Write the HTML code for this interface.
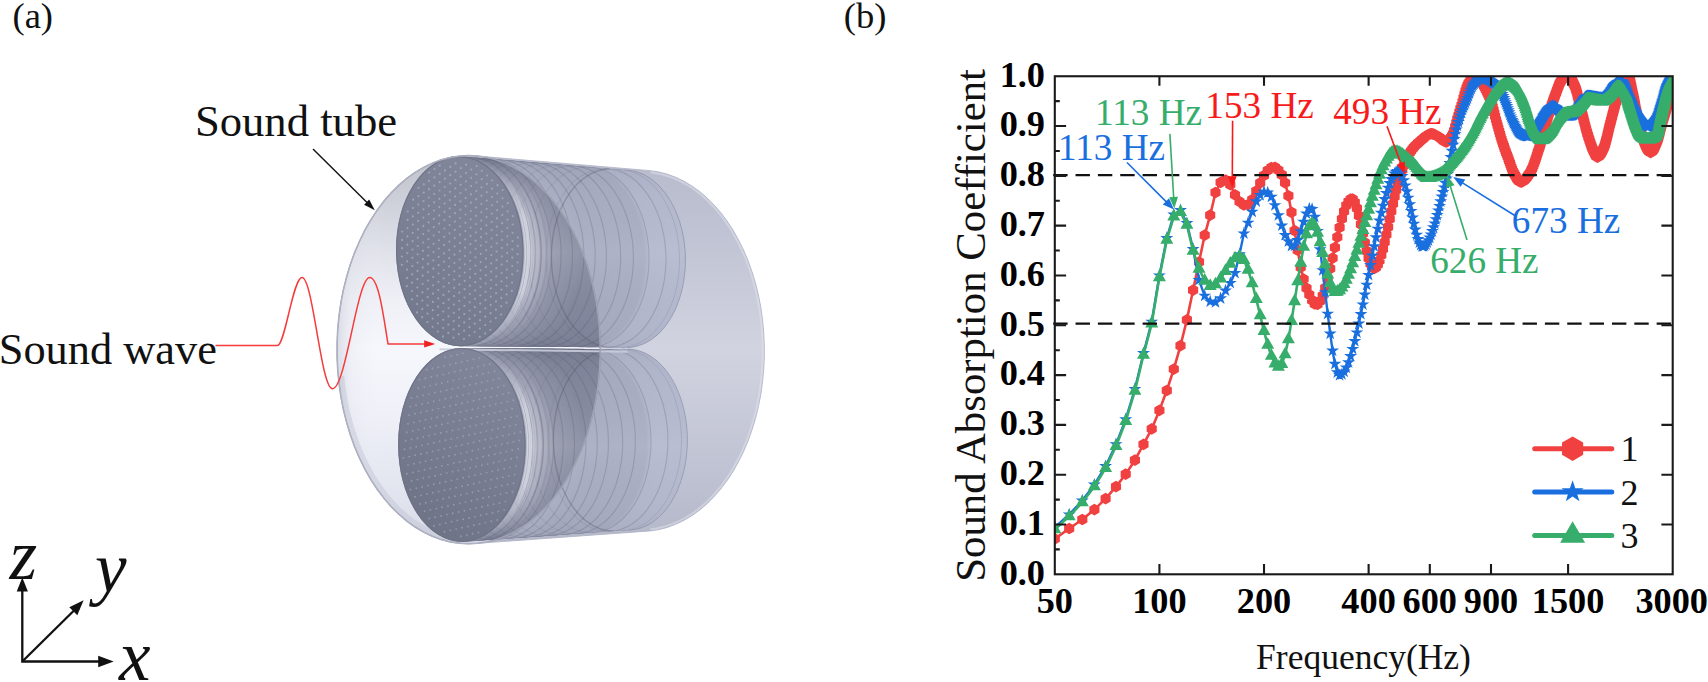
<!DOCTYPE html>
<html lang="en"><head><meta charset="utf-8"><title>Figure</title>
<style>
html,body{margin:0;padding:0;background:#fff;}
body{width:1708px;height:682px;overflow:hidden;}
svg{display:block;}
text{font-family:"Liberation Serif","DejaVu Serif",serif;}
</style></head><body>
<svg width="1708" height="682" viewBox="0 0 1708 682">
<rect width="1708" height="682" fill="#fff"/>
<g id="panel-a">
<defs>
<linearGradient id="gOuter" x1="0" y1="155" x2="0" y2="545" gradientUnits="userSpaceOnUse"><stop offset="0" stop-color="#b7bacb"/><stop offset="0.2" stop-color="#c0c3d3"/><stop offset="0.5" stop-color="#d1d3e0"/><stop offset="0.8" stop-color="#c0c3d3"/><stop offset="1" stop-color="#b4b7c8"/></linearGradient>
<linearGradient id="gCap" x1="0" y1="155" x2="0" y2="545" gradientUnits="userSpaceOnUse"><stop offset="0" stop-color="#bfc1ca"/><stop offset="0.115" stop-color="#cdd0d9"/><stop offset="0.24" stop-color="#dfe1e9"/><stop offset="0.37" stop-color="#eff0f6"/><stop offset="0.5" stop-color="#f6f7fc"/><stop offset="0.63" stop-color="#f1f2f9"/><stop offset="0.755" stop-color="#e9ebf4"/><stop offset="0.885" stop-color="#e1e3ee"/><stop offset="1" stop-color="#d6d8e4"/></linearGradient>
<linearGradient id="gCapX" x1="337" y1="0" x2="385" y2="0" gradientUnits="userSpaceOnUse"><stop offset="0" stop-color="#b9bccb" stop-opacity="0.45"/><stop offset="0.3" stop-color="#d3d6e2" stop-opacity="0.18"/><stop offset="1" stop-color="#ffffff" stop-opacity="0"/></linearGradient>
<linearGradient id="gBody" x1="520" y1="0" x2="690" y2="0" gradientUnits="userSpaceOnUse"><stop offset="0" stop-color="#9498ad"/><stop offset="0.45" stop-color="#9da2b8"/><stop offset="1" stop-color="#a9aec4"/></linearGradient>
<linearGradient id="gBodyVt" x1="0" y1="156" x2="0" y2="348" gradientUnits="userSpaceOnUse"><stop offset="0" stop-color="#454a60" stop-opacity="0.45"/><stop offset="0.07" stop-color="#50556a" stop-opacity="0.25"/><stop offset="0.22" stop-color="#6d7288" stop-opacity="0.06"/><stop offset="0.5" stop-color="#ffffff" stop-opacity="0.10"/><stop offset="0.78" stop-color="#6d7288" stop-opacity="0.06"/><stop offset="0.93" stop-color="#50556a" stop-opacity="0.11"/><stop offset="1" stop-color="#454a60" stop-opacity="0.20"/></linearGradient>
<linearGradient id="gBodyVb" x1="0" y1="348" x2="0" y2="544" gradientUnits="userSpaceOnUse"><stop offset="0" stop-color="#454a60" stop-opacity="0.25"/><stop offset="0.07" stop-color="#50556a" stop-opacity="0.14"/><stop offset="0.22" stop-color="#6d7288" stop-opacity="0.06"/><stop offset="0.5" stop-color="#ffffff" stop-opacity="0.10"/><stop offset="0.78" stop-color="#6d7288" stop-opacity="0.06"/><stop offset="0.93" stop-color="#50556a" stop-opacity="0.23"/><stop offset="1" stop-color="#454a60" stop-opacity="0.42"/></linearGradient>
<linearGradient id="gHit" x1="0" y1="172" x2="0" y2="338" gradientUnits="userSpaceOnUse"><stop offset="0" stop-color="#eef0f8" stop-opacity="0"/><stop offset="0.28" stop-color="#eef0f8" stop-opacity="1"/><stop offset="0.72" stop-color="#eef0f8" stop-opacity="1"/><stop offset="1" stop-color="#eef0f8" stop-opacity="0"/></linearGradient>
<linearGradient id="gHib" x1="0" y1="362" x2="0" y2="532" gradientUnits="userSpaceOnUse"><stop offset="0" stop-color="#eef0f8" stop-opacity="0"/><stop offset="0.28" stop-color="#eef0f8" stop-opacity="1"/><stop offset="0.72" stop-color="#eef0f8" stop-opacity="1"/><stop offset="1" stop-color="#eef0f8" stop-opacity="0"/></linearGradient>
<linearGradient id="gFacet" x1="410" y1="320" x2="510" y2="180" gradientUnits="userSpaceOnUse"><stop offset="0" stop-color="#747a8d"/><stop offset="1" stop-color="#82869b"/></linearGradient>
<linearGradient id="gFaceb" x1="410" y1="520" x2="515" y2="375" gradientUnits="userSpaceOnUse"><stop offset="0" stop-color="#6e7386"/><stop offset="1" stop-color="#82869b"/></linearGradient>
<clipPath id="cFront"><path d="M468.6 155.6L477.8 156.1L486.9 157.5L496.0 159.8L504.9 163.1L513.6 167.3L522.1 172.4L530.4 178.3L538.3 185.1L546.0 192.7L553.2 201.0L560.0 210.1L566.4 219.8L572.3 230.2L577.7 241.2L582.6 252.6L586.9 264.6L590.6 277.0L593.8 289.7L596.3 302.7L598.2 316.0L599.5 329.4L600.1 342.9L600.1 356.5L599.5 370.0L598.2 383.4L596.3 396.7L593.8 409.7L590.6 422.4L586.9 434.8L582.6 446.7L577.7 458.2L572.3 469.2L566.4 479.6L560.0 489.3L553.2 498.4L546.0 506.7L538.3 514.3L530.4 521.1L522.1 527.0L513.6 532.1L504.9 536.3L496.0 539.6L486.9 541.9L477.8 543.3L468.6 543.8L459.4 543.3L450.3 541.9L441.2 539.6L432.3 536.3L423.6 532.1L415.1 527.0L406.8 521.1L398.9 514.3L391.2 506.7L384.0 498.4L377.2 489.3L370.8 479.6L364.9 469.2L359.5 458.2L354.6 446.8L350.3 434.8L346.6 422.4L343.4 409.7L340.9 396.7L339.0 383.4L337.7 370.0L337.1 356.5L337.1 342.9L337.7 329.4L339.0 316.0L340.9 302.7L343.4 289.7L346.6 277.0L350.3 264.6L354.6 252.6L359.5 241.2L364.9 230.2L370.8 219.8L377.2 210.1L384.0 201.0L391.2 192.7L398.9 185.1L406.8 178.3L415.1 172.4L423.6 167.3L432.3 163.1L441.2 159.8L450.3 157.5L459.4 156.1L468.6 155.6Z"/></clipPath>
<clipPath id="cTopFace"><path d="M458.1 156.2L462.6 156.4L467.0 157.0L471.4 158.1L475.8 159.6L480.0 161.6L484.2 164.0L488.2 166.8L492.1 170.1L495.9 173.7L499.5 177.7L502.9 182.1L506.0 186.8L509.0 191.8L511.7 197.2L514.1 202.7L516.3 208.6L518.2 214.6L519.9 220.8L521.2 227.1L522.2 233.6L523.0 240.2L523.4 246.8L523.5 253.4L523.3 260.0L522.8 266.6L522.0 273.1L520.9 279.5L519.5 285.8L517.8 291.8L515.8 297.7L513.5 303.4L511.0 308.8L508.2 313.9L505.2 318.8L502.0 323.2L498.6 327.4L495.0 331.2L491.2 334.5L487.2 337.5L483.1 340.1L478.9 342.2L474.7 343.9L470.3 345.1L465.9 345.9L461.5 346.2L457.0 346.0L452.6 345.4L448.2 344.3L443.8 342.8L439.6 340.8L435.4 338.4L431.4 335.6L427.5 332.3L423.7 328.7L420.1 324.7L416.7 320.3L413.6 315.6L410.6 310.6L407.9 305.2L405.5 299.7L403.3 293.8L401.4 287.8L399.7 281.6L398.4 275.3L397.4 268.8L396.6 262.2L396.2 255.6L396.1 249.0L396.3 242.4L396.8 235.8L397.6 229.3L398.7 222.9L400.1 216.6L401.8 210.6L403.8 204.7L406.1 199.0L408.6 193.6L411.4 188.5L414.4 183.6L417.6 179.2L421.0 175.0L424.6 171.2L428.4 167.9L432.4 164.9L436.5 162.3L440.7 160.2L444.9 158.5L449.3 157.3L453.7 156.5L458.1 156.2Z"/></clipPath>
<clipPath id="cBotFace"><path d="M461.4 348.0L465.8 348.2L470.3 348.9L474.6 350.0L479.0 351.7L483.2 353.7L487.3 356.2L491.4 359.2L495.2 362.5L498.9 366.3L502.5 370.5L505.8 375.0L508.9 379.8L511.8 385.0L514.4 390.4L516.8 396.2L518.9 402.1L520.8 408.3L522.3 414.6L523.6 421.1L524.5 427.7L525.2 434.4L525.5 441.2L525.6 447.9L525.3 454.7L524.7 461.4L523.8 468.0L522.6 474.5L521.2 480.9L519.4 487.1L517.3 493.1L515.0 498.8L512.4 504.3L509.6 509.5L506.5 514.4L503.2 518.9L499.8 523.1L496.1 526.9L492.3 530.3L488.3 533.3L484.2 535.8L479.9 538.0L475.6 539.6L471.3 540.8L466.8 541.5L462.4 541.8L458.0 541.6L453.5 540.9L449.2 539.8L444.8 538.1L440.6 536.1L436.5 533.6L432.4 530.6L428.6 527.3L424.9 523.5L421.3 519.3L418.0 514.8L414.9 510.0L412.0 504.8L409.4 499.4L407.0 493.6L404.9 487.7L403.0 481.5L401.5 475.2L400.2 468.7L399.3 462.1L398.6 455.4L398.3 448.6L398.2 441.9L398.5 435.1L399.1 428.4L400.0 421.8L401.2 415.3L402.6 408.9L404.4 402.7L406.5 396.7L408.8 391.0L411.4 385.5L414.2 380.3L417.3 375.4L420.6 370.9L424.0 366.7L427.7 362.9L431.5 359.5L435.5 356.5L439.6 354.0L443.9 351.8L448.2 350.2L452.5 349.0L457.0 348.3L461.4 348.0Z"/></clipPath>
<clipPath id="cBodyT"><path d="M458.1 156.2L462.6 156.4L628.6 170.3L632.7 170.9L636.8 171.9L640.9 173.3L644.9 175.2L648.7 177.4L652.5 180.1L656.2 183.1L659.7 186.5L663.0 190.3L666.2 194.4L669.1 198.8L671.9 203.4L674.4 208.4L676.7 213.6L678.7 219.0L680.5 224.7L682.0 230.5L683.3 236.4L684.2 242.4L684.9 248.5L685.3 254.7L685.4 260.9L685.3 267.1L684.8 273.2L684.0 279.3L683.0 285.2L681.7 291.1L680.1 296.8L678.2 302.3L676.1 307.5L673.8 312.6L671.2 317.4L668.4 321.9L665.4 326.1L662.2 329.9L658.8 333.5L655.3 336.6L651.6 339.4L647.8 341.8L643.9 343.8L639.9 345.3L635.8 346.5L631.7 347.2L627.5 347.5L461.5 346.2L457.0 346.0L452.6 345.4L448.2 344.3L443.8 342.8L439.6 340.8L435.4 338.4L431.4 335.6L427.5 332.3L423.7 328.7L420.1 324.7L416.7 320.3L413.6 315.6L410.6 310.6L407.9 305.2L405.5 299.7L403.3 293.8L401.4 287.8L399.7 281.6L398.4 275.3L397.4 268.8L396.6 262.2L396.2 255.6L396.1 249.0L396.3 242.4L396.8 235.8L397.6 229.3L398.7 222.9L400.1 216.6L401.8 210.6L403.8 204.7L406.1 199.0L408.6 193.6L411.4 188.5L414.4 183.6L417.6 179.2L421.0 175.0L424.6 171.2L428.4 167.9L432.4 164.9L436.5 162.3L440.7 160.2L444.9 158.5L449.3 157.3L453.7 156.5Z"/></clipPath>
<clipPath id="cBodyB"><path d="M461.4 348.0L627.5 349.2L631.6 349.4L635.7 350.0L639.8 351.1L643.9 352.6L647.8 354.5L651.7 356.9L655.4 359.6L659.0 362.7L662.5 366.3L665.8 370.1L668.9 374.3L671.8 378.9L674.5 383.7L677.0 388.8L679.2 394.1L681.2 399.7L682.9 405.4L684.3 411.3L685.5 417.4L686.4 423.6L687.0 429.8L687.3 436.1L687.4 442.4L687.1 448.7L686.6 455.0L685.7 461.2L684.6 467.2L683.2 473.2L681.6 478.9L679.7 484.5L677.5 489.9L675.1 495.0L672.4 499.9L669.6 504.4L666.5 508.7L663.3 512.6L659.8 516.1L656.3 519.3L652.6 522.1L648.7 524.4L644.8 526.4L640.8 528.0L636.7 529.1L632.6 529.8L466.8 541.5L462.4 541.8L458.0 541.6L453.5 540.9L449.2 539.8L444.8 538.1L440.6 536.1L436.5 533.6L432.4 530.6L428.6 527.3L424.9 523.5L421.3 519.3L418.0 514.8L414.9 510.0L412.0 504.8L409.4 499.4L407.0 493.6L404.9 487.7L403.0 481.5L401.5 475.2L400.2 468.7L399.3 462.1L398.6 455.4L398.3 448.6L398.2 441.9L398.5 435.1L399.1 428.4L400.0 421.8L401.2 415.3L402.6 408.9L404.4 402.7L406.5 396.7L408.8 391.0L411.4 385.5L414.2 380.3L417.3 375.4L420.6 370.9L424.0 366.7L427.7 362.9L431.5 359.5L435.5 356.5L439.6 354.0L443.9 351.8L448.2 350.2L452.5 349.0L457.0 348.3Z"/></clipPath>
<clipPath id="cBodies"><path d="M458.1 156.2L462.6 156.4L628.6 170.3L632.7 170.9L636.8 171.9L640.9 173.3L644.9 175.2L648.7 177.4L652.5 180.1L656.2 183.1L659.7 186.5L663.0 190.3L666.2 194.4L669.1 198.8L671.9 203.4L674.4 208.4L676.7 213.6L678.7 219.0L680.5 224.7L682.0 230.5L683.3 236.4L684.2 242.4L684.9 248.5L685.3 254.7L685.4 260.9L685.3 267.1L684.8 273.2L684.0 279.3L683.0 285.2L681.7 291.1L680.1 296.8L678.2 302.3L676.1 307.5L673.8 312.6L671.2 317.4L668.4 321.9L665.4 326.1L662.2 329.9L658.8 333.5L655.3 336.6L651.6 339.4L647.8 341.8L643.9 343.8L639.9 345.3L635.8 346.5L631.7 347.2L627.5 347.5L461.5 346.2L457.0 346.0L452.6 345.4L448.2 344.3L443.8 342.8L439.6 340.8L435.4 338.4L431.4 335.6L427.5 332.3L423.7 328.7L420.1 324.7L416.7 320.3L413.6 315.6L410.6 310.6L407.9 305.2L405.5 299.7L403.3 293.8L401.4 287.8L399.7 281.6L398.4 275.3L397.4 268.8L396.6 262.2L396.2 255.6L396.1 249.0L396.3 242.4L396.8 235.8L397.6 229.3L398.7 222.9L400.1 216.6L401.8 210.6L403.8 204.7L406.1 199.0L408.6 193.6L411.4 188.5L414.4 183.6L417.6 179.2L421.0 175.0L424.6 171.2L428.4 167.9L432.4 164.9L436.5 162.3L440.7 160.2L444.9 158.5L449.3 157.3L453.7 156.5Z"/><path d="M461.4 348.0L627.5 349.2L631.6 349.4L635.7 350.0L639.8 351.1L643.9 352.6L647.8 354.5L651.7 356.9L655.4 359.6L659.0 362.7L662.5 366.3L665.8 370.1L668.9 374.3L671.8 378.9L674.5 383.7L677.0 388.8L679.2 394.1L681.2 399.7L682.9 405.4L684.3 411.3L685.5 417.4L686.4 423.6L687.0 429.8L687.3 436.1L687.4 442.4L687.1 448.7L686.6 455.0L685.7 461.2L684.6 467.2L683.2 473.2L681.6 478.9L679.7 484.5L677.5 489.9L675.1 495.0L672.4 499.9L669.6 504.4L666.5 508.7L663.3 512.6L659.8 516.1L656.3 519.3L652.6 522.1L648.7 524.4L644.8 526.4L640.8 528.0L636.7 529.1L632.6 529.8L466.8 541.5L462.4 541.8L458.0 541.6L453.5 540.9L449.2 539.8L444.8 538.1L440.6 536.1L436.5 533.6L432.4 530.6L428.6 527.3L424.9 523.5L421.3 519.3L418.0 514.8L414.9 510.0L412.0 504.8L409.4 499.4L407.0 493.6L404.9 487.7L403.0 481.5L401.5 475.2L400.2 468.7L399.3 462.1L398.6 455.4L398.3 448.6L398.2 441.9L398.5 435.1L399.1 428.4L400.0 421.8L401.2 415.3L402.6 408.9L404.4 402.7L406.5 396.7L408.8 391.0L411.4 385.5L414.2 380.3L417.3 375.4L420.6 370.9L424.0 366.7L427.7 362.9L431.5 359.5L435.5 356.5L439.6 354.0L443.9 351.8L448.2 350.2L452.5 349.0L457.0 348.3Z"/></clipPath>
</defs>
<path d="M477.8 543.3L468.6 543.8L459.4 543.3L450.3 541.9L441.2 539.6L432.3 536.3L423.6 532.1L415.1 527.0L406.8 521.1L398.9 514.3L391.2 506.7L384.0 498.4L377.2 489.3L370.8 479.6L364.9 469.2L359.5 458.2L354.6 446.8L350.3 434.8L346.6 422.4L343.4 409.7L340.9 396.7L339.0 383.4L337.7 370.0L337.1 356.5L337.1 342.9L337.7 329.4L339.0 316.0L340.9 302.7L343.4 289.7L346.6 277.0L350.3 264.6L354.6 252.6L359.5 241.2L364.9 230.2L370.8 219.8L377.2 210.1L384.0 201.0L391.2 192.7L398.9 185.1L406.8 178.3L415.1 172.4L423.6 167.3L432.3 163.1L441.2 159.8L450.3 157.5L459.4 156.1L468.6 155.6L477.8 156.1L650.5 170.7L659.0 172.0L667.4 174.2L675.7 177.3L683.9 181.2L691.8 185.9L699.5 191.4L706.9 197.7L713.9 204.8L720.7 212.5L727.0 220.9L733.0 230.0L738.4 239.7L743.5 249.9L748.0 260.5L752.0 271.7L755.5 283.2L758.4 295.0L760.8 307.1L762.5 319.5L763.7 331.9L764.3 344.5L764.3 357.1L763.7 369.7L762.5 382.1L760.8 394.5L758.4 406.6L755.5 418.4L752.0 429.9L748.0 441.1L743.5 451.7L738.4 461.9L733.0 471.6L727.0 480.7L720.7 489.1L713.9 496.8L706.9 503.9L699.5 510.2L691.8 515.7L683.9 520.4L675.7 524.3L667.4 527.4L659.0 529.6L650.5 530.9Z" fill="url(#gOuter)"/>
<path d="M468.6 155.6L477.8 156.1L486.9 157.5L496.0 159.8L504.9 163.1L513.6 167.3L522.1 172.4L530.4 178.3L538.3 185.1L546.0 192.7L553.2 201.0L560.0 210.1L566.4 219.8L572.3 230.2L577.7 241.2L582.6 252.6L586.9 264.6L590.6 277.0L593.8 289.7L596.3 302.7L598.2 316.0L599.5 329.4L600.1 342.9L600.1 356.5L599.5 370.0L598.2 383.4L596.3 396.7L593.8 409.7L590.6 422.4L586.9 434.8L582.6 446.7L577.7 458.2L572.3 469.2L566.4 479.6L560.0 489.3L553.2 498.4L546.0 506.7L538.3 514.3L530.4 521.1L522.1 527.0L513.6 532.1L504.9 536.3L496.0 539.6L486.9 541.9L477.8 543.3L468.6 543.8L459.4 543.3L450.3 541.9L441.2 539.6L432.3 536.3L423.6 532.1L415.1 527.0L406.8 521.1L398.9 514.3L391.2 506.7L384.0 498.4L377.2 489.3L370.8 479.6L364.9 469.2L359.5 458.2L354.6 446.8L350.3 434.8L346.6 422.4L343.4 409.7L340.9 396.7L339.0 383.4L337.7 370.0L337.1 356.5L337.1 342.9L337.7 329.4L339.0 316.0L340.9 302.7L343.4 289.7L346.6 277.0L350.3 264.6L354.6 252.6L359.5 241.2L364.9 230.2L370.8 219.8L377.2 210.1L384.0 201.0L391.2 192.7L398.9 185.1L406.8 178.3L415.1 172.4L423.6 167.3L432.3 163.1L441.2 159.8L450.3 157.5L459.4 156.1L468.6 155.6Z" fill="url(#gCap)"/>
<path d="M468.6 155.6L477.8 156.1L486.9 157.5L496.0 159.8L504.9 163.1L513.6 167.3L522.1 172.4L530.4 178.3L538.3 185.1L546.0 192.7L553.2 201.0L560.0 210.1L566.4 219.8L572.3 230.2L577.7 241.2L582.6 252.6L586.9 264.6L590.6 277.0L593.8 289.7L596.3 302.7L598.2 316.0L599.5 329.4L600.1 342.9L600.1 356.5L599.5 370.0L598.2 383.4L596.3 396.7L593.8 409.7L590.6 422.4L586.9 434.8L582.6 446.7L577.7 458.2L572.3 469.2L566.4 479.6L560.0 489.3L553.2 498.4L546.0 506.7L538.3 514.3L530.4 521.1L522.1 527.0L513.6 532.1L504.9 536.3L496.0 539.6L486.9 541.9L477.8 543.3L468.6 543.8L459.4 543.3L450.3 541.9L441.2 539.6L432.3 536.3L423.6 532.1L415.1 527.0L406.8 521.1L398.9 514.3L391.2 506.7L384.0 498.4L377.2 489.3L370.8 479.6L364.9 469.2L359.5 458.2L354.6 446.8L350.3 434.8L346.6 422.4L343.4 409.7L340.9 396.7L339.0 383.4L337.7 370.0L337.1 356.5L337.1 342.9L337.7 329.4L339.0 316.0L340.9 302.7L343.4 289.7L346.6 277.0L350.3 264.6L354.6 252.6L359.5 241.2L364.9 230.2L370.8 219.8L377.2 210.1L384.0 201.0L391.2 192.7L398.9 185.1L406.8 178.3L415.1 172.4L423.6 167.3L432.3 163.1L441.2 159.8L450.3 157.5L459.4 156.1L468.6 155.6Z" fill="url(#gCapX)"/>
<path d="M461.9 540.5L458.3 540.2L454.8 539.7L451.3 539.1L447.8 538.3L444.3 537.4L440.8 536.3L437.4 535.1L433.9 533.7L430.5 532.2L427.2 530.6L423.8 528.8L420.5 526.9L417.2 524.9L414.0 522.7L410.8 520.4L407.7 518.0L404.6 515.4L401.5 512.7L398.5 509.9L395.6 507.0L392.7 503.9L389.9 500.8L387.1 497.5L384.4 494.1L381.7 490.6L379.1 487.0L376.6 483.3L374.2 479.4L371.8 475.5L369.5 471.5L367.3 467.4L365.1 463.2L363.1 458.9L361.1 454.6L359.2 450.1L357.4 445.6L355.6 441.0L354.0 436.3L352.4 431.6L350.9 426.8L349.6 422.0L348.3 417.1L347.1 412.1L345.9 407.1L344.9 402.1L344.0 397.0L343.2 391.8L342.4 386.7L341.8 381.5L341.3 376.3" fill="none" stroke="#b9bccd" stroke-opacity="0.38" stroke-width="6" clip-path="url(#cFront)"/>
<g>
<ellipse cx="626.0" cy="258.8" rx="59.4" ry="88.6" transform="rotate(-1.00 626.0 258.8)" fill="#9fa3ba"/>
<ellipse cx="624.3" cy="258.8" rx="59.5" ry="88.7" transform="rotate(-1.00 624.3 258.8)" fill="#9fa3ba"/>
<ellipse cx="622.5" cy="258.7" rx="59.5" ry="88.8" transform="rotate(-1.00 622.5 258.7)" fill="#9fa3ba"/>
<ellipse cx="620.8" cy="258.6" rx="59.6" ry="88.8" transform="rotate(-1.00 620.8 258.6)" fill="#9fa3ba"/>
<ellipse cx="619.1" cy="258.5" rx="59.6" ry="88.9" transform="rotate(-1.00 619.1 258.5)" fill="#9fa3ba"/>
<ellipse cx="617.3" cy="258.4" rx="59.7" ry="89.0" transform="rotate(-1.00 617.3 258.4)" fill="#9fa3ba"/>
<ellipse cx="615.6" cy="258.4" rx="59.7" ry="89.0" transform="rotate(-1.00 615.6 258.4)" fill="#9fa3ba"/>
<ellipse cx="613.9" cy="258.3" rx="59.8" ry="89.1" transform="rotate(-1.00 613.9 258.3)" fill="#9fa3ba"/>
<ellipse cx="612.1" cy="258.2" rx="59.8" ry="89.2" transform="rotate(-1.00 612.1 258.2)" fill="#9fa3ba"/>
<ellipse cx="610.4" cy="258.1" rx="59.8" ry="89.2" transform="rotate(-1.00 610.4 258.1)" fill="#9ea2b9"/>
<ellipse cx="608.7" cy="258.0" rx="59.9" ry="89.3" transform="rotate(-1.00 608.7 258.0)" fill="#9ea2b9"/>
<ellipse cx="606.9" cy="258.0" rx="59.9" ry="89.4" transform="rotate(-1.00 606.9 258.0)" fill="#9ea2b9"/>
<ellipse cx="605.2" cy="257.9" rx="60.0" ry="89.4" transform="rotate(-1.00 605.2 257.9)" fill="#9ea2b9"/>
<ellipse cx="603.5" cy="257.8" rx="60.0" ry="89.5" transform="rotate(-1.00 603.5 257.8)" fill="#9ea2b9"/>
<ellipse cx="601.7" cy="257.7" rx="60.1" ry="89.6" transform="rotate(-1.00 601.7 257.7)" fill="#9ea2b9"/>
<ellipse cx="600.0" cy="257.6" rx="60.1" ry="89.6" transform="rotate(-1.00 600.0 257.6)" fill="#9ea2b9"/>
<ellipse cx="598.3" cy="257.6" rx="60.2" ry="89.7" transform="rotate(-1.00 598.3 257.6)" fill="#9ea2b9"/>
<ellipse cx="596.6" cy="257.5" rx="60.2" ry="89.8" transform="rotate(-1.00 596.6 257.5)" fill="#9da1b8"/>
<ellipse cx="594.8" cy="257.4" rx="60.2" ry="89.8" transform="rotate(-1.00 594.8 257.4)" fill="#9da1b8"/>
<ellipse cx="593.1" cy="257.3" rx="60.3" ry="89.9" transform="rotate(-1.00 593.1 257.3)" fill="#9da1b8"/>
<ellipse cx="591.4" cy="257.2" rx="60.3" ry="90.0" transform="rotate(-1.00 591.4 257.2)" fill="#9da1b8"/>
<ellipse cx="589.6" cy="257.2" rx="60.4" ry="90.0" transform="rotate(-1.00 589.6 257.2)" fill="#9da1b8"/>
<ellipse cx="587.9" cy="257.1" rx="60.4" ry="90.1" transform="rotate(-1.00 587.9 257.1)" fill="#9599b0"/>
<ellipse cx="586.2" cy="257.0" rx="60.5" ry="90.2" transform="rotate(-1.00 586.2 257.0)" fill="#8b90a6"/>
<ellipse cx="584.4" cy="256.9" rx="60.5" ry="90.2" transform="rotate(-1.00 584.4 256.9)" fill="#858aa0"/>
<ellipse cx="582.7" cy="256.8" rx="60.6" ry="90.3" transform="rotate(-1.00 582.7 256.8)" fill="#858aa0"/>
<ellipse cx="581.0" cy="256.8" rx="60.6" ry="90.4" transform="rotate(-1.00 581.0 256.8)" fill="#858aa0"/>
<ellipse cx="579.2" cy="256.7" rx="60.6" ry="90.4" transform="rotate(-1.00 579.2 256.7)" fill="#858aa0"/>
<ellipse cx="577.5" cy="256.6" rx="60.7" ry="90.5" transform="rotate(-1.00 577.5 256.6)" fill="#858aa0"/>
<ellipse cx="575.8" cy="256.5" rx="60.7" ry="90.6" transform="rotate(-1.00 575.8 256.5)" fill="#858aa0"/>
<ellipse cx="574.1" cy="256.4" rx="60.8" ry="90.6" transform="rotate(-1.00 574.1 256.4)" fill="#858aa0"/>
<ellipse cx="572.3" cy="256.4" rx="60.8" ry="90.7" transform="rotate(-1.00 572.3 256.4)" fill="#858aa0"/>
<ellipse cx="570.6" cy="256.3" rx="60.9" ry="90.8" transform="rotate(-1.00 570.6 256.3)" fill="#858aa0"/>
<ellipse cx="568.9" cy="256.2" rx="60.9" ry="90.8" transform="rotate(-1.00 568.9 256.2)" fill="#858a9f"/>
<ellipse cx="567.1" cy="256.1" rx="60.9" ry="90.9" transform="rotate(-1.00 567.1 256.1)" fill="#858a9f"/>
<ellipse cx="565.4" cy="256.1" rx="61.0" ry="91.0" transform="rotate(-1.00 565.4 256.1)" fill="#858a9f"/>
<ellipse cx="563.7" cy="256.0" rx="61.0" ry="91.0" transform="rotate(-1.00 563.7 256.0)" fill="#858a9f"/>
<ellipse cx="561.9" cy="255.9" rx="61.1" ry="91.1" transform="rotate(-1.00 561.9 255.9)" fill="#858a9f"/>
<ellipse cx="560.2" cy="255.8" rx="61.1" ry="91.2" transform="rotate(-1.00 560.2 255.8)" fill="#858a9f"/>
<ellipse cx="558.5" cy="255.7" rx="61.2" ry="91.2" transform="rotate(-1.00 558.5 255.7)" fill="#858a9f"/>
<ellipse cx="556.7" cy="255.7" rx="61.2" ry="91.3" transform="rotate(-1.00 556.7 255.7)" fill="#858a9f"/>
<ellipse cx="555.0" cy="255.6" rx="61.3" ry="91.4" transform="rotate(-1.00 555.0 255.6)" fill="#858a9f"/>
<ellipse cx="553.3" cy="255.5" rx="61.3" ry="91.4" transform="rotate(-1.00 553.3 255.5)" fill="#858a9f"/>
<ellipse cx="551.5" cy="255.4" rx="61.3" ry="91.5" transform="rotate(-1.00 551.5 255.4)" fill="#84899f"/>
<ellipse cx="549.8" cy="255.3" rx="61.4" ry="91.6" transform="rotate(-1.00 549.8 255.3)" fill="#84899f"/>
<ellipse cx="548.1" cy="255.3" rx="61.4" ry="91.6" transform="rotate(-1.00 548.1 255.3)" fill="#84899f"/>
<ellipse cx="546.4" cy="255.2" rx="61.5" ry="91.7" transform="rotate(-1.00 546.4 255.2)" fill="#84899f"/>
<ellipse cx="544.6" cy="255.1" rx="61.5" ry="91.8" transform="rotate(-1.00 544.6 255.1)" fill="#84899f"/>
<ellipse cx="542.9" cy="255.0" rx="61.6" ry="91.8" transform="rotate(-1.00 542.9 255.0)" fill="#84899f"/>
<ellipse cx="541.2" cy="254.9" rx="61.6" ry="91.9" transform="rotate(-1.00 541.2 254.9)" fill="#84899f"/>
<ellipse cx="539.4" cy="254.9" rx="61.7" ry="92.0" transform="rotate(-1.00 539.4 254.9)" fill="#84899f"/>
<ellipse cx="537.7" cy="254.8" rx="61.7" ry="92.0" transform="rotate(-1.00 537.7 254.8)" fill="#84899f"/>
<ellipse cx="536.0" cy="254.7" rx="61.7" ry="92.1" transform="rotate(-1.00 536.0 254.7)" fill="#84899e"/>
<ellipse cx="534.2" cy="254.6" rx="61.8" ry="92.2" transform="rotate(-1.00 534.2 254.6)" fill="#84899e"/>
<ellipse cx="532.5" cy="254.5" rx="61.8" ry="92.2" transform="rotate(-1.00 532.5 254.5)" fill="#84899e"/>
<ellipse cx="530.8" cy="254.5" rx="61.9" ry="92.3" transform="rotate(-1.00 530.8 254.5)" fill="#84899e"/>
<ellipse cx="529.0" cy="254.4" rx="61.9" ry="92.4" transform="rotate(-1.00 529.0 254.4)" fill="#84899e"/>
<ellipse cx="527.3" cy="254.3" rx="62.0" ry="92.4" transform="rotate(-1.00 527.3 254.3)" fill="#84899e"/>
<ellipse cx="525.6" cy="254.2" rx="62.0" ry="92.5" transform="rotate(-1.00 525.6 254.2)" fill="#84899e"/>
<ellipse cx="523.9" cy="254.1" rx="62.1" ry="92.6" transform="rotate(-1.00 523.9 254.1)" fill="#84899e"/>
<ellipse cx="522.1" cy="254.1" rx="62.1" ry="92.6" transform="rotate(-1.00 522.1 254.1)" fill="#84899e"/>
<ellipse cx="520.4" cy="254.0" rx="62.1" ry="92.7" transform="rotate(-1.00 520.4 254.0)" fill="#84899e"/>
<ellipse cx="518.7" cy="253.9" rx="62.2" ry="92.8" transform="rotate(-1.00 518.7 253.9)" fill="#858a9f"/>
<ellipse cx="516.9" cy="253.8" rx="62.2" ry="92.8" transform="rotate(-1.00 516.9 253.8)" fill="#868ba0"/>
<ellipse cx="515.2" cy="253.7" rx="62.3" ry="92.9" transform="rotate(-1.00 515.2 253.7)" fill="#878ca0"/>
<ellipse cx="513.5" cy="253.7" rx="62.3" ry="92.9" transform="rotate(-1.00 513.5 253.7)" fill="#888ca1"/>
<ellipse cx="511.7" cy="253.6" rx="62.4" ry="93.0" transform="rotate(-1.00 511.7 253.6)" fill="#898da2"/>
<ellipse cx="510.0" cy="253.5" rx="62.4" ry="93.1" transform="rotate(-1.00 510.0 253.5)" fill="#8a8ea2"/>
<ellipse cx="508.3" cy="253.4" rx="62.5" ry="93.1" transform="rotate(-1.00 508.3 253.4)" fill="#8a8fa3"/>
<ellipse cx="506.5" cy="253.3" rx="62.5" ry="93.2" transform="rotate(-1.00 506.5 253.3)" fill="#8b90a4"/>
<ellipse cx="504.8" cy="253.3" rx="62.5" ry="93.3" transform="rotate(-1.00 504.8 253.3)" fill="#8c90a4"/>
<ellipse cx="503.1" cy="253.2" rx="62.6" ry="93.3" transform="rotate(-1.00 503.1 253.2)" fill="#8d91a5"/>
<ellipse cx="501.3" cy="253.1" rx="62.6" ry="93.4" transform="rotate(-1.00 501.3 253.1)" fill="#8e92a6"/>
<ellipse cx="499.6" cy="253.0" rx="62.7" ry="93.5" transform="rotate(-1.00 499.6 253.0)" fill="#8e92a6"/>
<ellipse cx="497.9" cy="252.9" rx="62.7" ry="93.5" transform="rotate(-1.00 497.9 252.9)" fill="#8f93a7"/>
<ellipse cx="496.2" cy="252.9" rx="62.8" ry="93.6" transform="rotate(-1.00 496.2 252.9)" fill="#9093a7"/>
<ellipse cx="494.4" cy="252.8" rx="62.8" ry="93.7" transform="rotate(-1.00 494.4 252.8)" fill="#9194a8"/>
<ellipse cx="492.7" cy="252.7" rx="62.9" ry="93.7" transform="rotate(-1.00 492.7 252.7)" fill="#9195a8"/>
<ellipse cx="491.0" cy="252.6" rx="62.9" ry="93.8" transform="rotate(-1.00 491.0 252.6)" fill="#9295a9"/>
<ellipse cx="489.2" cy="252.6" rx="62.9" ry="93.9" transform="rotate(-1.00 489.2 252.6)" fill="#9396a9"/>
<ellipse cx="487.5" cy="252.5" rx="63.0" ry="93.9" transform="rotate(-1.00 487.5 252.5)" fill="#9396aa"/>
<ellipse cx="485.8" cy="252.4" rx="63.0" ry="94.0" transform="rotate(-1.00 485.8 252.4)" fill="#9497aa"/>
<ellipse cx="484.0" cy="252.3" rx="63.1" ry="94.1" transform="rotate(-1.00 484.0 252.3)" fill="#9598ab"/>
<ellipse cx="482.3" cy="252.2" rx="63.1" ry="94.1" transform="rotate(-1.00 482.3 252.2)" fill="#9699ac"/>
<ellipse cx="480.6" cy="252.2" rx="63.2" ry="94.2" transform="rotate(-1.00 480.6 252.2)" fill="#979aad"/>
<ellipse cx="478.8" cy="252.1" rx="63.2" ry="94.3" transform="rotate(-1.00 478.8 252.1)" fill="#989bae"/>
<ellipse cx="477.1" cy="252.0" rx="63.3" ry="94.3" transform="rotate(-1.00 477.1 252.0)" fill="#999caf"/>
<ellipse cx="475.4" cy="251.9" rx="63.3" ry="94.4" transform="rotate(-1.00 475.4 251.9)" fill="#9a9db0"/>
<ellipse cx="473.6" cy="251.8" rx="63.3" ry="94.5" transform="rotate(-1.00 473.6 251.8)" fill="#9b9eb1"/>
<ellipse cx="471.9" cy="251.8" rx="63.4" ry="94.5" transform="rotate(-1.00 471.9 251.8)" fill="#9c9fb2"/>
<ellipse cx="470.2" cy="251.7" rx="63.4" ry="94.6" transform="rotate(-1.00 470.2 251.7)" fill="#9fa2b4"/>
<ellipse cx="468.5" cy="251.6" rx="63.5" ry="94.7" transform="rotate(-1.00 468.5 251.6)" fill="#a1a4b7"/>
<ellipse cx="466.7" cy="251.5" rx="63.5" ry="94.7" transform="rotate(-1.00 466.7 251.5)" fill="#a4a7b9"/>
<ellipse cx="465.0" cy="251.4" rx="63.6" ry="94.8" transform="rotate(-1.00 465.0 251.4)" fill="#a6a9bb"/>
<ellipse cx="463.3" cy="251.4" rx="63.6" ry="94.9" transform="rotate(-1.00 463.3 251.4)" fill="#a9acbe"/>
<ellipse cx="461.5" cy="251.3" rx="63.7" ry="94.9" transform="rotate(-1.00 461.5 251.3)" fill="#adb0c1"/>
<ellipse cx="459.8" cy="251.2" rx="63.7" ry="95.0" transform="rotate(-1.00 459.8 251.2)" fill="#b0b3c4"/>
</g>
<path d="M458.1 156.2L462.6 156.4L628.6 170.3L632.7 170.9L636.8 171.9L640.9 173.3L644.9 175.2L648.7 177.4L652.5 180.1L656.2 183.1L659.7 186.5L663.0 190.3L666.2 194.4L669.1 198.8L671.9 203.4L674.4 208.4L676.7 213.6L678.7 219.0L680.5 224.7L682.0 230.5L683.3 236.4L684.2 242.4L684.9 248.5L685.3 254.7L685.4 260.9L685.3 267.1L684.8 273.2L684.0 279.3L683.0 285.2L681.7 291.1L680.1 296.8L678.2 302.3L676.1 307.5L673.8 312.6L671.2 317.4L668.4 321.9L665.4 326.1L662.2 329.9L658.8 333.5L655.3 336.6L651.6 339.4L647.8 341.8L643.9 343.8L639.9 345.3L635.8 346.5L631.7 347.2L627.5 347.5L461.5 346.2L457.0 346.0L452.6 345.4L448.2 344.3L443.8 342.8L439.6 340.8L435.4 338.4L431.4 335.6L427.5 332.3L423.7 328.7L420.1 324.7L416.7 320.3L413.6 315.6L410.6 310.6L407.9 305.2L405.5 299.7L403.3 293.8L401.4 287.8L399.7 281.6L398.4 275.3L397.4 268.8L396.6 262.2L396.2 255.6L396.1 249.0L396.3 242.4L396.8 235.8L397.6 229.3L398.7 222.9L400.1 216.6L401.8 210.6L403.8 204.7L406.1 199.0L408.6 193.6L411.4 188.5L414.4 183.6L417.6 179.2L421.0 175.0L424.6 171.2L428.4 167.9L432.4 164.9L436.5 162.3L440.7 160.2L444.9 158.5L449.3 157.3L453.7 156.5Z" fill="url(#gBodyVt)"/>
<g>
<ellipse cx="627.9" cy="439.6" rx="59.4" ry="90.4" transform="rotate(-0.30 627.9 439.6)" fill="#9fa3ba"/>
<ellipse cx="626.2" cy="439.6" rx="59.5" ry="90.5" transform="rotate(-0.30 626.2 439.6)" fill="#9fa3ba"/>
<ellipse cx="624.5" cy="439.7" rx="59.5" ry="90.6" transform="rotate(-0.30 624.5 439.7)" fill="#9fa3ba"/>
<ellipse cx="622.8" cy="439.8" rx="59.6" ry="90.6" transform="rotate(-0.30 622.8 439.8)" fill="#9fa3ba"/>
<ellipse cx="621.0" cy="439.8" rx="59.6" ry="90.7" transform="rotate(-0.30 621.0 439.8)" fill="#9fa3ba"/>
<ellipse cx="619.3" cy="439.9" rx="59.7" ry="90.8" transform="rotate(-0.30 619.3 439.9)" fill="#9fa3ba"/>
<ellipse cx="617.6" cy="439.9" rx="59.7" ry="90.8" transform="rotate(-0.30 617.6 439.9)" fill="#9fa3ba"/>
<ellipse cx="615.8" cy="440.0" rx="59.8" ry="90.9" transform="rotate(-0.30 615.8 440.0)" fill="#9fa3ba"/>
<ellipse cx="614.1" cy="440.0" rx="59.8" ry="91.0" transform="rotate(-0.30 614.1 440.0)" fill="#9fa3ba"/>
<ellipse cx="612.4" cy="440.1" rx="59.8" ry="91.0" transform="rotate(-0.30 612.4 440.1)" fill="#9ea2b9"/>
<ellipse cx="610.6" cy="440.1" rx="59.9" ry="91.1" transform="rotate(-0.30 610.6 440.1)" fill="#9ea2b9"/>
<ellipse cx="608.9" cy="440.2" rx="59.9" ry="91.2" transform="rotate(-0.30 608.9 440.2)" fill="#9ea2b9"/>
<ellipse cx="607.2" cy="440.3" rx="60.0" ry="91.2" transform="rotate(-0.30 607.2 440.3)" fill="#9ea2b9"/>
<ellipse cx="605.5" cy="440.3" rx="60.0" ry="91.3" transform="rotate(-0.30 605.5 440.3)" fill="#9ea2b9"/>
<ellipse cx="603.7" cy="440.4" rx="60.1" ry="91.4" transform="rotate(-0.30 603.7 440.4)" fill="#9ea2b9"/>
<ellipse cx="602.0" cy="440.4" rx="60.1" ry="91.4" transform="rotate(-0.30 602.0 440.4)" fill="#9ea2b9"/>
<ellipse cx="600.3" cy="440.5" rx="60.2" ry="91.5" transform="rotate(-0.30 600.3 440.5)" fill="#9ea2b9"/>
<ellipse cx="598.5" cy="440.5" rx="60.2" ry="91.6" transform="rotate(-0.30 598.5 440.5)" fill="#9da1b8"/>
<ellipse cx="596.8" cy="440.6" rx="60.2" ry="91.6" transform="rotate(-0.30 596.8 440.6)" fill="#9da1b8"/>
<ellipse cx="595.1" cy="440.6" rx="60.3" ry="91.7" transform="rotate(-0.30 595.1 440.6)" fill="#9da1b8"/>
<ellipse cx="593.4" cy="440.7" rx="60.3" ry="91.8" transform="rotate(-0.30 593.4 440.7)" fill="#9da1b8"/>
<ellipse cx="591.6" cy="440.7" rx="60.4" ry="91.8" transform="rotate(-0.30 591.6 440.7)" fill="#9da1b8"/>
<ellipse cx="589.9" cy="440.8" rx="60.4" ry="91.9" transform="rotate(-0.30 589.9 440.8)" fill="#9599b0"/>
<ellipse cx="588.2" cy="440.9" rx="60.5" ry="92.0" transform="rotate(-0.30 588.2 440.9)" fill="#8b90a6"/>
<ellipse cx="586.4" cy="440.9" rx="60.5" ry="92.0" transform="rotate(-0.30 586.4 440.9)" fill="#858aa0"/>
<ellipse cx="584.7" cy="441.0" rx="60.6" ry="92.1" transform="rotate(-0.30 584.7 441.0)" fill="#858aa0"/>
<ellipse cx="583.0" cy="441.0" rx="60.6" ry="92.2" transform="rotate(-0.30 583.0 441.0)" fill="#858aa0"/>
<ellipse cx="581.2" cy="441.1" rx="60.6" ry="92.2" transform="rotate(-0.30 581.2 441.1)" fill="#858aa0"/>
<ellipse cx="579.5" cy="441.1" rx="60.7" ry="92.3" transform="rotate(-0.30 579.5 441.1)" fill="#858aa0"/>
<ellipse cx="577.8" cy="441.2" rx="60.7" ry="92.4" transform="rotate(-0.30 577.8 441.2)" fill="#858aa0"/>
<ellipse cx="576.1" cy="441.2" rx="60.8" ry="92.4" transform="rotate(-0.30 576.1 441.2)" fill="#858aa0"/>
<ellipse cx="574.3" cy="441.3" rx="60.8" ry="92.5" transform="rotate(-0.30 574.3 441.3)" fill="#858aa0"/>
<ellipse cx="572.6" cy="441.4" rx="60.9" ry="92.6" transform="rotate(-0.30 572.6 441.4)" fill="#858aa0"/>
<ellipse cx="570.9" cy="441.4" rx="60.9" ry="92.6" transform="rotate(-0.30 570.9 441.4)" fill="#858a9f"/>
<ellipse cx="569.1" cy="441.5" rx="60.9" ry="92.7" transform="rotate(-0.30 569.1 441.5)" fill="#858a9f"/>
<ellipse cx="567.4" cy="441.5" rx="61.0" ry="92.8" transform="rotate(-0.30 567.4 441.5)" fill="#858a9f"/>
<ellipse cx="565.7" cy="441.6" rx="61.0" ry="92.9" transform="rotate(-0.30 565.7 441.6)" fill="#858a9f"/>
<ellipse cx="563.9" cy="441.6" rx="61.1" ry="92.9" transform="rotate(-0.30 563.9 441.6)" fill="#858a9f"/>
<ellipse cx="562.2" cy="441.7" rx="61.1" ry="93.0" transform="rotate(-0.30 562.2 441.7)" fill="#858a9f"/>
<ellipse cx="560.5" cy="441.7" rx="61.2" ry="93.1" transform="rotate(-0.30 560.5 441.7)" fill="#858a9f"/>
<ellipse cx="558.8" cy="441.8" rx="61.2" ry="93.1" transform="rotate(-0.30 558.8 441.8)" fill="#858a9f"/>
<ellipse cx="557.0" cy="441.9" rx="61.3" ry="93.2" transform="rotate(-0.30 557.0 441.9)" fill="#858a9f"/>
<ellipse cx="555.3" cy="441.9" rx="61.3" ry="93.3" transform="rotate(-0.30 555.3 441.9)" fill="#858a9f"/>
<ellipse cx="553.6" cy="442.0" rx="61.3" ry="93.3" transform="rotate(-0.30 553.6 442.0)" fill="#84899f"/>
<ellipse cx="551.8" cy="442.0" rx="61.4" ry="93.4" transform="rotate(-0.30 551.8 442.0)" fill="#84899f"/>
<ellipse cx="550.1" cy="442.1" rx="61.4" ry="93.5" transform="rotate(-0.30 550.1 442.1)" fill="#84899f"/>
<ellipse cx="548.4" cy="442.1" rx="61.5" ry="93.5" transform="rotate(-0.30 548.4 442.1)" fill="#84899f"/>
<ellipse cx="546.7" cy="442.2" rx="61.5" ry="93.6" transform="rotate(-0.30 546.7 442.2)" fill="#84899f"/>
<ellipse cx="544.9" cy="442.2" rx="61.6" ry="93.7" transform="rotate(-0.30 544.9 442.2)" fill="#84899f"/>
<ellipse cx="543.2" cy="442.3" rx="61.6" ry="93.7" transform="rotate(-0.30 543.2 442.3)" fill="#84899f"/>
<ellipse cx="541.5" cy="442.4" rx="61.7" ry="93.8" transform="rotate(-0.30 541.5 442.4)" fill="#84899f"/>
<ellipse cx="539.7" cy="442.4" rx="61.7" ry="93.9" transform="rotate(-0.30 539.7 442.4)" fill="#84899f"/>
<ellipse cx="538.0" cy="442.5" rx="61.7" ry="93.9" transform="rotate(-0.30 538.0 442.5)" fill="#84899e"/>
<ellipse cx="536.3" cy="442.5" rx="61.8" ry="94.0" transform="rotate(-0.30 536.3 442.5)" fill="#84899e"/>
<ellipse cx="534.5" cy="442.6" rx="61.8" ry="94.1" transform="rotate(-0.30 534.5 442.6)" fill="#84899e"/>
<ellipse cx="532.8" cy="442.6" rx="61.9" ry="94.1" transform="rotate(-0.30 532.8 442.6)" fill="#84899e"/>
<ellipse cx="531.1" cy="442.7" rx="61.9" ry="94.2" transform="rotate(-0.30 531.1 442.7)" fill="#84899e"/>
<ellipse cx="529.4" cy="442.7" rx="62.0" ry="94.3" transform="rotate(-0.30 529.4 442.7)" fill="#84899e"/>
<ellipse cx="527.6" cy="442.8" rx="62.0" ry="94.3" transform="rotate(-0.30 527.6 442.8)" fill="#84899e"/>
<ellipse cx="525.9" cy="442.9" rx="62.1" ry="94.4" transform="rotate(-0.30 525.9 442.9)" fill="#84899e"/>
<ellipse cx="524.2" cy="442.9" rx="62.1" ry="94.5" transform="rotate(-0.30 524.2 442.9)" fill="#84899e"/>
<ellipse cx="522.4" cy="443.0" rx="62.1" ry="94.5" transform="rotate(-0.30 522.4 443.0)" fill="#84899e"/>
<ellipse cx="520.7" cy="443.0" rx="62.2" ry="94.6" transform="rotate(-0.30 520.7 443.0)" fill="#858a9f"/>
<ellipse cx="519.0" cy="443.1" rx="62.2" ry="94.7" transform="rotate(-0.30 519.0 443.1)" fill="#868ba0"/>
<ellipse cx="517.2" cy="443.1" rx="62.3" ry="94.7" transform="rotate(-0.30 517.2 443.1)" fill="#878ca0"/>
<ellipse cx="515.5" cy="443.2" rx="62.3" ry="94.8" transform="rotate(-0.30 515.5 443.2)" fill="#888ca1"/>
<ellipse cx="513.8" cy="443.2" rx="62.4" ry="94.9" transform="rotate(-0.30 513.8 443.2)" fill="#898da2"/>
<ellipse cx="512.1" cy="443.3" rx="62.4" ry="94.9" transform="rotate(-0.30 512.1 443.3)" fill="#8a8ea2"/>
<ellipse cx="510.3" cy="443.4" rx="62.5" ry="95.0" transform="rotate(-0.30 510.3 443.4)" fill="#8a8fa3"/>
<ellipse cx="508.6" cy="443.4" rx="62.5" ry="95.1" transform="rotate(-0.30 508.6 443.4)" fill="#8b90a4"/>
<ellipse cx="506.9" cy="443.5" rx="62.5" ry="95.1" transform="rotate(-0.30 506.9 443.5)" fill="#8c90a4"/>
<ellipse cx="505.1" cy="443.5" rx="62.6" ry="95.2" transform="rotate(-0.30 505.1 443.5)" fill="#8d91a5"/>
<ellipse cx="503.4" cy="443.6" rx="62.6" ry="95.3" transform="rotate(-0.30 503.4 443.6)" fill="#8e92a6"/>
<ellipse cx="501.7" cy="443.6" rx="62.7" ry="95.3" transform="rotate(-0.30 501.7 443.6)" fill="#8e92a6"/>
<ellipse cx="500.0" cy="443.7" rx="62.7" ry="95.4" transform="rotate(-0.30 500.0 443.7)" fill="#8f93a7"/>
<ellipse cx="498.2" cy="443.7" rx="62.8" ry="95.5" transform="rotate(-0.30 498.2 443.7)" fill="#9093a7"/>
<ellipse cx="496.5" cy="443.8" rx="62.8" ry="95.6" transform="rotate(-0.30 496.5 443.8)" fill="#9194a8"/>
<ellipse cx="494.8" cy="443.8" rx="62.9" ry="95.6" transform="rotate(-0.30 494.8 443.8)" fill="#9195a8"/>
<ellipse cx="493.0" cy="443.9" rx="62.9" ry="95.7" transform="rotate(-0.30 493.0 443.9)" fill="#9295a9"/>
<ellipse cx="491.3" cy="444.0" rx="62.9" ry="95.8" transform="rotate(-0.30 491.3 444.0)" fill="#9396a9"/>
<ellipse cx="489.6" cy="444.0" rx="63.0" ry="95.8" transform="rotate(-0.30 489.6 444.0)" fill="#9396aa"/>
<ellipse cx="487.8" cy="444.1" rx="63.0" ry="95.9" transform="rotate(-0.30 487.8 444.1)" fill="#9497aa"/>
<ellipse cx="486.1" cy="444.1" rx="63.1" ry="96.0" transform="rotate(-0.30 486.1 444.1)" fill="#9598ab"/>
<ellipse cx="484.4" cy="444.2" rx="63.1" ry="96.0" transform="rotate(-0.30 484.4 444.2)" fill="#9699ac"/>
<ellipse cx="482.7" cy="444.2" rx="63.2" ry="96.1" transform="rotate(-0.30 482.7 444.2)" fill="#979aad"/>
<ellipse cx="480.9" cy="444.3" rx="63.2" ry="96.2" transform="rotate(-0.30 480.9 444.3)" fill="#989bae"/>
<ellipse cx="479.2" cy="444.3" rx="63.3" ry="96.2" transform="rotate(-0.30 479.2 444.3)" fill="#999caf"/>
<ellipse cx="477.5" cy="444.4" rx="63.3" ry="96.3" transform="rotate(-0.30 477.5 444.4)" fill="#9a9db0"/>
<ellipse cx="475.7" cy="444.5" rx="63.3" ry="96.4" transform="rotate(-0.30 475.7 444.5)" fill="#9b9eb1"/>
<ellipse cx="474.0" cy="444.5" rx="63.4" ry="96.4" transform="rotate(-0.30 474.0 444.5)" fill="#9c9fb2"/>
<ellipse cx="472.3" cy="444.6" rx="63.4" ry="96.5" transform="rotate(-0.30 472.3 444.6)" fill="#9fa2b4"/>
<ellipse cx="470.5" cy="444.6" rx="63.5" ry="96.6" transform="rotate(-0.30 470.5 444.6)" fill="#a1a4b7"/>
<ellipse cx="468.8" cy="444.7" rx="63.5" ry="96.6" transform="rotate(-0.30 468.8 444.7)" fill="#a4a7b9"/>
<ellipse cx="467.1" cy="444.7" rx="63.6" ry="96.7" transform="rotate(-0.30 467.1 444.7)" fill="#a6a9bb"/>
<ellipse cx="465.4" cy="444.8" rx="63.6" ry="96.8" transform="rotate(-0.30 465.4 444.8)" fill="#a9acbe"/>
<ellipse cx="463.6" cy="444.8" rx="63.7" ry="96.8" transform="rotate(-0.30 463.6 444.8)" fill="#adb0c1"/>
<ellipse cx="461.9" cy="444.9" rx="63.7" ry="96.9" transform="rotate(-0.30 461.9 444.9)" fill="#b0b3c4"/>
</g>
<path d="M461.4 348.0L627.5 349.2L631.6 349.4L635.7 350.0L639.8 351.1L643.9 352.6L647.8 354.5L651.7 356.9L655.4 359.6L659.0 362.7L662.5 366.3L665.8 370.1L668.9 374.3L671.8 378.9L674.5 383.7L677.0 388.8L679.2 394.1L681.2 399.7L682.9 405.4L684.3 411.3L685.5 417.4L686.4 423.6L687.0 429.8L687.3 436.1L687.4 442.4L687.1 448.7L686.6 455.0L685.7 461.2L684.6 467.2L683.2 473.2L681.6 478.9L679.7 484.5L677.5 489.9L675.1 495.0L672.4 499.9L669.6 504.4L666.5 508.7L663.3 512.6L659.8 516.1L656.3 519.3L652.6 522.1L648.7 524.4L644.8 526.4L640.8 528.0L636.7 529.1L632.6 529.8L466.8 541.5L462.4 541.8L458.0 541.6L453.5 540.9L449.2 539.8L444.8 538.1L440.6 536.1L436.5 533.6L432.4 530.6L428.6 527.3L424.9 523.5L421.3 519.3L418.0 514.8L414.9 510.0L412.0 504.8L409.4 499.4L407.0 493.6L404.9 487.7L403.0 481.5L401.5 475.2L400.2 468.7L399.3 462.1L398.6 455.4L398.3 448.6L398.2 441.9L398.5 435.1L399.1 428.4L400.0 421.8L401.2 415.3L402.6 408.9L404.4 402.7L406.5 396.7L408.8 391.0L411.4 385.5L414.2 380.3L417.3 375.4L420.6 370.9L424.0 366.7L427.7 362.9L431.5 359.5L435.5 356.5L439.6 354.0L443.9 351.8L448.2 350.2L452.5 349.0L457.0 348.3Z" fill="url(#gBodyVb)"/>
<g clip-path="url(#cBodies)"><path d="M300 100H820V600H300ZM468.6 155.6L477.8 156.1L486.9 157.5L496.0 159.8L504.9 163.1L513.6 167.3L522.1 172.4L530.4 178.3L538.3 185.1L546.0 192.7L553.2 201.0L560.0 210.1L566.4 219.8L572.3 230.2L577.7 241.2L582.6 252.6L586.9 264.6L590.6 277.0L593.8 289.7L596.3 302.7L598.2 316.0L599.5 329.4L600.1 342.9L600.1 356.5L599.5 370.0L598.2 383.4L596.3 396.7L593.8 409.7L590.6 422.4L586.9 434.8L582.6 446.7L577.7 458.2L572.3 469.2L566.4 479.6L560.0 489.3L553.2 498.4L546.0 506.7L538.3 514.3L530.4 521.1L522.1 527.0L513.6 532.1L504.9 536.3L496.0 539.6L486.9 541.9L477.8 543.3L468.6 543.8L459.4 543.3L450.3 541.9L441.2 539.6L432.3 536.3L423.6 532.1L415.1 527.0L406.8 521.1L398.9 514.3L391.2 506.7L384.0 498.4L377.2 489.3L370.8 479.6L364.9 469.2L359.5 458.2L354.6 446.8L350.3 434.8L346.6 422.4L343.4 409.7L340.9 396.7L339.0 383.4L337.7 370.0L337.1 356.5L337.1 342.9L337.7 329.4L339.0 316.0L340.9 302.7L343.4 289.7L346.6 277.0L350.3 264.6L354.6 252.6L359.5 241.2L364.9 230.2L370.8 219.8L377.2 210.1L384.0 201.0L391.2 192.7L398.9 185.1L406.8 178.3L415.1 172.4L423.6 167.3L432.3 163.1L441.2 159.8L450.3 157.5L459.4 156.1L468.6 155.6Z" fill-rule="evenodd" fill="#ccd0e4" fill-opacity="0.5"/></g>
<g clip-path="url(#cBodyT)" fill="none" stroke="#4e5368" stroke-opacity="0.24" stroke-width="1.1">
<path d="M467.9 157.0L472.9 157.2L477.8 158.0L482.7 159.4L487.6 161.3L492.3 163.8L496.9 166.8L501.3 170.4L505.5 174.5L509.5 179.0L513.2 184.0L516.7 189.4L519.9 195.1L522.8 201.3L525.3 207.7L527.5 214.4L529.4 221.4L530.8 228.5L531.9 235.8L532.7 243.1L533.0 250.5L532.9 258.0L532.5 265.4L531.6 272.7L530.4 279.8L528.8 286.8L526.8 293.6L524.5 300.1L521.8 306.4L518.9 312.3L515.6 317.8L512.0 322.9L508.2 327.5L504.1 331.7L499.8 335.4L495.3 338.6L490.7 341.3L486.0 343.4L481.1 344.9L476.2 345.9L471.2 346.3"/>
<path d="M471.2 346.3L466.2 346.1L461.3 345.3L456.3 343.9L451.5 342.0L446.8 339.5L442.2 336.5L437.8 332.9L433.6 328.8L429.6 324.3L425.9 319.3L422.4 313.9L419.2 308.2L416.3 302.0L413.8 295.6L411.6 288.9L409.7 281.9L408.2 274.8L407.1 267.5L406.4 260.2L406.1 252.8L406.2 245.3L406.6 237.9L407.5 230.6L408.7 223.5L410.3 216.5L412.3 209.7L414.6 203.2L417.2 196.9L420.2 191.0L423.5 185.5L427.1 180.4L430.9 175.8L435.0 171.6L439.3 167.8L443.7 164.7L448.4 162.0L453.1 159.9L458.0 158.4L462.9 157.4L467.9 157.0" stroke-opacity="0.10"/>
<path d="M476.4 157.8L481.4 158.0L486.3 158.7L491.2 160.1L496.0 162.0L500.7 164.5L505.3 167.5L509.7 171.1L513.9 175.1L517.9 179.6L521.6 184.6L525.1 190.0L528.3 195.7L531.1 201.8L533.7 208.3L535.9 214.9L537.7 221.9L539.2 229.0L540.3 236.2L541.0 243.5L541.3 250.9L541.2 258.3L540.8 265.7L539.9 273.0L538.7 280.1L537.1 287.1L535.2 293.9L532.8 300.4L530.2 306.6L527.2 312.4L523.9 317.9L520.4 323.0L516.6 327.7L512.5 331.9L508.2 335.5L503.8 338.7L499.2 341.4L494.4 343.5L489.6 345.0L484.7 345.9L479.7 346.3"/>
<path d="M479.7 346.3L474.8 346.1L469.8 345.3L464.9 344.0L460.1 342.1L455.4 339.6L450.8 336.6L446.4 333.0L442.2 329.0L438.3 324.5L434.5 319.5L431.1 314.1L427.9 308.4L425.0 302.2L422.5 295.8L420.3 289.1L418.5 282.2L417.0 275.1L415.9 267.9L415.2 260.5L414.8 253.1L414.9 245.7L415.4 238.4L416.2 231.1L417.4 224.0L419.0 217.0L421.0 210.2L423.3 203.7L426.0 197.5L428.9 191.6L432.2 186.1L435.8 181.1L439.6 176.4L443.6 172.2L447.9 168.5L452.4 165.4L457.0 162.7L461.7 160.6L466.6 159.1L471.5 158.1L476.4 157.8" stroke-opacity="0.10"/>
<path d="M486.7 158.6L491.6 158.8L496.6 159.6L501.4 161.0L506.2 162.9L510.9 165.3L515.5 168.4L519.8 171.9L524.0 175.9L528.0 180.4L531.7 185.3L535.1 190.7L538.3 196.4L541.2 202.5L543.7 208.9L545.9 215.6L547.7 222.5L549.2 229.5L550.3 236.7L551.0 244.0L551.3 251.4L551.2 258.8L550.8 266.1L549.9 273.4L548.7 280.5L547.1 287.4L545.2 294.2L542.9 300.6L540.2 306.8L537.3 312.7L534.0 318.1L530.5 323.2L526.7 327.8L522.6 332.0L518.4 335.7L513.9 338.8L509.4 341.5L504.6 343.6L499.8 345.1L494.9 346.0L490.0 346.4"/>
<path d="M490.0 346.4L485.0 346.2L480.1 345.4L475.2 344.1L470.4 342.2L465.8 339.7L461.2 336.7L456.8 333.1L452.7 329.1L448.7 324.6L445.0 319.7L441.5 314.3L438.4 308.6L435.5 302.5L433.0 296.1L430.8 289.5L429.0 282.6L427.5 275.5L426.4 268.3L425.7 261.0L425.4 253.6L425.4 246.2L425.9 238.9L426.7 231.7L428.0 224.5L429.5 217.6L431.5 210.9L433.8 204.4L436.4 198.2L439.4 192.4L442.7 186.9L446.2 181.8L450.0 177.2L454.0 173.0L458.3 169.3L462.7 166.2L467.3 163.6L472.0 161.5L476.9 159.9L481.8 159.0L486.7 158.6" stroke-opacity="0.10"/>
<path d="M496.8 159.5L501.7 159.7L506.6 160.4L511.5 161.8L516.3 163.7L520.9 166.2L525.4 169.2L529.8 172.7L534.0 176.7L537.9 181.2L541.6 186.1L545.0 191.4L548.2 197.1L551.0 203.2L553.6 209.5L555.7 216.2L557.6 223.0L559.0 230.1L560.1 237.3L560.8 244.5L561.1 251.9L561.1 259.2L560.6 266.5L559.8 273.7L558.6 280.8L557.0 287.7L555.0 294.5L552.7 300.9L550.1 307.1L547.2 312.9L543.9 318.3L540.4 323.4L536.6 328.0L532.6 332.1L528.4 335.8L523.9 338.9L519.4 341.6L514.7 343.6L509.9 345.2L505.0 346.1L500.1 346.5"/>
<path d="M500.1 346.5L495.1 346.3L490.2 345.5L485.4 344.2L480.6 342.2L475.9 339.8L471.4 336.8L467.1 333.3L462.9 329.3L459.0 324.8L455.2 319.9L451.8 314.5L448.7 308.8L445.8 302.8L443.3 296.4L441.1 289.8L439.3 282.9L437.8 275.9L436.8 268.7L436.1 261.4L435.7 254.1L435.8 246.7L436.2 239.4L437.1 232.2L438.3 225.1L439.9 218.2L441.8 211.5L444.1 205.0L446.7 198.9L449.7 193.1L452.9 187.6L456.5 182.6L460.3 178.0L464.3 173.8L468.5 170.2L472.9 167.0L477.5 164.4L482.2 162.3L487.0 160.8L491.9 159.8L496.8 159.5" stroke-opacity="0.10"/>
<path d="M508.5 160.4L513.4 160.6L518.2 161.4L523.1 162.8L527.8 164.7L532.5 167.1L537.0 170.1L541.3 173.6L545.5 177.6L549.4 182.0L553.1 186.9L556.5 192.2L559.6 197.9L562.4 204.0L565.0 210.3L567.1 216.9L568.9 223.7L570.4 230.7L571.5 237.9L572.2 245.1L572.5 252.4L572.4 259.7L572.0 267.0L571.1 274.2L569.9 281.2L568.4 288.1L566.4 294.8L564.1 301.2L561.5 307.3L558.6 313.1L555.4 318.5L551.9 323.6L548.1 328.2L544.1 332.3L539.9 335.9L535.5 339.1L530.9 341.7L526.2 343.7L521.5 345.3L516.6 346.2L511.7 346.6"/>
<path d="M511.7 346.6L506.8 346.4L501.9 345.6L497.1 344.3L492.4 342.4L487.7 339.9L483.2 336.9L478.9 333.4L474.7 329.4L470.8 325.0L467.1 320.1L463.7 314.8L460.6 309.1L457.7 303.1L455.2 296.7L453.1 290.1L451.2 283.3L449.8 276.3L448.7 269.1L448.0 261.9L447.7 254.6L447.8 247.3L448.2 240.0L449.0 232.8L450.2 225.8L451.8 218.9L453.8 212.2L456.0 205.8L458.7 199.7L461.6 193.9L464.8 188.5L468.3 183.5L472.1 178.9L476.1 174.7L480.3 171.1L484.7 167.9L489.3 165.3L493.9 163.3L498.7 161.8L503.6 160.8L508.5 160.4" stroke-opacity="0.10"/>
<path d="M520.1 161.4L525.0 161.6L529.9 162.4L534.7 163.7L539.4 165.6L544.0 168.1L548.5 171.0L552.8 174.5L556.9 178.5L560.9 182.9L564.5 187.8L567.9 193.1L571.0 198.7L573.9 204.7L576.4 211.0L578.5 217.6L580.3 224.4L581.8 231.4L582.8 238.5L583.5 245.7L583.9 253.0L583.8 260.2L583.3 267.5L582.5 274.6L581.3 281.6L579.7 288.5L577.8 295.1L575.5 301.5L572.9 307.6L570.0 313.4L566.8 318.8L563.3 323.8L559.6 328.3L555.6 332.5L551.4 336.1L547.0 339.2L542.5 341.8L537.8 343.9L533.1 345.4L528.2 346.3L523.4 346.7"/>
<path d="M523.4 346.7L518.5 346.5L513.6 345.7L508.8 344.4L504.1 342.5L499.5 340.0L495.0 337.1L490.7 333.6L486.6 329.6L482.6 325.2L479.0 320.3L475.6 315.0L472.5 309.4L469.6 303.4L467.1 297.1L465.0 290.5L463.2 283.7L461.7 276.7L460.7 269.6L460.0 262.4L459.6 255.1L459.7 247.9L460.2 240.6L461.0 233.5L462.2 226.5L463.8 219.6L465.7 213.0L468.0 206.6L470.6 200.5L473.5 194.7L476.7 189.3L480.2 184.3L483.9 179.8L487.9 175.6L492.1 172.0L496.5 168.9L501.0 166.3L505.7 164.2L510.4 162.7L515.3 161.8L520.1 161.4" stroke-opacity="0.10"/>
<path d="M531.8 162.4L536.7 162.6L541.5 163.4L546.3 164.7L551.0 166.6L555.6 169.0L560.0 172.0L564.3 175.4L568.4 179.4L572.3 183.8L576.0 188.6L579.4 193.9L582.5 199.5L585.3 205.5L587.7 211.8L589.9 218.3L591.7 225.1L593.1 232.0L594.2 239.1L594.9 246.3L595.2 253.5L595.1 260.7L594.7 267.9L593.9 275.1L592.7 282.0L591.1 288.9L589.2 295.5L586.9 301.8L584.4 307.9L581.5 313.6L578.2 319.0L574.8 324.0L571.0 328.5L567.1 332.6L562.9 336.2L558.5 339.3L554.0 341.9L549.4 344.0L544.7 345.5L539.9 346.4L535.0 346.8"/>
<path d="M535.0 346.8L530.2 346.6L525.3 345.8L520.5 344.5L515.8 342.6L511.2 340.2L506.8 337.2L502.5 333.7L498.4 329.8L494.5 325.4L490.8 320.5L487.5 315.3L484.4 309.6L481.6 303.7L479.1 297.4L476.9 290.9L475.1 284.1L473.7 277.1L472.6 270.1L471.9 262.9L471.6 255.7L471.7 248.4L472.1 241.2L472.9 234.1L474.1 227.1L475.7 220.3L477.6 213.7L479.9 207.3L482.5 201.3L485.4 195.5L488.6 190.2L492.0 185.2L495.8 180.6L499.7 176.6L503.9 172.9L508.3 169.8L512.8 167.3L517.4 165.2L522.2 163.7L527.0 162.8L531.8 162.4" stroke-opacity="0.10"/>
<path d="M543.3 163.4L548.1 163.6L552.9 164.3L557.7 165.7L562.4 167.5L567.0 169.9L571.4 172.9L575.7 176.3L579.8 180.3L583.6 184.7L587.3 189.5L590.6 194.7L593.7 200.3L596.5 206.3L599.0 212.5L601.1 219.0L602.9 225.7L604.3 232.7L605.4 239.7L606.1 246.8L606.4 254.0L606.3 261.2L605.9 268.4L605.1 275.5L603.9 282.4L602.3 289.2L600.4 295.8L598.2 302.1L595.6 308.2L592.7 313.9L589.5 319.2L586.1 324.2L582.3 328.7L578.4 332.8L574.2 336.4L569.9 339.5L565.4 342.0L560.8 344.1L556.1 345.5L551.3 346.5L546.5 346.8"/>
<path d="M546.5 346.8L541.7 346.6L536.9 345.9L532.1 344.6L527.4 342.7L522.8 340.3L518.4 337.3L514.1 333.9L510.0 330.0L506.2 325.6L502.5 320.7L499.2 315.5L496.1 309.9L493.3 304.0L490.8 297.7L488.7 291.2L486.9 284.5L485.5 277.6L484.4 270.5L483.7 263.4L483.4 256.2L483.4 249.0L483.9 241.8L484.7 234.7L485.9 227.8L487.5 221.0L489.4 214.4L491.6 208.1L494.2 202.1L497.1 196.3L500.3 191.0L503.7 186.1L507.4 181.5L511.4 177.5L515.5 173.9L519.9 170.8L524.4 168.2L529.0 166.2L533.7 164.7L538.5 163.7L543.3 163.4" stroke-opacity="0.10"/>
<path d="M557.9 164.6L562.7 164.8L567.5 165.6L572.2 166.9L576.9 168.7L581.4 171.1L585.8 174.1L590.1 177.5L594.2 181.4L598.0 185.8L601.6 190.6L605.0 195.8L608.0 201.3L610.8 207.2L613.3 213.4L615.4 219.9L617.2 226.6L618.6 233.5L619.6 240.5L620.3 247.6L620.6 254.7L620.6 261.9L620.1 269.0L619.3 276.0L618.1 282.9L616.6 289.7L614.7 296.2L612.5 302.5L609.9 308.5L607.0 314.2L603.9 319.5L600.4 324.4L596.7 328.9L592.8 333.0L588.7 336.5L584.4 339.6L579.9 342.2L575.3 344.2L570.6 345.7L565.9 346.6L561.1 347.0"/>
<path d="M561.1 347.0L556.3 346.8L551.5 346.0L546.8 344.7L542.1 342.8L537.6 340.4L533.2 337.5L528.9 334.1L524.9 330.2L521.0 325.8L517.4 321.0L514.1 315.8L511.0 310.2L508.2 304.3L505.8 298.1L503.6 291.7L501.9 285.0L500.4 278.1L499.4 271.1L498.7 264.0L498.4 256.8L498.4 249.7L498.9 242.6L499.7 235.5L500.9 228.6L502.4 221.9L504.3 215.3L506.6 209.1L509.1 203.1L512.0 197.4L515.2 192.1L518.6 187.1L522.3 182.6L526.2 178.6L530.3 175.0L534.6 172.0L539.1 169.4L543.7 167.4L548.4 165.9L553.1 165.0L557.9 164.6" stroke-opacity="0.10"/>
<path d="M571.0 165.7L575.8 165.9L580.5 166.7L585.2 168.0L589.8 169.8L594.4 172.2L598.8 175.1L603.0 178.5L607.0 182.4L610.8 186.7L614.4 191.5L617.8 196.7L620.8 202.2L623.6 208.1L626.0 214.3L628.1 220.7L629.9 227.4L631.3 234.2L632.4 241.1L633.1 248.2L633.4 255.3L633.3 262.4L632.9 269.5L632.1 276.5L630.9 283.4L629.3 290.1L627.5 296.6L625.2 302.9L622.7 308.8L619.8 314.5L616.7 319.7L613.3 324.6L609.6 329.1L605.7 333.1L601.6 336.7L597.3 339.7L592.9 342.3L588.3 344.3L583.6 345.8L578.9 346.7L574.1 347.1"/>
<path d="M574.1 347.1L569.4 346.9L564.6 346.1L559.9 344.8L555.3 342.9L550.8 340.6L546.4 337.7L542.1 334.3L538.1 330.4L534.3 326.0L530.7 321.2L527.4 316.1L524.3 310.5L521.5 304.7L519.1 298.5L517.0 292.1L515.2 285.4L513.8 278.6L512.8 271.6L512.1 264.6L511.8 257.4L511.8 250.3L512.3 243.2L513.1 236.2L514.2 229.4L515.8 222.7L517.7 216.2L519.9 209.9L522.4 203.9L525.3 198.3L528.5 193.0L531.9 188.1L535.5 183.6L539.4 179.6L543.5 176.1L547.8 173.0L552.3 170.5L556.8 168.5L561.5 167.0L566.2 166.1L571.0 165.7" stroke-opacity="0.10"/>
<path d="M587.0 167.1L591.7 167.2L596.5 168.0L601.1 169.3L605.7 171.1L610.2 173.5L614.6 176.4L618.8 179.8L622.8 183.6L626.6 187.9L630.2 192.7L633.5 197.8L636.5 203.3L639.2 209.2L641.7 215.3L643.8 221.7L645.5 228.3L646.9 235.1L648.0 242.0L648.7 249.0L649.0 256.1L648.9 263.1L648.5 270.2L647.7 277.1L646.5 283.9L645.0 290.6L643.1 297.1L640.9 303.3L638.4 309.2L635.5 314.8L632.4 320.1L629.0 324.9L625.3 329.4L621.5 333.4L617.4 336.9L613.1 339.9L608.7 342.4L604.2 344.4L599.6 345.9L594.9 346.8L590.1 347.2"/>
<path d="M590.1 347.2L585.4 347.0L580.7 346.2L576.0 344.9L571.4 343.1L566.9 340.7L562.6 337.8L558.4 334.5L554.3 330.6L550.5 326.3L547.0 321.5L543.7 316.4L540.6 310.9L537.9 305.1L535.5 298.9L533.4 292.6L531.6 286.0L530.2 279.2L529.2 272.2L528.5 265.2L528.2 258.2L528.2 251.1L528.7 244.1L529.5 237.1L530.7 230.3L532.2 223.6L534.0 217.2L536.3 211.0L538.8 205.0L541.6 199.4L544.8 194.2L548.2 189.3L551.8 184.9L555.7 180.9L559.8 177.3L564.0 174.3L568.4 171.8L572.9 169.8L577.6 168.3L582.3 167.4L587.0 167.1" stroke-opacity="0.10"/>
<path d="M604.4 168.5L609.1 168.7L613.8 169.5L618.5 170.7L623.0 172.6L627.5 174.9L631.8 177.8L636.0 181.1L639.9 185.0L643.7 189.3L647.3 194.0L650.5 199.1L653.6 204.5L656.3 210.3L658.7 216.4L660.8 222.7L662.5 229.3L663.9 236.0L664.9 242.9L665.6 249.9L665.9 256.9L665.9 263.9L665.4 270.9L664.6 277.8L663.5 284.5L662.0 291.2L660.1 297.6L657.9 303.7L655.4 309.6L652.6 315.2L649.5 320.4L646.1 325.2L642.5 329.6L638.6 333.6L634.6 337.1L630.4 340.1L626.0 342.6L621.5 344.6L616.9 346.1L612.2 347.0L607.5 347.3"/>
<path d="M607.5 347.3L602.8 347.1L598.1 346.4L593.5 345.1L588.9 343.3L584.5 340.9L580.1 338.0L576.0 334.7L572.0 330.9L568.2 326.6L564.7 321.9L561.4 316.8L558.4 311.3L555.7 305.5L553.3 299.4L551.2 293.1L549.4 286.5L548.0 279.8L547.0 272.9L546.3 266.0L546.0 259.0L546.1 251.9L546.5 245.0L547.3 238.1L548.5 231.3L550.0 224.7L551.9 218.3L554.0 212.1L556.6 206.2L559.4 200.7L562.5 195.4L565.9 190.6L569.5 186.2L573.3 182.2L577.4 178.7L581.6 175.7L586.0 173.2L590.5 171.2L595.1 169.8L599.7 168.9L604.4 168.5" stroke-opacity="0.10"/>
<path d="M612.8 347.4L608.1 347.2L603.4 346.4L598.7 345.1L594.2 343.3L589.7 341.0L585.4 338.1L581.3 334.8L577.3 330.9L573.5 326.7L570.0 322.0L566.7 316.9L563.7 311.4L561.0 305.7L558.6 299.6L556.5 293.3L554.8 286.7L553.4 280.0L552.4 273.1L551.7 266.2L551.4 259.2L551.4 252.2L551.9 245.2L552.7 238.3L553.8 231.6L555.3 225.0L557.2 218.6L559.4 212.4L561.9 206.6L564.7 201.0L567.8 195.8L571.2 191.0L574.8 186.6L578.6 182.6L582.7 179.2L586.9 176.1L591.2 173.6L595.7 171.7L600.3 170.2L604.9 169.3L609.6 169.0" stroke-opacity="0.33" stroke-width="1.4"/>
</g>
<g clip-path="url(#cBodyT)" fill="none">
<path d="M487.3 164.8L490.6 167.2L493.9 169.9L497.0 172.9L500.0 176.1L502.9 179.6L505.7 183.3L508.3 187.3L510.7 191.5L513.0 195.8L515.1 200.4L517.1 205.1L518.8 210.0L520.4 215.1L521.7 220.2L522.9 225.5L523.8 230.8L524.6 236.2L525.1 241.7L525.4 247.2L525.5 252.7L525.4 258.2L525.1 263.7L524.6 269.1L523.8 274.5L522.9 279.8L521.7 285.0L520.4 290.1L518.8 295.0L517.1 299.8L515.1 304.5L513.0 308.9L510.7 313.2L508.3 317.3L505.7 321.1L502.9 324.7L500.0 328.1L497.0 331.2L493.9 334.0L490.6 336.6L487.3 338.9" stroke="url(#gHit)" stroke-opacity="0.55" stroke-width="1.4"/>
<path d="M490.4 165.1L493.7 167.5L497.0 170.2L500.1 173.1L503.1 176.4L506.0 179.8L508.8 183.6L511.4 187.5L513.8 191.7L516.1 196.1L518.2 200.6L520.1 205.3L521.9 210.2L523.4 215.2L524.8 220.4L525.9 225.6L526.9 231.0L527.6 236.4L528.2 241.8L528.5 247.3L528.6 252.8L528.5 258.3L528.2 263.8L527.6 269.2L526.9 274.6L525.9 279.9L524.8 285.1L523.4 290.2L521.9 295.1L520.1 299.9L518.2 304.6L516.1 309.0L513.8 313.3L511.3 317.4L508.7 321.2L506.0 324.8L503.1 328.2L500.1 331.3L496.9 334.1L493.7 336.6L490.4 338.9" stroke="url(#gHit)" stroke-opacity="0.55" stroke-width="3.4"/>
<path d="M494.7 165.4L498.0 167.8L501.3 170.5L504.4 173.5L507.4 176.7L510.3 180.2L513.0 183.9L515.6 187.8L518.1 192.0L520.3 196.4L522.5 200.9L524.4 205.6L526.1 210.5L527.7 215.5L529.0 220.6L530.2 225.9L531.1 231.2L531.9 236.6L532.4 242.0L532.7 247.5L532.8 253.0L532.7 258.5L532.4 264.0L531.9 269.4L531.1 274.7L530.2 280.0L529.0 285.2L527.7 290.3L526.1 295.2L524.4 300.0L522.4 304.7L520.3 309.1L518.1 313.4L515.6 317.4L513.0 321.3L510.3 324.9L507.4 328.2L504.4 331.3L501.2 334.1L498.0 336.7L494.7 339.0" stroke="url(#gHit)" stroke-opacity="0.38" stroke-width="3.4"/>
<path d="M499.9 165.8L503.2 168.2L506.4 170.9L509.5 173.9L512.5 177.1L515.4 180.6L518.2 184.3L520.7 188.2L523.2 192.4L525.5 196.7L527.6 201.3L529.5 206.0L531.2 210.8L532.8 215.8L534.1 220.9L535.3 226.2L536.2 231.5L537.0 236.9L537.5 242.3L537.8 247.8L537.9 253.2L537.8 258.7L537.5 264.2L537.0 269.6L536.2 274.9L535.3 280.2L534.1 285.4L532.8 290.4L531.2 295.4L529.5 300.2L527.6 304.8L525.4 309.2L523.2 313.5L520.7 317.5L518.1 321.4L515.4 325.0L512.5 328.3L509.5 331.4L506.4 334.2L503.2 336.8L499.8 339.0" stroke="url(#gHit)" stroke-opacity="0.26" stroke-width="3.6"/>
<path d="M505.9 166.3L509.2 168.7L512.4 171.4L515.5 174.3L518.5 177.6L521.4 181.0L524.1 184.7L526.7 188.6L529.2 192.8L531.4 197.1L533.5 201.7L535.4 206.4L537.2 211.2L538.7 216.2L540.1 221.3L541.2 226.5L542.2 231.8L542.9 237.2L543.4 242.6L543.8 248.1L543.9 253.5L543.8 259.0L543.4 264.4L542.9 269.8L542.2 275.2L541.2 280.4L540.1 285.6L538.7 290.6L537.2 295.6L535.4 300.3L533.5 304.9L531.4 309.4L529.1 313.6L526.7 317.7L524.1 321.5L521.4 325.1L518.5 328.4L515.5 331.5L512.4 334.3L509.2 336.8L505.9 339.1" stroke="url(#gHit)" stroke-opacity="0.15" stroke-width="3.6"/>
<path d="M511.9 166.8L515.2 169.2L518.4 171.9L521.5 174.8L524.5 178.0L527.4 181.5L530.1 185.2L532.7 189.1L535.1 193.2L537.4 197.5L539.5 202.1L541.4 206.7L543.1 211.6L544.7 216.6L546.0 221.7L547.2 226.9L548.1 232.1L548.8 237.5L549.4 242.9L549.7 248.3L549.8 253.8L549.7 259.2L549.4 264.7L548.8 270.1L548.1 275.4L547.2 280.6L546.0 285.8L544.7 290.8L543.1 295.7L541.4 300.5L539.5 305.1L537.4 309.5L535.1 313.7L532.7 317.8L530.1 321.6L527.4 325.2L524.5 328.5L521.5 331.6L518.4 334.4L515.2 336.9L511.9 339.1" stroke="url(#gHit)" stroke-opacity="0.08" stroke-width="3.4"/>
</g>
<g clip-path="url(#cBodyB)" fill="none" stroke="#4e5368" stroke-opacity="0.24" stroke-width="1.1">
<path d="M471.1 348.1L476.1 348.3L481.1 349.2L486.0 350.7L490.8 352.7L495.5 355.3L500.0 358.4L504.4 362.1L508.5 366.3L512.5 371.0L516.1 376.1L519.6 381.7L522.7 387.6L525.5 393.9L527.9 400.5L530.1 407.3L531.8 414.4L533.2 421.7L534.2 429.2L534.9 436.7L535.1 444.3L534.9 451.8L534.4 459.4L533.5 466.8L532.1 474.1L530.4 481.2L528.4 488.1L526.0 494.7L523.3 501.1L520.2 507.0L516.9 512.6L513.2 517.8L509.3 522.5L505.2 526.7L500.9 530.4L496.4 533.6L491.7 536.3L486.9 538.4L482.1 539.9L477.1 540.8L472.1 541.1"/>
<path d="M472.1 541.1L467.2 540.8L462.2 540.0L457.3 538.5L452.5 536.5L447.8 533.9L443.3 530.7L438.9 527.1L434.8 522.9L430.8 518.2L427.1 513.1L423.7 507.5L420.6 501.6L417.8 495.3L415.3 488.7L413.2 481.8L411.4 474.7L410.1 467.4L409.0 460.0L408.4 452.5L408.2 444.9L408.3 437.3L408.9 429.8L409.8 422.4L411.1 415.1L412.8 408.0L414.9 401.1L417.3 394.4L420.0 388.1L423.1 382.2L426.4 376.6L430.0 371.4L433.9 366.7L438.1 362.5L442.4 358.7L446.9 355.5L451.5 352.9L456.3 350.8L461.2 349.3L466.2 348.4L471.1 348.1" stroke-opacity="0.10"/>
<path d="M479.7 348.1L484.6 348.4L489.6 349.3L494.4 350.7L499.2 352.7L503.9 355.3L508.4 358.5L512.8 362.1L516.9 366.3L520.8 371.0L524.5 376.1L527.9 381.6L531.0 387.5L533.8 393.8L536.3 400.4L538.4 407.2L540.1 414.3L541.5 421.5L542.5 428.9L543.2 436.4L543.4 444.0L543.2 451.5L542.7 459.0L541.8 466.4L540.4 473.7L538.8 480.8L536.7 487.7L534.3 494.3L531.6 500.6L528.6 506.5L525.2 512.1L521.6 517.2L517.7 521.9L513.6 526.2L509.3 529.9L504.8 533.1L500.2 535.7L495.4 537.8L490.5 539.3L485.6 540.2L480.7 540.5"/>
<path d="M480.7 540.5L475.7 540.2L470.8 539.4L465.9 537.9L461.1 535.9L456.4 533.3L451.9 530.2L447.5 526.5L443.4 522.3L439.5 517.7L435.8 512.6L432.4 507.0L429.3 501.1L426.5 494.9L424.0 488.3L421.9 481.4L420.2 474.4L418.8 467.1L417.8 459.7L417.2 452.2L416.9 444.6L417.1 437.1L417.6 429.6L418.6 422.2L419.9 414.9L421.5 407.8L423.6 400.9L426.0 394.3L428.7 388.0L431.7 382.1L435.1 376.5L438.7 371.4L442.6 366.7L446.7 362.5L451.0 358.8L455.5 355.6L460.1 352.9L464.9 350.9L469.8 349.4L474.7 348.5L479.7 348.1" stroke-opacity="0.10"/>
<path d="M489.9 348.2L494.9 348.5L499.8 349.3L504.6 350.8L509.4 352.8L514.0 355.4L518.6 358.5L522.9 362.1L527.0 366.3L530.9 370.9L534.6 376.0L538.0 381.5L541.1 387.4L543.8 393.7L546.3 400.2L548.4 407.0L550.1 414.1L551.5 421.3L552.5 428.7L553.1 436.1L553.4 443.7L553.2 451.2L552.7 458.6L551.8 466.0L550.5 473.3L548.8 480.3L546.7 487.2L544.4 493.8L541.7 500.0L538.6 505.9L535.3 511.5L531.7 516.6L527.8 521.3L523.7 525.5L519.4 529.2L515.0 532.4L510.3 535.0L505.6 537.1L500.8 538.5L495.9 539.5L490.9 539.8"/>
<path d="M490.9 539.8L486.0 539.5L481.1 538.6L476.2 537.2L471.4 535.2L466.8 532.6L462.3 529.5L457.9 525.8L453.8 521.7L449.9 517.0L446.2 512.0L442.9 506.4L439.8 500.6L437.0 494.3L434.5 487.8L432.4 480.9L430.7 473.9L429.3 466.7L428.3 459.3L427.7 451.8L427.4 444.3L427.6 436.8L428.1 429.3L429.1 421.9L430.4 414.7L432.0 407.6L434.1 400.8L436.5 394.2L439.2 388.0L442.2 382.0L445.5 376.5L449.1 371.4L453.0 366.7L457.1 362.5L461.4 358.8L465.9 355.6L470.5 353.0L475.2 350.9L480.1 349.4L485.0 348.5L489.9 348.2" stroke-opacity="0.10"/>
<path d="M500.0 348.3L504.9 348.5L509.8 349.4L514.7 350.8L519.4 352.8L524.0 355.4L528.5 358.5L532.8 362.2L537.0 366.3L540.8 370.9L544.5 376.0L547.9 381.5L550.9 387.3L553.7 393.5L556.1 400.1L558.2 406.9L560.0 413.9L561.4 421.1L562.4 428.4L563.0 435.9L563.2 443.3L563.1 450.8L562.5 458.3L561.6 465.6L560.3 472.8L558.6 479.9L556.6 486.7L554.2 493.2L551.5 499.5L548.5 505.4L545.2 510.9L541.6 516.0L537.8 520.6L533.7 524.8L529.4 528.5L525.0 531.7L520.4 534.3L515.6 536.3L510.8 537.8L505.9 538.7L501.0 539.1"/>
<path d="M501.0 539.1L496.1 538.8L491.2 537.9L486.3 536.5L481.6 534.5L477.0 531.9L472.5 528.8L468.2 525.2L464.0 521.0L460.2 516.4L456.5 511.3L453.1 505.9L450.1 500.0L447.3 493.8L444.9 487.3L442.8 480.5L441.0 473.5L439.6 466.3L438.6 458.9L438.0 451.5L437.8 444.0L437.9 436.5L438.5 429.1L439.4 421.7L440.7 414.5L442.4 407.5L444.4 400.6L446.8 394.1L449.5 387.9L452.5 382.0L455.8 376.4L459.4 371.3L463.2 366.7L467.3 362.5L471.6 358.8L476.0 355.7L480.6 353.0L485.4 351.0L490.2 349.5L495.1 348.6L500.0 348.3" stroke-opacity="0.10"/>
<path d="M511.7 348.4L516.5 348.6L521.4 349.5L526.2 350.9L531.0 352.9L535.6 355.5L540.0 358.6L544.3 362.2L548.4 366.3L552.3 370.9L555.9 375.9L559.3 381.4L562.3 387.2L565.1 393.4L567.5 399.9L569.6 406.7L571.4 413.6L572.7 420.8L573.7 428.1L574.3 435.5L574.6 443.0L574.4 450.4L573.9 457.8L573.0 465.1L571.7 472.3L570.0 479.3L568.0 486.1L565.6 492.6L562.9 498.8L559.9 504.7L556.6 510.2L553.1 515.3L549.2 519.9L545.2 524.1L540.9 527.7L536.5 530.9L531.9 533.5L527.2 535.5L522.4 537.0L517.5 537.9L512.6 538.2"/>
<path d="M512.6 538.2L507.7 538.0L502.9 537.1L498.1 535.7L493.3 533.7L488.7 531.1L484.3 528.0L480.0 524.4L475.9 520.3L472.0 515.7L468.4 510.7L465.0 505.2L461.9 499.4L459.2 493.2L456.8 486.7L454.7 479.9L452.9 472.9L451.6 465.8L450.6 458.5L450.0 451.1L449.7 443.6L449.9 436.2L450.4 428.8L451.3 421.4L452.6 414.3L454.3 407.3L456.3 400.5L458.7 394.0L461.4 387.8L464.4 381.9L467.7 376.4L471.2 371.3L475.1 366.7L479.1 362.5L483.4 358.8L487.8 355.7L492.4 353.1L497.1 351.1L501.9 349.6L506.8 348.7L511.7 348.4" stroke-opacity="0.10"/>
<path d="M523.3 348.4L528.2 348.7L533.0 349.5L537.8 351.0L542.5 353.0L547.1 355.5L551.6 358.6L555.8 362.2L559.9 366.3L563.8 370.9L567.4 375.9L570.7 381.3L573.8 387.1L576.5 393.3L578.9 399.7L581.0 406.5L582.7 413.4L584.1 420.5L585.1 427.8L585.7 435.2L585.9 442.6L585.8 450.0L585.2 457.4L584.3 464.7L583.0 471.8L581.4 478.8L579.4 485.5L577.0 492.0L574.3 498.2L571.3 504.0L568.1 509.5L564.5 514.6L560.7 519.2L556.7 523.3L552.4 527.0L548.0 530.1L543.5 532.7L538.8 534.7L534.0 536.2L529.2 537.1L524.3 537.4"/>
<path d="M524.3 537.4L519.4 537.1L514.6 536.3L509.8 534.9L505.1 532.9L500.5 530.3L496.0 527.3L491.8 523.6L487.7 519.5L483.8 515.0L480.2 510.0L476.9 504.5L473.8 498.7L471.1 492.6L468.7 486.1L466.6 479.4L464.9 472.4L463.5 465.3L462.5 458.0L461.9 450.7L461.7 443.2L461.8 435.8L462.4 428.5L463.3 421.2L464.6 414.0L466.2 407.1L468.2 400.3L470.6 393.8L473.3 387.6L476.2 381.8L479.5 376.3L483.1 371.3L486.9 366.7L490.9 362.5L495.2 358.9L499.6 355.8L504.1 353.2L508.8 351.1L513.6 349.6L518.4 348.8L523.3 348.4" stroke-opacity="0.10"/>
<path d="M535.0 348.5L539.8 348.8L544.6 349.6L549.4 351.0L554.1 353.0L558.6 355.6L563.1 358.6L567.3 362.2L571.4 366.3L575.2 370.8L578.8 375.8L582.1 381.2L585.2 387.0L587.9 393.1L590.3 399.6L592.4 406.3L594.1 413.2L595.4 420.3L596.4 427.5L597.0 434.8L597.3 442.2L597.1 449.6L596.6 456.9L595.7 464.2L594.4 471.3L592.7 478.2L590.7 484.9L588.4 491.4L585.7 497.6L582.8 503.4L579.5 508.8L576.0 513.8L572.2 518.4L568.2 522.6L563.9 526.2L559.6 529.3L555.0 531.9L550.4 533.9L545.6 535.4L540.8 536.3L535.9 536.6"/>
<path d="M535.9 536.6L531.1 536.3L526.3 535.5L521.5 534.1L516.8 532.1L512.2 529.5L507.8 526.5L503.6 522.9L499.5 518.8L495.7 514.3L492.1 509.3L488.8 503.9L485.7 498.1L483.0 492.0L480.6 485.5L478.5 478.8L476.8 471.9L475.5 464.8L474.5 457.6L473.9 450.2L473.6 442.9L473.8 435.5L474.3 428.2L475.2 420.9L476.5 413.8L478.2 406.9L480.1 400.1L482.5 393.7L485.1 387.5L488.1 381.7L491.4 376.3L494.9 371.3L498.7 366.7L502.7 362.5L506.9 358.9L511.3 355.8L515.9 353.2L520.5 351.2L525.3 349.7L530.1 348.8L535.0 348.5" stroke-opacity="0.10"/>
<path d="M546.4 348.6L551.3 348.9L556.1 349.7L560.8 351.1L565.5 353.1L570.0 355.6L574.4 358.7L578.6 362.2L582.7 366.3L586.5 370.8L590.1 375.8L593.4 381.2L596.4 386.9L599.1 393.0L601.5 399.4L603.6 406.1L605.3 413.0L606.6 420.0L607.6 427.2L608.2 434.5L608.4 441.9L608.3 449.2L607.8 456.5L606.9 463.7L605.6 470.8L603.9 477.7L602.0 484.4L599.6 490.8L597.0 496.9L594.0 502.7L590.8 508.1L587.2 513.1L583.5 517.7L579.5 521.8L575.3 525.4L570.9 528.5L566.4 531.1L561.8 533.1L557.0 534.6L552.2 535.4L547.4 535.8"/>
<path d="M547.4 535.8L542.6 535.5L537.8 534.7L533.0 533.3L528.4 531.3L523.8 528.8L519.4 525.7L515.2 522.1L511.2 518.1L507.3 513.5L503.8 508.6L500.5 503.2L497.4 497.4L494.7 491.4L492.3 485.0L490.3 478.3L488.6 471.4L487.2 464.3L486.2 457.1L485.6 449.8L485.4 442.5L485.6 435.2L486.1 427.9L487.0 420.6L488.3 413.6L489.9 406.7L491.9 400.0L494.2 393.6L496.9 387.4L499.8 381.6L503.1 376.2L506.6 371.2L510.4 366.7L514.4 362.6L518.6 358.9L522.9 355.8L527.4 353.3L532.1 351.3L536.8 349.8L541.6 348.9L546.4 348.6" stroke-opacity="0.10"/>
<path d="M561.0 348.7L565.8 349.0L570.6 349.8L575.3 351.2L580.0 353.2L584.5 355.7L588.9 358.7L593.1 362.2L597.1 366.3L600.9 370.8L604.4 375.7L607.7 381.1L610.7 386.8L613.4 392.8L615.8 399.2L617.8 405.8L619.5 412.7L620.9 419.7L621.8 426.8L622.4 434.1L622.7 441.4L622.5 448.7L622.0 455.9L621.1 463.1L619.8 470.1L618.2 477.0L616.2 483.7L613.9 490.0L611.3 496.1L608.3 501.9L605.1 507.3L601.6 512.2L597.9 516.8L593.9 520.9L589.7 524.4L585.4 527.5L580.9 530.1L576.3 532.1L571.6 533.5L566.8 534.4L562.0 534.7"/>
<path d="M562.0 534.7L557.2 534.5L552.4 533.6L547.7 532.2L543.1 530.3L538.6 527.8L534.2 524.7L530.0 521.2L526.0 517.1L522.2 512.6L518.6 507.7L515.3 502.4L512.3 496.6L509.6 490.6L507.3 484.2L505.2 477.6L503.5 470.8L502.2 463.7L501.2 456.6L500.6 449.3L500.4 442.0L500.5 434.7L501.1 427.5L502.0 420.3L503.2 413.3L504.9 406.4L506.8 399.8L509.1 393.4L511.8 387.3L514.7 381.5L517.9 376.2L521.4 371.2L525.2 366.7L529.2 362.6L533.3 359.0L537.7 355.9L542.2 353.4L546.8 351.3L551.5 349.9L556.2 349.0L561.0 348.7" stroke-opacity="0.10"/>
<path d="M574.1 348.8L578.9 349.1L583.6 349.9L588.3 351.3L592.9 353.2L597.4 355.7L601.7 358.7L605.9 362.3L609.9 366.3L613.7 370.7L617.2 375.7L620.5 381.0L623.5 386.7L626.2 392.7L628.5 399.0L630.6 405.6L632.3 412.4L633.6 419.4L634.6 426.5L635.2 433.7L635.4 441.0L635.2 448.2L634.7 455.5L633.8 462.6L632.6 469.6L630.9 476.4L629.0 483.0L626.7 489.4L624.0 495.4L621.1 501.1L617.9 506.5L614.4 511.4L610.7 515.9L606.8 520.0L602.6 523.6L598.3 526.6L593.8 529.2L589.2 531.2L584.6 532.6L579.8 533.5L575.1 533.8"/>
<path d="M575.1 533.8L570.3 533.5L565.5 532.7L560.8 531.3L556.2 529.4L551.7 526.9L547.4 523.9L543.2 520.3L539.2 516.3L535.4 511.8L531.9 506.9L528.6 501.6L525.7 495.9L523.0 489.9L520.6 483.6L518.6 477.0L516.9 470.2L515.6 463.2L514.6 456.1L514.0 448.9L513.8 441.6L513.9 434.4L514.4 427.1L515.3 420.0L516.6 413.0L518.2 406.2L520.2 399.6L522.5 393.2L525.1 387.2L528.0 381.5L531.2 376.1L534.7 371.2L538.4 366.6L542.4 362.6L546.5 359.0L550.8 356.0L555.3 353.4L559.9 351.4L564.6 350.0L569.3 349.1L574.1 348.8" stroke-opacity="0.10"/>
<path d="M590.1 348.9L594.8 349.2L599.5 350.0L604.2 351.4L608.8 353.3L613.2 355.8L617.6 358.8L621.7 362.3L625.7 366.3L629.4 370.7L632.9 375.6L636.2 380.9L639.1 386.5L641.8 392.5L644.2 398.8L646.2 405.3L647.9 412.1L649.2 419.0L650.1 426.1L650.7 433.3L651.0 440.5L650.8 447.7L650.3 454.8L649.4 461.9L648.2 468.9L646.5 475.7L644.6 482.2L642.3 488.5L639.7 494.5L636.8 500.2L633.6 505.5L630.2 510.4L626.5 514.9L622.5 519.0L618.4 522.5L614.1 525.5L609.7 528.1L605.1 530.0L600.5 531.5L595.8 532.4L591.0 532.7"/>
<path d="M591.0 532.7L586.3 532.4L581.6 531.6L576.9 530.2L572.4 528.3L567.9 525.8L563.6 522.8L559.4 519.3L555.5 515.3L551.7 510.9L548.2 506.0L544.9 500.7L542.0 495.0L539.3 489.1L537.0 482.8L534.9 476.2L533.3 469.5L531.9 462.5L531.0 455.5L530.4 448.3L530.2 441.1L530.3 433.9L530.8 426.7L531.7 419.6L533.0 412.7L534.6 405.9L536.5 399.4L538.8 393.0L541.4 387.0L544.3 381.4L547.5 376.0L551.0 371.1L554.7 366.6L558.6 362.6L562.7 359.1L567.0 356.0L571.4 353.5L576.0 351.5L580.6 350.1L585.3 349.2L590.1 348.9" stroke-opacity="0.10"/>
<path d="M607.5 349.0L612.2 349.3L616.9 350.1L621.5 351.5L626.0 353.4L630.5 355.8L634.7 358.8L638.9 362.3L642.8 366.3L646.5 370.7L650.0 375.5L653.2 380.8L656.2 386.4L658.8 392.3L661.2 398.5L663.2 405.0L664.8 411.7L666.1 418.6L667.1 425.6L667.7 432.8L667.9 439.9L667.8 447.1L667.2 454.2L666.4 461.2L665.1 468.1L663.5 474.8L661.6 481.4L659.3 487.6L656.7 493.6L653.8 499.2L650.7 504.5L647.2 509.4L643.6 513.8L639.7 517.8L635.6 521.3L631.3 524.4L626.9 526.9L622.4 528.8L617.8 530.3L613.1 531.1L608.4 531.4"/>
<path d="M608.4 531.4L603.7 531.2L599.0 530.4L594.4 529.0L589.9 527.1L585.4 524.6L581.2 521.6L577.0 518.2L573.1 514.2L569.4 509.8L565.9 504.9L562.7 499.7L559.7 494.1L557.1 488.1L554.7 481.9L552.7 475.4L551.1 468.7L549.8 461.8L548.8 454.8L548.2 447.7L548.0 440.5L548.1 433.4L548.7 426.3L549.5 419.2L550.8 412.3L552.4 405.6L554.3 399.1L556.6 392.8L559.2 386.9L562.1 381.2L565.2 376.0L568.7 371.1L572.3 366.6L576.2 362.6L580.3 359.1L584.6 356.1L589.0 353.6L593.5 351.6L598.1 350.2L602.8 349.3L607.5 349.0" stroke-opacity="0.10"/>
<path d="M613.6 531.1L608.9 530.8L604.3 530.0L599.7 528.6L595.1 526.7L590.7 524.2L586.4 521.3L582.3 517.8L578.4 513.9L574.7 509.5L571.2 504.6L568.0 499.4L565.1 493.8L562.4 487.9L560.1 481.7L558.1 475.2L556.4 468.5L555.1 461.6L554.2 454.6L553.6 447.5L553.3 440.4L553.5 433.2L554.0 426.1L554.9 419.1L556.1 412.2L557.7 405.5L559.6 399.0L561.9 392.8L564.5 386.8L567.4 381.2L570.5 375.9L574.0 371.1L577.6 366.6L581.5 362.6L585.6 359.1L589.8 356.1L594.2 353.6L598.7 351.6L603.3 350.2L608.0 349.4L612.7 349.1" stroke-opacity="0.33" stroke-width="1.4"/>
</g>
<g clip-path="url(#cBodyB)" fill="none">
<path d="M490.4 356.9L493.7 359.4L497.0 362.2L500.1 365.3L503.0 368.6L505.9 372.2L508.6 376.1L511.2 380.1L513.6 384.4L515.8 388.9L517.8 393.6L519.7 398.5L521.4 403.5L522.9 408.6L524.2 413.9L525.3 419.2L526.2 424.7L526.9 430.2L527.3 435.8L527.6 441.4L527.6 447.0L527.4 452.6L527.1 458.2L526.5 463.8L525.6 469.2L524.6 474.6L523.4 479.9L522.0 485.1L520.4 490.1L518.6 495.0L516.6 499.7L514.4 504.3L512.1 508.6L509.6 512.7L506.9 516.6L504.1 520.3L501.2 523.7L498.1 526.8L494.9 529.6L491.7 532.2L488.3 534.5" stroke="url(#gHib)" stroke-opacity="0.55" stroke-width="1.4"/>
<path d="M493.5 357.0L496.8 359.5L500.0 362.2L503.1 365.3L506.1 368.6L509.0 372.2L511.7 376.1L514.2 380.1L516.6 384.4L518.8 388.9L520.9 393.6L522.8 398.4L524.5 403.4L526.0 408.6L527.3 413.8L528.3 419.2L529.2 424.6L529.9 430.2L530.4 435.7L530.6 441.3L530.7 446.9L530.5 452.5L530.1 458.1L529.5 463.6L528.7 469.1L527.7 474.5L526.5 479.8L525.0 485.0L523.4 490.0L521.6 494.9L519.6 499.6L517.5 504.1L515.1 508.4L512.6 512.5L510.0 516.4L507.2 520.1L504.3 523.5L501.2 526.6L498.0 529.4L494.8 532.0L491.4 534.3" stroke="url(#gHib)" stroke-opacity="0.55" stroke-width="3.4"/>
<path d="M497.8 357.0L501.1 359.5L504.3 362.3L507.4 365.3L510.4 368.6L513.2 372.2L515.9 376.0L518.5 380.1L520.9 384.4L523.1 388.9L525.2 393.5L527.0 398.4L528.7 403.3L530.2 408.5L531.5 413.7L532.6 419.1L533.5 424.5L534.1 430.0L534.6 435.6L534.9 441.2L534.9 446.8L534.7 452.4L534.3 457.9L533.7 463.5L532.9 468.9L531.9 474.3L530.7 479.6L529.3 484.7L527.7 489.8L525.9 494.6L523.9 499.3L521.7 503.9L519.4 508.2L516.9 512.3L514.3 516.2L511.5 519.8L508.5 523.2L505.5 526.3L502.3 529.1L499.1 531.7L495.7 534.0" stroke="url(#gHib)" stroke-opacity="0.38" stroke-width="3.4"/>
<path d="M503.0 357.0L506.3 359.5L509.5 362.3L512.6 365.3L515.5 368.6L518.4 372.2L521.1 376.0L523.6 380.1L526.0 384.3L528.2 388.8L530.3 393.5L532.1 398.3L533.8 403.3L535.3 408.4L536.6 413.6L537.7 419.0L538.6 424.4L539.2 429.9L539.7 435.5L540.0 441.0L540.0 446.6L539.8 452.2L539.4 457.8L538.8 463.3L538.0 468.7L537.0 474.1L535.8 479.3L534.4 484.5L532.8 489.5L531.0 494.4L529.0 499.1L526.8 503.6L524.5 507.9L522.0 512.0L519.4 515.8L516.6 519.5L513.7 522.8L510.6 526.0L507.5 528.8L504.2 531.4L500.9 533.6" stroke="url(#gHib)" stroke-opacity="0.26" stroke-width="3.6"/>
<path d="M509.0 357.0L512.3 359.5L515.5 362.3L518.6 365.3L521.5 368.6L524.3 372.2L527.0 376.0L529.6 380.0L532.0 384.3L534.2 388.7L536.2 393.4L538.1 398.2L539.8 403.2L541.2 408.3L542.5 413.5L543.6 418.8L544.5 424.3L545.2 429.7L545.6 435.3L545.9 440.8L545.9 446.4L545.7 452.0L545.4 457.5L544.8 463.0L544.0 468.5L543.0 473.8L541.7 479.1L540.3 484.2L538.7 489.2L536.9 494.0L534.9 498.7L532.8 503.2L530.5 507.5L528.0 511.6L525.4 515.5L522.6 519.1L519.7 522.5L516.6 525.6L513.5 528.4L510.2 530.9L506.9 533.2" stroke="url(#gHib)" stroke-opacity="0.15" stroke-width="3.6"/>
<path d="M515.0 357.0L518.3 359.5L521.5 362.3L524.6 365.3L527.5 368.6L530.3 372.2L533.0 376.0L535.5 380.0L537.9 384.2L540.1 388.7L542.2 393.3L544.0 398.1L545.7 403.1L547.2 408.2L548.5 413.4L549.5 418.7L550.4 424.1L551.1 429.6L551.6 435.1L551.8 440.7L551.8 446.2L551.7 451.8L551.3 457.3L550.7 462.8L549.9 468.2L548.9 473.5L547.7 478.8L546.3 483.9L544.7 488.9L542.9 493.7L540.9 498.4L538.8 502.9L536.4 507.2L534.0 511.3L531.3 515.1L528.6 518.7L525.7 522.1L522.6 525.2L519.5 528.0L516.3 530.5L512.9 532.8" stroke="url(#gHib)" stroke-opacity="0.08" stroke-width="3.4"/>
</g>
<path d="M468.6 155.6L477.8 156.1L486.9 157.5L496.0 159.8L504.9 163.1L513.6 167.3L522.1 172.4L530.4 178.3L538.3 185.1L546.0 192.7L553.2 201.0L560.0 210.1L566.4 219.8L572.3 230.2L577.7 241.2L582.6 252.6L586.9 264.6L590.6 277.0L593.8 289.7L596.3 302.7L598.2 316.0L599.5 329.4L600.1 342.9L600.1 356.5L599.5 370.0L598.2 383.4L596.3 396.7L593.8 409.7L590.6 422.4L586.9 434.8L582.6 446.7L577.7 458.2L572.3 469.2L566.4 479.6L560.0 489.3L553.2 498.4L546.0 506.7L538.3 514.3L530.4 521.1L522.1 527.0L513.6 532.1L504.9 536.3L496.0 539.6L486.9 541.9L477.8 543.3L468.6 543.8L459.4 543.3L450.3 541.9L441.2 539.6L432.3 536.3L423.6 532.1L415.1 527.0L406.8 521.1L398.9 514.3L391.2 506.7L384.0 498.4L377.2 489.3L370.8 479.6L364.9 469.2L359.5 458.2L354.6 446.8L350.3 434.8L346.6 422.4L343.4 409.7L340.9 396.7L339.0 383.4L337.7 370.0L337.1 356.5L337.1 342.9L337.7 329.4L339.0 316.0L340.9 302.7L343.4 289.7L346.6 277.0L350.3 264.6L354.6 252.6L359.5 241.2L364.9 230.2L370.8 219.8L377.2 210.1L384.0 201.0L391.2 192.7L398.9 185.1L406.8 178.3L415.1 172.4L423.6 167.3L432.3 163.1L441.2 159.8L450.3 157.5L459.4 156.1L468.6 155.6Z" fill="none" stroke="#565b70" stroke-opacity="0.45" stroke-width="1.1" clip-path="url(#cBodies)"/>
<path d="M624.4 170.2L627.6 170.3L630.7 170.6L633.8 171.1L636.8 171.9L639.9 173.0L642.9 174.2L645.8 175.7L648.7 177.4L651.6 179.4L654.4 181.6L657.1 183.9L659.7 186.5L662.2 189.3L664.6 192.3L666.9 195.4L669.1 198.8L671.2 202.2L673.2 205.9L675.0 209.7L676.7 213.6L678.2 217.7L679.7 221.8L680.9 226.1L682.0 230.5L683.0 234.9L683.8 239.4L684.4 243.9L684.9 248.5L685.3 253.2L685.4 257.8L685.4 262.4L685.3 267.1L684.9 271.7L684.4 276.2L683.8 280.8L683.0 285.2L682.0 289.6L680.9 293.9L679.6 298.2L678.2 302.3L676.7 306.2L675.0 310.1L673.1 313.8L671.2 317.4L669.1 320.8L666.9 324.0L664.6 327.1L662.2 329.9L659.7 332.6L657.0 335.1L654.3 337.3L651.6 339.4L648.7 341.2L645.8 342.8L642.9 344.2L639.9 345.3L636.8 346.2L633.7 346.9L630.6 347.3L627.5 347.5" fill="none" stroke="#8d92a8" stroke-opacity="0.7" stroke-width="1"/>
<path d="M618.3 169.7L621.5 169.8L624.6 170.1L627.7 170.6L630.8 171.4L633.8 172.4L636.8 173.7L639.8 175.2L642.7 176.9L645.6 178.9L648.3 181.1L651.0 183.5L653.7 186.0L656.2 188.8L658.6 191.8L660.9 195.0L663.1 198.3L665.2 201.8L667.2 205.5L669.0 209.3L670.7 213.2L672.3 217.3L673.7 221.5L675.0 225.7L676.1 230.1L677.1 234.5L677.9 239.1L678.5 243.6L679.0 248.2L679.3 252.9L679.5 257.5L679.5 262.2L679.3 266.8L679.0 271.4L678.5 276.0L677.9 280.6L677.0 285.0L676.1 289.4L675.0 293.8L673.7 298.0L672.3 302.1L670.7 306.1L669.0 309.9L667.2 313.7L665.2 317.2L663.1 320.7L660.9 323.9L658.6 327.0L656.2 329.8L653.6 332.5L651.0 335.0L648.3 337.3L645.5 339.3L642.7 341.1L639.8 342.8L636.8 344.1L633.8 345.3L630.7 346.2L627.7 346.8L624.6 347.2L621.4 347.4" fill="none" stroke="#9a9fb4" stroke-opacity="0.6" stroke-width="1"/>
<path d="M627.5 349.2L630.6 349.3L633.7 349.6L636.8 350.2L639.8 351.1L642.9 352.2L645.9 353.5L648.8 355.1L651.7 356.9L654.5 358.9L657.3 361.1L659.9 363.6L662.5 366.3L665.0 369.1L667.4 372.2L669.6 375.4L671.8 378.9L673.8 382.4L675.8 386.2L677.5 390.1L679.2 394.1L680.7 398.3L682.1 402.5L683.3 406.9L684.3 411.3L685.2 415.9L686.0 420.5L686.6 425.1L687.0 429.8L687.3 434.5L687.4 439.3L687.3 444.0L687.1 448.7L686.7 453.4L686.2 458.1L685.5 462.7L684.6 467.2L683.6 471.7L682.4 476.1L681.1 480.4L679.7 484.5L678.1 488.6L676.3 492.5L674.4 496.2L672.4 499.9L670.3 503.3L668.1 506.6L665.7 509.7L663.3 512.6L660.7 515.3L658.1 517.7L655.4 520.0L652.6 522.1L649.7 523.9L646.8 525.5L643.8 526.8L640.8 528.0L637.7 528.8L634.6 529.5L631.5 529.9L628.4 530.0" fill="none" stroke="#8d92a8" stroke-opacity="0.7" stroke-width="1"/>
<path d="M621.4 349.1L624.5 349.2L627.6 349.6L630.7 350.2L633.8 351.0L636.8 352.1L639.8 353.5L642.8 355.0L645.7 356.8L648.5 358.9L651.2 361.1L653.9 363.6L656.5 366.3L659.0 369.1L661.4 372.2L663.7 375.5L665.8 378.9L667.9 382.5L669.8 386.2L671.6 390.1L673.2 394.2L674.7 398.3L676.1 402.6L677.3 407.0L678.4 411.5L679.3 416.0L680.1 420.6L680.6 425.3L681.1 430.0L681.3 434.7L681.5 439.5L681.4 444.2L681.2 448.9L680.8 453.7L680.3 458.3L679.5 462.9L678.7 467.5L677.7 472.0L676.5 476.4L675.2 480.7L673.7 484.8L672.1 488.9L670.4 492.8L668.5 496.6L666.5 500.2L664.3 503.7L662.1 506.9L659.7 510.0L657.3 512.9L654.7 515.6L652.1 518.1L649.3 520.4L646.5 522.5L643.7 524.3L640.7 525.9L637.7 527.3L634.7 528.4L631.7 529.3L628.6 529.9L625.5 530.3L622.3 530.4" fill="none" stroke="#9a9fb4" stroke-opacity="0.6" stroke-width="1"/>
<path d="M439.5 349.2L627.5 351.7" stroke="#c9ccda" stroke-width="2" stroke-opacity="0.9" fill="none"/>
<ellipse cx="459.8" cy="251.2" rx="63.7" ry="95.0" transform="rotate(-1.00 459.8 251.2)" fill="url(#gFacet)"/>
<path d="M439.8 165.6h0M434.5 169.1h0M429.2 172.6h0M455.6 163.4h0M450.3 166.9h0M445.0 170.4h0M439.7 173.9h0M434.4 177.4h0M429.1 180.9h0M423.8 184.4h0M418.5 187.9h0M466.1 164.7h0M460.8 168.2h0M455.5 171.7h0M450.2 175.2h0M444.9 178.7h0M439.6 182.2h0M434.3 185.7h0M429.0 189.2h0M423.7 192.7h0M418.4 196.2h0M413.1 199.7h0M476.6 166.0h0M471.3 169.5h0M466.0 173.0h0M460.7 176.5h0M455.4 180.0h0M450.1 183.5h0M444.8 187.0h0M439.5 190.5h0M434.2 194.0h0M428.9 197.5h0M423.6 201.0h0M418.3 204.5h0M413.0 208.0h0M407.7 211.5h0M481.8 170.8h0M476.5 174.3h0M471.2 177.8h0M465.9 181.3h0M460.6 184.8h0M455.3 188.3h0M450.0 191.8h0M444.7 195.3h0M439.4 198.8h0M434.1 202.3h0M428.8 205.8h0M423.5 209.3h0M418.2 212.8h0M412.9 216.3h0M407.6 219.8h0M487.0 175.6h0M481.7 179.1h0M476.4 182.6h0M471.1 186.1h0M465.8 189.6h0M460.5 193.1h0M455.2 196.6h0M449.9 200.1h0M444.6 203.6h0M439.3 207.1h0M434.0 210.6h0M428.7 214.1h0M423.4 217.6h0M418.1 221.1h0M412.8 224.6h0M407.5 228.1h0M402.2 231.6h0M492.2 180.4h0M486.9 183.9h0M481.6 187.4h0M476.3 190.9h0M471.0 194.4h0M465.7 197.9h0M460.4 201.4h0M455.1 204.9h0M449.8 208.4h0M444.5 211.9h0M439.2 215.4h0M433.9 218.9h0M428.6 222.4h0M423.3 225.9h0M418.0 229.4h0M412.7 232.9h0M407.4 236.4h0M402.1 239.9h0M497.4 185.2h0M492.1 188.7h0M486.8 192.2h0M481.5 195.7h0M476.2 199.2h0M470.9 202.7h0M465.6 206.2h0M460.3 209.7h0M455.0 213.2h0M449.7 216.7h0M444.4 220.2h0M439.1 223.7h0M433.8 227.2h0M428.5 230.7h0M423.2 234.2h0M417.9 237.7h0M412.6 241.2h0M407.3 244.7h0M402.0 248.2h0M502.6 190.0h0M497.3 193.5h0M492.0 197.0h0M486.7 200.5h0M481.4 204.0h0M476.1 207.5h0M470.8 211.0h0M465.5 214.5h0M460.2 218.0h0M454.9 221.5h0M449.6 225.0h0M444.3 228.5h0M439.0 232.0h0M433.7 235.5h0M428.4 239.0h0M423.1 242.5h0M417.8 246.0h0M412.5 249.5h0M407.2 253.0h0M401.9 256.5h0M502.5 198.3h0M497.2 201.8h0M491.9 205.3h0M486.6 208.8h0M481.3 212.3h0M476.0 215.8h0M470.7 219.3h0M465.4 222.8h0M460.1 226.3h0M454.8 229.8h0M449.5 233.3h0M444.2 236.8h0M438.9 240.3h0M433.6 243.8h0M428.3 247.3h0M423.0 250.8h0M417.7 254.3h0M412.4 257.8h0M407.1 261.3h0M401.8 264.8h0M507.7 203.1h0M502.4 206.6h0M497.1 210.1h0M491.8 213.6h0M486.5 217.1h0M481.2 220.6h0M475.9 224.1h0M470.6 227.6h0M465.3 231.1h0M460.0 234.6h0M454.7 238.1h0M449.4 241.6h0M444.1 245.1h0M438.8 248.6h0M433.5 252.1h0M428.2 255.6h0M422.9 259.1h0M417.6 262.6h0M412.3 266.1h0M407.0 269.6h0M507.6 211.4h0M502.3 214.9h0M497.0 218.4h0M491.7 221.9h0M486.4 225.4h0M481.1 228.9h0M475.8 232.4h0M470.5 235.9h0M465.2 239.4h0M459.9 242.9h0M454.6 246.4h0M449.3 249.9h0M444.0 253.4h0M438.7 256.9h0M433.4 260.4h0M428.1 263.9h0M422.8 267.4h0M417.5 270.9h0M412.2 274.4h0M406.9 277.9h0M512.8 216.2h0M507.5 219.7h0M502.2 223.2h0M496.9 226.7h0M491.6 230.2h0M486.3 233.7h0M481.0 237.2h0M475.7 240.7h0M470.4 244.2h0M465.1 247.7h0M459.8 251.2h0M454.5 254.7h0M449.2 258.2h0M443.9 261.7h0M438.6 265.2h0M433.3 268.7h0M428.0 272.2h0M422.7 275.7h0M417.4 279.2h0M412.1 282.7h0M406.8 286.2h0M512.7 224.5h0M507.4 228.0h0M502.1 231.5h0M496.8 235.0h0M491.5 238.5h0M486.2 242.0h0M480.9 245.5h0M475.6 249.0h0M470.3 252.5h0M465.0 256.0h0M459.7 259.5h0M454.4 263.0h0M449.1 266.5h0M443.8 270.0h0M438.5 273.5h0M433.2 277.0h0M427.9 280.5h0M422.6 284.0h0M417.3 287.5h0M412.0 291.0h0M512.6 232.8h0M507.3 236.3h0M502.0 239.8h0M496.7 243.3h0M491.4 246.8h0M486.1 250.3h0M480.8 253.8h0M475.5 257.3h0M470.2 260.8h0M464.9 264.3h0M459.6 267.8h0M454.3 271.3h0M449.0 274.8h0M443.7 278.3h0M438.4 281.8h0M433.1 285.3h0M427.8 288.8h0M422.5 292.3h0M417.2 295.8h0M411.9 299.3h0M517.8 237.6h0M512.5 241.1h0M507.2 244.6h0M501.9 248.1h0M496.6 251.6h0M491.3 255.1h0M486.0 258.6h0M480.7 262.1h0M475.4 265.6h0M470.1 269.1h0M464.8 272.6h0M459.5 276.1h0M454.2 279.6h0M448.9 283.1h0M443.6 286.6h0M438.3 290.1h0M433.0 293.6h0M427.7 297.1h0M422.4 300.6h0M417.1 304.1h0M517.7 245.9h0M512.4 249.4h0M507.1 252.9h0M501.8 256.4h0M496.5 259.9h0M491.2 263.4h0M485.9 266.9h0M480.6 270.4h0M475.3 273.9h0M470.0 277.4h0M464.7 280.9h0M459.4 284.4h0M454.1 287.9h0M448.8 291.4h0M443.5 294.9h0M438.2 298.4h0M432.9 301.9h0M427.6 305.4h0M422.3 308.9h0M417.0 312.4h0M517.6 254.2h0M512.3 257.7h0M507.0 261.2h0M501.7 264.7h0M496.4 268.2h0M491.1 271.7h0M485.8 275.2h0M480.5 278.7h0M475.2 282.2h0M469.9 285.7h0M464.6 289.2h0M459.3 292.7h0M454.0 296.2h0M448.7 299.7h0M443.4 303.2h0M438.1 306.7h0M432.8 310.2h0M427.5 313.7h0M422.2 317.2h0M517.5 262.5h0M512.2 266.0h0M506.9 269.5h0M501.6 273.0h0M496.3 276.5h0M491.0 280.0h0M485.7 283.5h0M480.4 287.0h0M475.1 290.5h0M469.8 294.0h0M464.5 297.5h0M459.2 301.0h0M453.9 304.5h0M448.6 308.0h0M443.3 311.5h0M438.0 315.0h0M432.7 318.5h0M427.4 322.0h0M517.4 270.8h0M512.1 274.3h0M506.8 277.8h0M501.5 281.3h0M496.2 284.8h0M490.9 288.3h0M485.6 291.8h0M480.3 295.3h0M475.0 298.8h0M469.7 302.3h0M464.4 305.8h0M459.1 309.3h0M453.8 312.8h0M448.5 316.3h0M443.2 319.8h0M437.9 323.3h0M432.6 326.8h0M512.0 282.6h0M506.7 286.1h0M501.4 289.6h0M496.1 293.1h0M490.8 296.6h0M485.5 300.1h0M480.2 303.6h0M474.9 307.1h0M469.6 310.6h0M464.3 314.1h0M459.0 317.6h0M453.7 321.1h0M448.4 324.6h0M443.1 328.1h0M437.8 331.6h0M511.9 290.9h0M506.6 294.4h0M501.3 297.9h0M496.0 301.4h0M490.7 304.9h0M485.4 308.4h0M480.1 311.9h0M474.8 315.4h0M469.5 318.9h0M464.2 322.4h0M458.9 325.9h0M453.6 329.4h0M448.3 332.9h0M443.0 336.4h0M506.5 302.7h0M501.2 306.2h0M495.9 309.7h0M490.6 313.2h0M485.3 316.7h0M480.0 320.2h0M474.7 323.7h0M469.4 327.2h0M464.1 330.7h0M458.8 334.2h0M453.5 337.7h0M501.1 314.5h0M495.8 318.0h0M490.5 321.5h0M485.2 325.0h0M479.9 328.5h0M474.6 332.0h0M469.3 335.5h0M464.0 339.0h0M490.4 329.8h0M485.1 333.3h0M479.8 336.8h0" stroke="#a6abc1" stroke-width="2.2" stroke-linecap="round" fill="none" stroke-opacity="0.80"/>
<ellipse cx="459.8" cy="251.2" rx="63.2" ry="94.5" transform="rotate(-1.00 459.8 251.2)" fill="none" stroke="#6b7085" stroke-width="1.2" stroke-opacity="0.8"/>
<ellipse cx="461.9" cy="444.9" rx="63.7" ry="96.9" transform="rotate(-0.30 461.9 444.9)" fill="url(#gFaceb)"/>
<path d="M410.5 489.5h0M415.2 496.8h0M419.9 504.0h0M424.6 511.2h0M429.3 518.5h0M434.0 525.8h0M406.9 473.7h0M411.6 480.9h0M416.3 488.2h0M421.0 495.4h0M425.7 502.7h0M430.4 509.9h0M435.1 517.2h0M439.8 524.5h0M444.5 531.7h0M403.4 457.9h0M408.1 465.1h0M412.8 472.4h0M417.5 479.6h0M422.2 486.9h0M426.9 494.1h0M431.6 501.4h0M436.3 508.6h0M441.0 515.9h0M445.7 523.1h0M450.4 530.4h0M404.6 449.3h0M409.2 456.6h0M413.9 463.8h0M418.6 471.1h0M423.4 478.3h0M428.1 485.6h0M432.8 492.8h0M437.4 500.1h0M442.1 507.3h0M446.9 514.6h0M451.6 521.8h0M456.2 529.1h0M460.9 536.3h0M405.7 440.8h0M410.4 448.0h0M415.1 455.3h0M419.8 462.5h0M424.5 469.8h0M429.2 477.0h0M433.9 484.3h0M438.6 491.5h0M443.3 498.8h0M448.0 506.0h0M452.7 513.3h0M457.4 520.5h0M462.1 527.8h0M466.8 535.0h0M406.8 432.2h0M411.6 439.5h0M416.2 446.8h0M420.9 454.0h0M425.6 461.2h0M430.3 468.5h0M435.1 475.8h0M439.8 483.0h0M444.4 490.2h0M449.1 497.5h0M453.8 504.8h0M458.6 512.0h0M463.2 519.2h0M467.9 526.5h0M472.6 533.8h0M408.0 423.7h0M412.7 430.9h0M417.4 438.2h0M422.1 445.4h0M426.8 452.7h0M431.5 459.9h0M436.2 467.2h0M440.9 474.4h0M445.6 481.7h0M450.3 488.9h0M455.0 496.2h0M459.7 503.4h0M464.4 510.7h0M469.1 518.0h0M473.8 525.2h0M478.5 532.5h0M409.1 415.1h0M413.8 422.4h0M418.5 429.6h0M423.2 436.9h0M427.9 444.1h0M432.6 451.4h0M437.3 458.6h0M442.0 465.9h0M446.8 473.1h0M451.4 480.4h0M456.1 487.6h0M460.8 494.9h0M465.5 502.1h0M470.2 509.4h0M474.9 516.6h0M479.6 523.9h0M410.3 406.6h0M415.0 413.8h0M419.7 421.1h0M424.4 428.3h0M429.1 435.6h0M433.8 442.8h0M438.5 450.1h0M443.2 457.3h0M447.9 464.6h0M452.6 471.8h0M457.3 479.1h0M462.0 486.3h0M466.7 493.6h0M471.4 500.8h0M476.1 508.1h0M480.8 515.3h0M485.5 522.6h0M411.4 398.0h0M416.1 405.3h0M420.8 412.5h0M425.5 419.8h0M430.2 427.0h0M434.9 434.3h0M439.6 441.5h0M444.3 448.8h0M449.0 456.0h0M453.7 463.3h0M458.4 470.5h0M463.1 477.8h0M467.8 485.0h0M472.5 492.3h0M477.2 499.5h0M481.9 506.8h0M486.6 514.0h0M491.3 521.3h0M417.3 396.8h0M422.0 404.0h0M426.7 411.2h0M431.4 418.5h0M436.1 425.8h0M440.8 433.0h0M445.5 440.2h0M450.2 447.5h0M454.9 454.8h0M459.6 462.0h0M464.3 469.2h0M469.0 476.5h0M473.7 483.8h0M478.4 491.0h0M483.1 498.2h0M487.8 505.5h0M492.5 512.8h0M497.2 520.0h0M418.4 388.2h0M423.1 395.4h0M427.8 402.7h0M432.5 409.9h0M437.2 417.2h0M441.9 424.4h0M446.6 431.7h0M451.3 438.9h0M456.0 446.2h0M460.7 453.4h0M465.4 460.7h0M470.1 467.9h0M474.8 475.2h0M479.5 482.4h0M484.2 489.7h0M488.9 496.9h0M493.6 504.2h0M498.3 511.4h0M419.6 379.6h0M424.3 386.9h0M429.0 394.1h0M433.7 401.4h0M438.4 408.6h0M443.1 415.9h0M447.8 423.1h0M452.5 430.4h0M457.2 437.6h0M461.9 444.9h0M466.6 452.1h0M471.3 459.4h0M476.0 466.6h0M480.7 473.9h0M485.4 481.1h0M490.1 488.4h0M494.8 495.6h0M499.5 502.9h0M504.2 510.1h0M425.4 378.3h0M430.1 385.6h0M434.9 392.8h0M439.6 400.1h0M444.2 407.3h0M448.9 414.6h0M453.6 421.8h0M458.4 429.1h0M463.1 436.3h0M467.8 443.6h0M472.4 450.8h0M477.1 458.1h0M481.9 465.3h0M486.6 472.6h0M491.2 479.8h0M495.9 487.1h0M500.6 494.3h0M505.4 501.6h0M426.6 369.8h0M431.3 377.0h0M436.0 384.3h0M440.7 391.5h0M445.4 398.8h0M450.1 406.0h0M454.8 413.3h0M459.5 420.5h0M464.2 427.8h0M468.9 435.0h0M473.6 442.3h0M478.3 449.5h0M483.0 456.8h0M487.7 464.0h0M492.4 471.3h0M497.1 478.5h0M501.8 485.8h0M506.5 493.0h0M432.4 368.5h0M437.1 375.8h0M441.8 383.0h0M446.6 390.2h0M451.2 397.5h0M455.9 404.8h0M460.6 412.0h0M465.3 419.2h0M470.1 426.5h0M474.8 433.8h0M479.4 441.0h0M484.1 448.2h0M488.8 455.5h0M493.6 462.8h0M498.2 470.0h0M502.9 477.2h0M507.6 484.5h0M512.4 491.8h0M438.3 367.2h0M443.0 374.4h0M447.7 381.7h0M452.4 388.9h0M457.1 396.2h0M461.8 403.4h0M466.5 410.7h0M471.2 417.9h0M475.9 425.2h0M480.6 432.4h0M485.3 439.7h0M490.0 446.9h0M494.7 454.2h0M499.4 461.4h0M504.1 468.7h0M508.8 475.9h0M513.5 483.2h0M444.1 365.9h0M448.8 373.1h0M453.5 380.4h0M458.2 387.6h0M462.9 394.9h0M467.6 402.1h0M472.3 409.4h0M477.0 416.6h0M481.8 423.9h0M486.4 431.1h0M491.1 438.4h0M495.8 445.6h0M500.5 452.9h0M505.2 460.1h0M509.9 467.4h0M514.6 474.6h0M445.3 357.3h0M450.0 364.6h0M454.7 371.8h0M459.4 379.1h0M464.1 386.3h0M468.8 393.6h0M473.5 400.8h0M478.2 408.1h0M482.9 415.3h0M487.6 422.6h0M492.3 429.8h0M497.0 437.1h0M501.7 444.3h0M506.4 451.6h0M511.1 458.8h0M515.8 466.1h0M451.1 356.0h0M455.8 363.3h0M460.5 370.5h0M465.2 377.8h0M469.9 385.0h0M474.6 392.3h0M479.3 399.5h0M484.0 406.8h0M488.7 414.0h0M493.4 421.3h0M498.1 428.5h0M502.8 435.8h0M507.5 443.0h0M512.2 450.3h0M516.9 457.5h0M457.0 354.8h0M461.7 362.0h0M466.4 369.2h0M471.1 376.5h0M475.8 383.8h0M480.5 391.0h0M485.2 398.2h0M489.9 405.5h0M494.6 412.8h0M499.3 420.0h0M504.0 427.2h0M508.7 434.5h0M513.4 441.8h0M518.1 449.0h0M462.8 353.4h0M467.5 360.7h0M472.2 367.9h0M476.9 375.2h0M481.6 382.4h0M486.3 389.7h0M491.0 396.9h0M495.7 404.2h0M500.4 411.4h0M505.1 418.7h0M509.8 425.9h0M514.5 433.2h0M519.2 440.4h0M473.4 359.4h0M478.1 366.6h0M482.8 373.9h0M487.5 381.1h0M492.2 388.4h0M496.9 395.6h0M501.6 402.9h0M506.3 410.1h0M511.0 417.4h0M515.7 424.6h0M520.4 431.9h0M479.2 358.1h0M483.9 365.3h0M488.6 372.6h0M493.4 379.8h0M498.1 387.1h0M502.8 394.3h0M507.4 401.6h0M512.1 408.8h0M516.9 416.1h0M489.8 364.0h0M494.5 371.3h0M499.2 378.5h0M503.9 385.8h0M508.6 393.0h0M513.3 400.3h0" stroke="#a6abc1" stroke-width="1.9" stroke-linecap="round" fill="none" stroke-opacity="0.62"/>
<ellipse cx="461.9" cy="444.9" rx="63.2" ry="96.4" transform="rotate(-0.30 461.9 444.9)" fill="none" stroke="#6b7085" stroke-width="1.2" stroke-opacity="0.8"/>
<path d="M468.6 155.6L477.8 156.1L486.9 157.5L496.0 159.8L504.9 163.1L513.6 167.3L522.1 172.4L530.4 178.3L538.3 185.1L546.0 192.7L553.2 201.0L560.0 210.1L566.4 219.8L572.3 230.2L577.7 241.2L582.6 252.6L586.9 264.6L590.6 277.0L593.8 289.7L596.3 302.7L598.2 316.0L599.5 329.4L600.1 342.9L600.1 356.5L599.5 370.0L598.2 383.4L596.3 396.7L593.8 409.7L590.6 422.4L586.9 434.8L582.6 446.7L577.7 458.2L572.3 469.2L566.4 479.6L560.0 489.3L553.2 498.4L546.0 506.7L538.3 514.3L530.4 521.1L522.1 527.0L513.6 532.1L504.9 536.3L496.0 539.6L486.9 541.9L477.8 543.3L468.6 543.8L459.4 543.3L450.3 541.9L441.2 539.6L432.3 536.3L423.6 532.1L415.1 527.0L406.8 521.1L398.9 514.3L391.2 506.7L384.0 498.4L377.2 489.3L370.8 479.6L364.9 469.2L359.5 458.2L354.6 446.8L350.3 434.8L346.6 422.4L343.4 409.7L340.9 396.7L339.0 383.4L337.7 370.0L337.1 356.5L337.1 342.9L337.7 329.4L339.0 316.0L340.9 302.7L343.4 289.7L346.6 277.0L350.3 264.6L354.6 252.6L359.5 241.2L364.9 230.2L370.8 219.8L377.2 210.1L384.0 201.0L391.2 192.7L398.9 185.1L406.8 178.3L415.1 172.4L423.6 167.3L432.3 163.1L441.2 159.8L450.3 157.5L459.4 156.1L468.6 155.6Z" fill="none" stroke="#a0a3b2" stroke-width="1.5"/>
<path d="M477.8 543.3L468.6 543.8L459.4 543.3L450.3 541.9L441.2 539.6L432.3 536.3L423.6 532.1L415.1 527.0L406.8 521.1L398.9 514.3L391.2 506.7L384.0 498.4L377.2 489.3L370.8 479.6L364.9 469.2L359.5 458.2L354.6 446.8L350.3 434.8L346.6 422.4L343.4 409.7L340.9 396.7L339.0 383.4L337.7 370.0L337.1 356.5L337.1 342.9L337.7 329.4L339.0 316.0L340.9 302.7L343.4 289.7L346.6 277.0L350.3 264.6L354.6 252.6L359.5 241.2L364.9 230.2L370.8 219.8L377.2 210.1L384.0 201.0L391.2 192.7L398.9 185.1L406.8 178.3L415.1 172.4L423.6 167.3L432.3 163.1L441.2 159.8L450.3 157.5L459.4 156.1L468.6 155.6L477.8 156.1L650.5 170.7L659.0 172.0L667.4 174.2L675.7 177.3L683.9 181.2L691.8 185.9L699.5 191.4L706.9 197.7L713.9 204.8L720.7 212.5L727.0 220.9L733.0 230.0L738.4 239.7L743.5 249.9L748.0 260.5L752.0 271.7L755.5 283.2L758.4 295.0L760.8 307.1L762.5 319.5L763.7 331.9L764.3 344.5L764.3 357.1L763.7 369.7L762.5 382.1L760.8 394.5L758.4 406.6L755.5 418.4L752.0 429.9L748.0 441.1L743.5 451.7L738.4 461.9L733.0 471.6L727.0 480.7L720.7 489.1L713.9 496.8L706.9 503.9L699.5 510.2L691.8 515.7L683.9 520.4L675.7 524.3L667.4 527.4L659.0 529.6L650.5 530.9Z" fill="none" stroke="#b3b6c8" stroke-width="1" stroke-opacity="0.9"/>
<path d="M650.4 172.3L656.4 173.2L662.4 174.5L668.3 176.2L674.2 178.4L680.0 181.0L685.7 184.0L691.3 187.4L696.7 191.3L702.0 195.5L707.2 200.2L712.2 205.2L717.0 210.6L721.7 216.3L726.1 222.4L730.3 228.8L734.3 235.5L738.1 242.5L741.7 249.7L745.0 257.2L748.0 265.0L750.7 272.9L753.2 281.1L755.5 289.4L757.4 297.9L759.0 306.5L760.4 315.2L761.4 324.0L762.2 332.9L762.6 341.9L762.8 350.8L762.6 359.7L762.2 368.7L761.4 377.6L760.4 386.4L759.0 395.1L757.4 403.7L755.5 412.2L753.2 420.5L750.7 428.7L748.0 436.6L745.0 444.4L741.7 451.9L738.1 459.1L734.3 466.1L730.3 472.8L726.1 479.2L721.7 485.3L717.0 491.0L712.2 496.4L707.2 501.4L702.0 506.1L696.7 510.3L691.3 514.2L685.7 517.6L680.0 520.6L674.2 523.2L668.3 525.4L662.4 527.1L656.4 528.4L650.4 529.3" fill="none" stroke="#e2e4ee" stroke-width="2.0" stroke-opacity="0.5"/>
<path d="M215.5 345.6H277.4C285 345.6 293 277.5 302 277.5C313 277.5 321 388.7 332.4 388.7C346 388.7 357 277.5 369.8 277.5C379 277.5 384 320 388.0 343.9H425.5" fill="none" stroke="#f53b3b" stroke-width="1.5" stroke-linejoin="round"/>
<path d="M435.2 343.9L424.2 340.3V347.5Z" fill="#f02020"/>
<g fill="#111">
<text x="194.9" y="136.4" font-size="44.65">Sound tube</text>
<text x="-1.3" y="363.7" font-size="44.4">Sound wave</text>
</g>
<text x="12.5" y="28.3" font-size="36.5" fill="#111">(a)</text>
<path d="M313.0 149.1L367.3 202.8" stroke="#111" stroke-width="1.4" fill="none"/>
<path d="M374.8 210.2L364.1 204.7L369.2 199.6Z" fill="#111"/>
<g stroke="#111" stroke-width="2.3" fill="none"><path d="M22.3 588V661.5H100"/><path d="M22.3 661.5L75 609.5"/></g>
<path d="M22.3 577.5L27.9 591.5H16.7Z" fill="#111"/>
<path d="M113.7 661.5L98.2 667.2V655.8Z" fill="#111"/>
<path d="M83.6 600.2L77.3 615.2L69.3 607.2Z" fill="#111"/>
<g font-size="71" font-style="italic" fill="#111">
<text x="9.5" y="578.5">z</text>
<text x="95" y="592">y</text>
<text x="119" y="680.3">x</text>
</g>
</g>
<g id="panel-b">
<text x="843.8" y="28.3" font-size="36.6" fill="#111">(b)</text>
<clipPath id="cPlot"><rect x="1054.80" y="76.25" width="617.90" height="498.05"/></clipPath>
<g clip-path="url(#cPlot)">
<g id="s1">
<polyline points="1054.8,538.9 1069.2,528.5 1082.3,519.5 1094.4,509.6 1105.6,498.6 1116.0,486.6 1125.7,474.2 1134.9,460.2 1143.5,444.3 1151.7,428.9 1159.4,410.4 1166.8,390.5 1173.8,369.1 1180.5,345.7 1186.9,319.8 1193.1,290.1 1199.0,262.0 1204.7,235.2 1210.2,215.2 1215.5,192.5 1220.6,182.3 1225.5,180.0 1230.3,184.7 1235.0,194.9 1239.5,201.6 1243.9,205.0 1248.1,204.6 1252.2,199.6 1256.3,191.0 1260.2,182.8 1264.0,175.5 1267.7,170.4 1271.4,167.5 1274.9,167.3 1278.4,170.1 1281.8,174.8 1285.1,182.9 1288.4,195.8 1291.5,212.3 1294.6,230.7 1297.7,250.2 1300.7,267.3 1303.6,279.2 1306.5,288.1 1309.3,294.6 1312.1,300.3 1314.8,304.0 1317.5,304.3 1320.1,301.2 1322.7,295.6 1325.2,287.9 1327.7,278.7 1330.2,268.7 1332.6,258.1 1334.9,247.5 1337.3,237.1 1339.6,227.5 1341.9,218.8 1344.1,211.3 1346.3,205.4 1348.5,201.3 1350.6,199.1 1352.7,199.2 1354.8,202.4 1356.9,208.2 1358.9,215.7 1360.9,224.4 1362.9,233.5 1364.8,242.6 1366.7,251.0 1368.6,258.2 1370.5,263.8 1372.3,267.4 1374.2,268.5 1376.0,267.4 1377.8,264.7 1379.5,260.5 1381.3,255.2 1383.0,249.0 1384.7,242.1 1386.4,234.7 1388.1,227.0 1389.7,219.2 1391.3,211.4 1393.0,203.8 1394.6,196.7 1396.1,190.0 1397.7,183.9 1399.2,178.6 1400.8,174.1 1402.3,169.8 1403.8,165.6 1405.3,161.7 1406.8,158.2 1408.2,155.3 1409.7,152.9 1411.1,150.8 1412.5,148.9 1413.9,147.2 1415.3,145.7 1416.7,144.3 1418.0,143.0 1419.4,141.8 1420.7,140.6 1422.1,139.5 1423.4,138.3 1424.7,137.2 1426.0,136.2 1427.3,135.3 1428.5,134.5 1429.8,134.0 1431.1,133.7 1432.3,133.8 1433.5,134.1 1434.8,134.6 1436.0,135.3 1437.2,136.0 1438.4,136.8 1439.6,137.4 1440.7,138.4 1441.9,139.4 1443.0,140.3 1444.2,141.2 1445.3,141.7 1446.5,141.8 1447.6,141.3 1448.7,140.4 1449.8,139.0 1450.9,137.4 1452.0,135.6 1453.1,133.7 1454.1,130.6 1455.2,126.7 1456.3,122.6 1457.3,118.7 1458.4,115.3 1459.4,111.8 1460.4,108.4 1461.5,105.0 1462.5,101.6 1463.5,97.9 1464.5,94.1 1465.5,90.6 1466.5,87.6 1467.5,85.4 1468.4,83.5 1469.4,81.8 1470.4,80.3 1471.3,79.1 1472.3,78.3 1473.2,77.8 1474.2,77.3 1475.1,76.9 1476.0,76.6 1477.0,76.4 1477.9,76.3 1478.8,76.3 1479.7,77.0 1480.6,78.3 1481.5,80.1 1482.4,82.1 1483.3,84.2 1484.1,86.2 1485.0,88.1 1485.9,89.8 1486.8,91.5 1487.6,93.3 1488.5,95.1 1489.3,97.1 1490.2,99.2 1491.0,101.4 1491.8,103.8 1492.7,106.6 1493.5,109.7 1494.3,113.0 1495.1,116.3 1496.0,119.6 1496.8,122.6 1497.6,125.5 1498.4,128.4 1499.2,131.2 1500.0,133.9 1500.7,136.6 1501.5,139.1 1502.3,141.6 1503.1,144.0 1503.9,146.3 1504.6,148.5 1505.4,150.6 1506.1,152.7 1506.9,154.7 1507.7,156.7 1508.4,158.7 1509.1,160.7 1509.9,162.8 1510.6,165.0 1511.4,167.1 1512.1,169.1 1512.8,170.9 1513.5,172.5 1514.3,173.8 1515.0,175.1 1515.7,176.4 1516.4,177.6 1517.1,178.7 1517.8,179.7 1518.5,180.6 1519.2,181.3 1519.9,181.7 1520.6,182.0 1521.3,182.0 1522.0,181.8 1522.7,181.5 1523.3,181.0 1524.0,180.5 1524.7,179.8 1525.3,179.1 1526.0,178.3 1526.7,177.5 1527.3,176.6 1528.0,175.7 1528.6,174.7 1529.3,173.8 1530.0,172.8 1530.6,171.8 1531.2,170.5 1531.9,169.2 1532.5,167.7 1533.2,166.1 1533.8,164.4 1534.4,162.6 1535.0,160.8 1535.7,159.0 1536.3,157.1 1536.9,155.1 1537.5,153.2 1538.1,151.3 1538.8,149.4 1539.4,147.5 1540.0,145.5 1540.6,143.5 1541.2,141.4 1541.8,139.2 1542.4,137.0 1543.0,134.7 1543.6,132.5 1544.2,130.2 1544.7,128.0 1545.3,125.8 1545.9,123.6 1546.5,121.5 1547.1,119.5 1547.7,117.6 1548.2,115.8 1548.8,113.9 1549.4,112.1 1549.9,110.3 1550.5,108.5 1551.1,106.8 1551.6,105.1 1552.2,103.4 1552.8,101.7 1553.3,100.1 1553.9,98.6 1554.4,97.1 1555.0,95.6 1555.5,94.2 1556.1,92.8 1556.6,91.3 1557.1,89.8 1557.7,88.3 1558.2,86.9 1558.8,85.5 1559.3,84.2 1559.8,83.0 1560.4,82.0 1560.9,81.1 1561.4,80.3 1561.9,79.7 1562.5,79.3 1563.0,78.8 1563.5,78.4 1564.0,78.0 1564.5,77.7 1565.0,77.3 1565.6,77.0 1566.1,76.8 1566.6,76.6 1567.1,76.4 1567.6,76.3 1568.1,76.3 1568.6,76.3 1569.1,76.5 1569.6,76.8 1570.1,77.3 1570.6,78.0 1571.1,78.7 1571.6,79.5 1572.1,80.4 1572.6,81.4 1573.0,82.4 1573.5,83.5 1574.0,84.5 1574.5,85.6 1575.0,86.6 1575.5,87.9 1575.9,89.3 1576.4,90.8 1576.9,92.5 1577.4,94.3 1577.8,96.2 1578.3,98.1 1578.8,100.1 1579.2,102.0 1579.7,104.0 1580.2,105.9 1580.6,107.8 1581.1,109.6 1581.6,111.4 1582.0,113.1 1582.5,114.9 1582.9,116.7 1583.4,118.5 1583.8,120.3 1584.3,122.1 1584.7,123.9 1585.2,125.6 1585.6,127.3 1586.1,129.0 1586.5,130.6 1587.0,132.2 1587.4,133.7 1587.9,135.1 1588.3,136.5 1588.7,137.9 1589.2,139.2 1589.6,140.6 1590.1,141.9 1590.5,143.2 1590.9,144.4 1591.4,145.7 1591.8,146.8 1592.2,147.9 1592.6,149.0 1593.1,150.0 1593.5,150.9 1593.9,151.8 1594.3,152.6 1594.8,153.5 1595.2,154.3 1595.6,155.1 1596.0,155.9 1596.4,156.5 1596.9,156.9 1597.3,157.1 1597.7,157.0 1598.1,156.9 1598.5,156.6 1598.9,156.3 1599.3,155.8 1599.7,155.3 1600.2,154.7 1600.6,154.1 1601.0,153.4 1601.4,152.6 1601.8,151.8 1602.2,151.0 1602.6,150.2 1603.0,149.3 1603.4,148.5 1603.8,147.6 1604.2,146.7 1604.6,145.7 1605.0,144.5 1605.3,143.3 1605.7,141.9 1606.1,140.4 1606.5,138.9 1606.9,137.3 1607.3,135.7 1607.7,134.0 1608.1,132.4 1608.5,130.7 1608.8,129.1 1609.2,127.5 1609.6,125.9 1610.0,124.4 1610.4,122.9 1610.8,121.5 1611.1,120.1 1611.5,118.6 1611.9,117.1 1612.3,115.7 1612.6,114.2 1613.0,112.8 1613.4,111.3 1613.8,109.9 1614.1,108.5 1614.5,107.1 1614.9,105.7 1615.2,104.4 1615.6,103.1 1616.0,101.8 1616.3,100.6 1616.7,99.4 1617.1,98.2 1617.4,97.0 1617.8,95.9 1618.2,94.7 1618.5,93.5 1618.9,92.3 1619.2,91.2 1619.6,90.0 1619.9,88.9 1620.3,87.9 1620.7,86.8 1621.0,85.9 1621.4,84.9 1621.7,84.1 1622.1,83.3 1622.4,82.6 1622.8,81.9 1623.1,81.3 1623.5,80.8 1623.8,80.3 1624.2,79.8 1624.5,79.3 1624.9,78.8 1625.2,78.4 1625.5,77.9 1625.9,77.6 1626.2,77.2 1626.6,76.9 1626.9,76.6 1627.3,76.5 1627.6,76.3 1627.9,76.3 1628.3,76.3 1628.6,76.6 1628.9,77.2 1629.3,78.1 1629.6,79.1 1630.0,80.3 1630.3,81.7 1630.6,83.2 1631.0,84.7 1631.3,86.3 1631.6,88.0 1631.9,89.6 1632.3,91.2 1632.6,92.7 1632.9,94.2 1633.3,95.6 1633.6,97.1 1633.9,98.7 1634.2,100.3 1634.6,102.0 1634.9,103.7 1635.2,105.4 1635.5,107.1 1635.8,108.9 1636.2,110.5 1636.5,112.2 1636.8,113.8 1637.1,115.4 1637.4,116.9 1637.8,118.4 1638.1,119.8 1638.4,121.2 1638.7,122.6 1639.0,124.1 1639.3,125.5 1639.7,126.8 1640.0,128.2 1640.3,129.5 1640.6,130.8 1640.9,132.0 1641.2,133.2 1641.5,134.3 1641.8,135.4 1642.1,136.3 1642.4,137.2 1642.8,138.0 1643.1,138.8 1643.4,139.6 1643.7,140.4 1644.0,141.2 1644.3,142.0 1644.6,142.8 1644.9,143.5 1645.2,144.3 1645.5,145.0 1645.8,145.7 1646.1,146.4 1646.4,147.1 1646.7,147.7 1647.0,148.3 1647.3,148.9 1647.6,149.4 1647.9,149.9 1648.2,150.4 1648.5,150.8 1648.8,151.1 1649.1,151.5 1649.4,151.7 1649.6,152.0 1649.9,152.1 1650.2,152.2 1650.5,152.3 1650.8,152.3 1651.1,152.2 1651.4,152.1 1651.7,151.9 1652.0,151.6 1652.3,151.3 1652.5,150.9 1652.8,150.5 1653.1,150.0 1653.4,149.5 1653.7,149.0 1654.0,148.4 1654.3,147.8 1654.5,147.2 1654.8,146.6 1655.1,145.9 1655.4,145.2 1655.7,144.6 1656.0,143.9 1656.2,143.2 1656.5,142.5 1656.8,141.8 1657.1,141.1 1657.4,140.4 1657.6,139.7 1657.9,138.8 1658.2,137.9 1658.5,136.9 1658.7,135.9 1659.0,134.9 1659.3,133.8 1659.6,132.7 1659.8,131.6 1660.1,130.4 1660.4,129.3 1660.7,128.2 1660.9,127.1 1661.2,126.0 1661.5,125.0 1661.7,124.0 1662.0,123.0 1662.3,122.1 1662.6,121.2 1662.8,120.3 1663.1,119.4 1663.4,118.5 1663.6,117.6 1663.9,116.7 1664.2,115.9 1664.4,115.0 1664.7,114.2 1665.0,113.3 1665.2,112.5 1665.5,111.6 1665.8,110.7 1666.0,109.9 1666.3,109.0 1666.5,108.2 1666.8,107.3 1667.1,106.4 1667.3,105.5 1667.6,104.6 1667.8,103.7 1668.1,102.8 1668.4,101.9 1668.6,101.0 1668.9,100.1 1669.1,99.2 1669.4,98.3 1669.7,97.4 1669.9,96.5 1670.2,95.6 1670.4,94.8 1670.7,94.0 1670.9,93.1 1671.2,92.3 1671.4,91.6 1671.7,90.8 1671.9,90.1 1672.2,89.5 1672.4,88.8 1672.7,88.2" fill="none" stroke="#f14040" stroke-width="2.6" stroke-linejoin="round"/>
<path d="M1054.8 538.9m0.00 -5.85l5.07 2.92l0.00 5.85l-5.07 2.93l-5.07 -2.92l-0.00 -5.85zM1069.2 528.5m0.00 -5.85l5.07 2.92l0.00 5.85l-5.07 2.93l-5.07 -2.92l-0.00 -5.85zM1082.3 519.5m0.00 -5.85l5.07 2.92l0.00 5.85l-5.07 2.93l-5.07 -2.92l-0.00 -5.85zM1094.4 509.6m0.00 -5.85l5.07 2.92l0.00 5.85l-5.07 2.93l-5.07 -2.92l-0.00 -5.85zM1105.6 498.6m0.00 -5.85l5.07 2.92l0.00 5.85l-5.07 2.93l-5.07 -2.92l-0.00 -5.85zM1116.0 486.6m0.00 -5.85l5.07 2.92l0.00 5.85l-5.07 2.93l-5.07 -2.92l-0.00 -5.85zM1125.7 474.2m0.00 -5.85l5.07 2.92l0.00 5.85l-5.07 2.93l-5.07 -2.92l-0.00 -5.85zM1134.9 460.2m0.00 -5.85l5.07 2.92l0.00 5.85l-5.07 2.93l-5.07 -2.92l-0.00 -5.85zM1143.5 444.3m0.00 -5.85l5.07 2.92l0.00 5.85l-5.07 2.93l-5.07 -2.92l-0.00 -5.85zM1151.7 428.9m0.00 -5.85l5.07 2.92l0.00 5.85l-5.07 2.93l-5.07 -2.92l-0.00 -5.85zM1159.4 410.4m0.00 -5.85l5.07 2.92l0.00 5.85l-5.07 2.93l-5.07 -2.92l-0.00 -5.85zM1166.8 390.5m0.00 -5.85l5.07 2.92l0.00 5.85l-5.07 2.93l-5.07 -2.92l-0.00 -5.85zM1173.8 369.1m0.00 -5.85l5.07 2.92l0.00 5.85l-5.07 2.93l-5.07 -2.92l-0.00 -5.85zM1180.5 345.7m0.00 -5.85l5.07 2.92l0.00 5.85l-5.07 2.93l-5.07 -2.92l-0.00 -5.85zM1186.9 319.8m0.00 -5.85l5.07 2.92l0.00 5.85l-5.07 2.93l-5.07 -2.92l-0.00 -5.85zM1193.1 290.1m0.00 -5.85l5.07 2.92l0.00 5.85l-5.07 2.93l-5.07 -2.92l-0.00 -5.85zM1199.0 262.0m0.00 -5.85l5.07 2.92l0.00 5.85l-5.07 2.93l-5.07 -2.92l-0.00 -5.85zM1204.7 235.2m0.00 -5.85l5.07 2.92l0.00 5.85l-5.07 2.93l-5.07 -2.92l-0.00 -5.85zM1210.2 215.2m0.00 -5.85l5.07 2.92l0.00 5.85l-5.07 2.93l-5.07 -2.92l-0.00 -5.85zM1215.5 192.5m0.00 -5.85l5.07 2.92l0.00 5.85l-5.07 2.93l-5.07 -2.92l-0.00 -5.85zM1220.6 182.3m0.00 -5.85l5.07 2.92l0.00 5.85l-5.07 2.93l-5.07 -2.92l-0.00 -5.85zM1225.5 180.0m0.00 -5.85l5.07 2.92l0.00 5.85l-5.07 2.93l-5.07 -2.92l-0.00 -5.85zM1230.3 184.7m0.00 -5.85l5.07 2.92l0.00 5.85l-5.07 2.93l-5.07 -2.92l-0.00 -5.85zM1235.0 194.9m0.00 -5.85l5.07 2.92l0.00 5.85l-5.07 2.93l-5.07 -2.92l-0.00 -5.85zM1239.5 201.6m0.00 -5.85l5.07 2.92l0.00 5.85l-5.07 2.93l-5.07 -2.92l-0.00 -5.85zM1243.9 205.0m0.00 -5.85l5.07 2.92l0.00 5.85l-5.07 2.93l-5.07 -2.92l-0.00 -5.85zM1248.1 204.6m0.00 -5.85l5.07 2.92l0.00 5.85l-5.07 2.93l-5.07 -2.92l-0.00 -5.85zM1252.2 199.6m0.00 -5.85l5.07 2.92l0.00 5.85l-5.07 2.93l-5.07 -2.92l-0.00 -5.85zM1256.3 191.0m0.00 -5.85l5.07 2.92l0.00 5.85l-5.07 2.93l-5.07 -2.92l-0.00 -5.85zM1260.2 182.8m0.00 -5.85l5.07 2.92l0.00 5.85l-5.07 2.93l-5.07 -2.92l-0.00 -5.85zM1264.0 175.5m0.00 -5.85l5.07 2.92l0.00 5.85l-5.07 2.93l-5.07 -2.92l-0.00 -5.85zM1267.7 170.4m0.00 -5.85l5.07 2.92l0.00 5.85l-5.07 2.93l-5.07 -2.92l-0.00 -5.85zM1271.4 167.5m0.00 -5.85l5.07 2.92l0.00 5.85l-5.07 2.93l-5.07 -2.92l-0.00 -5.85zM1274.9 167.3m0.00 -5.85l5.07 2.92l0.00 5.85l-5.07 2.93l-5.07 -2.92l-0.00 -5.85zM1278.4 170.1m0.00 -5.85l5.07 2.92l0.00 5.85l-5.07 2.93l-5.07 -2.92l-0.00 -5.85zM1281.8 174.8m0.00 -5.85l5.07 2.92l0.00 5.85l-5.07 2.93l-5.07 -2.92l-0.00 -5.85zM1285.1 182.9m0.00 -5.85l5.07 2.92l0.00 5.85l-5.07 2.93l-5.07 -2.92l-0.00 -5.85zM1288.4 195.8m0.00 -5.85l5.07 2.92l0.00 5.85l-5.07 2.93l-5.07 -2.92l-0.00 -5.85zM1291.5 212.3m0.00 -5.85l5.07 2.92l0.00 5.85l-5.07 2.93l-5.07 -2.92l-0.00 -5.85zM1294.6 230.7m0.00 -5.85l5.07 2.92l0.00 5.85l-5.07 2.93l-5.07 -2.92l-0.00 -5.85zM1297.7 250.2m0.00 -5.85l5.07 2.92l0.00 5.85l-5.07 2.93l-5.07 -2.92l-0.00 -5.85zM1300.7 267.3m0.00 -5.85l5.07 2.92l0.00 5.85l-5.07 2.93l-5.07 -2.92l-0.00 -5.85zM1303.6 279.2m0.00 -5.85l5.07 2.92l0.00 5.85l-5.07 2.93l-5.07 -2.92l-0.00 -5.85zM1306.5 288.1m0.00 -5.85l5.07 2.92l0.00 5.85l-5.07 2.93l-5.07 -2.92l-0.00 -5.85zM1309.3 294.6m0.00 -5.85l5.07 2.92l0.00 5.85l-5.07 2.93l-5.07 -2.92l-0.00 -5.85zM1312.1 300.3m0.00 -5.85l5.07 2.92l0.00 5.85l-5.07 2.93l-5.07 -2.92l-0.00 -5.85zM1314.8 304.0m0.00 -5.85l5.07 2.92l0.00 5.85l-5.07 2.93l-5.07 -2.92l-0.00 -5.85zM1317.5 304.3m0.00 -5.85l5.07 2.92l0.00 5.85l-5.07 2.93l-5.07 -2.92l-0.00 -5.85zM1320.1 301.2m0.00 -5.85l5.07 2.92l0.00 5.85l-5.07 2.93l-5.07 -2.92l-0.00 -5.85zM1322.7 295.6m0.00 -5.85l5.07 2.92l0.00 5.85l-5.07 2.93l-5.07 -2.92l-0.00 -5.85zM1325.2 287.9m0.00 -5.85l5.07 2.92l0.00 5.85l-5.07 2.93l-5.07 -2.92l-0.00 -5.85zM1327.7 278.7m0.00 -5.85l5.07 2.92l0.00 5.85l-5.07 2.93l-5.07 -2.92l-0.00 -5.85zM1330.2 268.7m0.00 -5.85l5.07 2.92l0.00 5.85l-5.07 2.93l-5.07 -2.92l-0.00 -5.85zM1332.6 258.1m0.00 -5.85l5.07 2.92l0.00 5.85l-5.07 2.93l-5.07 -2.92l-0.00 -5.85zM1334.9 247.5m0.00 -5.85l5.07 2.92l0.00 5.85l-5.07 2.93l-5.07 -2.92l-0.00 -5.85zM1337.3 237.1m0.00 -5.85l5.07 2.92l0.00 5.85l-5.07 2.93l-5.07 -2.92l-0.00 -5.85zM1339.6 227.5m0.00 -5.85l5.07 2.92l0.00 5.85l-5.07 2.93l-5.07 -2.92l-0.00 -5.85zM1341.9 218.8m0.00 -5.85l5.07 2.92l0.00 5.85l-5.07 2.93l-5.07 -2.92l-0.00 -5.85zM1344.1 211.3m0.00 -5.85l5.07 2.92l0.00 5.85l-5.07 2.93l-5.07 -2.92l-0.00 -5.85zM1346.3 205.4m0.00 -5.85l5.07 2.92l0.00 5.85l-5.07 2.93l-5.07 -2.92l-0.00 -5.85zM1348.5 201.3m0.00 -5.85l5.07 2.92l0.00 5.85l-5.07 2.93l-5.07 -2.92l-0.00 -5.85zM1350.6 199.1m0.00 -5.85l5.07 2.92l0.00 5.85l-5.07 2.93l-5.07 -2.92l-0.00 -5.85zM1352.7 199.2m0.00 -5.85l5.07 2.92l0.00 5.85l-5.07 2.93l-5.07 -2.92l-0.00 -5.85zM1354.8 202.4m0.00 -5.85l5.07 2.92l0.00 5.85l-5.07 2.93l-5.07 -2.92l-0.00 -5.85zM1356.9 208.2m0.00 -5.85l5.07 2.92l0.00 5.85l-5.07 2.93l-5.07 -2.92l-0.00 -5.85zM1358.9 215.7m0.00 -5.85l5.07 2.92l0.00 5.85l-5.07 2.93l-5.07 -2.92l-0.00 -5.85zM1360.9 224.4m0.00 -5.85l5.07 2.92l0.00 5.85l-5.07 2.93l-5.07 -2.92l-0.00 -5.85zM1362.9 233.5m0.00 -5.85l5.07 2.92l0.00 5.85l-5.07 2.93l-5.07 -2.92l-0.00 -5.85zM1364.8 242.6m0.00 -5.85l5.07 2.92l0.00 5.85l-5.07 2.93l-5.07 -2.92l-0.00 -5.85zM1366.7 251.0m0.00 -5.85l5.07 2.92l0.00 5.85l-5.07 2.93l-5.07 -2.92l-0.00 -5.85zM1368.6 258.2m0.00 -5.85l5.07 2.92l0.00 5.85l-5.07 2.93l-5.07 -2.92l-0.00 -5.85zM1370.5 263.8m0.00 -5.85l5.07 2.92l0.00 5.85l-5.07 2.93l-5.07 -2.92l-0.00 -5.85zM1372.3 267.4m0.00 -5.85l5.07 2.92l0.00 5.85l-5.07 2.93l-5.07 -2.92l-0.00 -5.85zM1374.2 268.5m0.00 -5.85l5.07 2.92l0.00 5.85l-5.07 2.93l-5.07 -2.92l-0.00 -5.85zM1376.0 267.4m0.00 -5.85l5.07 2.92l0.00 5.85l-5.07 2.93l-5.07 -2.92l-0.00 -5.85zM1377.8 264.7m0.00 -5.85l5.07 2.92l0.00 5.85l-5.07 2.93l-5.07 -2.92l-0.00 -5.85zM1379.5 260.5m0.00 -5.85l5.07 2.92l0.00 5.85l-5.07 2.93l-5.07 -2.92l-0.00 -5.85zM1381.3 255.2m0.00 -5.85l5.07 2.92l0.00 5.85l-5.07 2.93l-5.07 -2.92l-0.00 -5.85zM1383.0 249.0m0.00 -5.85l5.07 2.92l0.00 5.85l-5.07 2.93l-5.07 -2.92l-0.00 -5.85zM1384.7 242.1m0.00 -5.85l5.07 2.92l0.00 5.85l-5.07 2.93l-5.07 -2.92l-0.00 -5.85zM1386.4 234.7m0.00 -5.85l5.07 2.92l0.00 5.85l-5.07 2.93l-5.07 -2.92l-0.00 -5.85zM1388.1 227.0m0.00 -5.85l5.07 2.92l0.00 5.85l-5.07 2.93l-5.07 -2.92l-0.00 -5.85zM1389.7 219.2m0.00 -5.85l5.07 2.92l0.00 5.85l-5.07 2.93l-5.07 -2.92l-0.00 -5.85zM1391.3 211.4m0.00 -5.85l5.07 2.92l0.00 5.85l-5.07 2.93l-5.07 -2.92l-0.00 -5.85zM1393.0 203.8m0.00 -5.85l5.07 2.92l0.00 5.85l-5.07 2.93l-5.07 -2.92l-0.00 -5.85zM1394.6 196.7m0.00 -5.85l5.07 2.92l0.00 5.85l-5.07 2.93l-5.07 -2.92l-0.00 -5.85zM1396.1 190.0m0.00 -5.85l5.07 2.92l0.00 5.85l-5.07 2.93l-5.07 -2.92l-0.00 -5.85zM1397.7 183.9m0.00 -5.85l5.07 2.92l0.00 5.85l-5.07 2.93l-5.07 -2.92l-0.00 -5.85zM1399.2 178.6m0.00 -5.85l5.07 2.92l0.00 5.85l-5.07 2.93l-5.07 -2.92l-0.00 -5.85zM1400.8 174.1m0.00 -5.85l5.07 2.92l0.00 5.85l-5.07 2.93l-5.07 -2.92l-0.00 -5.85zM1402.3 169.8m0.00 -5.85l5.07 2.92l0.00 5.85l-5.07 2.93l-5.07 -2.92l-0.00 -5.85zM1403.8 165.6m0.00 -5.85l5.07 2.92l0.00 5.85l-5.07 2.93l-5.07 -2.92l-0.00 -5.85zM1405.3 161.7m0.00 -5.85l5.07 2.92l0.00 5.85l-5.07 2.93l-5.07 -2.92l-0.00 -5.85zM1406.8 158.2m0.00 -5.85l5.07 2.92l0.00 5.85l-5.07 2.93l-5.07 -2.92l-0.00 -5.85zM1408.2 155.3m0.00 -5.85l5.07 2.92l0.00 5.85l-5.07 2.93l-5.07 -2.92l-0.00 -5.85zM1409.7 152.9m0.00 -5.85l5.07 2.92l0.00 5.85l-5.07 2.93l-5.07 -2.92l-0.00 -5.85zM1411.1 150.8m0.00 -5.85l5.07 2.92l0.00 5.85l-5.07 2.93l-5.07 -2.92l-0.00 -5.85zM1412.5 148.9m0.00 -5.85l5.07 2.92l0.00 5.85l-5.07 2.93l-5.07 -2.92l-0.00 -5.85zM1413.9 147.2m0.00 -5.85l5.07 2.92l0.00 5.85l-5.07 2.93l-5.07 -2.92l-0.00 -5.85zM1415.3 145.7m0.00 -5.85l5.07 2.92l0.00 5.85l-5.07 2.93l-5.07 -2.92l-0.00 -5.85zM1416.7 144.3m0.00 -5.85l5.07 2.92l0.00 5.85l-5.07 2.93l-5.07 -2.92l-0.00 -5.85zM1418.0 143.0m0.00 -5.85l5.07 2.92l0.00 5.85l-5.07 2.93l-5.07 -2.92l-0.00 -5.85zM1419.4 141.8m0.00 -5.85l5.07 2.92l0.00 5.85l-5.07 2.93l-5.07 -2.92l-0.00 -5.85zM1420.7 140.6m0.00 -5.85l5.07 2.92l0.00 5.85l-5.07 2.93l-5.07 -2.92l-0.00 -5.85zM1422.1 139.5m0.00 -5.85l5.07 2.92l0.00 5.85l-5.07 2.93l-5.07 -2.92l-0.00 -5.85zM1423.4 138.3m0.00 -5.85l5.07 2.92l0.00 5.85l-5.07 2.93l-5.07 -2.92l-0.00 -5.85zM1424.7 137.2m0.00 -5.85l5.07 2.92l0.00 5.85l-5.07 2.93l-5.07 -2.92l-0.00 -5.85zM1426.0 136.2m0.00 -5.85l5.07 2.92l0.00 5.85l-5.07 2.93l-5.07 -2.92l-0.00 -5.85zM1427.3 135.3m0.00 -5.85l5.07 2.92l0.00 5.85l-5.07 2.93l-5.07 -2.92l-0.00 -5.85zM1428.5 134.5m0.00 -5.85l5.07 2.92l0.00 5.85l-5.07 2.93l-5.07 -2.92l-0.00 -5.85zM1429.8 134.0m0.00 -5.85l5.07 2.92l0.00 5.85l-5.07 2.93l-5.07 -2.92l-0.00 -5.85zM1431.1 133.7m0.00 -5.85l5.07 2.92l0.00 5.85l-5.07 2.93l-5.07 -2.92l-0.00 -5.85zM1432.3 133.8m0.00 -5.85l5.07 2.92l0.00 5.85l-5.07 2.93l-5.07 -2.92l-0.00 -5.85zM1433.5 134.1m0.00 -5.85l5.07 2.92l0.00 5.85l-5.07 2.93l-5.07 -2.92l-0.00 -5.85zM1434.8 134.6m0.00 -5.85l5.07 2.92l0.00 5.85l-5.07 2.93l-5.07 -2.92l-0.00 -5.85zM1436.0 135.3m0.00 -5.85l5.07 2.92l0.00 5.85l-5.07 2.93l-5.07 -2.92l-0.00 -5.85zM1437.2 136.0m0.00 -5.85l5.07 2.92l0.00 5.85l-5.07 2.93l-5.07 -2.92l-0.00 -5.85zM1438.4 136.8m0.00 -5.85l5.07 2.92l0.00 5.85l-5.07 2.93l-5.07 -2.92l-0.00 -5.85zM1439.6 137.4m0.00 -5.85l5.07 2.92l0.00 5.85l-5.07 2.93l-5.07 -2.92l-0.00 -5.85zM1440.7 138.4m0.00 -5.85l5.07 2.92l0.00 5.85l-5.07 2.93l-5.07 -2.92l-0.00 -5.85zM1441.9 139.4m0.00 -5.85l5.07 2.92l0.00 5.85l-5.07 2.93l-5.07 -2.92l-0.00 -5.85zM1443.0 140.3m0.00 -5.85l5.07 2.92l0.00 5.85l-5.07 2.93l-5.07 -2.92l-0.00 -5.85zM1444.2 141.2m0.00 -5.85l5.07 2.92l0.00 5.85l-5.07 2.93l-5.07 -2.92l-0.00 -5.85zM1445.3 141.7m0.00 -5.85l5.07 2.92l0.00 5.85l-5.07 2.93l-5.07 -2.92l-0.00 -5.85zM1446.5 141.8m0.00 -5.85l5.07 2.92l0.00 5.85l-5.07 2.93l-5.07 -2.92l-0.00 -5.85zM1447.6 141.3m0.00 -5.85l5.07 2.92l0.00 5.85l-5.07 2.93l-5.07 -2.92l-0.00 -5.85zM1448.7 140.4m0.00 -5.85l5.07 2.92l0.00 5.85l-5.07 2.93l-5.07 -2.92l-0.00 -5.85zM1449.8 139.0m0.00 -5.85l5.07 2.92l0.00 5.85l-5.07 2.93l-5.07 -2.92l-0.00 -5.85zM1450.9 137.4m0.00 -5.85l5.07 2.92l0.00 5.85l-5.07 2.93l-5.07 -2.92l-0.00 -5.85zM1452.0 135.6m0.00 -5.85l5.07 2.92l0.00 5.85l-5.07 2.93l-5.07 -2.92l-0.00 -5.85zM1453.1 133.7m0.00 -5.85l5.07 2.92l0.00 5.85l-5.07 2.93l-5.07 -2.92l-0.00 -5.85zM1454.1 130.6m0.00 -5.85l5.07 2.92l0.00 5.85l-5.07 2.93l-5.07 -2.92l-0.00 -5.85zM1455.2 126.7m0.00 -5.85l5.07 2.92l0.00 5.85l-5.07 2.93l-5.07 -2.92l-0.00 -5.85zM1456.3 122.6m0.00 -5.85l5.07 2.92l0.00 5.85l-5.07 2.93l-5.07 -2.92l-0.00 -5.85zM1457.3 118.7m0.00 -5.85l5.07 2.92l0.00 5.85l-5.07 2.93l-5.07 -2.92l-0.00 -5.85zM1458.4 115.3m0.00 -5.85l5.07 2.92l0.00 5.85l-5.07 2.93l-5.07 -2.92l-0.00 -5.85zM1459.4 111.8m0.00 -5.85l5.07 2.92l0.00 5.85l-5.07 2.93l-5.07 -2.92l-0.00 -5.85zM1460.4 108.4m0.00 -5.85l5.07 2.92l0.00 5.85l-5.07 2.93l-5.07 -2.92l-0.00 -5.85zM1461.5 105.0m0.00 -5.85l5.07 2.92l0.00 5.85l-5.07 2.93l-5.07 -2.92l-0.00 -5.85zM1462.5 101.6m0.00 -5.85l5.07 2.92l0.00 5.85l-5.07 2.93l-5.07 -2.92l-0.00 -5.85zM1463.5 97.9m0.00 -5.85l5.07 2.92l0.00 5.85l-5.07 2.93l-5.07 -2.92l-0.00 -5.85zM1464.5 94.1m0.00 -5.85l5.07 2.92l0.00 5.85l-5.07 2.93l-5.07 -2.92l-0.00 -5.85zM1465.5 90.6m0.00 -5.85l5.07 2.92l0.00 5.85l-5.07 2.93l-5.07 -2.92l-0.00 -5.85zM1466.5 87.6m0.00 -5.85l5.07 2.92l0.00 5.85l-5.07 2.93l-5.07 -2.92l-0.00 -5.85zM1467.5 85.4m0.00 -5.85l5.07 2.92l0.00 5.85l-5.07 2.93l-5.07 -2.92l-0.00 -5.85zM1468.4 83.5m0.00 -5.85l5.07 2.92l0.00 5.85l-5.07 2.93l-5.07 -2.92l-0.00 -5.85zM1469.4 81.8m0.00 -5.85l5.07 2.92l0.00 5.85l-5.07 2.93l-5.07 -2.92l-0.00 -5.85zM1470.4 80.3m0.00 -5.85l5.07 2.92l0.00 5.85l-5.07 2.93l-5.07 -2.92l-0.00 -5.85zM1471.3 79.1m0.00 -5.85l5.07 2.92l0.00 5.85l-5.07 2.93l-5.07 -2.92l-0.00 -5.85zM1472.3 78.3m0.00 -5.85l5.07 2.92l0.00 5.85l-5.07 2.93l-5.07 -2.92l-0.00 -5.85zM1473.2 77.8m0.00 -5.85l5.07 2.92l0.00 5.85l-5.07 2.93l-5.07 -2.92l-0.00 -5.85zM1474.2 77.3m0.00 -5.85l5.07 2.92l0.00 5.85l-5.07 2.93l-5.07 -2.92l-0.00 -5.85zM1475.1 76.9m0.00 -5.85l5.07 2.92l0.00 5.85l-5.07 2.93l-5.07 -2.92l-0.00 -5.85zM1476.0 76.6m0.00 -5.85l5.07 2.92l0.00 5.85l-5.07 2.93l-5.07 -2.92l-0.00 -5.85zM1477.0 76.4m0.00 -5.85l5.07 2.92l0.00 5.85l-5.07 2.93l-5.07 -2.92l-0.00 -5.85zM1477.9 76.3m0.00 -5.85l5.07 2.92l0.00 5.85l-5.07 2.93l-5.07 -2.92l-0.00 -5.85zM1478.8 76.3m0.00 -5.85l5.07 2.92l0.00 5.85l-5.07 2.93l-5.07 -2.92l-0.00 -5.85zM1479.7 77.0m0.00 -5.85l5.07 2.92l0.00 5.85l-5.07 2.93l-5.07 -2.92l-0.00 -5.85zM1480.6 78.3m0.00 -5.85l5.07 2.92l0.00 5.85l-5.07 2.93l-5.07 -2.92l-0.00 -5.85zM1481.5 80.1m0.00 -5.85l5.07 2.92l0.00 5.85l-5.07 2.93l-5.07 -2.92l-0.00 -5.85zM1482.4 82.1m0.00 -5.85l5.07 2.92l0.00 5.85l-5.07 2.93l-5.07 -2.92l-0.00 -5.85zM1483.3 84.2m0.00 -5.85l5.07 2.92l0.00 5.85l-5.07 2.93l-5.07 -2.92l-0.00 -5.85zM1484.1 86.2m0.00 -5.85l5.07 2.92l0.00 5.85l-5.07 2.93l-5.07 -2.92l-0.00 -5.85zM1485.0 88.1m0.00 -5.85l5.07 2.92l0.00 5.85l-5.07 2.93l-5.07 -2.92l-0.00 -5.85zM1485.9 89.8m0.00 -5.85l5.07 2.92l0.00 5.85l-5.07 2.93l-5.07 -2.92l-0.00 -5.85zM1486.8 91.5m0.00 -5.85l5.07 2.92l0.00 5.85l-5.07 2.93l-5.07 -2.92l-0.00 -5.85zM1487.6 93.3m0.00 -5.85l5.07 2.92l0.00 5.85l-5.07 2.93l-5.07 -2.92l-0.00 -5.85zM1488.5 95.1m0.00 -5.85l5.07 2.92l0.00 5.85l-5.07 2.93l-5.07 -2.92l-0.00 -5.85zM1489.3 97.1m0.00 -5.85l5.07 2.92l0.00 5.85l-5.07 2.93l-5.07 -2.92l-0.00 -5.85zM1490.2 99.2m0.00 -5.85l5.07 2.92l0.00 5.85l-5.07 2.93l-5.07 -2.92l-0.00 -5.85zM1491.0 101.4m0.00 -5.85l5.07 2.92l0.00 5.85l-5.07 2.93l-5.07 -2.92l-0.00 -5.85zM1491.8 103.8m0.00 -5.85l5.07 2.92l0.00 5.85l-5.07 2.93l-5.07 -2.92l-0.00 -5.85zM1492.7 106.6m0.00 -5.85l5.07 2.92l0.00 5.85l-5.07 2.93l-5.07 -2.92l-0.00 -5.85zM1493.5 109.7m0.00 -5.85l5.07 2.92l0.00 5.85l-5.07 2.93l-5.07 -2.92l-0.00 -5.85zM1494.3 113.0m0.00 -5.85l5.07 2.92l0.00 5.85l-5.07 2.93l-5.07 -2.92l-0.00 -5.85zM1495.1 116.3m0.00 -5.85l5.07 2.92l0.00 5.85l-5.07 2.93l-5.07 -2.92l-0.00 -5.85zM1496.0 119.6m0.00 -5.85l5.07 2.92l0.00 5.85l-5.07 2.93l-5.07 -2.92l-0.00 -5.85zM1496.8 122.6m0.00 -5.85l5.07 2.92l0.00 5.85l-5.07 2.93l-5.07 -2.92l-0.00 -5.85zM1497.6 125.5m0.00 -5.85l5.07 2.92l0.00 5.85l-5.07 2.93l-5.07 -2.92l-0.00 -5.85zM1498.4 128.4m0.00 -5.85l5.07 2.92l0.00 5.85l-5.07 2.93l-5.07 -2.92l-0.00 -5.85zM1499.2 131.2m0.00 -5.85l5.07 2.92l0.00 5.85l-5.07 2.93l-5.07 -2.92l-0.00 -5.85zM1500.0 133.9m0.00 -5.85l5.07 2.92l0.00 5.85l-5.07 2.93l-5.07 -2.92l-0.00 -5.85zM1500.7 136.6m0.00 -5.85l5.07 2.92l0.00 5.85l-5.07 2.93l-5.07 -2.92l-0.00 -5.85zM1501.5 139.1m0.00 -5.85l5.07 2.92l0.00 5.85l-5.07 2.93l-5.07 -2.92l-0.00 -5.85zM1502.3 141.6m0.00 -5.85l5.07 2.92l0.00 5.85l-5.07 2.93l-5.07 -2.92l-0.00 -5.85zM1503.1 144.0m0.00 -5.85l5.07 2.92l0.00 5.85l-5.07 2.93l-5.07 -2.92l-0.00 -5.85zM1503.9 146.3m0.00 -5.85l5.07 2.92l0.00 5.85l-5.07 2.93l-5.07 -2.92l-0.00 -5.85zM1504.6 148.5m0.00 -5.85l5.07 2.92l0.00 5.85l-5.07 2.93l-5.07 -2.92l-0.00 -5.85zM1505.4 150.6m0.00 -5.85l5.07 2.92l0.00 5.85l-5.07 2.93l-5.07 -2.92l-0.00 -5.85zM1506.1 152.7m0.00 -5.85l5.07 2.92l0.00 5.85l-5.07 2.93l-5.07 -2.92l-0.00 -5.85zM1506.9 154.7m0.00 -5.85l5.07 2.92l0.00 5.85l-5.07 2.93l-5.07 -2.92l-0.00 -5.85zM1507.7 156.7m0.00 -5.85l5.07 2.92l0.00 5.85l-5.07 2.93l-5.07 -2.92l-0.00 -5.85zM1508.4 158.7m0.00 -5.85l5.07 2.92l0.00 5.85l-5.07 2.93l-5.07 -2.92l-0.00 -5.85zM1509.1 160.7m0.00 -5.85l5.07 2.92l0.00 5.85l-5.07 2.93l-5.07 -2.92l-0.00 -5.85zM1509.9 162.8m0.00 -5.85l5.07 2.92l0.00 5.85l-5.07 2.93l-5.07 -2.92l-0.00 -5.85zM1510.6 165.0m0.00 -5.85l5.07 2.92l0.00 5.85l-5.07 2.93l-5.07 -2.92l-0.00 -5.85zM1511.4 167.1m0.00 -5.85l5.07 2.92l0.00 5.85l-5.07 2.93l-5.07 -2.92l-0.00 -5.85zM1512.1 169.1m0.00 -5.85l5.07 2.92l0.00 5.85l-5.07 2.93l-5.07 -2.92l-0.00 -5.85zM1512.8 170.9m0.00 -5.85l5.07 2.92l0.00 5.85l-5.07 2.93l-5.07 -2.92l-0.00 -5.85zM1513.5 172.5m0.00 -5.85l5.07 2.92l0.00 5.85l-5.07 2.93l-5.07 -2.92l-0.00 -5.85zM1514.3 173.8m0.00 -5.85l5.07 2.92l0.00 5.85l-5.07 2.93l-5.07 -2.92l-0.00 -5.85zM1515.0 175.1m0.00 -5.85l5.07 2.92l0.00 5.85l-5.07 2.93l-5.07 -2.92l-0.00 -5.85zM1515.7 176.4m0.00 -5.85l5.07 2.92l0.00 5.85l-5.07 2.93l-5.07 -2.92l-0.00 -5.85zM1516.4 177.6m0.00 -5.85l5.07 2.92l0.00 5.85l-5.07 2.93l-5.07 -2.92l-0.00 -5.85zM1517.1 178.7m0.00 -5.85l5.07 2.92l0.00 5.85l-5.07 2.93l-5.07 -2.92l-0.00 -5.85zM1517.8 179.7m0.00 -5.85l5.07 2.92l0.00 5.85l-5.07 2.93l-5.07 -2.92l-0.00 -5.85zM1518.5 180.6m0.00 -5.85l5.07 2.92l0.00 5.85l-5.07 2.93l-5.07 -2.92l-0.00 -5.85zM1519.2 181.3m0.00 -5.85l5.07 2.92l0.00 5.85l-5.07 2.93l-5.07 -2.92l-0.00 -5.85zM1519.9 181.7m0.00 -5.85l5.07 2.92l0.00 5.85l-5.07 2.93l-5.07 -2.92l-0.00 -5.85zM1520.6 182.0m0.00 -5.85l5.07 2.92l0.00 5.85l-5.07 2.93l-5.07 -2.92l-0.00 -5.85zM1521.3 182.0m0.00 -5.85l5.07 2.92l0.00 5.85l-5.07 2.93l-5.07 -2.92l-0.00 -5.85zM1522.0 181.8m0.00 -5.85l5.07 2.92l0.00 5.85l-5.07 2.93l-5.07 -2.92l-0.00 -5.85zM1522.7 181.5m0.00 -5.85l5.07 2.92l0.00 5.85l-5.07 2.93l-5.07 -2.92l-0.00 -5.85zM1523.3 181.0m0.00 -5.85l5.07 2.92l0.00 5.85l-5.07 2.93l-5.07 -2.92l-0.00 -5.85zM1524.0 180.5m0.00 -5.85l5.07 2.92l0.00 5.85l-5.07 2.93l-5.07 -2.92l-0.00 -5.85zM1524.7 179.8m0.00 -5.85l5.07 2.92l0.00 5.85l-5.07 2.93l-5.07 -2.92l-0.00 -5.85zM1525.3 179.1m0.00 -5.85l5.07 2.92l0.00 5.85l-5.07 2.93l-5.07 -2.92l-0.00 -5.85zM1526.0 178.3m0.00 -5.85l5.07 2.92l0.00 5.85l-5.07 2.93l-5.07 -2.92l-0.00 -5.85zM1526.7 177.5m0.00 -5.85l5.07 2.92l0.00 5.85l-5.07 2.93l-5.07 -2.92l-0.00 -5.85zM1527.3 176.6m0.00 -5.85l5.07 2.92l0.00 5.85l-5.07 2.93l-5.07 -2.92l-0.00 -5.85zM1528.0 175.7m0.00 -5.85l5.07 2.92l0.00 5.85l-5.07 2.93l-5.07 -2.92l-0.00 -5.85zM1528.6 174.7m0.00 -5.85l5.07 2.92l0.00 5.85l-5.07 2.93l-5.07 -2.92l-0.00 -5.85zM1529.3 173.8m0.00 -5.85l5.07 2.92l0.00 5.85l-5.07 2.93l-5.07 -2.92l-0.00 -5.85zM1530.0 172.8m0.00 -5.85l5.07 2.92l0.00 5.85l-5.07 2.93l-5.07 -2.92l-0.00 -5.85zM1530.6 171.8m0.00 -5.85l5.07 2.92l0.00 5.85l-5.07 2.93l-5.07 -2.92l-0.00 -5.85zM1531.2 170.5m0.00 -5.85l5.07 2.92l0.00 5.85l-5.07 2.93l-5.07 -2.92l-0.00 -5.85zM1531.9 169.2m0.00 -5.85l5.07 2.92l0.00 5.85l-5.07 2.93l-5.07 -2.92l-0.00 -5.85zM1532.5 167.7m0.00 -5.85l5.07 2.92l0.00 5.85l-5.07 2.93l-5.07 -2.92l-0.00 -5.85zM1533.2 166.1m0.00 -5.85l5.07 2.92l0.00 5.85l-5.07 2.93l-5.07 -2.92l-0.00 -5.85zM1533.8 164.4m0.00 -5.85l5.07 2.92l0.00 5.85l-5.07 2.93l-5.07 -2.92l-0.00 -5.85zM1534.4 162.6m0.00 -5.85l5.07 2.92l0.00 5.85l-5.07 2.93l-5.07 -2.92l-0.00 -5.85zM1535.0 160.8m0.00 -5.85l5.07 2.92l0.00 5.85l-5.07 2.93l-5.07 -2.92l-0.00 -5.85zM1535.7 159.0m0.00 -5.85l5.07 2.92l0.00 5.85l-5.07 2.93l-5.07 -2.92l-0.00 -5.85zM1536.3 157.1m0.00 -5.85l5.07 2.92l0.00 5.85l-5.07 2.93l-5.07 -2.92l-0.00 -5.85zM1536.9 155.1m0.00 -5.85l5.07 2.92l0.00 5.85l-5.07 2.93l-5.07 -2.92l-0.00 -5.85zM1537.5 153.2m0.00 -5.85l5.07 2.92l0.00 5.85l-5.07 2.93l-5.07 -2.92l-0.00 -5.85zM1538.1 151.3m0.00 -5.85l5.07 2.92l0.00 5.85l-5.07 2.93l-5.07 -2.92l-0.00 -5.85zM1538.8 149.4m0.00 -5.85l5.07 2.92l0.00 5.85l-5.07 2.93l-5.07 -2.92l-0.00 -5.85zM1539.4 147.5m0.00 -5.85l5.07 2.92l0.00 5.85l-5.07 2.93l-5.07 -2.92l-0.00 -5.85zM1540.0 145.5m0.00 -5.85l5.07 2.92l0.00 5.85l-5.07 2.93l-5.07 -2.92l-0.00 -5.85zM1540.6 143.5m0.00 -5.85l5.07 2.92l0.00 5.85l-5.07 2.93l-5.07 -2.92l-0.00 -5.85zM1541.2 141.4m0.00 -5.85l5.07 2.92l0.00 5.85l-5.07 2.93l-5.07 -2.92l-0.00 -5.85zM1541.8 139.2m0.00 -5.85l5.07 2.92l0.00 5.85l-5.07 2.93l-5.07 -2.92l-0.00 -5.85zM1542.4 137.0m0.00 -5.85l5.07 2.92l0.00 5.85l-5.07 2.93l-5.07 -2.92l-0.00 -5.85zM1543.0 134.7m0.00 -5.85l5.07 2.92l0.00 5.85l-5.07 2.93l-5.07 -2.92l-0.00 -5.85zM1543.6 132.5m0.00 -5.85l5.07 2.92l0.00 5.85l-5.07 2.93l-5.07 -2.92l-0.00 -5.85zM1544.2 130.2m0.00 -5.85l5.07 2.92l0.00 5.85l-5.07 2.93l-5.07 -2.92l-0.00 -5.85zM1544.7 128.0m0.00 -5.85l5.07 2.92l0.00 5.85l-5.07 2.93l-5.07 -2.92l-0.00 -5.85zM1545.3 125.8m0.00 -5.85l5.07 2.92l0.00 5.85l-5.07 2.93l-5.07 -2.92l-0.00 -5.85zM1545.9 123.6m0.00 -5.85l5.07 2.92l0.00 5.85l-5.07 2.93l-5.07 -2.92l-0.00 -5.85zM1546.5 121.5m0.00 -5.85l5.07 2.92l0.00 5.85l-5.07 2.93l-5.07 -2.92l-0.00 -5.85zM1547.1 119.5m0.00 -5.85l5.07 2.92l0.00 5.85l-5.07 2.93l-5.07 -2.92l-0.00 -5.85zM1547.7 117.6m0.00 -5.85l5.07 2.92l0.00 5.85l-5.07 2.93l-5.07 -2.92l-0.00 -5.85zM1548.2 115.8m0.00 -5.85l5.07 2.92l0.00 5.85l-5.07 2.93l-5.07 -2.92l-0.00 -5.85zM1548.8 113.9m0.00 -5.85l5.07 2.92l0.00 5.85l-5.07 2.93l-5.07 -2.92l-0.00 -5.85zM1549.4 112.1m0.00 -5.85l5.07 2.92l0.00 5.85l-5.07 2.93l-5.07 -2.92l-0.00 -5.85zM1549.9 110.3m0.00 -5.85l5.07 2.92l0.00 5.85l-5.07 2.93l-5.07 -2.92l-0.00 -5.85zM1550.5 108.5m0.00 -5.85l5.07 2.92l0.00 5.85l-5.07 2.93l-5.07 -2.92l-0.00 -5.85zM1551.1 106.8m0.00 -5.85l5.07 2.92l0.00 5.85l-5.07 2.93l-5.07 -2.92l-0.00 -5.85zM1551.6 105.1m0.00 -5.85l5.07 2.92l0.00 5.85l-5.07 2.93l-5.07 -2.92l-0.00 -5.85zM1552.2 103.4m0.00 -5.85l5.07 2.92l0.00 5.85l-5.07 2.93l-5.07 -2.92l-0.00 -5.85zM1552.8 101.7m0.00 -5.85l5.07 2.92l0.00 5.85l-5.07 2.93l-5.07 -2.92l-0.00 -5.85zM1553.3 100.1m0.00 -5.85l5.07 2.92l0.00 5.85l-5.07 2.93l-5.07 -2.92l-0.00 -5.85zM1553.9 98.6m0.00 -5.85l5.07 2.92l0.00 5.85l-5.07 2.93l-5.07 -2.92l-0.00 -5.85zM1554.4 97.1m0.00 -5.85l5.07 2.92l0.00 5.85l-5.07 2.93l-5.07 -2.92l-0.00 -5.85zM1555.0 95.6m0.00 -5.85l5.07 2.92l0.00 5.85l-5.07 2.93l-5.07 -2.92l-0.00 -5.85zM1555.5 94.2m0.00 -5.85l5.07 2.92l0.00 5.85l-5.07 2.93l-5.07 -2.92l-0.00 -5.85zM1556.1 92.8m0.00 -5.85l5.07 2.92l0.00 5.85l-5.07 2.93l-5.07 -2.92l-0.00 -5.85zM1556.6 91.3m0.00 -5.85l5.07 2.92l0.00 5.85l-5.07 2.93l-5.07 -2.92l-0.00 -5.85zM1557.1 89.8m0.00 -5.85l5.07 2.92l0.00 5.85l-5.07 2.93l-5.07 -2.92l-0.00 -5.85zM1557.7 88.3m0.00 -5.85l5.07 2.92l0.00 5.85l-5.07 2.93l-5.07 -2.92l-0.00 -5.85zM1558.2 86.9m0.00 -5.85l5.07 2.92l0.00 5.85l-5.07 2.93l-5.07 -2.92l-0.00 -5.85zM1558.8 85.5m0.00 -5.85l5.07 2.92l0.00 5.85l-5.07 2.93l-5.07 -2.92l-0.00 -5.85zM1559.3 84.2m0.00 -5.85l5.07 2.92l0.00 5.85l-5.07 2.93l-5.07 -2.92l-0.00 -5.85zM1559.8 83.0m0.00 -5.85l5.07 2.92l0.00 5.85l-5.07 2.93l-5.07 -2.92l-0.00 -5.85zM1560.4 82.0m0.00 -5.85l5.07 2.92l0.00 5.85l-5.07 2.93l-5.07 -2.92l-0.00 -5.85zM1560.9 81.1m0.00 -5.85l5.07 2.92l0.00 5.85l-5.07 2.93l-5.07 -2.92l-0.00 -5.85zM1561.4 80.3m0.00 -5.85l5.07 2.92l0.00 5.85l-5.07 2.93l-5.07 -2.92l-0.00 -5.85zM1561.9 79.7m0.00 -5.85l5.07 2.92l0.00 5.85l-5.07 2.93l-5.07 -2.92l-0.00 -5.85zM1562.5 79.3m0.00 -5.85l5.07 2.92l0.00 5.85l-5.07 2.93l-5.07 -2.92l-0.00 -5.85zM1563.0 78.8m0.00 -5.85l5.07 2.92l0.00 5.85l-5.07 2.93l-5.07 -2.92l-0.00 -5.85zM1563.5 78.4m0.00 -5.85l5.07 2.92l0.00 5.85l-5.07 2.93l-5.07 -2.92l-0.00 -5.85zM1564.0 78.0m0.00 -5.85l5.07 2.92l0.00 5.85l-5.07 2.93l-5.07 -2.92l-0.00 -5.85zM1564.5 77.7m0.00 -5.85l5.07 2.92l0.00 5.85l-5.07 2.93l-5.07 -2.92l-0.00 -5.85zM1565.0 77.3m0.00 -5.85l5.07 2.92l0.00 5.85l-5.07 2.93l-5.07 -2.92l-0.00 -5.85zM1565.6 77.0m0.00 -5.85l5.07 2.92l0.00 5.85l-5.07 2.93l-5.07 -2.92l-0.00 -5.85zM1566.1 76.8m0.00 -5.85l5.07 2.92l0.00 5.85l-5.07 2.93l-5.07 -2.92l-0.00 -5.85zM1566.6 76.6m0.00 -5.85l5.07 2.92l0.00 5.85l-5.07 2.93l-5.07 -2.92l-0.00 -5.85zM1567.1 76.4m0.00 -5.85l5.07 2.92l0.00 5.85l-5.07 2.93l-5.07 -2.92l-0.00 -5.85zM1567.6 76.3m0.00 -5.85l5.07 2.92l0.00 5.85l-5.07 2.93l-5.07 -2.92l-0.00 -5.85zM1568.1 76.3m0.00 -5.85l5.07 2.92l0.00 5.85l-5.07 2.93l-5.07 -2.92l-0.00 -5.85zM1568.6 76.3m0.00 -5.85l5.07 2.92l0.00 5.85l-5.07 2.93l-5.07 -2.92l-0.00 -5.85zM1569.1 76.5m0.00 -5.85l5.07 2.92l0.00 5.85l-5.07 2.93l-5.07 -2.92l-0.00 -5.85zM1569.6 76.8m0.00 -5.85l5.07 2.92l0.00 5.85l-5.07 2.93l-5.07 -2.92l-0.00 -5.85zM1570.1 77.3m0.00 -5.85l5.07 2.92l0.00 5.85l-5.07 2.93l-5.07 -2.92l-0.00 -5.85zM1570.6 78.0m0.00 -5.85l5.07 2.92l0.00 5.85l-5.07 2.93l-5.07 -2.92l-0.00 -5.85zM1571.1 78.7m0.00 -5.85l5.07 2.92l0.00 5.85l-5.07 2.93l-5.07 -2.92l-0.00 -5.85zM1571.6 79.5m0.00 -5.85l5.07 2.92l0.00 5.85l-5.07 2.93l-5.07 -2.92l-0.00 -5.85zM1572.1 80.4m0.00 -5.85l5.07 2.92l0.00 5.85l-5.07 2.93l-5.07 -2.92l-0.00 -5.85zM1572.6 81.4m0.00 -5.85l5.07 2.92l0.00 5.85l-5.07 2.93l-5.07 -2.92l-0.00 -5.85zM1573.0 82.4m0.00 -5.85l5.07 2.92l0.00 5.85l-5.07 2.93l-5.07 -2.92l-0.00 -5.85zM1573.5 83.5m0.00 -5.85l5.07 2.92l0.00 5.85l-5.07 2.93l-5.07 -2.92l-0.00 -5.85zM1574.0 84.5m0.00 -5.85l5.07 2.92l0.00 5.85l-5.07 2.93l-5.07 -2.92l-0.00 -5.85zM1574.5 85.6m0.00 -5.85l5.07 2.92l0.00 5.85l-5.07 2.93l-5.07 -2.92l-0.00 -5.85zM1575.0 86.6m0.00 -5.85l5.07 2.92l0.00 5.85l-5.07 2.93l-5.07 -2.92l-0.00 -5.85zM1575.5 87.9m0.00 -5.85l5.07 2.92l0.00 5.85l-5.07 2.93l-5.07 -2.92l-0.00 -5.85zM1575.9 89.3m0.00 -5.85l5.07 2.92l0.00 5.85l-5.07 2.93l-5.07 -2.92l-0.00 -5.85zM1576.4 90.8m0.00 -5.85l5.07 2.92l0.00 5.85l-5.07 2.93l-5.07 -2.92l-0.00 -5.85zM1576.9 92.5m0.00 -5.85l5.07 2.92l0.00 5.85l-5.07 2.93l-5.07 -2.92l-0.00 -5.85zM1577.4 94.3m0.00 -5.85l5.07 2.92l0.00 5.85l-5.07 2.93l-5.07 -2.92l-0.00 -5.85zM1577.8 96.2m0.00 -5.85l5.07 2.92l0.00 5.85l-5.07 2.93l-5.07 -2.92l-0.00 -5.85zM1578.3 98.1m0.00 -5.85l5.07 2.92l0.00 5.85l-5.07 2.93l-5.07 -2.92l-0.00 -5.85zM1578.8 100.1m0.00 -5.85l5.07 2.92l0.00 5.85l-5.07 2.93l-5.07 -2.92l-0.00 -5.85zM1579.2 102.0m0.00 -5.85l5.07 2.92l0.00 5.85l-5.07 2.93l-5.07 -2.92l-0.00 -5.85zM1579.7 104.0m0.00 -5.85l5.07 2.92l0.00 5.85l-5.07 2.93l-5.07 -2.92l-0.00 -5.85zM1580.2 105.9m0.00 -5.85l5.07 2.92l0.00 5.85l-5.07 2.93l-5.07 -2.92l-0.00 -5.85zM1580.6 107.8m0.00 -5.85l5.07 2.92l0.00 5.85l-5.07 2.93l-5.07 -2.92l-0.00 -5.85zM1581.1 109.6m0.00 -5.85l5.07 2.92l0.00 5.85l-5.07 2.93l-5.07 -2.92l-0.00 -5.85zM1581.6 111.4m0.00 -5.85l5.07 2.92l0.00 5.85l-5.07 2.93l-5.07 -2.92l-0.00 -5.85zM1582.0 113.1m0.00 -5.85l5.07 2.92l0.00 5.85l-5.07 2.93l-5.07 -2.92l-0.00 -5.85zM1582.5 114.9m0.00 -5.85l5.07 2.92l0.00 5.85l-5.07 2.93l-5.07 -2.92l-0.00 -5.85zM1582.9 116.7m0.00 -5.85l5.07 2.92l0.00 5.85l-5.07 2.93l-5.07 -2.92l-0.00 -5.85zM1583.4 118.5m0.00 -5.85l5.07 2.92l0.00 5.85l-5.07 2.93l-5.07 -2.92l-0.00 -5.85zM1583.8 120.3m0.00 -5.85l5.07 2.92l0.00 5.85l-5.07 2.93l-5.07 -2.92l-0.00 -5.85zM1584.3 122.1m0.00 -5.85l5.07 2.92l0.00 5.85l-5.07 2.93l-5.07 -2.92l-0.00 -5.85zM1584.7 123.9m0.00 -5.85l5.07 2.92l0.00 5.85l-5.07 2.93l-5.07 -2.92l-0.00 -5.85zM1585.2 125.6m0.00 -5.85l5.07 2.92l0.00 5.85l-5.07 2.93l-5.07 -2.92l-0.00 -5.85zM1585.6 127.3m0.00 -5.85l5.07 2.92l0.00 5.85l-5.07 2.93l-5.07 -2.92l-0.00 -5.85zM1586.1 129.0m0.00 -5.85l5.07 2.92l0.00 5.85l-5.07 2.93l-5.07 -2.92l-0.00 -5.85zM1586.5 130.6m0.00 -5.85l5.07 2.92l0.00 5.85l-5.07 2.93l-5.07 -2.92l-0.00 -5.85zM1587.0 132.2m0.00 -5.85l5.07 2.92l0.00 5.85l-5.07 2.93l-5.07 -2.92l-0.00 -5.85zM1587.4 133.7m0.00 -5.85l5.07 2.92l0.00 5.85l-5.07 2.93l-5.07 -2.92l-0.00 -5.85zM1587.9 135.1m0.00 -5.85l5.07 2.92l0.00 5.85l-5.07 2.93l-5.07 -2.92l-0.00 -5.85zM1588.3 136.5m0.00 -5.85l5.07 2.92l0.00 5.85l-5.07 2.93l-5.07 -2.92l-0.00 -5.85zM1588.7 137.9m0.00 -5.85l5.07 2.92l0.00 5.85l-5.07 2.93l-5.07 -2.92l-0.00 -5.85zM1589.2 139.2m0.00 -5.85l5.07 2.92l0.00 5.85l-5.07 2.93l-5.07 -2.92l-0.00 -5.85zM1589.6 140.6m0.00 -5.85l5.07 2.92l0.00 5.85l-5.07 2.93l-5.07 -2.92l-0.00 -5.85zM1590.1 141.9m0.00 -5.85l5.07 2.92l0.00 5.85l-5.07 2.93l-5.07 -2.92l-0.00 -5.85zM1590.5 143.2m0.00 -5.85l5.07 2.92l0.00 5.85l-5.07 2.93l-5.07 -2.92l-0.00 -5.85zM1590.9 144.4m0.00 -5.85l5.07 2.92l0.00 5.85l-5.07 2.93l-5.07 -2.92l-0.00 -5.85zM1591.4 145.7m0.00 -5.85l5.07 2.92l0.00 5.85l-5.07 2.93l-5.07 -2.92l-0.00 -5.85zM1591.8 146.8m0.00 -5.85l5.07 2.92l0.00 5.85l-5.07 2.93l-5.07 -2.92l-0.00 -5.85zM1592.2 147.9m0.00 -5.85l5.07 2.92l0.00 5.85l-5.07 2.93l-5.07 -2.92l-0.00 -5.85zM1592.6 149.0m0.00 -5.85l5.07 2.92l0.00 5.85l-5.07 2.93l-5.07 -2.92l-0.00 -5.85zM1593.1 150.0m0.00 -5.85l5.07 2.92l0.00 5.85l-5.07 2.93l-5.07 -2.92l-0.00 -5.85zM1593.5 150.9m0.00 -5.85l5.07 2.92l0.00 5.85l-5.07 2.93l-5.07 -2.92l-0.00 -5.85zM1593.9 151.8m0.00 -5.85l5.07 2.92l0.00 5.85l-5.07 2.93l-5.07 -2.92l-0.00 -5.85zM1594.3 152.6m0.00 -5.85l5.07 2.92l0.00 5.85l-5.07 2.93l-5.07 -2.92l-0.00 -5.85zM1594.8 153.5m0.00 -5.85l5.07 2.92l0.00 5.85l-5.07 2.93l-5.07 -2.92l-0.00 -5.85zM1595.2 154.3m0.00 -5.85l5.07 2.92l0.00 5.85l-5.07 2.93l-5.07 -2.92l-0.00 -5.85zM1595.6 155.1m0.00 -5.85l5.07 2.92l0.00 5.85l-5.07 2.93l-5.07 -2.92l-0.00 -5.85zM1596.0 155.9m0.00 -5.85l5.07 2.92l0.00 5.85l-5.07 2.93l-5.07 -2.92l-0.00 -5.85zM1596.4 156.5m0.00 -5.85l5.07 2.92l0.00 5.85l-5.07 2.93l-5.07 -2.92l-0.00 -5.85zM1596.9 156.9m0.00 -5.85l5.07 2.92l0.00 5.85l-5.07 2.93l-5.07 -2.92l-0.00 -5.85zM1597.3 157.1m0.00 -5.85l5.07 2.92l0.00 5.85l-5.07 2.93l-5.07 -2.92l-0.00 -5.85zM1597.7 157.0m0.00 -5.85l5.07 2.92l0.00 5.85l-5.07 2.93l-5.07 -2.92l-0.00 -5.85zM1598.1 156.9m0.00 -5.85l5.07 2.92l0.00 5.85l-5.07 2.93l-5.07 -2.92l-0.00 -5.85zM1598.5 156.6m0.00 -5.85l5.07 2.92l0.00 5.85l-5.07 2.93l-5.07 -2.92l-0.00 -5.85zM1598.9 156.3m0.00 -5.85l5.07 2.92l0.00 5.85l-5.07 2.93l-5.07 -2.92l-0.00 -5.85zM1599.3 155.8m0.00 -5.85l5.07 2.92l0.00 5.85l-5.07 2.93l-5.07 -2.92l-0.00 -5.85zM1599.7 155.3m0.00 -5.85l5.07 2.92l0.00 5.85l-5.07 2.93l-5.07 -2.92l-0.00 -5.85zM1600.2 154.7m0.00 -5.85l5.07 2.92l0.00 5.85l-5.07 2.93l-5.07 -2.92l-0.00 -5.85zM1600.6 154.1m0.00 -5.85l5.07 2.92l0.00 5.85l-5.07 2.93l-5.07 -2.92l-0.00 -5.85zM1601.0 153.4m0.00 -5.85l5.07 2.92l0.00 5.85l-5.07 2.93l-5.07 -2.92l-0.00 -5.85zM1601.4 152.6m0.00 -5.85l5.07 2.92l0.00 5.85l-5.07 2.93l-5.07 -2.92l-0.00 -5.85zM1601.8 151.8m0.00 -5.85l5.07 2.92l0.00 5.85l-5.07 2.93l-5.07 -2.92l-0.00 -5.85zM1602.2 151.0m0.00 -5.85l5.07 2.92l0.00 5.85l-5.07 2.93l-5.07 -2.92l-0.00 -5.85zM1602.6 150.2m0.00 -5.85l5.07 2.92l0.00 5.85l-5.07 2.93l-5.07 -2.92l-0.00 -5.85zM1603.0 149.3m0.00 -5.85l5.07 2.92l0.00 5.85l-5.07 2.93l-5.07 -2.92l-0.00 -5.85zM1603.4 148.5m0.00 -5.85l5.07 2.92l0.00 5.85l-5.07 2.93l-5.07 -2.92l-0.00 -5.85zM1603.8 147.6m0.00 -5.85l5.07 2.92l0.00 5.85l-5.07 2.93l-5.07 -2.92l-0.00 -5.85zM1604.2 146.7m0.00 -5.85l5.07 2.92l0.00 5.85l-5.07 2.93l-5.07 -2.92l-0.00 -5.85zM1604.6 145.7m0.00 -5.85l5.07 2.92l0.00 5.85l-5.07 2.93l-5.07 -2.92l-0.00 -5.85zM1605.0 144.5m0.00 -5.85l5.07 2.92l0.00 5.85l-5.07 2.93l-5.07 -2.92l-0.00 -5.85zM1605.3 143.3m0.00 -5.85l5.07 2.92l0.00 5.85l-5.07 2.93l-5.07 -2.92l-0.00 -5.85zM1605.7 141.9m0.00 -5.85l5.07 2.92l0.00 5.85l-5.07 2.93l-5.07 -2.92l-0.00 -5.85zM1606.1 140.4m0.00 -5.85l5.07 2.92l0.00 5.85l-5.07 2.93l-5.07 -2.92l-0.00 -5.85zM1606.5 138.9m0.00 -5.85l5.07 2.92l0.00 5.85l-5.07 2.93l-5.07 -2.92l-0.00 -5.85zM1606.9 137.3m0.00 -5.85l5.07 2.92l0.00 5.85l-5.07 2.93l-5.07 -2.92l-0.00 -5.85zM1607.3 135.7m0.00 -5.85l5.07 2.92l0.00 5.85l-5.07 2.93l-5.07 -2.92l-0.00 -5.85zM1607.7 134.0m0.00 -5.85l5.07 2.92l0.00 5.85l-5.07 2.93l-5.07 -2.92l-0.00 -5.85zM1608.1 132.4m0.00 -5.85l5.07 2.92l0.00 5.85l-5.07 2.93l-5.07 -2.92l-0.00 -5.85zM1608.5 130.7m0.00 -5.85l5.07 2.92l0.00 5.85l-5.07 2.93l-5.07 -2.92l-0.00 -5.85zM1608.8 129.1m0.00 -5.85l5.07 2.92l0.00 5.85l-5.07 2.93l-5.07 -2.92l-0.00 -5.85zM1609.2 127.5m0.00 -5.85l5.07 2.92l0.00 5.85l-5.07 2.93l-5.07 -2.92l-0.00 -5.85zM1609.6 125.9m0.00 -5.85l5.07 2.92l0.00 5.85l-5.07 2.93l-5.07 -2.92l-0.00 -5.85zM1610.0 124.4m0.00 -5.85l5.07 2.92l0.00 5.85l-5.07 2.93l-5.07 -2.92l-0.00 -5.85zM1610.4 122.9m0.00 -5.85l5.07 2.92l0.00 5.85l-5.07 2.93l-5.07 -2.92l-0.00 -5.85zM1610.8 121.5m0.00 -5.85l5.07 2.92l0.00 5.85l-5.07 2.93l-5.07 -2.92l-0.00 -5.85zM1611.1 120.1m0.00 -5.85l5.07 2.92l0.00 5.85l-5.07 2.93l-5.07 -2.92l-0.00 -5.85zM1611.5 118.6m0.00 -5.85l5.07 2.92l0.00 5.85l-5.07 2.93l-5.07 -2.92l-0.00 -5.85zM1611.9 117.1m0.00 -5.85l5.07 2.92l0.00 5.85l-5.07 2.93l-5.07 -2.92l-0.00 -5.85zM1612.3 115.7m0.00 -5.85l5.07 2.92l0.00 5.85l-5.07 2.93l-5.07 -2.92l-0.00 -5.85zM1612.6 114.2m0.00 -5.85l5.07 2.92l0.00 5.85l-5.07 2.93l-5.07 -2.92l-0.00 -5.85zM1613.0 112.8m0.00 -5.85l5.07 2.92l0.00 5.85l-5.07 2.93l-5.07 -2.92l-0.00 -5.85zM1613.4 111.3m0.00 -5.85l5.07 2.92l0.00 5.85l-5.07 2.93l-5.07 -2.92l-0.00 -5.85zM1613.8 109.9m0.00 -5.85l5.07 2.92l0.00 5.85l-5.07 2.93l-5.07 -2.92l-0.00 -5.85zM1614.1 108.5m0.00 -5.85l5.07 2.92l0.00 5.85l-5.07 2.93l-5.07 -2.92l-0.00 -5.85zM1614.5 107.1m0.00 -5.85l5.07 2.92l0.00 5.85l-5.07 2.93l-5.07 -2.92l-0.00 -5.85zM1614.9 105.7m0.00 -5.85l5.07 2.92l0.00 5.85l-5.07 2.93l-5.07 -2.92l-0.00 -5.85zM1615.2 104.4m0.00 -5.85l5.07 2.92l0.00 5.85l-5.07 2.93l-5.07 -2.92l-0.00 -5.85zM1615.6 103.1m0.00 -5.85l5.07 2.92l0.00 5.85l-5.07 2.93l-5.07 -2.92l-0.00 -5.85zM1616.0 101.8m0.00 -5.85l5.07 2.92l0.00 5.85l-5.07 2.93l-5.07 -2.92l-0.00 -5.85zM1616.3 100.6m0.00 -5.85l5.07 2.92l0.00 5.85l-5.07 2.93l-5.07 -2.92l-0.00 -5.85zM1616.7 99.4m0.00 -5.85l5.07 2.92l0.00 5.85l-5.07 2.93l-5.07 -2.92l-0.00 -5.85zM1617.1 98.2m0.00 -5.85l5.07 2.92l0.00 5.85l-5.07 2.93l-5.07 -2.92l-0.00 -5.85zM1617.4 97.0m0.00 -5.85l5.07 2.92l0.00 5.85l-5.07 2.93l-5.07 -2.92l-0.00 -5.85zM1617.8 95.9m0.00 -5.85l5.07 2.92l0.00 5.85l-5.07 2.93l-5.07 -2.92l-0.00 -5.85zM1618.2 94.7m0.00 -5.85l5.07 2.92l0.00 5.85l-5.07 2.93l-5.07 -2.92l-0.00 -5.85zM1618.5 93.5m0.00 -5.85l5.07 2.92l0.00 5.85l-5.07 2.93l-5.07 -2.92l-0.00 -5.85zM1618.9 92.3m0.00 -5.85l5.07 2.92l0.00 5.85l-5.07 2.93l-5.07 -2.92l-0.00 -5.85zM1619.2 91.2m0.00 -5.85l5.07 2.92l0.00 5.85l-5.07 2.93l-5.07 -2.92l-0.00 -5.85zM1619.6 90.0m0.00 -5.85l5.07 2.92l0.00 5.85l-5.07 2.93l-5.07 -2.92l-0.00 -5.85zM1619.9 88.9m0.00 -5.85l5.07 2.92l0.00 5.85l-5.07 2.93l-5.07 -2.92l-0.00 -5.85zM1620.3 87.9m0.00 -5.85l5.07 2.92l0.00 5.85l-5.07 2.93l-5.07 -2.92l-0.00 -5.85zM1620.7 86.8m0.00 -5.85l5.07 2.92l0.00 5.85l-5.07 2.93l-5.07 -2.92l-0.00 -5.85zM1621.0 85.9m0.00 -5.85l5.07 2.92l0.00 5.85l-5.07 2.93l-5.07 -2.92l-0.00 -5.85zM1621.4 84.9m0.00 -5.85l5.07 2.92l0.00 5.85l-5.07 2.93l-5.07 -2.92l-0.00 -5.85zM1621.7 84.1m0.00 -5.85l5.07 2.92l0.00 5.85l-5.07 2.93l-5.07 -2.92l-0.00 -5.85zM1622.1 83.3m0.00 -5.85l5.07 2.92l0.00 5.85l-5.07 2.93l-5.07 -2.92l-0.00 -5.85zM1622.4 82.6m0.00 -5.85l5.07 2.92l0.00 5.85l-5.07 2.93l-5.07 -2.92l-0.00 -5.85zM1622.8 81.9m0.00 -5.85l5.07 2.92l0.00 5.85l-5.07 2.93l-5.07 -2.92l-0.00 -5.85zM1623.1 81.3m0.00 -5.85l5.07 2.92l0.00 5.85l-5.07 2.93l-5.07 -2.92l-0.00 -5.85zM1623.5 80.8m0.00 -5.85l5.07 2.92l0.00 5.85l-5.07 2.93l-5.07 -2.92l-0.00 -5.85zM1623.8 80.3m0.00 -5.85l5.07 2.92l0.00 5.85l-5.07 2.93l-5.07 -2.92l-0.00 -5.85zM1624.2 79.8m0.00 -5.85l5.07 2.92l0.00 5.85l-5.07 2.93l-5.07 -2.92l-0.00 -5.85zM1624.5 79.3m0.00 -5.85l5.07 2.92l0.00 5.85l-5.07 2.93l-5.07 -2.92l-0.00 -5.85zM1624.9 78.8m0.00 -5.85l5.07 2.92l0.00 5.85l-5.07 2.93l-5.07 -2.92l-0.00 -5.85zM1625.2 78.4m0.00 -5.85l5.07 2.92l0.00 5.85l-5.07 2.93l-5.07 -2.92l-0.00 -5.85zM1625.5 77.9m0.00 -5.85l5.07 2.92l0.00 5.85l-5.07 2.93l-5.07 -2.92l-0.00 -5.85zM1625.9 77.6m0.00 -5.85l5.07 2.92l0.00 5.85l-5.07 2.93l-5.07 -2.92l-0.00 -5.85zM1626.2 77.2m0.00 -5.85l5.07 2.92l0.00 5.85l-5.07 2.93l-5.07 -2.92l-0.00 -5.85zM1626.6 76.9m0.00 -5.85l5.07 2.92l0.00 5.85l-5.07 2.93l-5.07 -2.92l-0.00 -5.85zM1626.9 76.6m0.00 -5.85l5.07 2.92l0.00 5.85l-5.07 2.93l-5.07 -2.92l-0.00 -5.85zM1627.3 76.5m0.00 -5.85l5.07 2.92l0.00 5.85l-5.07 2.93l-5.07 -2.92l-0.00 -5.85zM1627.6 76.3m0.00 -5.85l5.07 2.92l0.00 5.85l-5.07 2.93l-5.07 -2.92l-0.00 -5.85zM1627.9 76.3m0.00 -5.85l5.07 2.92l0.00 5.85l-5.07 2.93l-5.07 -2.92l-0.00 -5.85zM1628.3 76.3m0.00 -5.85l5.07 2.92l0.00 5.85l-5.07 2.93l-5.07 -2.92l-0.00 -5.85zM1628.6 76.6m0.00 -5.85l5.07 2.92l0.00 5.85l-5.07 2.93l-5.07 -2.92l-0.00 -5.85zM1628.9 77.2m0.00 -5.85l5.07 2.92l0.00 5.85l-5.07 2.93l-5.07 -2.92l-0.00 -5.85zM1629.3 78.1m0.00 -5.85l5.07 2.92l0.00 5.85l-5.07 2.93l-5.07 -2.92l-0.00 -5.85zM1629.6 79.1m0.00 -5.85l5.07 2.92l0.00 5.85l-5.07 2.93l-5.07 -2.92l-0.00 -5.85zM1630.0 80.3m0.00 -5.85l5.07 2.92l0.00 5.85l-5.07 2.93l-5.07 -2.92l-0.00 -5.85zM1630.3 81.7m0.00 -5.85l5.07 2.92l0.00 5.85l-5.07 2.93l-5.07 -2.92l-0.00 -5.85zM1630.6 83.2m0.00 -5.85l5.07 2.92l0.00 5.85l-5.07 2.93l-5.07 -2.92l-0.00 -5.85zM1631.0 84.7m0.00 -5.85l5.07 2.92l0.00 5.85l-5.07 2.93l-5.07 -2.92l-0.00 -5.85zM1631.3 86.3m0.00 -5.85l5.07 2.92l0.00 5.85l-5.07 2.93l-5.07 -2.92l-0.00 -5.85zM1631.6 88.0m0.00 -5.85l5.07 2.92l0.00 5.85l-5.07 2.93l-5.07 -2.92l-0.00 -5.85zM1631.9 89.6m0.00 -5.85l5.07 2.92l0.00 5.85l-5.07 2.93l-5.07 -2.92l-0.00 -5.85zM1632.3 91.2m0.00 -5.85l5.07 2.92l0.00 5.85l-5.07 2.93l-5.07 -2.92l-0.00 -5.85zM1632.6 92.7m0.00 -5.85l5.07 2.92l0.00 5.85l-5.07 2.93l-5.07 -2.92l-0.00 -5.85zM1632.9 94.2m0.00 -5.85l5.07 2.92l0.00 5.85l-5.07 2.93l-5.07 -2.92l-0.00 -5.85zM1633.3 95.6m0.00 -5.85l5.07 2.92l0.00 5.85l-5.07 2.93l-5.07 -2.92l-0.00 -5.85zM1633.6 97.1m0.00 -5.85l5.07 2.92l0.00 5.85l-5.07 2.93l-5.07 -2.92l-0.00 -5.85zM1633.9 98.7m0.00 -5.85l5.07 2.92l0.00 5.85l-5.07 2.93l-5.07 -2.92l-0.00 -5.85zM1634.2 100.3m0.00 -5.85l5.07 2.92l0.00 5.85l-5.07 2.93l-5.07 -2.92l-0.00 -5.85zM1634.6 102.0m0.00 -5.85l5.07 2.92l0.00 5.85l-5.07 2.93l-5.07 -2.92l-0.00 -5.85zM1634.9 103.7m0.00 -5.85l5.07 2.92l0.00 5.85l-5.07 2.93l-5.07 -2.92l-0.00 -5.85zM1635.2 105.4m0.00 -5.85l5.07 2.92l0.00 5.85l-5.07 2.93l-5.07 -2.92l-0.00 -5.85zM1635.5 107.1m0.00 -5.85l5.07 2.92l0.00 5.85l-5.07 2.93l-5.07 -2.92l-0.00 -5.85zM1635.8 108.9m0.00 -5.85l5.07 2.92l0.00 5.85l-5.07 2.93l-5.07 -2.92l-0.00 -5.85zM1636.2 110.5m0.00 -5.85l5.07 2.92l0.00 5.85l-5.07 2.93l-5.07 -2.92l-0.00 -5.85zM1636.5 112.2m0.00 -5.85l5.07 2.92l0.00 5.85l-5.07 2.93l-5.07 -2.92l-0.00 -5.85zM1636.8 113.8m0.00 -5.85l5.07 2.92l0.00 5.85l-5.07 2.93l-5.07 -2.92l-0.00 -5.85zM1637.1 115.4m0.00 -5.85l5.07 2.92l0.00 5.85l-5.07 2.93l-5.07 -2.92l-0.00 -5.85zM1637.4 116.9m0.00 -5.85l5.07 2.92l0.00 5.85l-5.07 2.93l-5.07 -2.92l-0.00 -5.85zM1637.8 118.4m0.00 -5.85l5.07 2.92l0.00 5.85l-5.07 2.93l-5.07 -2.92l-0.00 -5.85zM1638.1 119.8m0.00 -5.85l5.07 2.92l0.00 5.85l-5.07 2.93l-5.07 -2.92l-0.00 -5.85zM1638.4 121.2m0.00 -5.85l5.07 2.92l0.00 5.85l-5.07 2.93l-5.07 -2.92l-0.00 -5.85zM1638.7 122.6m0.00 -5.85l5.07 2.92l0.00 5.85l-5.07 2.93l-5.07 -2.92l-0.00 -5.85zM1639.0 124.1m0.00 -5.85l5.07 2.92l0.00 5.85l-5.07 2.93l-5.07 -2.92l-0.00 -5.85zM1639.3 125.5m0.00 -5.85l5.07 2.92l0.00 5.85l-5.07 2.93l-5.07 -2.92l-0.00 -5.85zM1639.7 126.8m0.00 -5.85l5.07 2.92l0.00 5.85l-5.07 2.93l-5.07 -2.92l-0.00 -5.85zM1640.0 128.2m0.00 -5.85l5.07 2.92l0.00 5.85l-5.07 2.93l-5.07 -2.92l-0.00 -5.85zM1640.3 129.5m0.00 -5.85l5.07 2.92l0.00 5.85l-5.07 2.93l-5.07 -2.92l-0.00 -5.85zM1640.6 130.8m0.00 -5.85l5.07 2.92l0.00 5.85l-5.07 2.93l-5.07 -2.92l-0.00 -5.85zM1640.9 132.0m0.00 -5.85l5.07 2.92l0.00 5.85l-5.07 2.93l-5.07 -2.92l-0.00 -5.85zM1641.2 133.2m0.00 -5.85l5.07 2.92l0.00 5.85l-5.07 2.93l-5.07 -2.92l-0.00 -5.85zM1641.5 134.3m0.00 -5.85l5.07 2.92l0.00 5.85l-5.07 2.93l-5.07 -2.92l-0.00 -5.85zM1641.8 135.4m0.00 -5.85l5.07 2.92l0.00 5.85l-5.07 2.93l-5.07 -2.92l-0.00 -5.85zM1642.1 136.3m0.00 -5.85l5.07 2.92l0.00 5.85l-5.07 2.93l-5.07 -2.92l-0.00 -5.85zM1642.4 137.2m0.00 -5.85l5.07 2.92l0.00 5.85l-5.07 2.93l-5.07 -2.92l-0.00 -5.85zM1642.8 138.0m0.00 -5.85l5.07 2.92l0.00 5.85l-5.07 2.93l-5.07 -2.92l-0.00 -5.85zM1643.1 138.8m0.00 -5.85l5.07 2.92l0.00 5.85l-5.07 2.93l-5.07 -2.92l-0.00 -5.85zM1643.4 139.6m0.00 -5.85l5.07 2.92l0.00 5.85l-5.07 2.93l-5.07 -2.92l-0.00 -5.85zM1643.7 140.4m0.00 -5.85l5.07 2.92l0.00 5.85l-5.07 2.93l-5.07 -2.92l-0.00 -5.85zM1644.0 141.2m0.00 -5.85l5.07 2.92l0.00 5.85l-5.07 2.93l-5.07 -2.92l-0.00 -5.85zM1644.3 142.0m0.00 -5.85l5.07 2.92l0.00 5.85l-5.07 2.93l-5.07 -2.92l-0.00 -5.85zM1644.6 142.8m0.00 -5.85l5.07 2.92l0.00 5.85l-5.07 2.93l-5.07 -2.92l-0.00 -5.85zM1644.9 143.5m0.00 -5.85l5.07 2.92l0.00 5.85l-5.07 2.93l-5.07 -2.92l-0.00 -5.85zM1645.2 144.3m0.00 -5.85l5.07 2.92l0.00 5.85l-5.07 2.93l-5.07 -2.92l-0.00 -5.85zM1645.5 145.0m0.00 -5.85l5.07 2.92l0.00 5.85l-5.07 2.93l-5.07 -2.92l-0.00 -5.85zM1645.8 145.7m0.00 -5.85l5.07 2.92l0.00 5.85l-5.07 2.93l-5.07 -2.92l-0.00 -5.85zM1646.1 146.4m0.00 -5.85l5.07 2.92l0.00 5.85l-5.07 2.93l-5.07 -2.92l-0.00 -5.85zM1646.4 147.1m0.00 -5.85l5.07 2.92l0.00 5.85l-5.07 2.93l-5.07 -2.92l-0.00 -5.85zM1646.7 147.7m0.00 -5.85l5.07 2.92l0.00 5.85l-5.07 2.93l-5.07 -2.92l-0.00 -5.85zM1647.0 148.3m0.00 -5.85l5.07 2.92l0.00 5.85l-5.07 2.93l-5.07 -2.92l-0.00 -5.85zM1647.3 148.9m0.00 -5.85l5.07 2.92l0.00 5.85l-5.07 2.93l-5.07 -2.92l-0.00 -5.85zM1647.6 149.4m0.00 -5.85l5.07 2.92l0.00 5.85l-5.07 2.93l-5.07 -2.92l-0.00 -5.85zM1647.9 149.9m0.00 -5.85l5.07 2.92l0.00 5.85l-5.07 2.93l-5.07 -2.92l-0.00 -5.85zM1648.2 150.4m0.00 -5.85l5.07 2.92l0.00 5.85l-5.07 2.93l-5.07 -2.92l-0.00 -5.85zM1648.5 150.8m0.00 -5.85l5.07 2.92l0.00 5.85l-5.07 2.93l-5.07 -2.92l-0.00 -5.85zM1648.8 151.1m0.00 -5.85l5.07 2.92l0.00 5.85l-5.07 2.93l-5.07 -2.92l-0.00 -5.85zM1649.1 151.5m0.00 -5.85l5.07 2.92l0.00 5.85l-5.07 2.93l-5.07 -2.92l-0.00 -5.85zM1649.4 151.7m0.00 -5.85l5.07 2.92l0.00 5.85l-5.07 2.93l-5.07 -2.92l-0.00 -5.85zM1649.6 152.0m0.00 -5.85l5.07 2.92l0.00 5.85l-5.07 2.93l-5.07 -2.92l-0.00 -5.85zM1649.9 152.1m0.00 -5.85l5.07 2.92l0.00 5.85l-5.07 2.93l-5.07 -2.92l-0.00 -5.85zM1650.2 152.2m0.00 -5.85l5.07 2.92l0.00 5.85l-5.07 2.93l-5.07 -2.92l-0.00 -5.85zM1650.5 152.3m0.00 -5.85l5.07 2.92l0.00 5.85l-5.07 2.93l-5.07 -2.92l-0.00 -5.85zM1650.8 152.3m0.00 -5.85l5.07 2.92l0.00 5.85l-5.07 2.93l-5.07 -2.92l-0.00 -5.85zM1651.1 152.2m0.00 -5.85l5.07 2.92l0.00 5.85l-5.07 2.93l-5.07 -2.92l-0.00 -5.85zM1651.4 152.1m0.00 -5.85l5.07 2.92l0.00 5.85l-5.07 2.93l-5.07 -2.92l-0.00 -5.85zM1651.7 151.9m0.00 -5.85l5.07 2.92l0.00 5.85l-5.07 2.93l-5.07 -2.92l-0.00 -5.85zM1652.0 151.6m0.00 -5.85l5.07 2.92l0.00 5.85l-5.07 2.93l-5.07 -2.92l-0.00 -5.85zM1652.3 151.3m0.00 -5.85l5.07 2.92l0.00 5.85l-5.07 2.93l-5.07 -2.92l-0.00 -5.85zM1652.5 150.9m0.00 -5.85l5.07 2.92l0.00 5.85l-5.07 2.93l-5.07 -2.92l-0.00 -5.85zM1652.8 150.5m0.00 -5.85l5.07 2.92l0.00 5.85l-5.07 2.93l-5.07 -2.92l-0.00 -5.85zM1653.1 150.0m0.00 -5.85l5.07 2.92l0.00 5.85l-5.07 2.93l-5.07 -2.92l-0.00 -5.85zM1653.4 149.5m0.00 -5.85l5.07 2.92l0.00 5.85l-5.07 2.93l-5.07 -2.92l-0.00 -5.85zM1653.7 149.0m0.00 -5.85l5.07 2.92l0.00 5.85l-5.07 2.93l-5.07 -2.92l-0.00 -5.85zM1654.0 148.4m0.00 -5.85l5.07 2.92l0.00 5.85l-5.07 2.93l-5.07 -2.92l-0.00 -5.85zM1654.3 147.8m0.00 -5.85l5.07 2.92l0.00 5.85l-5.07 2.93l-5.07 -2.92l-0.00 -5.85zM1654.5 147.2m0.00 -5.85l5.07 2.92l0.00 5.85l-5.07 2.93l-5.07 -2.92l-0.00 -5.85zM1654.8 146.6m0.00 -5.85l5.07 2.92l0.00 5.85l-5.07 2.93l-5.07 -2.92l-0.00 -5.85zM1655.1 145.9m0.00 -5.85l5.07 2.92l0.00 5.85l-5.07 2.93l-5.07 -2.92l-0.00 -5.85zM1655.4 145.2m0.00 -5.85l5.07 2.92l0.00 5.85l-5.07 2.93l-5.07 -2.92l-0.00 -5.85zM1655.7 144.6m0.00 -5.85l5.07 2.92l0.00 5.85l-5.07 2.93l-5.07 -2.92l-0.00 -5.85zM1656.0 143.9m0.00 -5.85l5.07 2.92l0.00 5.85l-5.07 2.93l-5.07 -2.92l-0.00 -5.85zM1656.2 143.2m0.00 -5.85l5.07 2.92l0.00 5.85l-5.07 2.93l-5.07 -2.92l-0.00 -5.85zM1656.5 142.5m0.00 -5.85l5.07 2.92l0.00 5.85l-5.07 2.93l-5.07 -2.92l-0.00 -5.85zM1656.8 141.8m0.00 -5.85l5.07 2.92l0.00 5.85l-5.07 2.93l-5.07 -2.92l-0.00 -5.85zM1657.1 141.1m0.00 -5.85l5.07 2.92l0.00 5.85l-5.07 2.93l-5.07 -2.92l-0.00 -5.85zM1657.4 140.4m0.00 -5.85l5.07 2.92l0.00 5.85l-5.07 2.93l-5.07 -2.92l-0.00 -5.85zM1657.6 139.7m0.00 -5.85l5.07 2.92l0.00 5.85l-5.07 2.93l-5.07 -2.92l-0.00 -5.85zM1657.9 138.8m0.00 -5.85l5.07 2.92l0.00 5.85l-5.07 2.93l-5.07 -2.92l-0.00 -5.85zM1658.2 137.9m0.00 -5.85l5.07 2.92l0.00 5.85l-5.07 2.93l-5.07 -2.92l-0.00 -5.85zM1658.5 136.9m0.00 -5.85l5.07 2.92l0.00 5.85l-5.07 2.93l-5.07 -2.92l-0.00 -5.85zM1658.7 135.9m0.00 -5.85l5.07 2.92l0.00 5.85l-5.07 2.93l-5.07 -2.92l-0.00 -5.85zM1659.0 134.9m0.00 -5.85l5.07 2.92l0.00 5.85l-5.07 2.93l-5.07 -2.92l-0.00 -5.85zM1659.3 133.8m0.00 -5.85l5.07 2.92l0.00 5.85l-5.07 2.93l-5.07 -2.92l-0.00 -5.85zM1659.6 132.7m0.00 -5.85l5.07 2.92l0.00 5.85l-5.07 2.93l-5.07 -2.92l-0.00 -5.85zM1659.8 131.6m0.00 -5.85l5.07 2.92l0.00 5.85l-5.07 2.93l-5.07 -2.92l-0.00 -5.85zM1660.1 130.4m0.00 -5.85l5.07 2.92l0.00 5.85l-5.07 2.93l-5.07 -2.92l-0.00 -5.85zM1660.4 129.3m0.00 -5.85l5.07 2.92l0.00 5.85l-5.07 2.93l-5.07 -2.92l-0.00 -5.85zM1660.7 128.2m0.00 -5.85l5.07 2.92l0.00 5.85l-5.07 2.93l-5.07 -2.92l-0.00 -5.85zM1660.9 127.1m0.00 -5.85l5.07 2.92l0.00 5.85l-5.07 2.93l-5.07 -2.92l-0.00 -5.85zM1661.2 126.0m0.00 -5.85l5.07 2.92l0.00 5.85l-5.07 2.93l-5.07 -2.92l-0.00 -5.85zM1661.5 125.0m0.00 -5.85l5.07 2.92l0.00 5.85l-5.07 2.93l-5.07 -2.92l-0.00 -5.85zM1661.7 124.0m0.00 -5.85l5.07 2.92l0.00 5.85l-5.07 2.93l-5.07 -2.92l-0.00 -5.85zM1662.0 123.0m0.00 -5.85l5.07 2.92l0.00 5.85l-5.07 2.93l-5.07 -2.92l-0.00 -5.85zM1662.3 122.1m0.00 -5.85l5.07 2.92l0.00 5.85l-5.07 2.93l-5.07 -2.92l-0.00 -5.85zM1662.6 121.2m0.00 -5.85l5.07 2.92l0.00 5.85l-5.07 2.93l-5.07 -2.92l-0.00 -5.85zM1662.8 120.3m0.00 -5.85l5.07 2.92l0.00 5.85l-5.07 2.93l-5.07 -2.92l-0.00 -5.85zM1663.1 119.4m0.00 -5.85l5.07 2.92l0.00 5.85l-5.07 2.93l-5.07 -2.92l-0.00 -5.85zM1663.4 118.5m0.00 -5.85l5.07 2.92l0.00 5.85l-5.07 2.93l-5.07 -2.92l-0.00 -5.85zM1663.6 117.6m0.00 -5.85l5.07 2.92l0.00 5.85l-5.07 2.93l-5.07 -2.92l-0.00 -5.85zM1663.9 116.7m0.00 -5.85l5.07 2.92l0.00 5.85l-5.07 2.93l-5.07 -2.92l-0.00 -5.85zM1664.2 115.9m0.00 -5.85l5.07 2.92l0.00 5.85l-5.07 2.93l-5.07 -2.92l-0.00 -5.85zM1664.4 115.0m0.00 -5.85l5.07 2.92l0.00 5.85l-5.07 2.93l-5.07 -2.92l-0.00 -5.85zM1664.7 114.2m0.00 -5.85l5.07 2.92l0.00 5.85l-5.07 2.93l-5.07 -2.92l-0.00 -5.85zM1665.0 113.3m0.00 -5.85l5.07 2.92l0.00 5.85l-5.07 2.93l-5.07 -2.92l-0.00 -5.85zM1665.2 112.5m0.00 -5.85l5.07 2.92l0.00 5.85l-5.07 2.93l-5.07 -2.92l-0.00 -5.85zM1665.5 111.6m0.00 -5.85l5.07 2.92l0.00 5.85l-5.07 2.93l-5.07 -2.92l-0.00 -5.85zM1665.8 110.7m0.00 -5.85l5.07 2.92l0.00 5.85l-5.07 2.93l-5.07 -2.92l-0.00 -5.85zM1666.0 109.9m0.00 -5.85l5.07 2.92l0.00 5.85l-5.07 2.93l-5.07 -2.92l-0.00 -5.85zM1666.3 109.0m0.00 -5.85l5.07 2.92l0.00 5.85l-5.07 2.93l-5.07 -2.92l-0.00 -5.85zM1666.5 108.2m0.00 -5.85l5.07 2.92l0.00 5.85l-5.07 2.93l-5.07 -2.92l-0.00 -5.85zM1666.8 107.3m0.00 -5.85l5.07 2.92l0.00 5.85l-5.07 2.93l-5.07 -2.92l-0.00 -5.85zM1667.1 106.4m0.00 -5.85l5.07 2.92l0.00 5.85l-5.07 2.93l-5.07 -2.92l-0.00 -5.85zM1667.3 105.5m0.00 -5.85l5.07 2.92l0.00 5.85l-5.07 2.93l-5.07 -2.92l-0.00 -5.85zM1667.6 104.6m0.00 -5.85l5.07 2.92l0.00 5.85l-5.07 2.93l-5.07 -2.92l-0.00 -5.85zM1667.8 103.7m0.00 -5.85l5.07 2.92l0.00 5.85l-5.07 2.93l-5.07 -2.92l-0.00 -5.85zM1668.1 102.8m0.00 -5.85l5.07 2.92l0.00 5.85l-5.07 2.93l-5.07 -2.92l-0.00 -5.85zM1668.4 101.9m0.00 -5.85l5.07 2.92l0.00 5.85l-5.07 2.93l-5.07 -2.92l-0.00 -5.85zM1668.6 101.0m0.00 -5.85l5.07 2.92l0.00 5.85l-5.07 2.93l-5.07 -2.92l-0.00 -5.85zM1668.9 100.1m0.00 -5.85l5.07 2.92l0.00 5.85l-5.07 2.93l-5.07 -2.92l-0.00 -5.85zM1669.1 99.2m0.00 -5.85l5.07 2.92l0.00 5.85l-5.07 2.93l-5.07 -2.92l-0.00 -5.85zM1669.4 98.3m0.00 -5.85l5.07 2.92l0.00 5.85l-5.07 2.93l-5.07 -2.92l-0.00 -5.85zM1669.7 97.4m0.00 -5.85l5.07 2.92l0.00 5.85l-5.07 2.93l-5.07 -2.92l-0.00 -5.85zM1669.9 96.5m0.00 -5.85l5.07 2.92l0.00 5.85l-5.07 2.93l-5.07 -2.92l-0.00 -5.85zM1670.2 95.6m0.00 -5.85l5.07 2.92l0.00 5.85l-5.07 2.93l-5.07 -2.92l-0.00 -5.85zM1670.4 94.8m0.00 -5.85l5.07 2.92l0.00 5.85l-5.07 2.93l-5.07 -2.92l-0.00 -5.85zM1670.7 94.0m0.00 -5.85l5.07 2.92l0.00 5.85l-5.07 2.93l-5.07 -2.92l-0.00 -5.85zM1670.9 93.1m0.00 -5.85l5.07 2.92l0.00 5.85l-5.07 2.93l-5.07 -2.92l-0.00 -5.85zM1671.2 92.3m0.00 -5.85l5.07 2.92l0.00 5.85l-5.07 2.93l-5.07 -2.92l-0.00 -5.85zM1671.4 91.6m0.00 -5.85l5.07 2.92l0.00 5.85l-5.07 2.93l-5.07 -2.92l-0.00 -5.85zM1671.7 90.8m0.00 -5.85l5.07 2.92l0.00 5.85l-5.07 2.93l-5.07 -2.92l-0.00 -5.85zM1671.9 90.1m0.00 -5.85l5.07 2.92l0.00 5.85l-5.07 2.93l-5.07 -2.92l-0.00 -5.85zM1672.2 89.5m0.00 -5.85l5.07 2.92l0.00 5.85l-5.07 2.93l-5.07 -2.92l-0.00 -5.85zM1672.4 88.8m0.00 -5.85l5.07 2.92l0.00 5.85l-5.07 2.93l-5.07 -2.92l-0.00 -5.85zM1672.7 88.2m0.00 -5.85l5.07 2.92l0.00 5.85l-5.07 2.93l-5.07 -2.92l-0.00 -5.85z" fill="#f14040"/>
</g>
<g id="s2">
<polyline points="1054.8,527.5 1069.2,514.5 1082.3,500.6 1094.4,484.7 1105.6,466.2 1116.0,444.3 1125.7,419.4 1134.9,389.0 1143.5,353.2 1151.7,321.8 1159.4,275.5 1166.8,238.1 1173.8,214.7 1180.5,210.2 1186.9,223.2 1193.1,249.1 1199.0,280.1 1204.7,295.8 1210.2,301.6 1215.5,302.3 1220.6,298.4 1225.5,290.6 1230.3,283.0 1235.0,273.0 1239.5,254.3 1243.9,233.5 1248.1,222.8 1252.2,211.8 1256.3,201.4 1260.2,195.2 1264.0,191.8 1267.7,192.6 1271.4,196.8 1274.9,205.3 1278.4,215.3 1281.8,225.6 1285.1,235.1 1288.4,241.4 1291.5,245.9 1294.6,245.7 1297.7,240.1 1300.7,231.3 1303.6,221.8 1306.5,213.6 1309.3,208.7 1312.1,209.0 1314.8,216.9 1317.5,231.0 1320.1,249.4 1322.7,270.3 1325.2,292.3 1327.7,313.8 1330.2,333.7 1332.6,350.7 1334.9,363.9 1337.3,372.4 1339.6,375.2 1341.9,374.2 1344.1,371.7 1346.3,367.7 1348.5,362.4 1350.6,356.2 1352.7,349.0 1354.8,341.1 1356.9,332.5 1358.9,323.5 1360.9,314.1 1362.9,304.5 1364.8,294.7 1366.7,284.8 1368.6,275.0 1370.5,265.2 1372.3,255.7 1374.2,246.4 1376.0,237.4 1377.8,228.8 1379.5,220.6 1381.3,212.9 1383.0,205.8 1384.7,199.2 1386.4,193.2 1388.1,187.8 1389.7,183.2 1391.3,179.2 1393.0,176.0 1394.6,173.6 1396.1,171.9 1397.7,171.1 1399.2,171.2 1400.8,172.9 1402.3,176.0 1403.8,180.3 1405.3,185.5 1406.8,191.4 1408.2,197.8 1409.7,204.4 1411.1,211.0 1412.5,217.6 1413.9,223.8 1415.3,229.6 1416.7,234.8 1418.0,239.1 1419.4,242.6 1420.7,245.0 1422.1,246.3 1423.4,246.3 1424.7,245.7 1426.0,244.4 1427.3,242.6 1428.5,240.4 1429.8,237.7 1431.1,234.6 1432.3,231.2 1433.5,227.4 1434.8,223.5 1436.0,219.3 1437.2,215.0 1438.4,210.5 1439.6,206.0 1440.7,201.4 1441.9,196.7 1443.0,192.1 1444.2,187.5 1445.3,182.9 1446.5,178.5 1447.6,174.0 1448.7,168.9 1449.8,163.2 1450.9,157.1 1452.0,150.9 1453.1,144.8 1454.1,139.1 1455.2,134.0 1456.3,129.6 1457.3,125.7 1458.4,122.1 1459.4,118.8 1460.4,115.7 1461.5,112.8 1462.5,110.1 1463.5,107.6 1464.5,105.2 1465.5,102.9 1466.5,100.6 1467.5,98.2 1468.4,95.7 1469.4,93.2 1470.4,90.7 1471.3,88.5 1472.3,86.5 1473.2,84.9 1474.2,83.7 1475.1,82.6 1476.0,81.5 1477.0,80.6 1477.9,79.7 1478.8,79.0 1479.7,78.5 1480.6,78.1 1481.5,78.0 1482.4,78.0 1483.3,78.1 1484.1,78.2 1485.0,78.4 1485.9,78.7 1486.8,79.0 1487.6,79.3 1488.5,79.7 1489.3,80.1 1490.2,80.6 1491.0,81.1 1491.8,81.6 1492.7,82.2 1493.5,82.8 1494.3,83.4 1495.1,84.1 1496.0,84.7 1496.8,85.4 1497.6,86.2 1498.4,86.9 1499.2,87.7 1500.0,88.7 1500.7,90.2 1501.5,92.0 1502.3,94.0 1503.1,96.1 1503.9,98.2 1504.6,100.3 1505.4,102.3 1506.1,104.2 1506.9,106.2 1507.7,108.3 1508.4,110.4 1509.1,112.4 1509.9,114.5 1510.6,116.5 1511.4,118.3 1512.1,120.1 1512.8,121.7 1513.5,123.2 1514.3,124.6 1515.0,126.0 1515.7,127.3 1516.4,128.6 1517.1,129.8 1517.8,130.8 1518.5,131.8 1519.2,132.5 1519.9,133.0 1520.6,133.4 1521.3,133.8 1522.0,134.2 1522.7,134.6 1523.3,134.9 1524.0,135.2 1524.7,135.4 1525.3,135.6 1526.0,135.8 1526.7,135.9 1527.3,136.0 1528.0,136.0 1528.6,136.0 1529.3,135.8 1530.0,135.5 1530.6,135.1 1531.2,134.7 1531.9,134.1 1532.5,133.5 1533.2,132.8 1533.8,132.0 1534.4,131.2 1535.0,130.3 1535.7,129.4 1536.3,128.4 1536.9,127.4 1537.5,126.4 1538.1,125.4 1538.8,124.3 1539.4,123.3 1540.0,122.2 1540.6,121.1 1541.2,120.1 1541.8,119.0 1542.4,118.0 1543.0,116.9 1543.6,115.9 1544.2,115.0 1544.7,114.0 1545.3,113.1 1545.9,112.3 1546.5,111.4 1547.1,110.7 1547.7,109.9 1548.2,109.3 1548.8,108.7 1549.4,108.1 1549.9,107.7 1550.5,107.3 1551.1,106.9 1551.6,106.7 1552.2,106.5 1552.8,106.4 1553.3,106.4 1553.9,106.5 1554.4,106.7 1555.0,107.0 1555.5,107.4 1556.1,107.8 1556.6,108.3 1557.1,108.8 1557.7,109.4 1558.2,110.0 1558.8,110.6 1559.3,111.2 1559.8,111.9 1560.4,112.5 1560.9,113.0 1561.4,113.6 1561.9,114.0 1562.5,114.5 1563.0,114.9 1563.5,115.2 1564.0,115.4 1564.5,115.5 1565.0,115.6 1565.6,115.6 1566.1,115.6 1566.6,115.6 1567.1,115.5 1567.6,115.5 1568.1,115.5 1568.6,115.5 1569.1,115.4 1569.6,115.4 1570.1,115.3 1570.6,115.3 1571.1,115.2 1571.6,115.2 1572.1,115.1 1572.6,115.0 1573.0,114.7 1573.5,114.3 1574.0,113.8 1574.5,113.3 1575.0,112.6 1575.5,111.9 1575.9,111.2 1576.4,110.4 1576.9,109.6 1577.4,108.8 1577.8,107.9 1578.3,107.1 1578.8,106.3 1579.2,105.6 1579.7,104.9 1580.2,104.2 1580.6,103.6 1581.1,103.1 1581.6,102.5 1582.0,101.8 1582.5,101.2 1582.9,100.6 1583.4,99.9 1583.8,99.3 1584.3,98.7 1584.7,98.1 1585.2,97.6 1585.6,97.2 1586.1,96.8 1586.5,96.5 1587.0,96.3 1587.4,96.2 1587.9,96.2 1588.3,96.2 1588.7,96.2 1589.2,96.3 1589.6,96.3 1590.1,96.4 1590.5,96.4 1590.9,96.5 1591.4,96.6 1591.8,96.6 1592.2,96.7 1592.6,96.8 1593.1,96.9 1593.5,97.0 1593.9,97.0 1594.3,97.1 1594.8,97.2 1595.2,97.2 1595.6,97.3 1596.0,97.4 1596.4,97.4 1596.9,97.5 1597.3,97.6 1597.7,97.7 1598.1,97.8 1598.5,97.8 1598.9,97.9 1599.3,98.0 1599.7,98.0 1600.2,98.1 1600.6,98.1 1601.0,98.1 1601.4,98.2 1601.8,98.2 1602.2,98.1 1602.6,98.1 1603.0,97.9 1603.4,97.8 1603.8,97.6 1604.2,97.3 1604.6,97.1 1605.0,96.8 1605.3,96.5 1605.7,96.1 1606.1,95.8 1606.5,95.4 1606.9,95.0 1607.3,94.7 1607.7,94.3 1608.1,93.9 1608.5,93.5 1608.8,93.2 1609.2,92.8 1609.6,92.4 1610.0,91.9 1610.4,91.4 1610.8,90.8 1611.1,90.3 1611.5,89.7 1611.9,89.1 1612.3,88.5 1612.6,87.9 1613.0,87.3 1613.4,86.7 1613.8,86.2 1614.1,85.7 1614.5,85.2 1614.9,84.8 1615.2,84.4 1615.6,84.0 1616.0,83.7 1616.3,83.5 1616.7,83.2 1617.1,82.9 1617.4,82.7 1617.8,82.5 1618.2,82.2 1618.5,82.0 1618.9,81.8 1619.2,81.7 1619.6,81.5 1619.9,81.4 1620.3,81.3 1620.7,81.2 1621.0,81.2 1621.4,81.3 1621.7,81.5 1622.1,81.8 1622.4,82.2 1622.8,82.7 1623.1,83.2 1623.5,83.9 1623.8,84.6 1624.2,85.4 1624.5,86.2 1624.9,87.0 1625.2,87.9 1625.5,88.9 1625.9,89.8 1626.2,90.8 1626.6,91.7 1626.9,92.7 1627.3,93.6 1627.6,94.6 1627.9,95.5 1628.3,96.3 1628.6,97.2 1628.9,97.9 1629.3,98.7 1629.6,99.4 1630.0,100.1 1630.3,100.8 1630.6,101.5 1631.0,102.3 1631.3,103.0 1631.6,103.8 1631.9,104.5 1632.3,105.3 1632.6,106.1 1632.9,106.8 1633.3,107.6 1633.6,108.3 1633.9,109.0 1634.2,109.8 1634.6,110.5 1634.9,111.2 1635.2,111.9 1635.5,112.5 1635.8,113.2 1636.2,113.8 1636.5,114.5 1636.8,115.1 1637.1,115.6 1637.4,116.2 1637.8,116.7 1638.1,117.2 1638.4,117.7 1638.7,118.2 1639.0,118.6 1639.3,119.0 1639.7,119.4 1640.0,119.8 1640.3,120.2 1640.6,120.6 1640.9,121.1 1641.2,121.5 1641.5,121.9 1641.8,122.3 1642.1,122.6 1642.4,123.0 1642.8,123.4 1643.1,123.7 1643.4,124.1 1643.7,124.4 1644.0,124.7 1644.3,125.0 1644.6,125.3 1644.9,125.5 1645.2,125.7 1645.5,125.9 1645.8,126.1 1646.1,126.2 1646.4,126.4 1646.7,126.5 1647.0,126.5 1647.3,126.6 1647.6,126.5 1647.9,126.5 1648.2,126.5 1648.5,126.4 1648.8,126.3 1649.1,126.2 1649.4,126.1 1649.6,126.0 1649.9,125.8 1650.2,125.6 1650.5,125.5 1650.8,125.3 1651.1,125.0 1651.4,124.8 1651.7,124.6 1652.0,124.3 1652.3,124.0 1652.5,123.8 1652.8,123.5 1653.1,123.2 1653.4,122.9 1653.7,122.5 1654.0,122.2 1654.3,121.9 1654.5,121.5 1654.8,121.2 1655.1,120.8 1655.4,120.5 1655.7,120.1 1656.0,119.7 1656.2,119.4 1656.5,119.0 1656.8,118.6 1657.1,118.2 1657.4,117.7 1657.6,117.1 1657.9,116.4 1658.2,115.7 1658.5,115.0 1658.7,114.2 1659.0,113.4 1659.3,112.5 1659.6,111.6 1659.8,110.7 1660.1,109.8 1660.4,108.9 1660.7,107.9 1660.9,107.0 1661.2,106.1 1661.5,105.2 1661.7,104.3 1662.0,103.5 1662.3,102.6 1662.6,101.7 1662.8,100.8 1663.1,99.8 1663.4,98.8 1663.6,97.8 1663.9,96.8 1664.2,95.8 1664.4,94.8 1664.7,93.9 1665.0,92.9 1665.2,92.0 1665.5,91.1 1665.8,90.2 1666.0,89.4 1666.3,88.7 1666.5,88.0 1666.8,87.3 1667.1,86.7 1667.3,86.1 1667.6,85.6 1667.8,85.0 1668.1,84.4 1668.4,83.9 1668.6,83.4 1668.9,82.8 1669.1,82.3 1669.4,81.8 1669.7,81.4 1669.9,80.9 1670.2,80.5 1670.4,80.1 1670.7,79.7 1670.9,79.3 1671.2,78.9 1671.4,78.6 1671.7,78.3 1671.9,78.0 1672.2,77.7 1672.4,77.5 1672.7,77.2" fill="none" stroke="#1a6fdf" stroke-width="2.4" stroke-linejoin="round"/>
<path d="M1054.8 527.5m0.00 -6.80l1.53 4.70l4.94 0.00l-3.99 2.90l1.52 4.70l-4.00 -2.90l-4.00 2.90l1.52 -4.70l-3.99 -2.90l4.94 -0.00zM1069.2 514.5m0.00 -6.80l1.53 4.70l4.94 0.00l-3.99 2.90l1.52 4.70l-4.00 -2.90l-4.00 2.90l1.52 -4.70l-3.99 -2.90l4.94 -0.00zM1082.3 500.6m0.00 -6.80l1.53 4.70l4.94 0.00l-3.99 2.90l1.52 4.70l-4.00 -2.90l-4.00 2.90l1.52 -4.70l-3.99 -2.90l4.94 -0.00zM1094.4 484.7m0.00 -6.80l1.53 4.70l4.94 0.00l-3.99 2.90l1.52 4.70l-4.00 -2.90l-4.00 2.90l1.52 -4.70l-3.99 -2.90l4.94 -0.00zM1105.6 466.2m0.00 -6.80l1.53 4.70l4.94 0.00l-3.99 2.90l1.52 4.70l-4.00 -2.90l-4.00 2.90l1.52 -4.70l-3.99 -2.90l4.94 -0.00zM1116.0 444.3m0.00 -6.80l1.53 4.70l4.94 0.00l-3.99 2.90l1.52 4.70l-4.00 -2.90l-4.00 2.90l1.52 -4.70l-3.99 -2.90l4.94 -0.00zM1125.7 419.4m0.00 -6.80l1.53 4.70l4.94 0.00l-3.99 2.90l1.52 4.70l-4.00 -2.90l-4.00 2.90l1.52 -4.70l-3.99 -2.90l4.94 -0.00zM1134.9 389.0m0.00 -6.80l1.53 4.70l4.94 0.00l-3.99 2.90l1.52 4.70l-4.00 -2.90l-4.00 2.90l1.52 -4.70l-3.99 -2.90l4.94 -0.00zM1143.5 353.2m0.00 -6.80l1.53 4.70l4.94 0.00l-3.99 2.90l1.52 4.70l-4.00 -2.90l-4.00 2.90l1.52 -4.70l-3.99 -2.90l4.94 -0.00zM1151.7 321.8m0.00 -6.80l1.53 4.70l4.94 0.00l-3.99 2.90l1.52 4.70l-4.00 -2.90l-4.00 2.90l1.52 -4.70l-3.99 -2.90l4.94 -0.00zM1159.4 275.5m0.00 -6.80l1.53 4.70l4.94 0.00l-3.99 2.90l1.52 4.70l-4.00 -2.90l-4.00 2.90l1.52 -4.70l-3.99 -2.90l4.94 -0.00zM1166.8 238.1m0.00 -6.80l1.53 4.70l4.94 0.00l-3.99 2.90l1.52 4.70l-4.00 -2.90l-4.00 2.90l1.52 -4.70l-3.99 -2.90l4.94 -0.00zM1173.8 214.7m0.00 -6.80l1.53 4.70l4.94 0.00l-3.99 2.90l1.52 4.70l-4.00 -2.90l-4.00 2.90l1.52 -4.70l-3.99 -2.90l4.94 -0.00zM1180.5 210.2m0.00 -6.80l1.53 4.70l4.94 0.00l-3.99 2.90l1.52 4.70l-4.00 -2.90l-4.00 2.90l1.52 -4.70l-3.99 -2.90l4.94 -0.00zM1186.9 223.2m0.00 -6.80l1.53 4.70l4.94 0.00l-3.99 2.90l1.52 4.70l-4.00 -2.90l-4.00 2.90l1.52 -4.70l-3.99 -2.90l4.94 -0.00zM1193.1 249.1m0.00 -6.80l1.53 4.70l4.94 0.00l-3.99 2.90l1.52 4.70l-4.00 -2.90l-4.00 2.90l1.52 -4.70l-3.99 -2.90l4.94 -0.00zM1199.0 280.1m0.00 -6.80l1.53 4.70l4.94 0.00l-3.99 2.90l1.52 4.70l-4.00 -2.90l-4.00 2.90l1.52 -4.70l-3.99 -2.90l4.94 -0.00zM1204.7 295.8m0.00 -6.80l1.53 4.70l4.94 0.00l-3.99 2.90l1.52 4.70l-4.00 -2.90l-4.00 2.90l1.52 -4.70l-3.99 -2.90l4.94 -0.00zM1210.2 301.6m0.00 -6.80l1.53 4.70l4.94 0.00l-3.99 2.90l1.52 4.70l-4.00 -2.90l-4.00 2.90l1.52 -4.70l-3.99 -2.90l4.94 -0.00zM1215.5 302.3m0.00 -6.80l1.53 4.70l4.94 0.00l-3.99 2.90l1.52 4.70l-4.00 -2.90l-4.00 2.90l1.52 -4.70l-3.99 -2.90l4.94 -0.00zM1220.6 298.4m0.00 -6.80l1.53 4.70l4.94 0.00l-3.99 2.90l1.52 4.70l-4.00 -2.90l-4.00 2.90l1.52 -4.70l-3.99 -2.90l4.94 -0.00zM1225.5 290.6m0.00 -6.80l1.53 4.70l4.94 0.00l-3.99 2.90l1.52 4.70l-4.00 -2.90l-4.00 2.90l1.52 -4.70l-3.99 -2.90l4.94 -0.00zM1230.3 283.0m0.00 -6.80l1.53 4.70l4.94 0.00l-3.99 2.90l1.52 4.70l-4.00 -2.90l-4.00 2.90l1.52 -4.70l-3.99 -2.90l4.94 -0.00zM1235.0 273.0m0.00 -6.80l1.53 4.70l4.94 0.00l-3.99 2.90l1.52 4.70l-4.00 -2.90l-4.00 2.90l1.52 -4.70l-3.99 -2.90l4.94 -0.00zM1239.5 254.3m0.00 -6.80l1.53 4.70l4.94 0.00l-3.99 2.90l1.52 4.70l-4.00 -2.90l-4.00 2.90l1.52 -4.70l-3.99 -2.90l4.94 -0.00zM1243.9 233.5m0.00 -6.80l1.53 4.70l4.94 0.00l-3.99 2.90l1.52 4.70l-4.00 -2.90l-4.00 2.90l1.52 -4.70l-3.99 -2.90l4.94 -0.00zM1248.1 222.8m0.00 -6.80l1.53 4.70l4.94 0.00l-3.99 2.90l1.52 4.70l-4.00 -2.90l-4.00 2.90l1.52 -4.70l-3.99 -2.90l4.94 -0.00zM1252.2 211.8m0.00 -6.80l1.53 4.70l4.94 0.00l-3.99 2.90l1.52 4.70l-4.00 -2.90l-4.00 2.90l1.52 -4.70l-3.99 -2.90l4.94 -0.00zM1256.3 201.4m0.00 -6.80l1.53 4.70l4.94 0.00l-3.99 2.90l1.52 4.70l-4.00 -2.90l-4.00 2.90l1.52 -4.70l-3.99 -2.90l4.94 -0.00zM1260.2 195.2m0.00 -6.80l1.53 4.70l4.94 0.00l-3.99 2.90l1.52 4.70l-4.00 -2.90l-4.00 2.90l1.52 -4.70l-3.99 -2.90l4.94 -0.00zM1264.0 191.8m0.00 -6.80l1.53 4.70l4.94 0.00l-3.99 2.90l1.52 4.70l-4.00 -2.90l-4.00 2.90l1.52 -4.70l-3.99 -2.90l4.94 -0.00zM1267.7 192.6m0.00 -6.80l1.53 4.70l4.94 0.00l-3.99 2.90l1.52 4.70l-4.00 -2.90l-4.00 2.90l1.52 -4.70l-3.99 -2.90l4.94 -0.00zM1271.4 196.8m0.00 -6.80l1.53 4.70l4.94 0.00l-3.99 2.90l1.52 4.70l-4.00 -2.90l-4.00 2.90l1.52 -4.70l-3.99 -2.90l4.94 -0.00zM1274.9 205.3m0.00 -6.80l1.53 4.70l4.94 0.00l-3.99 2.90l1.52 4.70l-4.00 -2.90l-4.00 2.90l1.52 -4.70l-3.99 -2.90l4.94 -0.00zM1278.4 215.3m0.00 -6.80l1.53 4.70l4.94 0.00l-3.99 2.90l1.52 4.70l-4.00 -2.90l-4.00 2.90l1.52 -4.70l-3.99 -2.90l4.94 -0.00zM1281.8 225.6m0.00 -6.80l1.53 4.70l4.94 0.00l-3.99 2.90l1.52 4.70l-4.00 -2.90l-4.00 2.90l1.52 -4.70l-3.99 -2.90l4.94 -0.00zM1285.1 235.1m0.00 -6.80l1.53 4.70l4.94 0.00l-3.99 2.90l1.52 4.70l-4.00 -2.90l-4.00 2.90l1.52 -4.70l-3.99 -2.90l4.94 -0.00zM1288.4 241.4m0.00 -6.80l1.53 4.70l4.94 0.00l-3.99 2.90l1.52 4.70l-4.00 -2.90l-4.00 2.90l1.52 -4.70l-3.99 -2.90l4.94 -0.00zM1291.5 245.9m0.00 -6.80l1.53 4.70l4.94 0.00l-3.99 2.90l1.52 4.70l-4.00 -2.90l-4.00 2.90l1.52 -4.70l-3.99 -2.90l4.94 -0.00zM1294.6 245.7m0.00 -6.80l1.53 4.70l4.94 0.00l-3.99 2.90l1.52 4.70l-4.00 -2.90l-4.00 2.90l1.52 -4.70l-3.99 -2.90l4.94 -0.00zM1297.7 240.1m0.00 -6.80l1.53 4.70l4.94 0.00l-3.99 2.90l1.52 4.70l-4.00 -2.90l-4.00 2.90l1.52 -4.70l-3.99 -2.90l4.94 -0.00zM1300.7 231.3m0.00 -6.80l1.53 4.70l4.94 0.00l-3.99 2.90l1.52 4.70l-4.00 -2.90l-4.00 2.90l1.52 -4.70l-3.99 -2.90l4.94 -0.00zM1303.6 221.8m0.00 -6.80l1.53 4.70l4.94 0.00l-3.99 2.90l1.52 4.70l-4.00 -2.90l-4.00 2.90l1.52 -4.70l-3.99 -2.90l4.94 -0.00zM1306.5 213.6m0.00 -6.80l1.53 4.70l4.94 0.00l-3.99 2.90l1.52 4.70l-4.00 -2.90l-4.00 2.90l1.52 -4.70l-3.99 -2.90l4.94 -0.00zM1309.3 208.7m0.00 -6.80l1.53 4.70l4.94 0.00l-3.99 2.90l1.52 4.70l-4.00 -2.90l-4.00 2.90l1.52 -4.70l-3.99 -2.90l4.94 -0.00zM1312.1 209.0m0.00 -6.80l1.53 4.70l4.94 0.00l-3.99 2.90l1.52 4.70l-4.00 -2.90l-4.00 2.90l1.52 -4.70l-3.99 -2.90l4.94 -0.00zM1314.8 216.9m0.00 -6.80l1.53 4.70l4.94 0.00l-3.99 2.90l1.52 4.70l-4.00 -2.90l-4.00 2.90l1.52 -4.70l-3.99 -2.90l4.94 -0.00zM1317.5 231.0m0.00 -6.80l1.53 4.70l4.94 0.00l-3.99 2.90l1.52 4.70l-4.00 -2.90l-4.00 2.90l1.52 -4.70l-3.99 -2.90l4.94 -0.00zM1320.1 249.4m0.00 -6.80l1.53 4.70l4.94 0.00l-3.99 2.90l1.52 4.70l-4.00 -2.90l-4.00 2.90l1.52 -4.70l-3.99 -2.90l4.94 -0.00zM1322.7 270.3m0.00 -6.80l1.53 4.70l4.94 0.00l-3.99 2.90l1.52 4.70l-4.00 -2.90l-4.00 2.90l1.52 -4.70l-3.99 -2.90l4.94 -0.00zM1325.2 292.3m0.00 -6.80l1.53 4.70l4.94 0.00l-3.99 2.90l1.52 4.70l-4.00 -2.90l-4.00 2.90l1.52 -4.70l-3.99 -2.90l4.94 -0.00zM1327.7 313.8m0.00 -6.80l1.53 4.70l4.94 0.00l-3.99 2.90l1.52 4.70l-4.00 -2.90l-4.00 2.90l1.52 -4.70l-3.99 -2.90l4.94 -0.00zM1330.2 333.7m0.00 -6.80l1.53 4.70l4.94 0.00l-3.99 2.90l1.52 4.70l-4.00 -2.90l-4.00 2.90l1.52 -4.70l-3.99 -2.90l4.94 -0.00zM1332.6 350.7m0.00 -6.80l1.53 4.70l4.94 0.00l-3.99 2.90l1.52 4.70l-4.00 -2.90l-4.00 2.90l1.52 -4.70l-3.99 -2.90l4.94 -0.00zM1334.9 363.9m0.00 -6.80l1.53 4.70l4.94 0.00l-3.99 2.90l1.52 4.70l-4.00 -2.90l-4.00 2.90l1.52 -4.70l-3.99 -2.90l4.94 -0.00zM1337.3 372.4m0.00 -6.80l1.53 4.70l4.94 0.00l-3.99 2.90l1.52 4.70l-4.00 -2.90l-4.00 2.90l1.52 -4.70l-3.99 -2.90l4.94 -0.00zM1339.6 375.2m0.00 -6.80l1.53 4.70l4.94 0.00l-3.99 2.90l1.52 4.70l-4.00 -2.90l-4.00 2.90l1.52 -4.70l-3.99 -2.90l4.94 -0.00zM1341.9 374.2m0.00 -6.80l1.53 4.70l4.94 0.00l-3.99 2.90l1.52 4.70l-4.00 -2.90l-4.00 2.90l1.52 -4.70l-3.99 -2.90l4.94 -0.00zM1344.1 371.7m0.00 -6.80l1.53 4.70l4.94 0.00l-3.99 2.90l1.52 4.70l-4.00 -2.90l-4.00 2.90l1.52 -4.70l-3.99 -2.90l4.94 -0.00zM1346.3 367.7m0.00 -6.80l1.53 4.70l4.94 0.00l-3.99 2.90l1.52 4.70l-4.00 -2.90l-4.00 2.90l1.52 -4.70l-3.99 -2.90l4.94 -0.00zM1348.5 362.4m0.00 -6.80l1.53 4.70l4.94 0.00l-3.99 2.90l1.52 4.70l-4.00 -2.90l-4.00 2.90l1.52 -4.70l-3.99 -2.90l4.94 -0.00zM1350.6 356.2m0.00 -6.80l1.53 4.70l4.94 0.00l-3.99 2.90l1.52 4.70l-4.00 -2.90l-4.00 2.90l1.52 -4.70l-3.99 -2.90l4.94 -0.00zM1352.7 349.0m0.00 -6.80l1.53 4.70l4.94 0.00l-3.99 2.90l1.52 4.70l-4.00 -2.90l-4.00 2.90l1.52 -4.70l-3.99 -2.90l4.94 -0.00zM1354.8 341.1m0.00 -6.80l1.53 4.70l4.94 0.00l-3.99 2.90l1.52 4.70l-4.00 -2.90l-4.00 2.90l1.52 -4.70l-3.99 -2.90l4.94 -0.00zM1356.9 332.5m0.00 -6.80l1.53 4.70l4.94 0.00l-3.99 2.90l1.52 4.70l-4.00 -2.90l-4.00 2.90l1.52 -4.70l-3.99 -2.90l4.94 -0.00zM1358.9 323.5m0.00 -6.80l1.53 4.70l4.94 0.00l-3.99 2.90l1.52 4.70l-4.00 -2.90l-4.00 2.90l1.52 -4.70l-3.99 -2.90l4.94 -0.00zM1360.9 314.1m0.00 -6.80l1.53 4.70l4.94 0.00l-3.99 2.90l1.52 4.70l-4.00 -2.90l-4.00 2.90l1.52 -4.70l-3.99 -2.90l4.94 -0.00zM1362.9 304.5m0.00 -6.80l1.53 4.70l4.94 0.00l-3.99 2.90l1.52 4.70l-4.00 -2.90l-4.00 2.90l1.52 -4.70l-3.99 -2.90l4.94 -0.00zM1364.8 294.7m0.00 -6.80l1.53 4.70l4.94 0.00l-3.99 2.90l1.52 4.70l-4.00 -2.90l-4.00 2.90l1.52 -4.70l-3.99 -2.90l4.94 -0.00zM1366.7 284.8m0.00 -6.80l1.53 4.70l4.94 0.00l-3.99 2.90l1.52 4.70l-4.00 -2.90l-4.00 2.90l1.52 -4.70l-3.99 -2.90l4.94 -0.00zM1368.6 275.0m0.00 -6.80l1.53 4.70l4.94 0.00l-3.99 2.90l1.52 4.70l-4.00 -2.90l-4.00 2.90l1.52 -4.70l-3.99 -2.90l4.94 -0.00zM1370.5 265.2m0.00 -6.80l1.53 4.70l4.94 0.00l-3.99 2.90l1.52 4.70l-4.00 -2.90l-4.00 2.90l1.52 -4.70l-3.99 -2.90l4.94 -0.00zM1372.3 255.7m0.00 -6.80l1.53 4.70l4.94 0.00l-3.99 2.90l1.52 4.70l-4.00 -2.90l-4.00 2.90l1.52 -4.70l-3.99 -2.90l4.94 -0.00zM1374.2 246.4m0.00 -6.80l1.53 4.70l4.94 0.00l-3.99 2.90l1.52 4.70l-4.00 -2.90l-4.00 2.90l1.52 -4.70l-3.99 -2.90l4.94 -0.00zM1376.0 237.4m0.00 -6.80l1.53 4.70l4.94 0.00l-3.99 2.90l1.52 4.70l-4.00 -2.90l-4.00 2.90l1.52 -4.70l-3.99 -2.90l4.94 -0.00zM1377.8 228.8m0.00 -6.80l1.53 4.70l4.94 0.00l-3.99 2.90l1.52 4.70l-4.00 -2.90l-4.00 2.90l1.52 -4.70l-3.99 -2.90l4.94 -0.00zM1379.5 220.6m0.00 -6.80l1.53 4.70l4.94 0.00l-3.99 2.90l1.52 4.70l-4.00 -2.90l-4.00 2.90l1.52 -4.70l-3.99 -2.90l4.94 -0.00zM1381.3 212.9m0.00 -6.80l1.53 4.70l4.94 0.00l-3.99 2.90l1.52 4.70l-4.00 -2.90l-4.00 2.90l1.52 -4.70l-3.99 -2.90l4.94 -0.00zM1383.0 205.8m0.00 -6.80l1.53 4.70l4.94 0.00l-3.99 2.90l1.52 4.70l-4.00 -2.90l-4.00 2.90l1.52 -4.70l-3.99 -2.90l4.94 -0.00zM1384.7 199.2m0.00 -6.80l1.53 4.70l4.94 0.00l-3.99 2.90l1.52 4.70l-4.00 -2.90l-4.00 2.90l1.52 -4.70l-3.99 -2.90l4.94 -0.00zM1386.4 193.2m0.00 -6.80l1.53 4.70l4.94 0.00l-3.99 2.90l1.52 4.70l-4.00 -2.90l-4.00 2.90l1.52 -4.70l-3.99 -2.90l4.94 -0.00zM1388.1 187.8m0.00 -6.80l1.53 4.70l4.94 0.00l-3.99 2.90l1.52 4.70l-4.00 -2.90l-4.00 2.90l1.52 -4.70l-3.99 -2.90l4.94 -0.00zM1389.7 183.2m0.00 -6.80l1.53 4.70l4.94 0.00l-3.99 2.90l1.52 4.70l-4.00 -2.90l-4.00 2.90l1.52 -4.70l-3.99 -2.90l4.94 -0.00zM1391.3 179.2m0.00 -6.80l1.53 4.70l4.94 0.00l-3.99 2.90l1.52 4.70l-4.00 -2.90l-4.00 2.90l1.52 -4.70l-3.99 -2.90l4.94 -0.00zM1393.0 176.0m0.00 -6.80l1.53 4.70l4.94 0.00l-3.99 2.90l1.52 4.70l-4.00 -2.90l-4.00 2.90l1.52 -4.70l-3.99 -2.90l4.94 -0.00zM1394.6 173.6m0.00 -6.80l1.53 4.70l4.94 0.00l-3.99 2.90l1.52 4.70l-4.00 -2.90l-4.00 2.90l1.52 -4.70l-3.99 -2.90l4.94 -0.00zM1396.1 171.9m0.00 -6.80l1.53 4.70l4.94 0.00l-3.99 2.90l1.52 4.70l-4.00 -2.90l-4.00 2.90l1.52 -4.70l-3.99 -2.90l4.94 -0.00zM1397.7 171.1m0.00 -6.80l1.53 4.70l4.94 0.00l-3.99 2.90l1.52 4.70l-4.00 -2.90l-4.00 2.90l1.52 -4.70l-3.99 -2.90l4.94 -0.00zM1399.2 171.2m0.00 -6.80l1.53 4.70l4.94 0.00l-3.99 2.90l1.52 4.70l-4.00 -2.90l-4.00 2.90l1.52 -4.70l-3.99 -2.90l4.94 -0.00zM1400.8 172.9m0.00 -6.80l1.53 4.70l4.94 0.00l-3.99 2.90l1.52 4.70l-4.00 -2.90l-4.00 2.90l1.52 -4.70l-3.99 -2.90l4.94 -0.00zM1402.3 176.0m0.00 -6.80l1.53 4.70l4.94 0.00l-3.99 2.90l1.52 4.70l-4.00 -2.90l-4.00 2.90l1.52 -4.70l-3.99 -2.90l4.94 -0.00zM1403.8 180.3m0.00 -6.80l1.53 4.70l4.94 0.00l-3.99 2.90l1.52 4.70l-4.00 -2.90l-4.00 2.90l1.52 -4.70l-3.99 -2.90l4.94 -0.00zM1405.3 185.5m0.00 -6.80l1.53 4.70l4.94 0.00l-3.99 2.90l1.52 4.70l-4.00 -2.90l-4.00 2.90l1.52 -4.70l-3.99 -2.90l4.94 -0.00zM1406.8 191.4m0.00 -6.80l1.53 4.70l4.94 0.00l-3.99 2.90l1.52 4.70l-4.00 -2.90l-4.00 2.90l1.52 -4.70l-3.99 -2.90l4.94 -0.00zM1408.2 197.8m0.00 -6.80l1.53 4.70l4.94 0.00l-3.99 2.90l1.52 4.70l-4.00 -2.90l-4.00 2.90l1.52 -4.70l-3.99 -2.90l4.94 -0.00zM1409.7 204.4m0.00 -6.80l1.53 4.70l4.94 0.00l-3.99 2.90l1.52 4.70l-4.00 -2.90l-4.00 2.90l1.52 -4.70l-3.99 -2.90l4.94 -0.00zM1411.1 211.0m0.00 -6.80l1.53 4.70l4.94 0.00l-3.99 2.90l1.52 4.70l-4.00 -2.90l-4.00 2.90l1.52 -4.70l-3.99 -2.90l4.94 -0.00zM1412.5 217.6m0.00 -6.80l1.53 4.70l4.94 0.00l-3.99 2.90l1.52 4.70l-4.00 -2.90l-4.00 2.90l1.52 -4.70l-3.99 -2.90l4.94 -0.00zM1413.9 223.8m0.00 -6.80l1.53 4.70l4.94 0.00l-3.99 2.90l1.52 4.70l-4.00 -2.90l-4.00 2.90l1.52 -4.70l-3.99 -2.90l4.94 -0.00zM1415.3 229.6m0.00 -6.80l1.53 4.70l4.94 0.00l-3.99 2.90l1.52 4.70l-4.00 -2.90l-4.00 2.90l1.52 -4.70l-3.99 -2.90l4.94 -0.00zM1416.7 234.8m0.00 -6.80l1.53 4.70l4.94 0.00l-3.99 2.90l1.52 4.70l-4.00 -2.90l-4.00 2.90l1.52 -4.70l-3.99 -2.90l4.94 -0.00zM1418.0 239.1m0.00 -6.80l1.53 4.70l4.94 0.00l-3.99 2.90l1.52 4.70l-4.00 -2.90l-4.00 2.90l1.52 -4.70l-3.99 -2.90l4.94 -0.00zM1419.4 242.6m0.00 -6.80l1.53 4.70l4.94 0.00l-3.99 2.90l1.52 4.70l-4.00 -2.90l-4.00 2.90l1.52 -4.70l-3.99 -2.90l4.94 -0.00zM1420.7 245.0m0.00 -6.80l1.53 4.70l4.94 0.00l-3.99 2.90l1.52 4.70l-4.00 -2.90l-4.00 2.90l1.52 -4.70l-3.99 -2.90l4.94 -0.00zM1422.1 246.3m0.00 -6.80l1.53 4.70l4.94 0.00l-3.99 2.90l1.52 4.70l-4.00 -2.90l-4.00 2.90l1.52 -4.70l-3.99 -2.90l4.94 -0.00zM1423.4 246.3m0.00 -6.80l1.53 4.70l4.94 0.00l-3.99 2.90l1.52 4.70l-4.00 -2.90l-4.00 2.90l1.52 -4.70l-3.99 -2.90l4.94 -0.00zM1424.7 245.7m0.00 -6.80l1.53 4.70l4.94 0.00l-3.99 2.90l1.52 4.70l-4.00 -2.90l-4.00 2.90l1.52 -4.70l-3.99 -2.90l4.94 -0.00zM1426.0 244.4m0.00 -6.80l1.53 4.70l4.94 0.00l-3.99 2.90l1.52 4.70l-4.00 -2.90l-4.00 2.90l1.52 -4.70l-3.99 -2.90l4.94 -0.00zM1427.3 242.6m0.00 -6.80l1.53 4.70l4.94 0.00l-3.99 2.90l1.52 4.70l-4.00 -2.90l-4.00 2.90l1.52 -4.70l-3.99 -2.90l4.94 -0.00zM1428.5 240.4m0.00 -6.80l1.53 4.70l4.94 0.00l-3.99 2.90l1.52 4.70l-4.00 -2.90l-4.00 2.90l1.52 -4.70l-3.99 -2.90l4.94 -0.00zM1429.8 237.7m0.00 -6.80l1.53 4.70l4.94 0.00l-3.99 2.90l1.52 4.70l-4.00 -2.90l-4.00 2.90l1.52 -4.70l-3.99 -2.90l4.94 -0.00zM1431.1 234.6m0.00 -6.80l1.53 4.70l4.94 0.00l-3.99 2.90l1.52 4.70l-4.00 -2.90l-4.00 2.90l1.52 -4.70l-3.99 -2.90l4.94 -0.00zM1432.3 231.2m0.00 -6.80l1.53 4.70l4.94 0.00l-3.99 2.90l1.52 4.70l-4.00 -2.90l-4.00 2.90l1.52 -4.70l-3.99 -2.90l4.94 -0.00zM1433.5 227.4m0.00 -6.80l1.53 4.70l4.94 0.00l-3.99 2.90l1.52 4.70l-4.00 -2.90l-4.00 2.90l1.52 -4.70l-3.99 -2.90l4.94 -0.00zM1434.8 223.5m0.00 -6.80l1.53 4.70l4.94 0.00l-3.99 2.90l1.52 4.70l-4.00 -2.90l-4.00 2.90l1.52 -4.70l-3.99 -2.90l4.94 -0.00zM1436.0 219.3m0.00 -6.80l1.53 4.70l4.94 0.00l-3.99 2.90l1.52 4.70l-4.00 -2.90l-4.00 2.90l1.52 -4.70l-3.99 -2.90l4.94 -0.00zM1437.2 215.0m0.00 -6.80l1.53 4.70l4.94 0.00l-3.99 2.90l1.52 4.70l-4.00 -2.90l-4.00 2.90l1.52 -4.70l-3.99 -2.90l4.94 -0.00zM1438.4 210.5m0.00 -6.80l1.53 4.70l4.94 0.00l-3.99 2.90l1.52 4.70l-4.00 -2.90l-4.00 2.90l1.52 -4.70l-3.99 -2.90l4.94 -0.00zM1439.6 206.0m0.00 -6.80l1.53 4.70l4.94 0.00l-3.99 2.90l1.52 4.70l-4.00 -2.90l-4.00 2.90l1.52 -4.70l-3.99 -2.90l4.94 -0.00zM1440.7 201.4m0.00 -6.80l1.53 4.70l4.94 0.00l-3.99 2.90l1.52 4.70l-4.00 -2.90l-4.00 2.90l1.52 -4.70l-3.99 -2.90l4.94 -0.00zM1441.9 196.7m0.00 -6.80l1.53 4.70l4.94 0.00l-3.99 2.90l1.52 4.70l-4.00 -2.90l-4.00 2.90l1.52 -4.70l-3.99 -2.90l4.94 -0.00zM1443.0 192.1m0.00 -6.80l1.53 4.70l4.94 0.00l-3.99 2.90l1.52 4.70l-4.00 -2.90l-4.00 2.90l1.52 -4.70l-3.99 -2.90l4.94 -0.00zM1444.2 187.5m0.00 -6.80l1.53 4.70l4.94 0.00l-3.99 2.90l1.52 4.70l-4.00 -2.90l-4.00 2.90l1.52 -4.70l-3.99 -2.90l4.94 -0.00zM1445.3 182.9m0.00 -6.80l1.53 4.70l4.94 0.00l-3.99 2.90l1.52 4.70l-4.00 -2.90l-4.00 2.90l1.52 -4.70l-3.99 -2.90l4.94 -0.00zM1446.5 178.5m0.00 -6.80l1.53 4.70l4.94 0.00l-3.99 2.90l1.52 4.70l-4.00 -2.90l-4.00 2.90l1.52 -4.70l-3.99 -2.90l4.94 -0.00zM1447.6 174.0m0.00 -6.80l1.53 4.70l4.94 0.00l-3.99 2.90l1.52 4.70l-4.00 -2.90l-4.00 2.90l1.52 -4.70l-3.99 -2.90l4.94 -0.00zM1448.7 168.9m0.00 -6.80l1.53 4.70l4.94 0.00l-3.99 2.90l1.52 4.70l-4.00 -2.90l-4.00 2.90l1.52 -4.70l-3.99 -2.90l4.94 -0.00zM1449.8 163.2m0.00 -6.80l1.53 4.70l4.94 0.00l-3.99 2.90l1.52 4.70l-4.00 -2.90l-4.00 2.90l1.52 -4.70l-3.99 -2.90l4.94 -0.00zM1450.9 157.1m0.00 -6.80l1.53 4.70l4.94 0.00l-3.99 2.90l1.52 4.70l-4.00 -2.90l-4.00 2.90l1.52 -4.70l-3.99 -2.90l4.94 -0.00zM1452.0 150.9m0.00 -6.80l1.53 4.70l4.94 0.00l-3.99 2.90l1.52 4.70l-4.00 -2.90l-4.00 2.90l1.52 -4.70l-3.99 -2.90l4.94 -0.00zM1453.1 144.8m0.00 -6.80l1.53 4.70l4.94 0.00l-3.99 2.90l1.52 4.70l-4.00 -2.90l-4.00 2.90l1.52 -4.70l-3.99 -2.90l4.94 -0.00zM1454.1 139.1m0.00 -6.80l1.53 4.70l4.94 0.00l-3.99 2.90l1.52 4.70l-4.00 -2.90l-4.00 2.90l1.52 -4.70l-3.99 -2.90l4.94 -0.00zM1455.2 134.0m0.00 -6.80l1.53 4.70l4.94 0.00l-3.99 2.90l1.52 4.70l-4.00 -2.90l-4.00 2.90l1.52 -4.70l-3.99 -2.90l4.94 -0.00zM1456.3 129.6m0.00 -6.80l1.53 4.70l4.94 0.00l-3.99 2.90l1.52 4.70l-4.00 -2.90l-4.00 2.90l1.52 -4.70l-3.99 -2.90l4.94 -0.00zM1457.3 125.7m0.00 -6.80l1.53 4.70l4.94 0.00l-3.99 2.90l1.52 4.70l-4.00 -2.90l-4.00 2.90l1.52 -4.70l-3.99 -2.90l4.94 -0.00zM1458.4 122.1m0.00 -6.80l1.53 4.70l4.94 0.00l-3.99 2.90l1.52 4.70l-4.00 -2.90l-4.00 2.90l1.52 -4.70l-3.99 -2.90l4.94 -0.00zM1459.4 118.8m0.00 -6.80l1.53 4.70l4.94 0.00l-3.99 2.90l1.52 4.70l-4.00 -2.90l-4.00 2.90l1.52 -4.70l-3.99 -2.90l4.94 -0.00zM1460.4 115.7m0.00 -6.80l1.53 4.70l4.94 0.00l-3.99 2.90l1.52 4.70l-4.00 -2.90l-4.00 2.90l1.52 -4.70l-3.99 -2.90l4.94 -0.00zM1461.5 112.8m0.00 -6.80l1.53 4.70l4.94 0.00l-3.99 2.90l1.52 4.70l-4.00 -2.90l-4.00 2.90l1.52 -4.70l-3.99 -2.90l4.94 -0.00zM1462.5 110.1m0.00 -6.80l1.53 4.70l4.94 0.00l-3.99 2.90l1.52 4.70l-4.00 -2.90l-4.00 2.90l1.52 -4.70l-3.99 -2.90l4.94 -0.00zM1463.5 107.6m0.00 -6.80l1.53 4.70l4.94 0.00l-3.99 2.90l1.52 4.70l-4.00 -2.90l-4.00 2.90l1.52 -4.70l-3.99 -2.90l4.94 -0.00zM1464.5 105.2m0.00 -6.80l1.53 4.70l4.94 0.00l-3.99 2.90l1.52 4.70l-4.00 -2.90l-4.00 2.90l1.52 -4.70l-3.99 -2.90l4.94 -0.00zM1465.5 102.9m0.00 -6.80l1.53 4.70l4.94 0.00l-3.99 2.90l1.52 4.70l-4.00 -2.90l-4.00 2.90l1.52 -4.70l-3.99 -2.90l4.94 -0.00zM1466.5 100.6m0.00 -6.80l1.53 4.70l4.94 0.00l-3.99 2.90l1.52 4.70l-4.00 -2.90l-4.00 2.90l1.52 -4.70l-3.99 -2.90l4.94 -0.00zM1467.5 98.2m0.00 -6.80l1.53 4.70l4.94 0.00l-3.99 2.90l1.52 4.70l-4.00 -2.90l-4.00 2.90l1.52 -4.70l-3.99 -2.90l4.94 -0.00zM1468.4 95.7m0.00 -6.80l1.53 4.70l4.94 0.00l-3.99 2.90l1.52 4.70l-4.00 -2.90l-4.00 2.90l1.52 -4.70l-3.99 -2.90l4.94 -0.00zM1469.4 93.2m0.00 -6.80l1.53 4.70l4.94 0.00l-3.99 2.90l1.52 4.70l-4.00 -2.90l-4.00 2.90l1.52 -4.70l-3.99 -2.90l4.94 -0.00zM1470.4 90.7m0.00 -6.80l1.53 4.70l4.94 0.00l-3.99 2.90l1.52 4.70l-4.00 -2.90l-4.00 2.90l1.52 -4.70l-3.99 -2.90l4.94 -0.00zM1471.3 88.5m0.00 -6.80l1.53 4.70l4.94 0.00l-3.99 2.90l1.52 4.70l-4.00 -2.90l-4.00 2.90l1.52 -4.70l-3.99 -2.90l4.94 -0.00zM1472.3 86.5m0.00 -6.80l1.53 4.70l4.94 0.00l-3.99 2.90l1.52 4.70l-4.00 -2.90l-4.00 2.90l1.52 -4.70l-3.99 -2.90l4.94 -0.00zM1473.2 84.9m0.00 -6.80l1.53 4.70l4.94 0.00l-3.99 2.90l1.52 4.70l-4.00 -2.90l-4.00 2.90l1.52 -4.70l-3.99 -2.90l4.94 -0.00zM1474.2 83.7m0.00 -6.80l1.53 4.70l4.94 0.00l-3.99 2.90l1.52 4.70l-4.00 -2.90l-4.00 2.90l1.52 -4.70l-3.99 -2.90l4.94 -0.00zM1475.1 82.6m0.00 -6.80l1.53 4.70l4.94 0.00l-3.99 2.90l1.52 4.70l-4.00 -2.90l-4.00 2.90l1.52 -4.70l-3.99 -2.90l4.94 -0.00zM1476.0 81.5m0.00 -6.80l1.53 4.70l4.94 0.00l-3.99 2.90l1.52 4.70l-4.00 -2.90l-4.00 2.90l1.52 -4.70l-3.99 -2.90l4.94 -0.00zM1477.0 80.6m0.00 -6.80l1.53 4.70l4.94 0.00l-3.99 2.90l1.52 4.70l-4.00 -2.90l-4.00 2.90l1.52 -4.70l-3.99 -2.90l4.94 -0.00zM1477.9 79.7m0.00 -6.80l1.53 4.70l4.94 0.00l-3.99 2.90l1.52 4.70l-4.00 -2.90l-4.00 2.90l1.52 -4.70l-3.99 -2.90l4.94 -0.00zM1478.8 79.0m0.00 -6.80l1.53 4.70l4.94 0.00l-3.99 2.90l1.52 4.70l-4.00 -2.90l-4.00 2.90l1.52 -4.70l-3.99 -2.90l4.94 -0.00zM1479.7 78.5m0.00 -6.80l1.53 4.70l4.94 0.00l-3.99 2.90l1.52 4.70l-4.00 -2.90l-4.00 2.90l1.52 -4.70l-3.99 -2.90l4.94 -0.00zM1480.6 78.1m0.00 -6.80l1.53 4.70l4.94 0.00l-3.99 2.90l1.52 4.70l-4.00 -2.90l-4.00 2.90l1.52 -4.70l-3.99 -2.90l4.94 -0.00zM1481.5 78.0m0.00 -6.80l1.53 4.70l4.94 0.00l-3.99 2.90l1.52 4.70l-4.00 -2.90l-4.00 2.90l1.52 -4.70l-3.99 -2.90l4.94 -0.00zM1482.4 78.0m0.00 -6.80l1.53 4.70l4.94 0.00l-3.99 2.90l1.52 4.70l-4.00 -2.90l-4.00 2.90l1.52 -4.70l-3.99 -2.90l4.94 -0.00zM1483.3 78.1m0.00 -6.80l1.53 4.70l4.94 0.00l-3.99 2.90l1.52 4.70l-4.00 -2.90l-4.00 2.90l1.52 -4.70l-3.99 -2.90l4.94 -0.00zM1484.1 78.2m0.00 -6.80l1.53 4.70l4.94 0.00l-3.99 2.90l1.52 4.70l-4.00 -2.90l-4.00 2.90l1.52 -4.70l-3.99 -2.90l4.94 -0.00zM1485.0 78.4m0.00 -6.80l1.53 4.70l4.94 0.00l-3.99 2.90l1.52 4.70l-4.00 -2.90l-4.00 2.90l1.52 -4.70l-3.99 -2.90l4.94 -0.00zM1485.9 78.7m0.00 -6.80l1.53 4.70l4.94 0.00l-3.99 2.90l1.52 4.70l-4.00 -2.90l-4.00 2.90l1.52 -4.70l-3.99 -2.90l4.94 -0.00zM1486.8 79.0m0.00 -6.80l1.53 4.70l4.94 0.00l-3.99 2.90l1.52 4.70l-4.00 -2.90l-4.00 2.90l1.52 -4.70l-3.99 -2.90l4.94 -0.00zM1487.6 79.3m0.00 -6.80l1.53 4.70l4.94 0.00l-3.99 2.90l1.52 4.70l-4.00 -2.90l-4.00 2.90l1.52 -4.70l-3.99 -2.90l4.94 -0.00zM1488.5 79.7m0.00 -6.80l1.53 4.70l4.94 0.00l-3.99 2.90l1.52 4.70l-4.00 -2.90l-4.00 2.90l1.52 -4.70l-3.99 -2.90l4.94 -0.00zM1489.3 80.1m0.00 -6.80l1.53 4.70l4.94 0.00l-3.99 2.90l1.52 4.70l-4.00 -2.90l-4.00 2.90l1.52 -4.70l-3.99 -2.90l4.94 -0.00zM1490.2 80.6m0.00 -6.80l1.53 4.70l4.94 0.00l-3.99 2.90l1.52 4.70l-4.00 -2.90l-4.00 2.90l1.52 -4.70l-3.99 -2.90l4.94 -0.00zM1491.0 81.1m0.00 -6.80l1.53 4.70l4.94 0.00l-3.99 2.90l1.52 4.70l-4.00 -2.90l-4.00 2.90l1.52 -4.70l-3.99 -2.90l4.94 -0.00zM1491.8 81.6m0.00 -6.80l1.53 4.70l4.94 0.00l-3.99 2.90l1.52 4.70l-4.00 -2.90l-4.00 2.90l1.52 -4.70l-3.99 -2.90l4.94 -0.00zM1492.7 82.2m0.00 -6.80l1.53 4.70l4.94 0.00l-3.99 2.90l1.52 4.70l-4.00 -2.90l-4.00 2.90l1.52 -4.70l-3.99 -2.90l4.94 -0.00zM1493.5 82.8m0.00 -6.80l1.53 4.70l4.94 0.00l-3.99 2.90l1.52 4.70l-4.00 -2.90l-4.00 2.90l1.52 -4.70l-3.99 -2.90l4.94 -0.00zM1494.3 83.4m0.00 -6.80l1.53 4.70l4.94 0.00l-3.99 2.90l1.52 4.70l-4.00 -2.90l-4.00 2.90l1.52 -4.70l-3.99 -2.90l4.94 -0.00zM1495.1 84.1m0.00 -6.80l1.53 4.70l4.94 0.00l-3.99 2.90l1.52 4.70l-4.00 -2.90l-4.00 2.90l1.52 -4.70l-3.99 -2.90l4.94 -0.00zM1496.0 84.7m0.00 -6.80l1.53 4.70l4.94 0.00l-3.99 2.90l1.52 4.70l-4.00 -2.90l-4.00 2.90l1.52 -4.70l-3.99 -2.90l4.94 -0.00zM1496.8 85.4m0.00 -6.80l1.53 4.70l4.94 0.00l-3.99 2.90l1.52 4.70l-4.00 -2.90l-4.00 2.90l1.52 -4.70l-3.99 -2.90l4.94 -0.00zM1497.6 86.2m0.00 -6.80l1.53 4.70l4.94 0.00l-3.99 2.90l1.52 4.70l-4.00 -2.90l-4.00 2.90l1.52 -4.70l-3.99 -2.90l4.94 -0.00zM1498.4 86.9m0.00 -6.80l1.53 4.70l4.94 0.00l-3.99 2.90l1.52 4.70l-4.00 -2.90l-4.00 2.90l1.52 -4.70l-3.99 -2.90l4.94 -0.00zM1499.2 87.7m0.00 -6.80l1.53 4.70l4.94 0.00l-3.99 2.90l1.52 4.70l-4.00 -2.90l-4.00 2.90l1.52 -4.70l-3.99 -2.90l4.94 -0.00zM1500.0 88.7m0.00 -6.80l1.53 4.70l4.94 0.00l-3.99 2.90l1.52 4.70l-4.00 -2.90l-4.00 2.90l1.52 -4.70l-3.99 -2.90l4.94 -0.00zM1500.7 90.2m0.00 -6.80l1.53 4.70l4.94 0.00l-3.99 2.90l1.52 4.70l-4.00 -2.90l-4.00 2.90l1.52 -4.70l-3.99 -2.90l4.94 -0.00zM1501.5 92.0m0.00 -6.80l1.53 4.70l4.94 0.00l-3.99 2.90l1.52 4.70l-4.00 -2.90l-4.00 2.90l1.52 -4.70l-3.99 -2.90l4.94 -0.00zM1502.3 94.0m0.00 -6.80l1.53 4.70l4.94 0.00l-3.99 2.90l1.52 4.70l-4.00 -2.90l-4.00 2.90l1.52 -4.70l-3.99 -2.90l4.94 -0.00zM1503.1 96.1m0.00 -6.80l1.53 4.70l4.94 0.00l-3.99 2.90l1.52 4.70l-4.00 -2.90l-4.00 2.90l1.52 -4.70l-3.99 -2.90l4.94 -0.00zM1503.9 98.2m0.00 -6.80l1.53 4.70l4.94 0.00l-3.99 2.90l1.52 4.70l-4.00 -2.90l-4.00 2.90l1.52 -4.70l-3.99 -2.90l4.94 -0.00zM1504.6 100.3m0.00 -6.80l1.53 4.70l4.94 0.00l-3.99 2.90l1.52 4.70l-4.00 -2.90l-4.00 2.90l1.52 -4.70l-3.99 -2.90l4.94 -0.00zM1505.4 102.3m0.00 -6.80l1.53 4.70l4.94 0.00l-3.99 2.90l1.52 4.70l-4.00 -2.90l-4.00 2.90l1.52 -4.70l-3.99 -2.90l4.94 -0.00zM1506.1 104.2m0.00 -6.80l1.53 4.70l4.94 0.00l-3.99 2.90l1.52 4.70l-4.00 -2.90l-4.00 2.90l1.52 -4.70l-3.99 -2.90l4.94 -0.00zM1506.9 106.2m0.00 -6.80l1.53 4.70l4.94 0.00l-3.99 2.90l1.52 4.70l-4.00 -2.90l-4.00 2.90l1.52 -4.70l-3.99 -2.90l4.94 -0.00zM1507.7 108.3m0.00 -6.80l1.53 4.70l4.94 0.00l-3.99 2.90l1.52 4.70l-4.00 -2.90l-4.00 2.90l1.52 -4.70l-3.99 -2.90l4.94 -0.00zM1508.4 110.4m0.00 -6.80l1.53 4.70l4.94 0.00l-3.99 2.90l1.52 4.70l-4.00 -2.90l-4.00 2.90l1.52 -4.70l-3.99 -2.90l4.94 -0.00zM1509.1 112.4m0.00 -6.80l1.53 4.70l4.94 0.00l-3.99 2.90l1.52 4.70l-4.00 -2.90l-4.00 2.90l1.52 -4.70l-3.99 -2.90l4.94 -0.00zM1509.9 114.5m0.00 -6.80l1.53 4.70l4.94 0.00l-3.99 2.90l1.52 4.70l-4.00 -2.90l-4.00 2.90l1.52 -4.70l-3.99 -2.90l4.94 -0.00zM1510.6 116.5m0.00 -6.80l1.53 4.70l4.94 0.00l-3.99 2.90l1.52 4.70l-4.00 -2.90l-4.00 2.90l1.52 -4.70l-3.99 -2.90l4.94 -0.00zM1511.4 118.3m0.00 -6.80l1.53 4.70l4.94 0.00l-3.99 2.90l1.52 4.70l-4.00 -2.90l-4.00 2.90l1.52 -4.70l-3.99 -2.90l4.94 -0.00zM1512.1 120.1m0.00 -6.80l1.53 4.70l4.94 0.00l-3.99 2.90l1.52 4.70l-4.00 -2.90l-4.00 2.90l1.52 -4.70l-3.99 -2.90l4.94 -0.00zM1512.8 121.7m0.00 -6.80l1.53 4.70l4.94 0.00l-3.99 2.90l1.52 4.70l-4.00 -2.90l-4.00 2.90l1.52 -4.70l-3.99 -2.90l4.94 -0.00zM1513.5 123.2m0.00 -6.80l1.53 4.70l4.94 0.00l-3.99 2.90l1.52 4.70l-4.00 -2.90l-4.00 2.90l1.52 -4.70l-3.99 -2.90l4.94 -0.00zM1514.3 124.6m0.00 -6.80l1.53 4.70l4.94 0.00l-3.99 2.90l1.52 4.70l-4.00 -2.90l-4.00 2.90l1.52 -4.70l-3.99 -2.90l4.94 -0.00zM1515.0 126.0m0.00 -6.80l1.53 4.70l4.94 0.00l-3.99 2.90l1.52 4.70l-4.00 -2.90l-4.00 2.90l1.52 -4.70l-3.99 -2.90l4.94 -0.00zM1515.7 127.3m0.00 -6.80l1.53 4.70l4.94 0.00l-3.99 2.90l1.52 4.70l-4.00 -2.90l-4.00 2.90l1.52 -4.70l-3.99 -2.90l4.94 -0.00zM1516.4 128.6m0.00 -6.80l1.53 4.70l4.94 0.00l-3.99 2.90l1.52 4.70l-4.00 -2.90l-4.00 2.90l1.52 -4.70l-3.99 -2.90l4.94 -0.00zM1517.1 129.8m0.00 -6.80l1.53 4.70l4.94 0.00l-3.99 2.90l1.52 4.70l-4.00 -2.90l-4.00 2.90l1.52 -4.70l-3.99 -2.90l4.94 -0.00zM1517.8 130.8m0.00 -6.80l1.53 4.70l4.94 0.00l-3.99 2.90l1.52 4.70l-4.00 -2.90l-4.00 2.90l1.52 -4.70l-3.99 -2.90l4.94 -0.00zM1518.5 131.8m0.00 -6.80l1.53 4.70l4.94 0.00l-3.99 2.90l1.52 4.70l-4.00 -2.90l-4.00 2.90l1.52 -4.70l-3.99 -2.90l4.94 -0.00zM1519.2 132.5m0.00 -6.80l1.53 4.70l4.94 0.00l-3.99 2.90l1.52 4.70l-4.00 -2.90l-4.00 2.90l1.52 -4.70l-3.99 -2.90l4.94 -0.00zM1519.9 133.0m0.00 -6.80l1.53 4.70l4.94 0.00l-3.99 2.90l1.52 4.70l-4.00 -2.90l-4.00 2.90l1.52 -4.70l-3.99 -2.90l4.94 -0.00zM1520.6 133.4m0.00 -6.80l1.53 4.70l4.94 0.00l-3.99 2.90l1.52 4.70l-4.00 -2.90l-4.00 2.90l1.52 -4.70l-3.99 -2.90l4.94 -0.00zM1521.3 133.8m0.00 -6.80l1.53 4.70l4.94 0.00l-3.99 2.90l1.52 4.70l-4.00 -2.90l-4.00 2.90l1.52 -4.70l-3.99 -2.90l4.94 -0.00zM1522.0 134.2m0.00 -6.80l1.53 4.70l4.94 0.00l-3.99 2.90l1.52 4.70l-4.00 -2.90l-4.00 2.90l1.52 -4.70l-3.99 -2.90l4.94 -0.00zM1522.7 134.6m0.00 -6.80l1.53 4.70l4.94 0.00l-3.99 2.90l1.52 4.70l-4.00 -2.90l-4.00 2.90l1.52 -4.70l-3.99 -2.90l4.94 -0.00zM1523.3 134.9m0.00 -6.80l1.53 4.70l4.94 0.00l-3.99 2.90l1.52 4.70l-4.00 -2.90l-4.00 2.90l1.52 -4.70l-3.99 -2.90l4.94 -0.00zM1524.0 135.2m0.00 -6.80l1.53 4.70l4.94 0.00l-3.99 2.90l1.52 4.70l-4.00 -2.90l-4.00 2.90l1.52 -4.70l-3.99 -2.90l4.94 -0.00zM1524.7 135.4m0.00 -6.80l1.53 4.70l4.94 0.00l-3.99 2.90l1.52 4.70l-4.00 -2.90l-4.00 2.90l1.52 -4.70l-3.99 -2.90l4.94 -0.00zM1525.3 135.6m0.00 -6.80l1.53 4.70l4.94 0.00l-3.99 2.90l1.52 4.70l-4.00 -2.90l-4.00 2.90l1.52 -4.70l-3.99 -2.90l4.94 -0.00zM1526.0 135.8m0.00 -6.80l1.53 4.70l4.94 0.00l-3.99 2.90l1.52 4.70l-4.00 -2.90l-4.00 2.90l1.52 -4.70l-3.99 -2.90l4.94 -0.00zM1526.7 135.9m0.00 -6.80l1.53 4.70l4.94 0.00l-3.99 2.90l1.52 4.70l-4.00 -2.90l-4.00 2.90l1.52 -4.70l-3.99 -2.90l4.94 -0.00zM1527.3 136.0m0.00 -6.80l1.53 4.70l4.94 0.00l-3.99 2.90l1.52 4.70l-4.00 -2.90l-4.00 2.90l1.52 -4.70l-3.99 -2.90l4.94 -0.00zM1528.0 136.0m0.00 -6.80l1.53 4.70l4.94 0.00l-3.99 2.90l1.52 4.70l-4.00 -2.90l-4.00 2.90l1.52 -4.70l-3.99 -2.90l4.94 -0.00zM1528.6 136.0m0.00 -6.80l1.53 4.70l4.94 0.00l-3.99 2.90l1.52 4.70l-4.00 -2.90l-4.00 2.90l1.52 -4.70l-3.99 -2.90l4.94 -0.00zM1529.3 135.8m0.00 -6.80l1.53 4.70l4.94 0.00l-3.99 2.90l1.52 4.70l-4.00 -2.90l-4.00 2.90l1.52 -4.70l-3.99 -2.90l4.94 -0.00zM1530.0 135.5m0.00 -6.80l1.53 4.70l4.94 0.00l-3.99 2.90l1.52 4.70l-4.00 -2.90l-4.00 2.90l1.52 -4.70l-3.99 -2.90l4.94 -0.00zM1530.6 135.1m0.00 -6.80l1.53 4.70l4.94 0.00l-3.99 2.90l1.52 4.70l-4.00 -2.90l-4.00 2.90l1.52 -4.70l-3.99 -2.90l4.94 -0.00zM1531.2 134.7m0.00 -6.80l1.53 4.70l4.94 0.00l-3.99 2.90l1.52 4.70l-4.00 -2.90l-4.00 2.90l1.52 -4.70l-3.99 -2.90l4.94 -0.00zM1531.9 134.1m0.00 -6.80l1.53 4.70l4.94 0.00l-3.99 2.90l1.52 4.70l-4.00 -2.90l-4.00 2.90l1.52 -4.70l-3.99 -2.90l4.94 -0.00zM1532.5 133.5m0.00 -6.80l1.53 4.70l4.94 0.00l-3.99 2.90l1.52 4.70l-4.00 -2.90l-4.00 2.90l1.52 -4.70l-3.99 -2.90l4.94 -0.00zM1533.2 132.8m0.00 -6.80l1.53 4.70l4.94 0.00l-3.99 2.90l1.52 4.70l-4.00 -2.90l-4.00 2.90l1.52 -4.70l-3.99 -2.90l4.94 -0.00zM1533.8 132.0m0.00 -6.80l1.53 4.70l4.94 0.00l-3.99 2.90l1.52 4.70l-4.00 -2.90l-4.00 2.90l1.52 -4.70l-3.99 -2.90l4.94 -0.00zM1534.4 131.2m0.00 -6.80l1.53 4.70l4.94 0.00l-3.99 2.90l1.52 4.70l-4.00 -2.90l-4.00 2.90l1.52 -4.70l-3.99 -2.90l4.94 -0.00zM1535.0 130.3m0.00 -6.80l1.53 4.70l4.94 0.00l-3.99 2.90l1.52 4.70l-4.00 -2.90l-4.00 2.90l1.52 -4.70l-3.99 -2.90l4.94 -0.00zM1535.7 129.4m0.00 -6.80l1.53 4.70l4.94 0.00l-3.99 2.90l1.52 4.70l-4.00 -2.90l-4.00 2.90l1.52 -4.70l-3.99 -2.90l4.94 -0.00zM1536.3 128.4m0.00 -6.80l1.53 4.70l4.94 0.00l-3.99 2.90l1.52 4.70l-4.00 -2.90l-4.00 2.90l1.52 -4.70l-3.99 -2.90l4.94 -0.00zM1536.9 127.4m0.00 -6.80l1.53 4.70l4.94 0.00l-3.99 2.90l1.52 4.70l-4.00 -2.90l-4.00 2.90l1.52 -4.70l-3.99 -2.90l4.94 -0.00zM1537.5 126.4m0.00 -6.80l1.53 4.70l4.94 0.00l-3.99 2.90l1.52 4.70l-4.00 -2.90l-4.00 2.90l1.52 -4.70l-3.99 -2.90l4.94 -0.00zM1538.1 125.4m0.00 -6.80l1.53 4.70l4.94 0.00l-3.99 2.90l1.52 4.70l-4.00 -2.90l-4.00 2.90l1.52 -4.70l-3.99 -2.90l4.94 -0.00zM1538.8 124.3m0.00 -6.80l1.53 4.70l4.94 0.00l-3.99 2.90l1.52 4.70l-4.00 -2.90l-4.00 2.90l1.52 -4.70l-3.99 -2.90l4.94 -0.00zM1539.4 123.3m0.00 -6.80l1.53 4.70l4.94 0.00l-3.99 2.90l1.52 4.70l-4.00 -2.90l-4.00 2.90l1.52 -4.70l-3.99 -2.90l4.94 -0.00zM1540.0 122.2m0.00 -6.80l1.53 4.70l4.94 0.00l-3.99 2.90l1.52 4.70l-4.00 -2.90l-4.00 2.90l1.52 -4.70l-3.99 -2.90l4.94 -0.00zM1540.6 121.1m0.00 -6.80l1.53 4.70l4.94 0.00l-3.99 2.90l1.52 4.70l-4.00 -2.90l-4.00 2.90l1.52 -4.70l-3.99 -2.90l4.94 -0.00zM1541.2 120.1m0.00 -6.80l1.53 4.70l4.94 0.00l-3.99 2.90l1.52 4.70l-4.00 -2.90l-4.00 2.90l1.52 -4.70l-3.99 -2.90l4.94 -0.00zM1541.8 119.0m0.00 -6.80l1.53 4.70l4.94 0.00l-3.99 2.90l1.52 4.70l-4.00 -2.90l-4.00 2.90l1.52 -4.70l-3.99 -2.90l4.94 -0.00zM1542.4 118.0m0.00 -6.80l1.53 4.70l4.94 0.00l-3.99 2.90l1.52 4.70l-4.00 -2.90l-4.00 2.90l1.52 -4.70l-3.99 -2.90l4.94 -0.00zM1543.0 116.9m0.00 -6.80l1.53 4.70l4.94 0.00l-3.99 2.90l1.52 4.70l-4.00 -2.90l-4.00 2.90l1.52 -4.70l-3.99 -2.90l4.94 -0.00zM1543.6 115.9m0.00 -6.80l1.53 4.70l4.94 0.00l-3.99 2.90l1.52 4.70l-4.00 -2.90l-4.00 2.90l1.52 -4.70l-3.99 -2.90l4.94 -0.00zM1544.2 115.0m0.00 -6.80l1.53 4.70l4.94 0.00l-3.99 2.90l1.52 4.70l-4.00 -2.90l-4.00 2.90l1.52 -4.70l-3.99 -2.90l4.94 -0.00zM1544.7 114.0m0.00 -6.80l1.53 4.70l4.94 0.00l-3.99 2.90l1.52 4.70l-4.00 -2.90l-4.00 2.90l1.52 -4.70l-3.99 -2.90l4.94 -0.00zM1545.3 113.1m0.00 -6.80l1.53 4.70l4.94 0.00l-3.99 2.90l1.52 4.70l-4.00 -2.90l-4.00 2.90l1.52 -4.70l-3.99 -2.90l4.94 -0.00zM1545.9 112.3m0.00 -6.80l1.53 4.70l4.94 0.00l-3.99 2.90l1.52 4.70l-4.00 -2.90l-4.00 2.90l1.52 -4.70l-3.99 -2.90l4.94 -0.00zM1546.5 111.4m0.00 -6.80l1.53 4.70l4.94 0.00l-3.99 2.90l1.52 4.70l-4.00 -2.90l-4.00 2.90l1.52 -4.70l-3.99 -2.90l4.94 -0.00zM1547.1 110.7m0.00 -6.80l1.53 4.70l4.94 0.00l-3.99 2.90l1.52 4.70l-4.00 -2.90l-4.00 2.90l1.52 -4.70l-3.99 -2.90l4.94 -0.00zM1547.7 109.9m0.00 -6.80l1.53 4.70l4.94 0.00l-3.99 2.90l1.52 4.70l-4.00 -2.90l-4.00 2.90l1.52 -4.70l-3.99 -2.90l4.94 -0.00zM1548.2 109.3m0.00 -6.80l1.53 4.70l4.94 0.00l-3.99 2.90l1.52 4.70l-4.00 -2.90l-4.00 2.90l1.52 -4.70l-3.99 -2.90l4.94 -0.00zM1548.8 108.7m0.00 -6.80l1.53 4.70l4.94 0.00l-3.99 2.90l1.52 4.70l-4.00 -2.90l-4.00 2.90l1.52 -4.70l-3.99 -2.90l4.94 -0.00zM1549.4 108.1m0.00 -6.80l1.53 4.70l4.94 0.00l-3.99 2.90l1.52 4.70l-4.00 -2.90l-4.00 2.90l1.52 -4.70l-3.99 -2.90l4.94 -0.00zM1549.9 107.7m0.00 -6.80l1.53 4.70l4.94 0.00l-3.99 2.90l1.52 4.70l-4.00 -2.90l-4.00 2.90l1.52 -4.70l-3.99 -2.90l4.94 -0.00zM1550.5 107.3m0.00 -6.80l1.53 4.70l4.94 0.00l-3.99 2.90l1.52 4.70l-4.00 -2.90l-4.00 2.90l1.52 -4.70l-3.99 -2.90l4.94 -0.00zM1551.1 106.9m0.00 -6.80l1.53 4.70l4.94 0.00l-3.99 2.90l1.52 4.70l-4.00 -2.90l-4.00 2.90l1.52 -4.70l-3.99 -2.90l4.94 -0.00zM1551.6 106.7m0.00 -6.80l1.53 4.70l4.94 0.00l-3.99 2.90l1.52 4.70l-4.00 -2.90l-4.00 2.90l1.52 -4.70l-3.99 -2.90l4.94 -0.00zM1552.2 106.5m0.00 -6.80l1.53 4.70l4.94 0.00l-3.99 2.90l1.52 4.70l-4.00 -2.90l-4.00 2.90l1.52 -4.70l-3.99 -2.90l4.94 -0.00zM1552.8 106.4m0.00 -6.80l1.53 4.70l4.94 0.00l-3.99 2.90l1.52 4.70l-4.00 -2.90l-4.00 2.90l1.52 -4.70l-3.99 -2.90l4.94 -0.00zM1553.3 106.4m0.00 -6.80l1.53 4.70l4.94 0.00l-3.99 2.90l1.52 4.70l-4.00 -2.90l-4.00 2.90l1.52 -4.70l-3.99 -2.90l4.94 -0.00zM1553.9 106.5m0.00 -6.80l1.53 4.70l4.94 0.00l-3.99 2.90l1.52 4.70l-4.00 -2.90l-4.00 2.90l1.52 -4.70l-3.99 -2.90l4.94 -0.00zM1554.4 106.7m0.00 -6.80l1.53 4.70l4.94 0.00l-3.99 2.90l1.52 4.70l-4.00 -2.90l-4.00 2.90l1.52 -4.70l-3.99 -2.90l4.94 -0.00zM1555.0 107.0m0.00 -6.80l1.53 4.70l4.94 0.00l-3.99 2.90l1.52 4.70l-4.00 -2.90l-4.00 2.90l1.52 -4.70l-3.99 -2.90l4.94 -0.00zM1555.5 107.4m0.00 -6.80l1.53 4.70l4.94 0.00l-3.99 2.90l1.52 4.70l-4.00 -2.90l-4.00 2.90l1.52 -4.70l-3.99 -2.90l4.94 -0.00zM1556.1 107.8m0.00 -6.80l1.53 4.70l4.94 0.00l-3.99 2.90l1.52 4.70l-4.00 -2.90l-4.00 2.90l1.52 -4.70l-3.99 -2.90l4.94 -0.00zM1556.6 108.3m0.00 -6.80l1.53 4.70l4.94 0.00l-3.99 2.90l1.52 4.70l-4.00 -2.90l-4.00 2.90l1.52 -4.70l-3.99 -2.90l4.94 -0.00zM1557.1 108.8m0.00 -6.80l1.53 4.70l4.94 0.00l-3.99 2.90l1.52 4.70l-4.00 -2.90l-4.00 2.90l1.52 -4.70l-3.99 -2.90l4.94 -0.00zM1557.7 109.4m0.00 -6.80l1.53 4.70l4.94 0.00l-3.99 2.90l1.52 4.70l-4.00 -2.90l-4.00 2.90l1.52 -4.70l-3.99 -2.90l4.94 -0.00zM1558.2 110.0m0.00 -6.80l1.53 4.70l4.94 0.00l-3.99 2.90l1.52 4.70l-4.00 -2.90l-4.00 2.90l1.52 -4.70l-3.99 -2.90l4.94 -0.00zM1558.8 110.6m0.00 -6.80l1.53 4.70l4.94 0.00l-3.99 2.90l1.52 4.70l-4.00 -2.90l-4.00 2.90l1.52 -4.70l-3.99 -2.90l4.94 -0.00zM1559.3 111.2m0.00 -6.80l1.53 4.70l4.94 0.00l-3.99 2.90l1.52 4.70l-4.00 -2.90l-4.00 2.90l1.52 -4.70l-3.99 -2.90l4.94 -0.00zM1559.8 111.9m0.00 -6.80l1.53 4.70l4.94 0.00l-3.99 2.90l1.52 4.70l-4.00 -2.90l-4.00 2.90l1.52 -4.70l-3.99 -2.90l4.94 -0.00zM1560.4 112.5m0.00 -6.80l1.53 4.70l4.94 0.00l-3.99 2.90l1.52 4.70l-4.00 -2.90l-4.00 2.90l1.52 -4.70l-3.99 -2.90l4.94 -0.00zM1560.9 113.0m0.00 -6.80l1.53 4.70l4.94 0.00l-3.99 2.90l1.52 4.70l-4.00 -2.90l-4.00 2.90l1.52 -4.70l-3.99 -2.90l4.94 -0.00zM1561.4 113.6m0.00 -6.80l1.53 4.70l4.94 0.00l-3.99 2.90l1.52 4.70l-4.00 -2.90l-4.00 2.90l1.52 -4.70l-3.99 -2.90l4.94 -0.00zM1561.9 114.0m0.00 -6.80l1.53 4.70l4.94 0.00l-3.99 2.90l1.52 4.70l-4.00 -2.90l-4.00 2.90l1.52 -4.70l-3.99 -2.90l4.94 -0.00zM1562.5 114.5m0.00 -6.80l1.53 4.70l4.94 0.00l-3.99 2.90l1.52 4.70l-4.00 -2.90l-4.00 2.90l1.52 -4.70l-3.99 -2.90l4.94 -0.00zM1563.0 114.9m0.00 -6.80l1.53 4.70l4.94 0.00l-3.99 2.90l1.52 4.70l-4.00 -2.90l-4.00 2.90l1.52 -4.70l-3.99 -2.90l4.94 -0.00zM1563.5 115.2m0.00 -6.80l1.53 4.70l4.94 0.00l-3.99 2.90l1.52 4.70l-4.00 -2.90l-4.00 2.90l1.52 -4.70l-3.99 -2.90l4.94 -0.00zM1564.0 115.4m0.00 -6.80l1.53 4.70l4.94 0.00l-3.99 2.90l1.52 4.70l-4.00 -2.90l-4.00 2.90l1.52 -4.70l-3.99 -2.90l4.94 -0.00zM1564.5 115.5m0.00 -6.80l1.53 4.70l4.94 0.00l-3.99 2.90l1.52 4.70l-4.00 -2.90l-4.00 2.90l1.52 -4.70l-3.99 -2.90l4.94 -0.00zM1565.0 115.6m0.00 -6.80l1.53 4.70l4.94 0.00l-3.99 2.90l1.52 4.70l-4.00 -2.90l-4.00 2.90l1.52 -4.70l-3.99 -2.90l4.94 -0.00zM1565.6 115.6m0.00 -6.80l1.53 4.70l4.94 0.00l-3.99 2.90l1.52 4.70l-4.00 -2.90l-4.00 2.90l1.52 -4.70l-3.99 -2.90l4.94 -0.00zM1566.1 115.6m0.00 -6.80l1.53 4.70l4.94 0.00l-3.99 2.90l1.52 4.70l-4.00 -2.90l-4.00 2.90l1.52 -4.70l-3.99 -2.90l4.94 -0.00zM1566.6 115.6m0.00 -6.80l1.53 4.70l4.94 0.00l-3.99 2.90l1.52 4.70l-4.00 -2.90l-4.00 2.90l1.52 -4.70l-3.99 -2.90l4.94 -0.00zM1567.1 115.5m0.00 -6.80l1.53 4.70l4.94 0.00l-3.99 2.90l1.52 4.70l-4.00 -2.90l-4.00 2.90l1.52 -4.70l-3.99 -2.90l4.94 -0.00zM1567.6 115.5m0.00 -6.80l1.53 4.70l4.94 0.00l-3.99 2.90l1.52 4.70l-4.00 -2.90l-4.00 2.90l1.52 -4.70l-3.99 -2.90l4.94 -0.00zM1568.1 115.5m0.00 -6.80l1.53 4.70l4.94 0.00l-3.99 2.90l1.52 4.70l-4.00 -2.90l-4.00 2.90l1.52 -4.70l-3.99 -2.90l4.94 -0.00zM1568.6 115.5m0.00 -6.80l1.53 4.70l4.94 0.00l-3.99 2.90l1.52 4.70l-4.00 -2.90l-4.00 2.90l1.52 -4.70l-3.99 -2.90l4.94 -0.00zM1569.1 115.4m0.00 -6.80l1.53 4.70l4.94 0.00l-3.99 2.90l1.52 4.70l-4.00 -2.90l-4.00 2.90l1.52 -4.70l-3.99 -2.90l4.94 -0.00zM1569.6 115.4m0.00 -6.80l1.53 4.70l4.94 0.00l-3.99 2.90l1.52 4.70l-4.00 -2.90l-4.00 2.90l1.52 -4.70l-3.99 -2.90l4.94 -0.00zM1570.1 115.3m0.00 -6.80l1.53 4.70l4.94 0.00l-3.99 2.90l1.52 4.70l-4.00 -2.90l-4.00 2.90l1.52 -4.70l-3.99 -2.90l4.94 -0.00zM1570.6 115.3m0.00 -6.80l1.53 4.70l4.94 0.00l-3.99 2.90l1.52 4.70l-4.00 -2.90l-4.00 2.90l1.52 -4.70l-3.99 -2.90l4.94 -0.00zM1571.1 115.2m0.00 -6.80l1.53 4.70l4.94 0.00l-3.99 2.90l1.52 4.70l-4.00 -2.90l-4.00 2.90l1.52 -4.70l-3.99 -2.90l4.94 -0.00zM1571.6 115.2m0.00 -6.80l1.53 4.70l4.94 0.00l-3.99 2.90l1.52 4.70l-4.00 -2.90l-4.00 2.90l1.52 -4.70l-3.99 -2.90l4.94 -0.00zM1572.1 115.1m0.00 -6.80l1.53 4.70l4.94 0.00l-3.99 2.90l1.52 4.70l-4.00 -2.90l-4.00 2.90l1.52 -4.70l-3.99 -2.90l4.94 -0.00zM1572.6 115.0m0.00 -6.80l1.53 4.70l4.94 0.00l-3.99 2.90l1.52 4.70l-4.00 -2.90l-4.00 2.90l1.52 -4.70l-3.99 -2.90l4.94 -0.00zM1573.0 114.7m0.00 -6.80l1.53 4.70l4.94 0.00l-3.99 2.90l1.52 4.70l-4.00 -2.90l-4.00 2.90l1.52 -4.70l-3.99 -2.90l4.94 -0.00zM1573.5 114.3m0.00 -6.80l1.53 4.70l4.94 0.00l-3.99 2.90l1.52 4.70l-4.00 -2.90l-4.00 2.90l1.52 -4.70l-3.99 -2.90l4.94 -0.00zM1574.0 113.8m0.00 -6.80l1.53 4.70l4.94 0.00l-3.99 2.90l1.52 4.70l-4.00 -2.90l-4.00 2.90l1.52 -4.70l-3.99 -2.90l4.94 -0.00zM1574.5 113.3m0.00 -6.80l1.53 4.70l4.94 0.00l-3.99 2.90l1.52 4.70l-4.00 -2.90l-4.00 2.90l1.52 -4.70l-3.99 -2.90l4.94 -0.00zM1575.0 112.6m0.00 -6.80l1.53 4.70l4.94 0.00l-3.99 2.90l1.52 4.70l-4.00 -2.90l-4.00 2.90l1.52 -4.70l-3.99 -2.90l4.94 -0.00zM1575.5 111.9m0.00 -6.80l1.53 4.70l4.94 0.00l-3.99 2.90l1.52 4.70l-4.00 -2.90l-4.00 2.90l1.52 -4.70l-3.99 -2.90l4.94 -0.00zM1575.9 111.2m0.00 -6.80l1.53 4.70l4.94 0.00l-3.99 2.90l1.52 4.70l-4.00 -2.90l-4.00 2.90l1.52 -4.70l-3.99 -2.90l4.94 -0.00zM1576.4 110.4m0.00 -6.80l1.53 4.70l4.94 0.00l-3.99 2.90l1.52 4.70l-4.00 -2.90l-4.00 2.90l1.52 -4.70l-3.99 -2.90l4.94 -0.00zM1576.9 109.6m0.00 -6.80l1.53 4.70l4.94 0.00l-3.99 2.90l1.52 4.70l-4.00 -2.90l-4.00 2.90l1.52 -4.70l-3.99 -2.90l4.94 -0.00zM1577.4 108.8m0.00 -6.80l1.53 4.70l4.94 0.00l-3.99 2.90l1.52 4.70l-4.00 -2.90l-4.00 2.90l1.52 -4.70l-3.99 -2.90l4.94 -0.00zM1577.8 107.9m0.00 -6.80l1.53 4.70l4.94 0.00l-3.99 2.90l1.52 4.70l-4.00 -2.90l-4.00 2.90l1.52 -4.70l-3.99 -2.90l4.94 -0.00zM1578.3 107.1m0.00 -6.80l1.53 4.70l4.94 0.00l-3.99 2.90l1.52 4.70l-4.00 -2.90l-4.00 2.90l1.52 -4.70l-3.99 -2.90l4.94 -0.00zM1578.8 106.3m0.00 -6.80l1.53 4.70l4.94 0.00l-3.99 2.90l1.52 4.70l-4.00 -2.90l-4.00 2.90l1.52 -4.70l-3.99 -2.90l4.94 -0.00zM1579.2 105.6m0.00 -6.80l1.53 4.70l4.94 0.00l-3.99 2.90l1.52 4.70l-4.00 -2.90l-4.00 2.90l1.52 -4.70l-3.99 -2.90l4.94 -0.00zM1579.7 104.9m0.00 -6.80l1.53 4.70l4.94 0.00l-3.99 2.90l1.52 4.70l-4.00 -2.90l-4.00 2.90l1.52 -4.70l-3.99 -2.90l4.94 -0.00zM1580.2 104.2m0.00 -6.80l1.53 4.70l4.94 0.00l-3.99 2.90l1.52 4.70l-4.00 -2.90l-4.00 2.90l1.52 -4.70l-3.99 -2.90l4.94 -0.00zM1580.6 103.6m0.00 -6.80l1.53 4.70l4.94 0.00l-3.99 2.90l1.52 4.70l-4.00 -2.90l-4.00 2.90l1.52 -4.70l-3.99 -2.90l4.94 -0.00zM1581.1 103.1m0.00 -6.80l1.53 4.70l4.94 0.00l-3.99 2.90l1.52 4.70l-4.00 -2.90l-4.00 2.90l1.52 -4.70l-3.99 -2.90l4.94 -0.00zM1581.6 102.5m0.00 -6.80l1.53 4.70l4.94 0.00l-3.99 2.90l1.52 4.70l-4.00 -2.90l-4.00 2.90l1.52 -4.70l-3.99 -2.90l4.94 -0.00zM1582.0 101.8m0.00 -6.80l1.53 4.70l4.94 0.00l-3.99 2.90l1.52 4.70l-4.00 -2.90l-4.00 2.90l1.52 -4.70l-3.99 -2.90l4.94 -0.00zM1582.5 101.2m0.00 -6.80l1.53 4.70l4.94 0.00l-3.99 2.90l1.52 4.70l-4.00 -2.90l-4.00 2.90l1.52 -4.70l-3.99 -2.90l4.94 -0.00zM1582.9 100.6m0.00 -6.80l1.53 4.70l4.94 0.00l-3.99 2.90l1.52 4.70l-4.00 -2.90l-4.00 2.90l1.52 -4.70l-3.99 -2.90l4.94 -0.00zM1583.4 99.9m0.00 -6.80l1.53 4.70l4.94 0.00l-3.99 2.90l1.52 4.70l-4.00 -2.90l-4.00 2.90l1.52 -4.70l-3.99 -2.90l4.94 -0.00zM1583.8 99.3m0.00 -6.80l1.53 4.70l4.94 0.00l-3.99 2.90l1.52 4.70l-4.00 -2.90l-4.00 2.90l1.52 -4.70l-3.99 -2.90l4.94 -0.00zM1584.3 98.7m0.00 -6.80l1.53 4.70l4.94 0.00l-3.99 2.90l1.52 4.70l-4.00 -2.90l-4.00 2.90l1.52 -4.70l-3.99 -2.90l4.94 -0.00zM1584.7 98.1m0.00 -6.80l1.53 4.70l4.94 0.00l-3.99 2.90l1.52 4.70l-4.00 -2.90l-4.00 2.90l1.52 -4.70l-3.99 -2.90l4.94 -0.00zM1585.2 97.6m0.00 -6.80l1.53 4.70l4.94 0.00l-3.99 2.90l1.52 4.70l-4.00 -2.90l-4.00 2.90l1.52 -4.70l-3.99 -2.90l4.94 -0.00zM1585.6 97.2m0.00 -6.80l1.53 4.70l4.94 0.00l-3.99 2.90l1.52 4.70l-4.00 -2.90l-4.00 2.90l1.52 -4.70l-3.99 -2.90l4.94 -0.00zM1586.1 96.8m0.00 -6.80l1.53 4.70l4.94 0.00l-3.99 2.90l1.52 4.70l-4.00 -2.90l-4.00 2.90l1.52 -4.70l-3.99 -2.90l4.94 -0.00zM1586.5 96.5m0.00 -6.80l1.53 4.70l4.94 0.00l-3.99 2.90l1.52 4.70l-4.00 -2.90l-4.00 2.90l1.52 -4.70l-3.99 -2.90l4.94 -0.00zM1587.0 96.3m0.00 -6.80l1.53 4.70l4.94 0.00l-3.99 2.90l1.52 4.70l-4.00 -2.90l-4.00 2.90l1.52 -4.70l-3.99 -2.90l4.94 -0.00zM1587.4 96.2m0.00 -6.80l1.53 4.70l4.94 0.00l-3.99 2.90l1.52 4.70l-4.00 -2.90l-4.00 2.90l1.52 -4.70l-3.99 -2.90l4.94 -0.00zM1587.9 96.2m0.00 -6.80l1.53 4.70l4.94 0.00l-3.99 2.90l1.52 4.70l-4.00 -2.90l-4.00 2.90l1.52 -4.70l-3.99 -2.90l4.94 -0.00zM1588.3 96.2m0.00 -6.80l1.53 4.70l4.94 0.00l-3.99 2.90l1.52 4.70l-4.00 -2.90l-4.00 2.90l1.52 -4.70l-3.99 -2.90l4.94 -0.00zM1588.7 96.2m0.00 -6.80l1.53 4.70l4.94 0.00l-3.99 2.90l1.52 4.70l-4.00 -2.90l-4.00 2.90l1.52 -4.70l-3.99 -2.90l4.94 -0.00zM1589.2 96.3m0.00 -6.80l1.53 4.70l4.94 0.00l-3.99 2.90l1.52 4.70l-4.00 -2.90l-4.00 2.90l1.52 -4.70l-3.99 -2.90l4.94 -0.00zM1589.6 96.3m0.00 -6.80l1.53 4.70l4.94 0.00l-3.99 2.90l1.52 4.70l-4.00 -2.90l-4.00 2.90l1.52 -4.70l-3.99 -2.90l4.94 -0.00zM1590.1 96.4m0.00 -6.80l1.53 4.70l4.94 0.00l-3.99 2.90l1.52 4.70l-4.00 -2.90l-4.00 2.90l1.52 -4.70l-3.99 -2.90l4.94 -0.00zM1590.5 96.4m0.00 -6.80l1.53 4.70l4.94 0.00l-3.99 2.90l1.52 4.70l-4.00 -2.90l-4.00 2.90l1.52 -4.70l-3.99 -2.90l4.94 -0.00zM1590.9 96.5m0.00 -6.80l1.53 4.70l4.94 0.00l-3.99 2.90l1.52 4.70l-4.00 -2.90l-4.00 2.90l1.52 -4.70l-3.99 -2.90l4.94 -0.00zM1591.4 96.6m0.00 -6.80l1.53 4.70l4.94 0.00l-3.99 2.90l1.52 4.70l-4.00 -2.90l-4.00 2.90l1.52 -4.70l-3.99 -2.90l4.94 -0.00zM1591.8 96.6m0.00 -6.80l1.53 4.70l4.94 0.00l-3.99 2.90l1.52 4.70l-4.00 -2.90l-4.00 2.90l1.52 -4.70l-3.99 -2.90l4.94 -0.00zM1592.2 96.7m0.00 -6.80l1.53 4.70l4.94 0.00l-3.99 2.90l1.52 4.70l-4.00 -2.90l-4.00 2.90l1.52 -4.70l-3.99 -2.90l4.94 -0.00zM1592.6 96.8m0.00 -6.80l1.53 4.70l4.94 0.00l-3.99 2.90l1.52 4.70l-4.00 -2.90l-4.00 2.90l1.52 -4.70l-3.99 -2.90l4.94 -0.00zM1593.1 96.9m0.00 -6.80l1.53 4.70l4.94 0.00l-3.99 2.90l1.52 4.70l-4.00 -2.90l-4.00 2.90l1.52 -4.70l-3.99 -2.90l4.94 -0.00zM1593.5 97.0m0.00 -6.80l1.53 4.70l4.94 0.00l-3.99 2.90l1.52 4.70l-4.00 -2.90l-4.00 2.90l1.52 -4.70l-3.99 -2.90l4.94 -0.00zM1593.9 97.0m0.00 -6.80l1.53 4.70l4.94 0.00l-3.99 2.90l1.52 4.70l-4.00 -2.90l-4.00 2.90l1.52 -4.70l-3.99 -2.90l4.94 -0.00zM1594.3 97.1m0.00 -6.80l1.53 4.70l4.94 0.00l-3.99 2.90l1.52 4.70l-4.00 -2.90l-4.00 2.90l1.52 -4.70l-3.99 -2.90l4.94 -0.00zM1594.8 97.2m0.00 -6.80l1.53 4.70l4.94 0.00l-3.99 2.90l1.52 4.70l-4.00 -2.90l-4.00 2.90l1.52 -4.70l-3.99 -2.90l4.94 -0.00zM1595.2 97.2m0.00 -6.80l1.53 4.70l4.94 0.00l-3.99 2.90l1.52 4.70l-4.00 -2.90l-4.00 2.90l1.52 -4.70l-3.99 -2.90l4.94 -0.00zM1595.6 97.3m0.00 -6.80l1.53 4.70l4.94 0.00l-3.99 2.90l1.52 4.70l-4.00 -2.90l-4.00 2.90l1.52 -4.70l-3.99 -2.90l4.94 -0.00zM1596.0 97.4m0.00 -6.80l1.53 4.70l4.94 0.00l-3.99 2.90l1.52 4.70l-4.00 -2.90l-4.00 2.90l1.52 -4.70l-3.99 -2.90l4.94 -0.00zM1596.4 97.4m0.00 -6.80l1.53 4.70l4.94 0.00l-3.99 2.90l1.52 4.70l-4.00 -2.90l-4.00 2.90l1.52 -4.70l-3.99 -2.90l4.94 -0.00zM1596.9 97.5m0.00 -6.80l1.53 4.70l4.94 0.00l-3.99 2.90l1.52 4.70l-4.00 -2.90l-4.00 2.90l1.52 -4.70l-3.99 -2.90l4.94 -0.00zM1597.3 97.6m0.00 -6.80l1.53 4.70l4.94 0.00l-3.99 2.90l1.52 4.70l-4.00 -2.90l-4.00 2.90l1.52 -4.70l-3.99 -2.90l4.94 -0.00zM1597.7 97.7m0.00 -6.80l1.53 4.70l4.94 0.00l-3.99 2.90l1.52 4.70l-4.00 -2.90l-4.00 2.90l1.52 -4.70l-3.99 -2.90l4.94 -0.00zM1598.1 97.8m0.00 -6.80l1.53 4.70l4.94 0.00l-3.99 2.90l1.52 4.70l-4.00 -2.90l-4.00 2.90l1.52 -4.70l-3.99 -2.90l4.94 -0.00zM1598.5 97.8m0.00 -6.80l1.53 4.70l4.94 0.00l-3.99 2.90l1.52 4.70l-4.00 -2.90l-4.00 2.90l1.52 -4.70l-3.99 -2.90l4.94 -0.00zM1598.9 97.9m0.00 -6.80l1.53 4.70l4.94 0.00l-3.99 2.90l1.52 4.70l-4.00 -2.90l-4.00 2.90l1.52 -4.70l-3.99 -2.90l4.94 -0.00zM1599.3 98.0m0.00 -6.80l1.53 4.70l4.94 0.00l-3.99 2.90l1.52 4.70l-4.00 -2.90l-4.00 2.90l1.52 -4.70l-3.99 -2.90l4.94 -0.00zM1599.7 98.0m0.00 -6.80l1.53 4.70l4.94 0.00l-3.99 2.90l1.52 4.70l-4.00 -2.90l-4.00 2.90l1.52 -4.70l-3.99 -2.90l4.94 -0.00zM1600.2 98.1m0.00 -6.80l1.53 4.70l4.94 0.00l-3.99 2.90l1.52 4.70l-4.00 -2.90l-4.00 2.90l1.52 -4.70l-3.99 -2.90l4.94 -0.00zM1600.6 98.1m0.00 -6.80l1.53 4.70l4.94 0.00l-3.99 2.90l1.52 4.70l-4.00 -2.90l-4.00 2.90l1.52 -4.70l-3.99 -2.90l4.94 -0.00zM1601.0 98.1m0.00 -6.80l1.53 4.70l4.94 0.00l-3.99 2.90l1.52 4.70l-4.00 -2.90l-4.00 2.90l1.52 -4.70l-3.99 -2.90l4.94 -0.00zM1601.4 98.2m0.00 -6.80l1.53 4.70l4.94 0.00l-3.99 2.90l1.52 4.70l-4.00 -2.90l-4.00 2.90l1.52 -4.70l-3.99 -2.90l4.94 -0.00zM1601.8 98.2m0.00 -6.80l1.53 4.70l4.94 0.00l-3.99 2.90l1.52 4.70l-4.00 -2.90l-4.00 2.90l1.52 -4.70l-3.99 -2.90l4.94 -0.00zM1602.2 98.1m0.00 -6.80l1.53 4.70l4.94 0.00l-3.99 2.90l1.52 4.70l-4.00 -2.90l-4.00 2.90l1.52 -4.70l-3.99 -2.90l4.94 -0.00zM1602.6 98.1m0.00 -6.80l1.53 4.70l4.94 0.00l-3.99 2.90l1.52 4.70l-4.00 -2.90l-4.00 2.90l1.52 -4.70l-3.99 -2.90l4.94 -0.00zM1603.0 97.9m0.00 -6.80l1.53 4.70l4.94 0.00l-3.99 2.90l1.52 4.70l-4.00 -2.90l-4.00 2.90l1.52 -4.70l-3.99 -2.90l4.94 -0.00zM1603.4 97.8m0.00 -6.80l1.53 4.70l4.94 0.00l-3.99 2.90l1.52 4.70l-4.00 -2.90l-4.00 2.90l1.52 -4.70l-3.99 -2.90l4.94 -0.00zM1603.8 97.6m0.00 -6.80l1.53 4.70l4.94 0.00l-3.99 2.90l1.52 4.70l-4.00 -2.90l-4.00 2.90l1.52 -4.70l-3.99 -2.90l4.94 -0.00zM1604.2 97.3m0.00 -6.80l1.53 4.70l4.94 0.00l-3.99 2.90l1.52 4.70l-4.00 -2.90l-4.00 2.90l1.52 -4.70l-3.99 -2.90l4.94 -0.00zM1604.6 97.1m0.00 -6.80l1.53 4.70l4.94 0.00l-3.99 2.90l1.52 4.70l-4.00 -2.90l-4.00 2.90l1.52 -4.70l-3.99 -2.90l4.94 -0.00zM1605.0 96.8m0.00 -6.80l1.53 4.70l4.94 0.00l-3.99 2.90l1.52 4.70l-4.00 -2.90l-4.00 2.90l1.52 -4.70l-3.99 -2.90l4.94 -0.00zM1605.3 96.5m0.00 -6.80l1.53 4.70l4.94 0.00l-3.99 2.90l1.52 4.70l-4.00 -2.90l-4.00 2.90l1.52 -4.70l-3.99 -2.90l4.94 -0.00zM1605.7 96.1m0.00 -6.80l1.53 4.70l4.94 0.00l-3.99 2.90l1.52 4.70l-4.00 -2.90l-4.00 2.90l1.52 -4.70l-3.99 -2.90l4.94 -0.00zM1606.1 95.8m0.00 -6.80l1.53 4.70l4.94 0.00l-3.99 2.90l1.52 4.70l-4.00 -2.90l-4.00 2.90l1.52 -4.70l-3.99 -2.90l4.94 -0.00zM1606.5 95.4m0.00 -6.80l1.53 4.70l4.94 0.00l-3.99 2.90l1.52 4.70l-4.00 -2.90l-4.00 2.90l1.52 -4.70l-3.99 -2.90l4.94 -0.00zM1606.9 95.0m0.00 -6.80l1.53 4.70l4.94 0.00l-3.99 2.90l1.52 4.70l-4.00 -2.90l-4.00 2.90l1.52 -4.70l-3.99 -2.90l4.94 -0.00zM1607.3 94.7m0.00 -6.80l1.53 4.70l4.94 0.00l-3.99 2.90l1.52 4.70l-4.00 -2.90l-4.00 2.90l1.52 -4.70l-3.99 -2.90l4.94 -0.00zM1607.7 94.3m0.00 -6.80l1.53 4.70l4.94 0.00l-3.99 2.90l1.52 4.70l-4.00 -2.90l-4.00 2.90l1.52 -4.70l-3.99 -2.90l4.94 -0.00zM1608.1 93.9m0.00 -6.80l1.53 4.70l4.94 0.00l-3.99 2.90l1.52 4.70l-4.00 -2.90l-4.00 2.90l1.52 -4.70l-3.99 -2.90l4.94 -0.00zM1608.5 93.5m0.00 -6.80l1.53 4.70l4.94 0.00l-3.99 2.90l1.52 4.70l-4.00 -2.90l-4.00 2.90l1.52 -4.70l-3.99 -2.90l4.94 -0.00zM1608.8 93.2m0.00 -6.80l1.53 4.70l4.94 0.00l-3.99 2.90l1.52 4.70l-4.00 -2.90l-4.00 2.90l1.52 -4.70l-3.99 -2.90l4.94 -0.00zM1609.2 92.8m0.00 -6.80l1.53 4.70l4.94 0.00l-3.99 2.90l1.52 4.70l-4.00 -2.90l-4.00 2.90l1.52 -4.70l-3.99 -2.90l4.94 -0.00zM1609.6 92.4m0.00 -6.80l1.53 4.70l4.94 0.00l-3.99 2.90l1.52 4.70l-4.00 -2.90l-4.00 2.90l1.52 -4.70l-3.99 -2.90l4.94 -0.00zM1610.0 91.9m0.00 -6.80l1.53 4.70l4.94 0.00l-3.99 2.90l1.52 4.70l-4.00 -2.90l-4.00 2.90l1.52 -4.70l-3.99 -2.90l4.94 -0.00zM1610.4 91.4m0.00 -6.80l1.53 4.70l4.94 0.00l-3.99 2.90l1.52 4.70l-4.00 -2.90l-4.00 2.90l1.52 -4.70l-3.99 -2.90l4.94 -0.00zM1610.8 90.8m0.00 -6.80l1.53 4.70l4.94 0.00l-3.99 2.90l1.52 4.70l-4.00 -2.90l-4.00 2.90l1.52 -4.70l-3.99 -2.90l4.94 -0.00zM1611.1 90.3m0.00 -6.80l1.53 4.70l4.94 0.00l-3.99 2.90l1.52 4.70l-4.00 -2.90l-4.00 2.90l1.52 -4.70l-3.99 -2.90l4.94 -0.00zM1611.5 89.7m0.00 -6.80l1.53 4.70l4.94 0.00l-3.99 2.90l1.52 4.70l-4.00 -2.90l-4.00 2.90l1.52 -4.70l-3.99 -2.90l4.94 -0.00zM1611.9 89.1m0.00 -6.80l1.53 4.70l4.94 0.00l-3.99 2.90l1.52 4.70l-4.00 -2.90l-4.00 2.90l1.52 -4.70l-3.99 -2.90l4.94 -0.00zM1612.3 88.5m0.00 -6.80l1.53 4.70l4.94 0.00l-3.99 2.90l1.52 4.70l-4.00 -2.90l-4.00 2.90l1.52 -4.70l-3.99 -2.90l4.94 -0.00zM1612.6 87.9m0.00 -6.80l1.53 4.70l4.94 0.00l-3.99 2.90l1.52 4.70l-4.00 -2.90l-4.00 2.90l1.52 -4.70l-3.99 -2.90l4.94 -0.00zM1613.0 87.3m0.00 -6.80l1.53 4.70l4.94 0.00l-3.99 2.90l1.52 4.70l-4.00 -2.90l-4.00 2.90l1.52 -4.70l-3.99 -2.90l4.94 -0.00zM1613.4 86.7m0.00 -6.80l1.53 4.70l4.94 0.00l-3.99 2.90l1.52 4.70l-4.00 -2.90l-4.00 2.90l1.52 -4.70l-3.99 -2.90l4.94 -0.00zM1613.8 86.2m0.00 -6.80l1.53 4.70l4.94 0.00l-3.99 2.90l1.52 4.70l-4.00 -2.90l-4.00 2.90l1.52 -4.70l-3.99 -2.90l4.94 -0.00zM1614.1 85.7m0.00 -6.80l1.53 4.70l4.94 0.00l-3.99 2.90l1.52 4.70l-4.00 -2.90l-4.00 2.90l1.52 -4.70l-3.99 -2.90l4.94 -0.00zM1614.5 85.2m0.00 -6.80l1.53 4.70l4.94 0.00l-3.99 2.90l1.52 4.70l-4.00 -2.90l-4.00 2.90l1.52 -4.70l-3.99 -2.90l4.94 -0.00zM1614.9 84.8m0.00 -6.80l1.53 4.70l4.94 0.00l-3.99 2.90l1.52 4.70l-4.00 -2.90l-4.00 2.90l1.52 -4.70l-3.99 -2.90l4.94 -0.00zM1615.2 84.4m0.00 -6.80l1.53 4.70l4.94 0.00l-3.99 2.90l1.52 4.70l-4.00 -2.90l-4.00 2.90l1.52 -4.70l-3.99 -2.90l4.94 -0.00zM1615.6 84.0m0.00 -6.80l1.53 4.70l4.94 0.00l-3.99 2.90l1.52 4.70l-4.00 -2.90l-4.00 2.90l1.52 -4.70l-3.99 -2.90l4.94 -0.00zM1616.0 83.7m0.00 -6.80l1.53 4.70l4.94 0.00l-3.99 2.90l1.52 4.70l-4.00 -2.90l-4.00 2.90l1.52 -4.70l-3.99 -2.90l4.94 -0.00zM1616.3 83.5m0.00 -6.80l1.53 4.70l4.94 0.00l-3.99 2.90l1.52 4.70l-4.00 -2.90l-4.00 2.90l1.52 -4.70l-3.99 -2.90l4.94 -0.00zM1616.7 83.2m0.00 -6.80l1.53 4.70l4.94 0.00l-3.99 2.90l1.52 4.70l-4.00 -2.90l-4.00 2.90l1.52 -4.70l-3.99 -2.90l4.94 -0.00zM1617.1 82.9m0.00 -6.80l1.53 4.70l4.94 0.00l-3.99 2.90l1.52 4.70l-4.00 -2.90l-4.00 2.90l1.52 -4.70l-3.99 -2.90l4.94 -0.00zM1617.4 82.7m0.00 -6.80l1.53 4.70l4.94 0.00l-3.99 2.90l1.52 4.70l-4.00 -2.90l-4.00 2.90l1.52 -4.70l-3.99 -2.90l4.94 -0.00zM1617.8 82.5m0.00 -6.80l1.53 4.70l4.94 0.00l-3.99 2.90l1.52 4.70l-4.00 -2.90l-4.00 2.90l1.52 -4.70l-3.99 -2.90l4.94 -0.00zM1618.2 82.2m0.00 -6.80l1.53 4.70l4.94 0.00l-3.99 2.90l1.52 4.70l-4.00 -2.90l-4.00 2.90l1.52 -4.70l-3.99 -2.90l4.94 -0.00zM1618.5 82.0m0.00 -6.80l1.53 4.70l4.94 0.00l-3.99 2.90l1.52 4.70l-4.00 -2.90l-4.00 2.90l1.52 -4.70l-3.99 -2.90l4.94 -0.00zM1618.9 81.8m0.00 -6.80l1.53 4.70l4.94 0.00l-3.99 2.90l1.52 4.70l-4.00 -2.90l-4.00 2.90l1.52 -4.70l-3.99 -2.90l4.94 -0.00zM1619.2 81.7m0.00 -6.80l1.53 4.70l4.94 0.00l-3.99 2.90l1.52 4.70l-4.00 -2.90l-4.00 2.90l1.52 -4.70l-3.99 -2.90l4.94 -0.00zM1619.6 81.5m0.00 -6.80l1.53 4.70l4.94 0.00l-3.99 2.90l1.52 4.70l-4.00 -2.90l-4.00 2.90l1.52 -4.70l-3.99 -2.90l4.94 -0.00zM1619.9 81.4m0.00 -6.80l1.53 4.70l4.94 0.00l-3.99 2.90l1.52 4.70l-4.00 -2.90l-4.00 2.90l1.52 -4.70l-3.99 -2.90l4.94 -0.00zM1620.3 81.3m0.00 -6.80l1.53 4.70l4.94 0.00l-3.99 2.90l1.52 4.70l-4.00 -2.90l-4.00 2.90l1.52 -4.70l-3.99 -2.90l4.94 -0.00zM1620.7 81.2m0.00 -6.80l1.53 4.70l4.94 0.00l-3.99 2.90l1.52 4.70l-4.00 -2.90l-4.00 2.90l1.52 -4.70l-3.99 -2.90l4.94 -0.00zM1621.0 81.2m0.00 -6.80l1.53 4.70l4.94 0.00l-3.99 2.90l1.52 4.70l-4.00 -2.90l-4.00 2.90l1.52 -4.70l-3.99 -2.90l4.94 -0.00zM1621.4 81.3m0.00 -6.80l1.53 4.70l4.94 0.00l-3.99 2.90l1.52 4.70l-4.00 -2.90l-4.00 2.90l1.52 -4.70l-3.99 -2.90l4.94 -0.00zM1621.7 81.5m0.00 -6.80l1.53 4.70l4.94 0.00l-3.99 2.90l1.52 4.70l-4.00 -2.90l-4.00 2.90l1.52 -4.70l-3.99 -2.90l4.94 -0.00zM1622.1 81.8m0.00 -6.80l1.53 4.70l4.94 0.00l-3.99 2.90l1.52 4.70l-4.00 -2.90l-4.00 2.90l1.52 -4.70l-3.99 -2.90l4.94 -0.00zM1622.4 82.2m0.00 -6.80l1.53 4.70l4.94 0.00l-3.99 2.90l1.52 4.70l-4.00 -2.90l-4.00 2.90l1.52 -4.70l-3.99 -2.90l4.94 -0.00zM1622.8 82.7m0.00 -6.80l1.53 4.70l4.94 0.00l-3.99 2.90l1.52 4.70l-4.00 -2.90l-4.00 2.90l1.52 -4.70l-3.99 -2.90l4.94 -0.00zM1623.1 83.2m0.00 -6.80l1.53 4.70l4.94 0.00l-3.99 2.90l1.52 4.70l-4.00 -2.90l-4.00 2.90l1.52 -4.70l-3.99 -2.90l4.94 -0.00zM1623.5 83.9m0.00 -6.80l1.53 4.70l4.94 0.00l-3.99 2.90l1.52 4.70l-4.00 -2.90l-4.00 2.90l1.52 -4.70l-3.99 -2.90l4.94 -0.00zM1623.8 84.6m0.00 -6.80l1.53 4.70l4.94 0.00l-3.99 2.90l1.52 4.70l-4.00 -2.90l-4.00 2.90l1.52 -4.70l-3.99 -2.90l4.94 -0.00zM1624.2 85.4m0.00 -6.80l1.53 4.70l4.94 0.00l-3.99 2.90l1.52 4.70l-4.00 -2.90l-4.00 2.90l1.52 -4.70l-3.99 -2.90l4.94 -0.00zM1624.5 86.2m0.00 -6.80l1.53 4.70l4.94 0.00l-3.99 2.90l1.52 4.70l-4.00 -2.90l-4.00 2.90l1.52 -4.70l-3.99 -2.90l4.94 -0.00zM1624.9 87.0m0.00 -6.80l1.53 4.70l4.94 0.00l-3.99 2.90l1.52 4.70l-4.00 -2.90l-4.00 2.90l1.52 -4.70l-3.99 -2.90l4.94 -0.00zM1625.2 87.9m0.00 -6.80l1.53 4.70l4.94 0.00l-3.99 2.90l1.52 4.70l-4.00 -2.90l-4.00 2.90l1.52 -4.70l-3.99 -2.90l4.94 -0.00zM1625.5 88.9m0.00 -6.80l1.53 4.70l4.94 0.00l-3.99 2.90l1.52 4.70l-4.00 -2.90l-4.00 2.90l1.52 -4.70l-3.99 -2.90l4.94 -0.00zM1625.9 89.8m0.00 -6.80l1.53 4.70l4.94 0.00l-3.99 2.90l1.52 4.70l-4.00 -2.90l-4.00 2.90l1.52 -4.70l-3.99 -2.90l4.94 -0.00zM1626.2 90.8m0.00 -6.80l1.53 4.70l4.94 0.00l-3.99 2.90l1.52 4.70l-4.00 -2.90l-4.00 2.90l1.52 -4.70l-3.99 -2.90l4.94 -0.00zM1626.6 91.7m0.00 -6.80l1.53 4.70l4.94 0.00l-3.99 2.90l1.52 4.70l-4.00 -2.90l-4.00 2.90l1.52 -4.70l-3.99 -2.90l4.94 -0.00zM1626.9 92.7m0.00 -6.80l1.53 4.70l4.94 0.00l-3.99 2.90l1.52 4.70l-4.00 -2.90l-4.00 2.90l1.52 -4.70l-3.99 -2.90l4.94 -0.00zM1627.3 93.6m0.00 -6.80l1.53 4.70l4.94 0.00l-3.99 2.90l1.52 4.70l-4.00 -2.90l-4.00 2.90l1.52 -4.70l-3.99 -2.90l4.94 -0.00zM1627.6 94.6m0.00 -6.80l1.53 4.70l4.94 0.00l-3.99 2.90l1.52 4.70l-4.00 -2.90l-4.00 2.90l1.52 -4.70l-3.99 -2.90l4.94 -0.00zM1627.9 95.5m0.00 -6.80l1.53 4.70l4.94 0.00l-3.99 2.90l1.52 4.70l-4.00 -2.90l-4.00 2.90l1.52 -4.70l-3.99 -2.90l4.94 -0.00zM1628.3 96.3m0.00 -6.80l1.53 4.70l4.94 0.00l-3.99 2.90l1.52 4.70l-4.00 -2.90l-4.00 2.90l1.52 -4.70l-3.99 -2.90l4.94 -0.00zM1628.6 97.2m0.00 -6.80l1.53 4.70l4.94 0.00l-3.99 2.90l1.52 4.70l-4.00 -2.90l-4.00 2.90l1.52 -4.70l-3.99 -2.90l4.94 -0.00zM1628.9 97.9m0.00 -6.80l1.53 4.70l4.94 0.00l-3.99 2.90l1.52 4.70l-4.00 -2.90l-4.00 2.90l1.52 -4.70l-3.99 -2.90l4.94 -0.00zM1629.3 98.7m0.00 -6.80l1.53 4.70l4.94 0.00l-3.99 2.90l1.52 4.70l-4.00 -2.90l-4.00 2.90l1.52 -4.70l-3.99 -2.90l4.94 -0.00zM1629.6 99.4m0.00 -6.80l1.53 4.70l4.94 0.00l-3.99 2.90l1.52 4.70l-4.00 -2.90l-4.00 2.90l1.52 -4.70l-3.99 -2.90l4.94 -0.00zM1630.0 100.1m0.00 -6.80l1.53 4.70l4.94 0.00l-3.99 2.90l1.52 4.70l-4.00 -2.90l-4.00 2.90l1.52 -4.70l-3.99 -2.90l4.94 -0.00zM1630.3 100.8m0.00 -6.80l1.53 4.70l4.94 0.00l-3.99 2.90l1.52 4.70l-4.00 -2.90l-4.00 2.90l1.52 -4.70l-3.99 -2.90l4.94 -0.00zM1630.6 101.5m0.00 -6.80l1.53 4.70l4.94 0.00l-3.99 2.90l1.52 4.70l-4.00 -2.90l-4.00 2.90l1.52 -4.70l-3.99 -2.90l4.94 -0.00zM1631.0 102.3m0.00 -6.80l1.53 4.70l4.94 0.00l-3.99 2.90l1.52 4.70l-4.00 -2.90l-4.00 2.90l1.52 -4.70l-3.99 -2.90l4.94 -0.00zM1631.3 103.0m0.00 -6.80l1.53 4.70l4.94 0.00l-3.99 2.90l1.52 4.70l-4.00 -2.90l-4.00 2.90l1.52 -4.70l-3.99 -2.90l4.94 -0.00zM1631.6 103.8m0.00 -6.80l1.53 4.70l4.94 0.00l-3.99 2.90l1.52 4.70l-4.00 -2.90l-4.00 2.90l1.52 -4.70l-3.99 -2.90l4.94 -0.00zM1631.9 104.5m0.00 -6.80l1.53 4.70l4.94 0.00l-3.99 2.90l1.52 4.70l-4.00 -2.90l-4.00 2.90l1.52 -4.70l-3.99 -2.90l4.94 -0.00zM1632.3 105.3m0.00 -6.80l1.53 4.70l4.94 0.00l-3.99 2.90l1.52 4.70l-4.00 -2.90l-4.00 2.90l1.52 -4.70l-3.99 -2.90l4.94 -0.00zM1632.6 106.1m0.00 -6.80l1.53 4.70l4.94 0.00l-3.99 2.90l1.52 4.70l-4.00 -2.90l-4.00 2.90l1.52 -4.70l-3.99 -2.90l4.94 -0.00zM1632.9 106.8m0.00 -6.80l1.53 4.70l4.94 0.00l-3.99 2.90l1.52 4.70l-4.00 -2.90l-4.00 2.90l1.52 -4.70l-3.99 -2.90l4.94 -0.00zM1633.3 107.6m0.00 -6.80l1.53 4.70l4.94 0.00l-3.99 2.90l1.52 4.70l-4.00 -2.90l-4.00 2.90l1.52 -4.70l-3.99 -2.90l4.94 -0.00zM1633.6 108.3m0.00 -6.80l1.53 4.70l4.94 0.00l-3.99 2.90l1.52 4.70l-4.00 -2.90l-4.00 2.90l1.52 -4.70l-3.99 -2.90l4.94 -0.00zM1633.9 109.0m0.00 -6.80l1.53 4.70l4.94 0.00l-3.99 2.90l1.52 4.70l-4.00 -2.90l-4.00 2.90l1.52 -4.70l-3.99 -2.90l4.94 -0.00zM1634.2 109.8m0.00 -6.80l1.53 4.70l4.94 0.00l-3.99 2.90l1.52 4.70l-4.00 -2.90l-4.00 2.90l1.52 -4.70l-3.99 -2.90l4.94 -0.00zM1634.6 110.5m0.00 -6.80l1.53 4.70l4.94 0.00l-3.99 2.90l1.52 4.70l-4.00 -2.90l-4.00 2.90l1.52 -4.70l-3.99 -2.90l4.94 -0.00zM1634.9 111.2m0.00 -6.80l1.53 4.70l4.94 0.00l-3.99 2.90l1.52 4.70l-4.00 -2.90l-4.00 2.90l1.52 -4.70l-3.99 -2.90l4.94 -0.00zM1635.2 111.9m0.00 -6.80l1.53 4.70l4.94 0.00l-3.99 2.90l1.52 4.70l-4.00 -2.90l-4.00 2.90l1.52 -4.70l-3.99 -2.90l4.94 -0.00zM1635.5 112.5m0.00 -6.80l1.53 4.70l4.94 0.00l-3.99 2.90l1.52 4.70l-4.00 -2.90l-4.00 2.90l1.52 -4.70l-3.99 -2.90l4.94 -0.00zM1635.8 113.2m0.00 -6.80l1.53 4.70l4.94 0.00l-3.99 2.90l1.52 4.70l-4.00 -2.90l-4.00 2.90l1.52 -4.70l-3.99 -2.90l4.94 -0.00zM1636.2 113.8m0.00 -6.80l1.53 4.70l4.94 0.00l-3.99 2.90l1.52 4.70l-4.00 -2.90l-4.00 2.90l1.52 -4.70l-3.99 -2.90l4.94 -0.00zM1636.5 114.5m0.00 -6.80l1.53 4.70l4.94 0.00l-3.99 2.90l1.52 4.70l-4.00 -2.90l-4.00 2.90l1.52 -4.70l-3.99 -2.90l4.94 -0.00zM1636.8 115.1m0.00 -6.80l1.53 4.70l4.94 0.00l-3.99 2.90l1.52 4.70l-4.00 -2.90l-4.00 2.90l1.52 -4.70l-3.99 -2.90l4.94 -0.00zM1637.1 115.6m0.00 -6.80l1.53 4.70l4.94 0.00l-3.99 2.90l1.52 4.70l-4.00 -2.90l-4.00 2.90l1.52 -4.70l-3.99 -2.90l4.94 -0.00zM1637.4 116.2m0.00 -6.80l1.53 4.70l4.94 0.00l-3.99 2.90l1.52 4.70l-4.00 -2.90l-4.00 2.90l1.52 -4.70l-3.99 -2.90l4.94 -0.00zM1637.8 116.7m0.00 -6.80l1.53 4.70l4.94 0.00l-3.99 2.90l1.52 4.70l-4.00 -2.90l-4.00 2.90l1.52 -4.70l-3.99 -2.90l4.94 -0.00zM1638.1 117.2m0.00 -6.80l1.53 4.70l4.94 0.00l-3.99 2.90l1.52 4.70l-4.00 -2.90l-4.00 2.90l1.52 -4.70l-3.99 -2.90l4.94 -0.00zM1638.4 117.7m0.00 -6.80l1.53 4.70l4.94 0.00l-3.99 2.90l1.52 4.70l-4.00 -2.90l-4.00 2.90l1.52 -4.70l-3.99 -2.90l4.94 -0.00zM1638.7 118.2m0.00 -6.80l1.53 4.70l4.94 0.00l-3.99 2.90l1.52 4.70l-4.00 -2.90l-4.00 2.90l1.52 -4.70l-3.99 -2.90l4.94 -0.00zM1639.0 118.6m0.00 -6.80l1.53 4.70l4.94 0.00l-3.99 2.90l1.52 4.70l-4.00 -2.90l-4.00 2.90l1.52 -4.70l-3.99 -2.90l4.94 -0.00zM1639.3 119.0m0.00 -6.80l1.53 4.70l4.94 0.00l-3.99 2.90l1.52 4.70l-4.00 -2.90l-4.00 2.90l1.52 -4.70l-3.99 -2.90l4.94 -0.00zM1639.7 119.4m0.00 -6.80l1.53 4.70l4.94 0.00l-3.99 2.90l1.52 4.70l-4.00 -2.90l-4.00 2.90l1.52 -4.70l-3.99 -2.90l4.94 -0.00zM1640.0 119.8m0.00 -6.80l1.53 4.70l4.94 0.00l-3.99 2.90l1.52 4.70l-4.00 -2.90l-4.00 2.90l1.52 -4.70l-3.99 -2.90l4.94 -0.00zM1640.3 120.2m0.00 -6.80l1.53 4.70l4.94 0.00l-3.99 2.90l1.52 4.70l-4.00 -2.90l-4.00 2.90l1.52 -4.70l-3.99 -2.90l4.94 -0.00zM1640.6 120.6m0.00 -6.80l1.53 4.70l4.94 0.00l-3.99 2.90l1.52 4.70l-4.00 -2.90l-4.00 2.90l1.52 -4.70l-3.99 -2.90l4.94 -0.00zM1640.9 121.1m0.00 -6.80l1.53 4.70l4.94 0.00l-3.99 2.90l1.52 4.70l-4.00 -2.90l-4.00 2.90l1.52 -4.70l-3.99 -2.90l4.94 -0.00zM1641.2 121.5m0.00 -6.80l1.53 4.70l4.94 0.00l-3.99 2.90l1.52 4.70l-4.00 -2.90l-4.00 2.90l1.52 -4.70l-3.99 -2.90l4.94 -0.00zM1641.5 121.9m0.00 -6.80l1.53 4.70l4.94 0.00l-3.99 2.90l1.52 4.70l-4.00 -2.90l-4.00 2.90l1.52 -4.70l-3.99 -2.90l4.94 -0.00zM1641.8 122.3m0.00 -6.80l1.53 4.70l4.94 0.00l-3.99 2.90l1.52 4.70l-4.00 -2.90l-4.00 2.90l1.52 -4.70l-3.99 -2.90l4.94 -0.00zM1642.1 122.6m0.00 -6.80l1.53 4.70l4.94 0.00l-3.99 2.90l1.52 4.70l-4.00 -2.90l-4.00 2.90l1.52 -4.70l-3.99 -2.90l4.94 -0.00zM1642.4 123.0m0.00 -6.80l1.53 4.70l4.94 0.00l-3.99 2.90l1.52 4.70l-4.00 -2.90l-4.00 2.90l1.52 -4.70l-3.99 -2.90l4.94 -0.00zM1642.8 123.4m0.00 -6.80l1.53 4.70l4.94 0.00l-3.99 2.90l1.52 4.70l-4.00 -2.90l-4.00 2.90l1.52 -4.70l-3.99 -2.90l4.94 -0.00zM1643.1 123.7m0.00 -6.80l1.53 4.70l4.94 0.00l-3.99 2.90l1.52 4.70l-4.00 -2.90l-4.00 2.90l1.52 -4.70l-3.99 -2.90l4.94 -0.00zM1643.4 124.1m0.00 -6.80l1.53 4.70l4.94 0.00l-3.99 2.90l1.52 4.70l-4.00 -2.90l-4.00 2.90l1.52 -4.70l-3.99 -2.90l4.94 -0.00zM1643.7 124.4m0.00 -6.80l1.53 4.70l4.94 0.00l-3.99 2.90l1.52 4.70l-4.00 -2.90l-4.00 2.90l1.52 -4.70l-3.99 -2.90l4.94 -0.00zM1644.0 124.7m0.00 -6.80l1.53 4.70l4.94 0.00l-3.99 2.90l1.52 4.70l-4.00 -2.90l-4.00 2.90l1.52 -4.70l-3.99 -2.90l4.94 -0.00zM1644.3 125.0m0.00 -6.80l1.53 4.70l4.94 0.00l-3.99 2.90l1.52 4.70l-4.00 -2.90l-4.00 2.90l1.52 -4.70l-3.99 -2.90l4.94 -0.00zM1644.6 125.3m0.00 -6.80l1.53 4.70l4.94 0.00l-3.99 2.90l1.52 4.70l-4.00 -2.90l-4.00 2.90l1.52 -4.70l-3.99 -2.90l4.94 -0.00zM1644.9 125.5m0.00 -6.80l1.53 4.70l4.94 0.00l-3.99 2.90l1.52 4.70l-4.00 -2.90l-4.00 2.90l1.52 -4.70l-3.99 -2.90l4.94 -0.00zM1645.2 125.7m0.00 -6.80l1.53 4.70l4.94 0.00l-3.99 2.90l1.52 4.70l-4.00 -2.90l-4.00 2.90l1.52 -4.70l-3.99 -2.90l4.94 -0.00zM1645.5 125.9m0.00 -6.80l1.53 4.70l4.94 0.00l-3.99 2.90l1.52 4.70l-4.00 -2.90l-4.00 2.90l1.52 -4.70l-3.99 -2.90l4.94 -0.00zM1645.8 126.1m0.00 -6.80l1.53 4.70l4.94 0.00l-3.99 2.90l1.52 4.70l-4.00 -2.90l-4.00 2.90l1.52 -4.70l-3.99 -2.90l4.94 -0.00zM1646.1 126.2m0.00 -6.80l1.53 4.70l4.94 0.00l-3.99 2.90l1.52 4.70l-4.00 -2.90l-4.00 2.90l1.52 -4.70l-3.99 -2.90l4.94 -0.00zM1646.4 126.4m0.00 -6.80l1.53 4.70l4.94 0.00l-3.99 2.90l1.52 4.70l-4.00 -2.90l-4.00 2.90l1.52 -4.70l-3.99 -2.90l4.94 -0.00zM1646.7 126.5m0.00 -6.80l1.53 4.70l4.94 0.00l-3.99 2.90l1.52 4.70l-4.00 -2.90l-4.00 2.90l1.52 -4.70l-3.99 -2.90l4.94 -0.00zM1647.0 126.5m0.00 -6.80l1.53 4.70l4.94 0.00l-3.99 2.90l1.52 4.70l-4.00 -2.90l-4.00 2.90l1.52 -4.70l-3.99 -2.90l4.94 -0.00zM1647.3 126.6m0.00 -6.80l1.53 4.70l4.94 0.00l-3.99 2.90l1.52 4.70l-4.00 -2.90l-4.00 2.90l1.52 -4.70l-3.99 -2.90l4.94 -0.00zM1647.6 126.5m0.00 -6.80l1.53 4.70l4.94 0.00l-3.99 2.90l1.52 4.70l-4.00 -2.90l-4.00 2.90l1.52 -4.70l-3.99 -2.90l4.94 -0.00zM1647.9 126.5m0.00 -6.80l1.53 4.70l4.94 0.00l-3.99 2.90l1.52 4.70l-4.00 -2.90l-4.00 2.90l1.52 -4.70l-3.99 -2.90l4.94 -0.00zM1648.2 126.5m0.00 -6.80l1.53 4.70l4.94 0.00l-3.99 2.90l1.52 4.70l-4.00 -2.90l-4.00 2.90l1.52 -4.70l-3.99 -2.90l4.94 -0.00zM1648.5 126.4m0.00 -6.80l1.53 4.70l4.94 0.00l-3.99 2.90l1.52 4.70l-4.00 -2.90l-4.00 2.90l1.52 -4.70l-3.99 -2.90l4.94 -0.00zM1648.8 126.3m0.00 -6.80l1.53 4.70l4.94 0.00l-3.99 2.90l1.52 4.70l-4.00 -2.90l-4.00 2.90l1.52 -4.70l-3.99 -2.90l4.94 -0.00zM1649.1 126.2m0.00 -6.80l1.53 4.70l4.94 0.00l-3.99 2.90l1.52 4.70l-4.00 -2.90l-4.00 2.90l1.52 -4.70l-3.99 -2.90l4.94 -0.00zM1649.4 126.1m0.00 -6.80l1.53 4.70l4.94 0.00l-3.99 2.90l1.52 4.70l-4.00 -2.90l-4.00 2.90l1.52 -4.70l-3.99 -2.90l4.94 -0.00zM1649.6 126.0m0.00 -6.80l1.53 4.70l4.94 0.00l-3.99 2.90l1.52 4.70l-4.00 -2.90l-4.00 2.90l1.52 -4.70l-3.99 -2.90l4.94 -0.00zM1649.9 125.8m0.00 -6.80l1.53 4.70l4.94 0.00l-3.99 2.90l1.52 4.70l-4.00 -2.90l-4.00 2.90l1.52 -4.70l-3.99 -2.90l4.94 -0.00zM1650.2 125.6m0.00 -6.80l1.53 4.70l4.94 0.00l-3.99 2.90l1.52 4.70l-4.00 -2.90l-4.00 2.90l1.52 -4.70l-3.99 -2.90l4.94 -0.00zM1650.5 125.5m0.00 -6.80l1.53 4.70l4.94 0.00l-3.99 2.90l1.52 4.70l-4.00 -2.90l-4.00 2.90l1.52 -4.70l-3.99 -2.90l4.94 -0.00zM1650.8 125.3m0.00 -6.80l1.53 4.70l4.94 0.00l-3.99 2.90l1.52 4.70l-4.00 -2.90l-4.00 2.90l1.52 -4.70l-3.99 -2.90l4.94 -0.00zM1651.1 125.0m0.00 -6.80l1.53 4.70l4.94 0.00l-3.99 2.90l1.52 4.70l-4.00 -2.90l-4.00 2.90l1.52 -4.70l-3.99 -2.90l4.94 -0.00zM1651.4 124.8m0.00 -6.80l1.53 4.70l4.94 0.00l-3.99 2.90l1.52 4.70l-4.00 -2.90l-4.00 2.90l1.52 -4.70l-3.99 -2.90l4.94 -0.00zM1651.7 124.6m0.00 -6.80l1.53 4.70l4.94 0.00l-3.99 2.90l1.52 4.70l-4.00 -2.90l-4.00 2.90l1.52 -4.70l-3.99 -2.90l4.94 -0.00zM1652.0 124.3m0.00 -6.80l1.53 4.70l4.94 0.00l-3.99 2.90l1.52 4.70l-4.00 -2.90l-4.00 2.90l1.52 -4.70l-3.99 -2.90l4.94 -0.00zM1652.3 124.0m0.00 -6.80l1.53 4.70l4.94 0.00l-3.99 2.90l1.52 4.70l-4.00 -2.90l-4.00 2.90l1.52 -4.70l-3.99 -2.90l4.94 -0.00zM1652.5 123.8m0.00 -6.80l1.53 4.70l4.94 0.00l-3.99 2.90l1.52 4.70l-4.00 -2.90l-4.00 2.90l1.52 -4.70l-3.99 -2.90l4.94 -0.00zM1652.8 123.5m0.00 -6.80l1.53 4.70l4.94 0.00l-3.99 2.90l1.52 4.70l-4.00 -2.90l-4.00 2.90l1.52 -4.70l-3.99 -2.90l4.94 -0.00zM1653.1 123.2m0.00 -6.80l1.53 4.70l4.94 0.00l-3.99 2.90l1.52 4.70l-4.00 -2.90l-4.00 2.90l1.52 -4.70l-3.99 -2.90l4.94 -0.00zM1653.4 122.9m0.00 -6.80l1.53 4.70l4.94 0.00l-3.99 2.90l1.52 4.70l-4.00 -2.90l-4.00 2.90l1.52 -4.70l-3.99 -2.90l4.94 -0.00zM1653.7 122.5m0.00 -6.80l1.53 4.70l4.94 0.00l-3.99 2.90l1.52 4.70l-4.00 -2.90l-4.00 2.90l1.52 -4.70l-3.99 -2.90l4.94 -0.00zM1654.0 122.2m0.00 -6.80l1.53 4.70l4.94 0.00l-3.99 2.90l1.52 4.70l-4.00 -2.90l-4.00 2.90l1.52 -4.70l-3.99 -2.90l4.94 -0.00zM1654.3 121.9m0.00 -6.80l1.53 4.70l4.94 0.00l-3.99 2.90l1.52 4.70l-4.00 -2.90l-4.00 2.90l1.52 -4.70l-3.99 -2.90l4.94 -0.00zM1654.5 121.5m0.00 -6.80l1.53 4.70l4.94 0.00l-3.99 2.90l1.52 4.70l-4.00 -2.90l-4.00 2.90l1.52 -4.70l-3.99 -2.90l4.94 -0.00zM1654.8 121.2m0.00 -6.80l1.53 4.70l4.94 0.00l-3.99 2.90l1.52 4.70l-4.00 -2.90l-4.00 2.90l1.52 -4.70l-3.99 -2.90l4.94 -0.00zM1655.1 120.8m0.00 -6.80l1.53 4.70l4.94 0.00l-3.99 2.90l1.52 4.70l-4.00 -2.90l-4.00 2.90l1.52 -4.70l-3.99 -2.90l4.94 -0.00zM1655.4 120.5m0.00 -6.80l1.53 4.70l4.94 0.00l-3.99 2.90l1.52 4.70l-4.00 -2.90l-4.00 2.90l1.52 -4.70l-3.99 -2.90l4.94 -0.00zM1655.7 120.1m0.00 -6.80l1.53 4.70l4.94 0.00l-3.99 2.90l1.52 4.70l-4.00 -2.90l-4.00 2.90l1.52 -4.70l-3.99 -2.90l4.94 -0.00zM1656.0 119.7m0.00 -6.80l1.53 4.70l4.94 0.00l-3.99 2.90l1.52 4.70l-4.00 -2.90l-4.00 2.90l1.52 -4.70l-3.99 -2.90l4.94 -0.00zM1656.2 119.4m0.00 -6.80l1.53 4.70l4.94 0.00l-3.99 2.90l1.52 4.70l-4.00 -2.90l-4.00 2.90l1.52 -4.70l-3.99 -2.90l4.94 -0.00zM1656.5 119.0m0.00 -6.80l1.53 4.70l4.94 0.00l-3.99 2.90l1.52 4.70l-4.00 -2.90l-4.00 2.90l1.52 -4.70l-3.99 -2.90l4.94 -0.00zM1656.8 118.6m0.00 -6.80l1.53 4.70l4.94 0.00l-3.99 2.90l1.52 4.70l-4.00 -2.90l-4.00 2.90l1.52 -4.70l-3.99 -2.90l4.94 -0.00zM1657.1 118.2m0.00 -6.80l1.53 4.70l4.94 0.00l-3.99 2.90l1.52 4.70l-4.00 -2.90l-4.00 2.90l1.52 -4.70l-3.99 -2.90l4.94 -0.00zM1657.4 117.7m0.00 -6.80l1.53 4.70l4.94 0.00l-3.99 2.90l1.52 4.70l-4.00 -2.90l-4.00 2.90l1.52 -4.70l-3.99 -2.90l4.94 -0.00zM1657.6 117.1m0.00 -6.80l1.53 4.70l4.94 0.00l-3.99 2.90l1.52 4.70l-4.00 -2.90l-4.00 2.90l1.52 -4.70l-3.99 -2.90l4.94 -0.00zM1657.9 116.4m0.00 -6.80l1.53 4.70l4.94 0.00l-3.99 2.90l1.52 4.70l-4.00 -2.90l-4.00 2.90l1.52 -4.70l-3.99 -2.90l4.94 -0.00zM1658.2 115.7m0.00 -6.80l1.53 4.70l4.94 0.00l-3.99 2.90l1.52 4.70l-4.00 -2.90l-4.00 2.90l1.52 -4.70l-3.99 -2.90l4.94 -0.00zM1658.5 115.0m0.00 -6.80l1.53 4.70l4.94 0.00l-3.99 2.90l1.52 4.70l-4.00 -2.90l-4.00 2.90l1.52 -4.70l-3.99 -2.90l4.94 -0.00zM1658.7 114.2m0.00 -6.80l1.53 4.70l4.94 0.00l-3.99 2.90l1.52 4.70l-4.00 -2.90l-4.00 2.90l1.52 -4.70l-3.99 -2.90l4.94 -0.00zM1659.0 113.4m0.00 -6.80l1.53 4.70l4.94 0.00l-3.99 2.90l1.52 4.70l-4.00 -2.90l-4.00 2.90l1.52 -4.70l-3.99 -2.90l4.94 -0.00zM1659.3 112.5m0.00 -6.80l1.53 4.70l4.94 0.00l-3.99 2.90l1.52 4.70l-4.00 -2.90l-4.00 2.90l1.52 -4.70l-3.99 -2.90l4.94 -0.00zM1659.6 111.6m0.00 -6.80l1.53 4.70l4.94 0.00l-3.99 2.90l1.52 4.70l-4.00 -2.90l-4.00 2.90l1.52 -4.70l-3.99 -2.90l4.94 -0.00zM1659.8 110.7m0.00 -6.80l1.53 4.70l4.94 0.00l-3.99 2.90l1.52 4.70l-4.00 -2.90l-4.00 2.90l1.52 -4.70l-3.99 -2.90l4.94 -0.00zM1660.1 109.8m0.00 -6.80l1.53 4.70l4.94 0.00l-3.99 2.90l1.52 4.70l-4.00 -2.90l-4.00 2.90l1.52 -4.70l-3.99 -2.90l4.94 -0.00zM1660.4 108.9m0.00 -6.80l1.53 4.70l4.94 0.00l-3.99 2.90l1.52 4.70l-4.00 -2.90l-4.00 2.90l1.52 -4.70l-3.99 -2.90l4.94 -0.00zM1660.7 107.9m0.00 -6.80l1.53 4.70l4.94 0.00l-3.99 2.90l1.52 4.70l-4.00 -2.90l-4.00 2.90l1.52 -4.70l-3.99 -2.90l4.94 -0.00zM1660.9 107.0m0.00 -6.80l1.53 4.70l4.94 0.00l-3.99 2.90l1.52 4.70l-4.00 -2.90l-4.00 2.90l1.52 -4.70l-3.99 -2.90l4.94 -0.00zM1661.2 106.1m0.00 -6.80l1.53 4.70l4.94 0.00l-3.99 2.90l1.52 4.70l-4.00 -2.90l-4.00 2.90l1.52 -4.70l-3.99 -2.90l4.94 -0.00zM1661.5 105.2m0.00 -6.80l1.53 4.70l4.94 0.00l-3.99 2.90l1.52 4.70l-4.00 -2.90l-4.00 2.90l1.52 -4.70l-3.99 -2.90l4.94 -0.00zM1661.7 104.3m0.00 -6.80l1.53 4.70l4.94 0.00l-3.99 2.90l1.52 4.70l-4.00 -2.90l-4.00 2.90l1.52 -4.70l-3.99 -2.90l4.94 -0.00zM1662.0 103.5m0.00 -6.80l1.53 4.70l4.94 0.00l-3.99 2.90l1.52 4.70l-4.00 -2.90l-4.00 2.90l1.52 -4.70l-3.99 -2.90l4.94 -0.00zM1662.3 102.6m0.00 -6.80l1.53 4.70l4.94 0.00l-3.99 2.90l1.52 4.70l-4.00 -2.90l-4.00 2.90l1.52 -4.70l-3.99 -2.90l4.94 -0.00zM1662.6 101.7m0.00 -6.80l1.53 4.70l4.94 0.00l-3.99 2.90l1.52 4.70l-4.00 -2.90l-4.00 2.90l1.52 -4.70l-3.99 -2.90l4.94 -0.00zM1662.8 100.8m0.00 -6.80l1.53 4.70l4.94 0.00l-3.99 2.90l1.52 4.70l-4.00 -2.90l-4.00 2.90l1.52 -4.70l-3.99 -2.90l4.94 -0.00zM1663.1 99.8m0.00 -6.80l1.53 4.70l4.94 0.00l-3.99 2.90l1.52 4.70l-4.00 -2.90l-4.00 2.90l1.52 -4.70l-3.99 -2.90l4.94 -0.00zM1663.4 98.8m0.00 -6.80l1.53 4.70l4.94 0.00l-3.99 2.90l1.52 4.70l-4.00 -2.90l-4.00 2.90l1.52 -4.70l-3.99 -2.90l4.94 -0.00zM1663.6 97.8m0.00 -6.80l1.53 4.70l4.94 0.00l-3.99 2.90l1.52 4.70l-4.00 -2.90l-4.00 2.90l1.52 -4.70l-3.99 -2.90l4.94 -0.00zM1663.9 96.8m0.00 -6.80l1.53 4.70l4.94 0.00l-3.99 2.90l1.52 4.70l-4.00 -2.90l-4.00 2.90l1.52 -4.70l-3.99 -2.90l4.94 -0.00zM1664.2 95.8m0.00 -6.80l1.53 4.70l4.94 0.00l-3.99 2.90l1.52 4.70l-4.00 -2.90l-4.00 2.90l1.52 -4.70l-3.99 -2.90l4.94 -0.00zM1664.4 94.8m0.00 -6.80l1.53 4.70l4.94 0.00l-3.99 2.90l1.52 4.70l-4.00 -2.90l-4.00 2.90l1.52 -4.70l-3.99 -2.90l4.94 -0.00zM1664.7 93.9m0.00 -6.80l1.53 4.70l4.94 0.00l-3.99 2.90l1.52 4.70l-4.00 -2.90l-4.00 2.90l1.52 -4.70l-3.99 -2.90l4.94 -0.00zM1665.0 92.9m0.00 -6.80l1.53 4.70l4.94 0.00l-3.99 2.90l1.52 4.70l-4.00 -2.90l-4.00 2.90l1.52 -4.70l-3.99 -2.90l4.94 -0.00zM1665.2 92.0m0.00 -6.80l1.53 4.70l4.94 0.00l-3.99 2.90l1.52 4.70l-4.00 -2.90l-4.00 2.90l1.52 -4.70l-3.99 -2.90l4.94 -0.00zM1665.5 91.1m0.00 -6.80l1.53 4.70l4.94 0.00l-3.99 2.90l1.52 4.70l-4.00 -2.90l-4.00 2.90l1.52 -4.70l-3.99 -2.90l4.94 -0.00zM1665.8 90.2m0.00 -6.80l1.53 4.70l4.94 0.00l-3.99 2.90l1.52 4.70l-4.00 -2.90l-4.00 2.90l1.52 -4.70l-3.99 -2.90l4.94 -0.00zM1666.0 89.4m0.00 -6.80l1.53 4.70l4.94 0.00l-3.99 2.90l1.52 4.70l-4.00 -2.90l-4.00 2.90l1.52 -4.70l-3.99 -2.90l4.94 -0.00zM1666.3 88.7m0.00 -6.80l1.53 4.70l4.94 0.00l-3.99 2.90l1.52 4.70l-4.00 -2.90l-4.00 2.90l1.52 -4.70l-3.99 -2.90l4.94 -0.00zM1666.5 88.0m0.00 -6.80l1.53 4.70l4.94 0.00l-3.99 2.90l1.52 4.70l-4.00 -2.90l-4.00 2.90l1.52 -4.70l-3.99 -2.90l4.94 -0.00zM1666.8 87.3m0.00 -6.80l1.53 4.70l4.94 0.00l-3.99 2.90l1.52 4.70l-4.00 -2.90l-4.00 2.90l1.52 -4.70l-3.99 -2.90l4.94 -0.00zM1667.1 86.7m0.00 -6.80l1.53 4.70l4.94 0.00l-3.99 2.90l1.52 4.70l-4.00 -2.90l-4.00 2.90l1.52 -4.70l-3.99 -2.90l4.94 -0.00zM1667.3 86.1m0.00 -6.80l1.53 4.70l4.94 0.00l-3.99 2.90l1.52 4.70l-4.00 -2.90l-4.00 2.90l1.52 -4.70l-3.99 -2.90l4.94 -0.00zM1667.6 85.6m0.00 -6.80l1.53 4.70l4.94 0.00l-3.99 2.90l1.52 4.70l-4.00 -2.90l-4.00 2.90l1.52 -4.70l-3.99 -2.90l4.94 -0.00zM1667.8 85.0m0.00 -6.80l1.53 4.70l4.94 0.00l-3.99 2.90l1.52 4.70l-4.00 -2.90l-4.00 2.90l1.52 -4.70l-3.99 -2.90l4.94 -0.00zM1668.1 84.4m0.00 -6.80l1.53 4.70l4.94 0.00l-3.99 2.90l1.52 4.70l-4.00 -2.90l-4.00 2.90l1.52 -4.70l-3.99 -2.90l4.94 -0.00zM1668.4 83.9m0.00 -6.80l1.53 4.70l4.94 0.00l-3.99 2.90l1.52 4.70l-4.00 -2.90l-4.00 2.90l1.52 -4.70l-3.99 -2.90l4.94 -0.00zM1668.6 83.4m0.00 -6.80l1.53 4.70l4.94 0.00l-3.99 2.90l1.52 4.70l-4.00 -2.90l-4.00 2.90l1.52 -4.70l-3.99 -2.90l4.94 -0.00zM1668.9 82.8m0.00 -6.80l1.53 4.70l4.94 0.00l-3.99 2.90l1.52 4.70l-4.00 -2.90l-4.00 2.90l1.52 -4.70l-3.99 -2.90l4.94 -0.00zM1669.1 82.3m0.00 -6.80l1.53 4.70l4.94 0.00l-3.99 2.90l1.52 4.70l-4.00 -2.90l-4.00 2.90l1.52 -4.70l-3.99 -2.90l4.94 -0.00zM1669.4 81.8m0.00 -6.80l1.53 4.70l4.94 0.00l-3.99 2.90l1.52 4.70l-4.00 -2.90l-4.00 2.90l1.52 -4.70l-3.99 -2.90l4.94 -0.00zM1669.7 81.4m0.00 -6.80l1.53 4.70l4.94 0.00l-3.99 2.90l1.52 4.70l-4.00 -2.90l-4.00 2.90l1.52 -4.70l-3.99 -2.90l4.94 -0.00zM1669.9 80.9m0.00 -6.80l1.53 4.70l4.94 0.00l-3.99 2.90l1.52 4.70l-4.00 -2.90l-4.00 2.90l1.52 -4.70l-3.99 -2.90l4.94 -0.00zM1670.2 80.5m0.00 -6.80l1.53 4.70l4.94 0.00l-3.99 2.90l1.52 4.70l-4.00 -2.90l-4.00 2.90l1.52 -4.70l-3.99 -2.90l4.94 -0.00zM1670.4 80.1m0.00 -6.80l1.53 4.70l4.94 0.00l-3.99 2.90l1.52 4.70l-4.00 -2.90l-4.00 2.90l1.52 -4.70l-3.99 -2.90l4.94 -0.00zM1670.7 79.7m0.00 -6.80l1.53 4.70l4.94 0.00l-3.99 2.90l1.52 4.70l-4.00 -2.90l-4.00 2.90l1.52 -4.70l-3.99 -2.90l4.94 -0.00zM1670.9 79.3m0.00 -6.80l1.53 4.70l4.94 0.00l-3.99 2.90l1.52 4.70l-4.00 -2.90l-4.00 2.90l1.52 -4.70l-3.99 -2.90l4.94 -0.00zM1671.2 78.9m0.00 -6.80l1.53 4.70l4.94 0.00l-3.99 2.90l1.52 4.70l-4.00 -2.90l-4.00 2.90l1.52 -4.70l-3.99 -2.90l4.94 -0.00zM1671.4 78.6m0.00 -6.80l1.53 4.70l4.94 0.00l-3.99 2.90l1.52 4.70l-4.00 -2.90l-4.00 2.90l1.52 -4.70l-3.99 -2.90l4.94 -0.00zM1671.7 78.3m0.00 -6.80l1.53 4.70l4.94 0.00l-3.99 2.90l1.52 4.70l-4.00 -2.90l-4.00 2.90l1.52 -4.70l-3.99 -2.90l4.94 -0.00zM1671.9 78.0m0.00 -6.80l1.53 4.70l4.94 0.00l-3.99 2.90l1.52 4.70l-4.00 -2.90l-4.00 2.90l1.52 -4.70l-3.99 -2.90l4.94 -0.00zM1672.2 77.7m0.00 -6.80l1.53 4.70l4.94 0.00l-3.99 2.90l1.52 4.70l-4.00 -2.90l-4.00 2.90l1.52 -4.70l-3.99 -2.90l4.94 -0.00zM1672.4 77.5m0.00 -6.80l1.53 4.70l4.94 0.00l-3.99 2.90l1.52 4.70l-4.00 -2.90l-4.00 2.90l1.52 -4.70l-3.99 -2.90l4.94 -0.00zM1672.7 77.2m0.00 -6.80l1.53 4.70l4.94 0.00l-3.99 2.90l1.52 4.70l-4.00 -2.90l-4.00 2.90l1.52 -4.70l-3.99 -2.90l4.94 -0.00z" fill="#1a6fdf"/>
</g>
<g id="s3">
<polyline points="1054.8,529.3 1069.2,516.4 1082.3,502.4 1094.4,486.5 1105.6,468.1 1116.0,446.2 1125.7,421.2 1134.9,390.9 1143.5,355.0 1151.7,323.6 1159.4,277.3 1166.8,240.0 1173.8,216.6 1180.5,212.1 1186.9,225.0 1193.1,250.9 1199.0,268.8 1204.7,280.8 1210.2,286.1 1215.5,284.5 1220.6,278.6 1225.5,271.1 1230.3,263.8 1235.0,258.4 1239.5,256.4 1243.9,260.1 1248.1,269.9 1252.2,283.4 1256.3,299.2 1260.2,315.5 1264.0,331.1 1267.7,344.9 1271.4,356.0 1274.9,363.6 1278.4,366.9 1281.8,364.2 1285.1,354.4 1288.4,339.4 1291.5,321.1 1294.6,301.3 1297.7,281.5 1300.7,263.0 1303.6,247.0 1306.5,234.5 1309.3,226.4 1312.1,223.5 1314.8,226.1 1317.5,232.8 1320.1,242.3 1322.7,253.1 1325.2,264.3 1327.7,274.7 1330.2,283.3 1332.6,289.4 1334.9,292.2 1337.3,291.8 1339.6,290.3 1341.9,287.7 1344.1,284.2 1346.3,279.9 1348.5,274.9 1350.6,269.4 1352.7,263.5 1354.8,257.2 1356.9,250.6 1358.9,243.9 1360.9,237.0 1362.9,230.1 1364.8,223.2 1366.7,216.4 1368.6,209.8 1370.5,203.3 1372.3,197.0 1374.2,191.0 1376.0,185.3 1377.8,180.0 1379.5,175.0 1381.3,170.5 1383.0,166.4 1384.7,162.7 1386.4,159.6 1388.1,156.9 1389.7,154.8 1391.3,153.2 1393.0,152.2 1394.6,151.8 1396.1,151.9 1397.7,152.3 1399.2,152.9 1400.8,153.8 1402.3,154.8 1403.8,155.9 1405.3,157.2 1406.8,158.4 1408.2,159.7 1409.7,161.0 1411.1,162.2 1412.5,163.3 1413.9,164.6 1415.3,166.2 1416.7,167.8 1418.0,169.6 1419.4,171.4 1420.7,173.0 1422.1,174.6 1423.4,175.9 1424.7,177.0 1426.0,177.8 1427.3,178.2 1428.5,178.2 1429.8,178.1 1431.1,177.8 1432.3,177.5 1433.5,177.2 1434.8,176.7 1436.0,176.3 1437.2,175.8 1438.4,175.2 1439.6,174.7 1440.7,174.1 1441.9,173.3 1443.0,172.4 1444.2,171.4 1445.3,170.3 1446.5,169.1 1447.6,167.9 1448.7,166.6 1449.8,165.4 1450.9,164.1 1452.0,162.9 1453.1,161.7 1454.1,160.5 1455.2,159.2 1456.3,157.9 1457.3,156.6 1458.4,155.3 1459.4,153.9 1460.4,152.5 1461.5,151.1 1462.5,149.7 1463.5,148.3 1464.5,146.8 1465.5,145.3 1466.5,143.7 1467.5,142.1 1468.4,140.5 1469.4,138.8 1470.4,137.2 1471.3,135.5 1472.3,133.8 1473.2,132.1 1474.2,130.4 1475.1,128.6 1476.0,126.7 1477.0,124.8 1477.9,122.9 1478.8,121.0 1479.7,119.2 1480.6,117.3 1481.5,115.5 1482.4,113.8 1483.3,112.2 1484.1,110.6 1485.0,109.0 1485.9,107.4 1486.8,105.9 1487.6,104.3 1488.5,102.9 1489.3,101.4 1490.2,100.1 1491.0,98.8 1491.8,97.5 1492.7,96.4 1493.5,95.2 1494.3,94.1 1495.1,93.0 1496.0,92.0 1496.8,90.9 1497.6,90.0 1498.4,89.1 1499.2,88.2 1500.0,87.5 1500.7,86.9 1501.5,86.4 1502.3,85.9 1503.1,85.5 1503.9,85.1 1504.6,84.7 1505.4,84.4 1506.1,84.2 1506.9,84.1 1507.7,84.1 1508.4,84.2 1509.1,84.3 1509.9,84.5 1510.6,84.8 1511.4,85.2 1512.1,85.6 1512.8,86.0 1513.5,86.5 1514.3,87.0 1515.0,87.5 1515.7,88.1 1516.4,88.7 1517.1,89.3 1517.8,90.0 1518.5,90.9 1519.2,92.0 1519.9,93.4 1520.6,94.9 1521.3,96.5 1522.0,98.2 1522.7,99.9 1523.3,101.7 1524.0,103.4 1524.7,105.2 1525.3,107.3 1526.0,109.4 1526.7,111.7 1527.3,114.0 1528.0,116.3 1528.6,118.4 1529.3,120.2 1530.0,122.0 1530.6,123.7 1531.2,125.3 1531.9,126.9 1532.5,128.5 1533.2,129.9 1533.8,131.2 1534.4,132.4 1535.0,133.5 1535.7,134.4 1536.3,135.4 1536.9,136.3 1537.5,137.2 1538.1,138.1 1538.8,138.8 1539.4,139.5 1540.0,139.9 1540.6,140.2 1541.2,140.3 1541.8,140.3 1542.4,140.2 1543.0,139.9 1543.6,139.6 1544.2,139.3 1544.7,138.8 1545.3,138.4 1545.9,137.9 1546.5,137.3 1547.1,136.7 1547.7,136.1 1548.2,135.5 1548.8,134.9 1549.4,134.2 1549.9,133.6 1550.5,133.0 1551.1,132.2 1551.6,131.4 1552.2,130.4 1552.8,129.4 1553.3,128.3 1553.9,127.3 1554.4,126.2 1555.0,125.1 1555.5,124.1 1556.1,123.2 1556.6,122.3 1557.1,121.6 1557.7,120.9 1558.2,120.2 1558.8,119.5 1559.3,118.9 1559.8,118.2 1560.4,117.6 1560.9,117.0 1561.4,116.5 1561.9,116.0 1562.5,115.5 1563.0,115.1 1563.5,114.8 1564.0,114.5 1564.5,114.3 1565.0,114.2 1565.6,114.0 1566.1,113.9 1566.6,113.8 1567.1,113.7 1567.6,113.6 1568.1,113.6 1568.6,113.5 1569.1,113.4 1569.6,113.3 1570.1,113.3 1570.6,113.2 1571.1,113.1 1571.6,113.0 1572.1,112.9 1572.6,112.8 1573.0,112.6 1573.5,112.5 1574.0,112.3 1574.5,112.1 1575.0,111.8 1575.5,111.4 1575.9,111.0 1576.4,110.6 1576.9,110.2 1577.4,109.7 1577.8,109.3 1578.3,108.8 1578.8,108.3 1579.2,107.8 1579.7,107.4 1580.2,106.9 1580.6,106.5 1581.1,106.0 1581.6,105.5 1582.0,105.0 1582.5,104.4 1582.9,103.8 1583.4,103.2 1583.8,102.6 1584.3,102.0 1584.7,101.5 1585.2,101.0 1585.6,100.5 1586.1,100.2 1586.5,99.9 1587.0,99.6 1587.4,99.5 1587.9,99.5 1588.3,99.5 1588.7,99.5 1589.2,99.6 1589.6,99.6 1590.1,99.7 1590.5,99.7 1590.9,99.8 1591.4,99.9 1591.8,100.0 1592.2,100.0 1592.6,100.1 1593.1,100.2 1593.5,100.3 1593.9,100.4 1594.3,100.4 1594.8,100.5 1595.2,100.6 1595.6,100.7 1596.0,100.7 1596.4,100.8 1596.9,100.9 1597.3,101.0 1597.7,101.1 1598.1,101.2 1598.5,101.3 1598.9,101.4 1599.3,101.5 1599.7,101.6 1600.2,101.6 1600.6,101.7 1601.0,101.7 1601.4,101.7 1601.8,101.8 1602.2,101.7 1602.6,101.7 1603.0,101.5 1603.4,101.4 1603.8,101.2 1604.2,101.0 1604.6,100.7 1605.0,100.4 1605.3,100.1 1605.7,99.8 1606.1,99.5 1606.5,99.2 1606.9,98.8 1607.3,98.4 1607.7,98.1 1608.1,97.7 1608.5,97.4 1608.8,97.0 1609.2,96.6 1609.6,96.2 1610.0,95.7 1610.4,95.2 1610.8,94.6 1611.1,94.1 1611.5,93.5 1611.9,92.9 1612.3,92.3 1612.6,91.8 1613.0,91.2 1613.4,90.7 1613.8,90.3 1614.1,89.9 1614.5,89.5 1614.9,89.2 1615.2,88.9 1615.6,88.6 1616.0,88.3 1616.3,88.0 1616.7,87.8 1617.1,87.5 1617.4,87.4 1617.8,87.2 1618.2,87.2 1618.5,87.2 1618.9,87.2 1619.2,87.3 1619.6,87.4 1619.9,87.6 1620.3,87.8 1620.7,88.1 1621.0,88.4 1621.4,88.7 1621.7,89.0 1622.1,89.4 1622.4,89.8 1622.8,90.2 1623.1,90.6 1623.5,91.1 1623.8,91.5 1624.2,92.0 1624.5,92.5 1624.9,92.9 1625.2,93.5 1625.5,94.2 1625.9,95.1 1626.2,96.0 1626.6,97.0 1626.9,98.1 1627.3,99.2 1627.6,100.3 1627.9,101.5 1628.3,102.7 1628.6,103.8 1628.9,105.0 1629.3,106.1 1629.6,107.1 1630.0,108.1 1630.3,109.2 1630.6,110.2 1631.0,111.2 1631.3,112.3 1631.6,113.4 1631.9,114.4 1632.3,115.5 1632.6,116.5 1632.9,117.6 1633.3,118.6 1633.6,119.6 1633.9,120.6 1634.2,121.6 1634.6,122.5 1634.9,123.5 1635.2,124.4 1635.5,125.2 1635.8,126.0 1636.2,126.8 1636.5,127.6 1636.8,128.4 1637.1,129.1 1637.4,129.9 1637.8,130.7 1638.1,131.4 1638.4,132.1 1638.7,132.8 1639.0,133.5 1639.3,134.1 1639.7,134.6 1640.0,135.1 1640.3,135.6 1640.6,136.0 1640.9,136.3 1641.2,136.6 1641.5,136.8 1641.8,137.1 1642.1,137.4 1642.4,137.6 1642.8,137.8 1643.1,138.1 1643.4,138.3 1643.7,138.5 1644.0,138.7 1644.3,138.9 1644.6,139.0 1644.9,139.2 1645.2,139.3 1645.5,139.5 1645.8,139.6 1646.1,139.7 1646.4,139.7 1646.7,139.8 1647.0,139.8 1647.3,139.8 1647.6,139.8 1647.9,139.8 1648.2,139.8 1648.5,139.8 1648.8,139.8 1649.1,139.7 1649.4,139.7 1649.6,139.6 1649.9,139.5 1650.2,139.5 1650.5,139.4 1650.8,139.3 1651.1,139.2 1651.4,139.1 1651.7,139.0 1652.0,138.9 1652.3,138.8 1652.5,138.6 1652.8,138.5 1653.1,138.4 1653.4,138.2 1653.7,138.1 1654.0,137.9 1654.3,137.7 1654.5,137.5 1654.8,137.2 1655.1,136.8 1655.4,136.4 1655.7,136.0 1656.0,135.5 1656.2,135.0 1656.5,134.4 1656.8,133.8 1657.1,133.2 1657.4,132.6 1657.6,131.8 1657.9,130.9 1658.2,129.9 1658.5,128.8 1658.7,127.6 1659.0,126.4 1659.3,125.1 1659.6,123.7 1659.8,122.4 1660.1,121.0 1660.4,119.6 1660.7,118.2 1660.9,116.9 1661.2,115.6 1661.5,114.3 1661.7,113.1 1662.0,111.9 1662.3,110.8 1662.6,109.7 1662.8,108.6 1663.1,107.4 1663.4,106.3 1663.6,105.2 1663.9,104.1 1664.2,103.0 1664.4,101.9 1664.7,100.8 1665.0,99.7 1665.2,98.7 1665.5,97.7 1665.8,96.7 1666.0,95.7 1666.3,94.8 1666.5,93.9 1666.8,93.0 1667.1,92.2 1667.3,91.3 1667.6,90.5 1667.8,89.6 1668.1,88.8 1668.4,88.0 1668.6,87.2 1668.9,86.4 1669.1,85.7 1669.4,85.0 1669.7,84.3 1669.9,83.6 1670.2,83.0 1670.4,82.5 1670.7,82.0 1670.9,81.5 1671.2,81.1 1671.4,80.7 1671.7,80.3 1671.9,79.9 1672.2,79.6 1672.4,79.3 1672.7,79.1" fill="none" stroke="#37ad6b" stroke-width="2.6" stroke-linejoin="round"/>
<path d="M1054.8 529.3m0.00 -7.73l6.50 11.60l-13.00 0.00zM1069.2 516.4m0.00 -7.73l6.50 11.60l-13.00 0.00zM1082.3 502.4m0.00 -7.73l6.50 11.60l-13.00 0.00zM1094.4 486.5m0.00 -7.73l6.50 11.60l-13.00 0.00zM1105.6 468.1m0.00 -7.73l6.50 11.60l-13.00 0.00zM1116.0 446.2m0.00 -7.73l6.50 11.60l-13.00 0.00zM1125.7 421.2m0.00 -7.73l6.50 11.60l-13.00 0.00zM1134.9 390.9m0.00 -7.73l6.50 11.60l-13.00 0.00zM1143.5 355.0m0.00 -7.73l6.50 11.60l-13.00 0.00zM1151.7 323.6m0.00 -7.73l6.50 11.60l-13.00 0.00zM1159.4 277.3m0.00 -7.73l6.50 11.60l-13.00 0.00zM1166.8 240.0m0.00 -7.73l6.50 11.60l-13.00 0.00zM1173.8 216.6m0.00 -7.73l6.50 11.60l-13.00 0.00zM1180.5 212.1m0.00 -7.73l6.50 11.60l-13.00 0.00zM1186.9 225.0m0.00 -7.73l6.50 11.60l-13.00 0.00zM1193.1 250.9m0.00 -7.73l6.50 11.60l-13.00 0.00zM1199.0 268.8m0.00 -7.73l6.50 11.60l-13.00 0.00zM1204.7 280.8m0.00 -7.73l6.50 11.60l-13.00 0.00zM1210.2 286.1m0.00 -7.73l6.50 11.60l-13.00 0.00zM1215.5 284.5m0.00 -7.73l6.50 11.60l-13.00 0.00zM1220.6 278.6m0.00 -7.73l6.50 11.60l-13.00 0.00zM1225.5 271.1m0.00 -7.73l6.50 11.60l-13.00 0.00zM1230.3 263.8m0.00 -7.73l6.50 11.60l-13.00 0.00zM1235.0 258.4m0.00 -7.73l6.50 11.60l-13.00 0.00zM1239.5 256.4m0.00 -7.73l6.50 11.60l-13.00 0.00zM1243.9 260.1m0.00 -7.73l6.50 11.60l-13.00 0.00zM1248.1 269.9m0.00 -7.73l6.50 11.60l-13.00 0.00zM1252.2 283.4m0.00 -7.73l6.50 11.60l-13.00 0.00zM1256.3 299.2m0.00 -7.73l6.50 11.60l-13.00 0.00zM1260.2 315.5m0.00 -7.73l6.50 11.60l-13.00 0.00zM1264.0 331.1m0.00 -7.73l6.50 11.60l-13.00 0.00zM1267.7 344.9m0.00 -7.73l6.50 11.60l-13.00 0.00zM1271.4 356.0m0.00 -7.73l6.50 11.60l-13.00 0.00zM1274.9 363.6m0.00 -7.73l6.50 11.60l-13.00 0.00zM1278.4 366.9m0.00 -7.73l6.50 11.60l-13.00 0.00zM1281.8 364.2m0.00 -7.73l6.50 11.60l-13.00 0.00zM1285.1 354.4m0.00 -7.73l6.50 11.60l-13.00 0.00zM1288.4 339.4m0.00 -7.73l6.50 11.60l-13.00 0.00zM1291.5 321.1m0.00 -7.73l6.50 11.60l-13.00 0.00zM1294.6 301.3m0.00 -7.73l6.50 11.60l-13.00 0.00zM1297.7 281.5m0.00 -7.73l6.50 11.60l-13.00 0.00zM1300.7 263.0m0.00 -7.73l6.50 11.60l-13.00 0.00zM1303.6 247.0m0.00 -7.73l6.50 11.60l-13.00 0.00zM1306.5 234.5m0.00 -7.73l6.50 11.60l-13.00 0.00zM1309.3 226.4m0.00 -7.73l6.50 11.60l-13.00 0.00zM1312.1 223.5m0.00 -7.73l6.50 11.60l-13.00 0.00zM1314.8 226.1m0.00 -7.73l6.50 11.60l-13.00 0.00zM1317.5 232.8m0.00 -7.73l6.50 11.60l-13.00 0.00zM1320.1 242.3m0.00 -7.73l6.50 11.60l-13.00 0.00zM1322.7 253.1m0.00 -7.73l6.50 11.60l-13.00 0.00zM1325.2 264.3m0.00 -7.73l6.50 11.60l-13.00 0.00zM1327.7 274.7m0.00 -7.73l6.50 11.60l-13.00 0.00zM1330.2 283.3m0.00 -7.73l6.50 11.60l-13.00 0.00zM1332.6 289.4m0.00 -7.73l6.50 11.60l-13.00 0.00zM1334.9 292.2m0.00 -7.73l6.50 11.60l-13.00 0.00zM1337.3 291.8m0.00 -7.73l6.50 11.60l-13.00 0.00zM1339.6 290.3m0.00 -7.73l6.50 11.60l-13.00 0.00zM1341.9 287.7m0.00 -7.73l6.50 11.60l-13.00 0.00zM1344.1 284.2m0.00 -7.73l6.50 11.60l-13.00 0.00zM1346.3 279.9m0.00 -7.73l6.50 11.60l-13.00 0.00zM1348.5 274.9m0.00 -7.73l6.50 11.60l-13.00 0.00zM1350.6 269.4m0.00 -7.73l6.50 11.60l-13.00 0.00zM1352.7 263.5m0.00 -7.73l6.50 11.60l-13.00 0.00zM1354.8 257.2m0.00 -7.73l6.50 11.60l-13.00 0.00zM1356.9 250.6m0.00 -7.73l6.50 11.60l-13.00 0.00zM1358.9 243.9m0.00 -7.73l6.50 11.60l-13.00 0.00zM1360.9 237.0m0.00 -7.73l6.50 11.60l-13.00 0.00zM1362.9 230.1m0.00 -7.73l6.50 11.60l-13.00 0.00zM1364.8 223.2m0.00 -7.73l6.50 11.60l-13.00 0.00zM1366.7 216.4m0.00 -7.73l6.50 11.60l-13.00 0.00zM1368.6 209.8m0.00 -7.73l6.50 11.60l-13.00 0.00zM1370.5 203.3m0.00 -7.73l6.50 11.60l-13.00 0.00zM1372.3 197.0m0.00 -7.73l6.50 11.60l-13.00 0.00zM1374.2 191.0m0.00 -7.73l6.50 11.60l-13.00 0.00zM1376.0 185.3m0.00 -7.73l6.50 11.60l-13.00 0.00zM1377.8 180.0m0.00 -7.73l6.50 11.60l-13.00 0.00zM1379.5 175.0m0.00 -7.73l6.50 11.60l-13.00 0.00zM1381.3 170.5m0.00 -7.73l6.50 11.60l-13.00 0.00zM1383.0 166.4m0.00 -7.73l6.50 11.60l-13.00 0.00zM1384.7 162.7m0.00 -7.73l6.50 11.60l-13.00 0.00zM1386.4 159.6m0.00 -7.73l6.50 11.60l-13.00 0.00zM1388.1 156.9m0.00 -7.73l6.50 11.60l-13.00 0.00zM1389.7 154.8m0.00 -7.73l6.50 11.60l-13.00 0.00zM1391.3 153.2m0.00 -7.73l6.50 11.60l-13.00 0.00zM1393.0 152.2m0.00 -7.73l6.50 11.60l-13.00 0.00zM1394.6 151.8m0.00 -7.73l6.50 11.60l-13.00 0.00zM1396.1 151.9m0.00 -7.73l6.50 11.60l-13.00 0.00zM1397.7 152.3m0.00 -7.73l6.50 11.60l-13.00 0.00zM1399.2 152.9m0.00 -7.73l6.50 11.60l-13.00 0.00zM1400.8 153.8m0.00 -7.73l6.50 11.60l-13.00 0.00zM1402.3 154.8m0.00 -7.73l6.50 11.60l-13.00 0.00zM1403.8 155.9m0.00 -7.73l6.50 11.60l-13.00 0.00zM1405.3 157.2m0.00 -7.73l6.50 11.60l-13.00 0.00zM1406.8 158.4m0.00 -7.73l6.50 11.60l-13.00 0.00zM1408.2 159.7m0.00 -7.73l6.50 11.60l-13.00 0.00zM1409.7 161.0m0.00 -7.73l6.50 11.60l-13.00 0.00zM1411.1 162.2m0.00 -7.73l6.50 11.60l-13.00 0.00zM1412.5 163.3m0.00 -7.73l6.50 11.60l-13.00 0.00zM1413.9 164.6m0.00 -7.73l6.50 11.60l-13.00 0.00zM1415.3 166.2m0.00 -7.73l6.50 11.60l-13.00 0.00zM1416.7 167.8m0.00 -7.73l6.50 11.60l-13.00 0.00zM1418.0 169.6m0.00 -7.73l6.50 11.60l-13.00 0.00zM1419.4 171.4m0.00 -7.73l6.50 11.60l-13.00 0.00zM1420.7 173.0m0.00 -7.73l6.50 11.60l-13.00 0.00zM1422.1 174.6m0.00 -7.73l6.50 11.60l-13.00 0.00zM1423.4 175.9m0.00 -7.73l6.50 11.60l-13.00 0.00zM1424.7 177.0m0.00 -7.73l6.50 11.60l-13.00 0.00zM1426.0 177.8m0.00 -7.73l6.50 11.60l-13.00 0.00zM1427.3 178.2m0.00 -7.73l6.50 11.60l-13.00 0.00zM1428.5 178.2m0.00 -7.73l6.50 11.60l-13.00 0.00zM1429.8 178.1m0.00 -7.73l6.50 11.60l-13.00 0.00zM1431.1 177.8m0.00 -7.73l6.50 11.60l-13.00 0.00zM1432.3 177.5m0.00 -7.73l6.50 11.60l-13.00 0.00zM1433.5 177.2m0.00 -7.73l6.50 11.60l-13.00 0.00zM1434.8 176.7m0.00 -7.73l6.50 11.60l-13.00 0.00zM1436.0 176.3m0.00 -7.73l6.50 11.60l-13.00 0.00zM1437.2 175.8m0.00 -7.73l6.50 11.60l-13.00 0.00zM1438.4 175.2m0.00 -7.73l6.50 11.60l-13.00 0.00zM1439.6 174.7m0.00 -7.73l6.50 11.60l-13.00 0.00zM1440.7 174.1m0.00 -7.73l6.50 11.60l-13.00 0.00zM1441.9 173.3m0.00 -7.73l6.50 11.60l-13.00 0.00zM1443.0 172.4m0.00 -7.73l6.50 11.60l-13.00 0.00zM1444.2 171.4m0.00 -7.73l6.50 11.60l-13.00 0.00zM1445.3 170.3m0.00 -7.73l6.50 11.60l-13.00 0.00zM1446.5 169.1m0.00 -7.73l6.50 11.60l-13.00 0.00zM1447.6 167.9m0.00 -7.73l6.50 11.60l-13.00 0.00zM1448.7 166.6m0.00 -7.73l6.50 11.60l-13.00 0.00zM1449.8 165.4m0.00 -7.73l6.50 11.60l-13.00 0.00zM1450.9 164.1m0.00 -7.73l6.50 11.60l-13.00 0.00zM1452.0 162.9m0.00 -7.73l6.50 11.60l-13.00 0.00zM1453.1 161.7m0.00 -7.73l6.50 11.60l-13.00 0.00zM1454.1 160.5m0.00 -7.73l6.50 11.60l-13.00 0.00zM1455.2 159.2m0.00 -7.73l6.50 11.60l-13.00 0.00zM1456.3 157.9m0.00 -7.73l6.50 11.60l-13.00 0.00zM1457.3 156.6m0.00 -7.73l6.50 11.60l-13.00 0.00zM1458.4 155.3m0.00 -7.73l6.50 11.60l-13.00 0.00zM1459.4 153.9m0.00 -7.73l6.50 11.60l-13.00 0.00zM1460.4 152.5m0.00 -7.73l6.50 11.60l-13.00 0.00zM1461.5 151.1m0.00 -7.73l6.50 11.60l-13.00 0.00zM1462.5 149.7m0.00 -7.73l6.50 11.60l-13.00 0.00zM1463.5 148.3m0.00 -7.73l6.50 11.60l-13.00 0.00zM1464.5 146.8m0.00 -7.73l6.50 11.60l-13.00 0.00zM1465.5 145.3m0.00 -7.73l6.50 11.60l-13.00 0.00zM1466.5 143.7m0.00 -7.73l6.50 11.60l-13.00 0.00zM1467.5 142.1m0.00 -7.73l6.50 11.60l-13.00 0.00zM1468.4 140.5m0.00 -7.73l6.50 11.60l-13.00 0.00zM1469.4 138.8m0.00 -7.73l6.50 11.60l-13.00 0.00zM1470.4 137.2m0.00 -7.73l6.50 11.60l-13.00 0.00zM1471.3 135.5m0.00 -7.73l6.50 11.60l-13.00 0.00zM1472.3 133.8m0.00 -7.73l6.50 11.60l-13.00 0.00zM1473.2 132.1m0.00 -7.73l6.50 11.60l-13.00 0.00zM1474.2 130.4m0.00 -7.73l6.50 11.60l-13.00 0.00zM1475.1 128.6m0.00 -7.73l6.50 11.60l-13.00 0.00zM1476.0 126.7m0.00 -7.73l6.50 11.60l-13.00 0.00zM1477.0 124.8m0.00 -7.73l6.50 11.60l-13.00 0.00zM1477.9 122.9m0.00 -7.73l6.50 11.60l-13.00 0.00zM1478.8 121.0m0.00 -7.73l6.50 11.60l-13.00 0.00zM1479.7 119.2m0.00 -7.73l6.50 11.60l-13.00 0.00zM1480.6 117.3m0.00 -7.73l6.50 11.60l-13.00 0.00zM1481.5 115.5m0.00 -7.73l6.50 11.60l-13.00 0.00zM1482.4 113.8m0.00 -7.73l6.50 11.60l-13.00 0.00zM1483.3 112.2m0.00 -7.73l6.50 11.60l-13.00 0.00zM1484.1 110.6m0.00 -7.73l6.50 11.60l-13.00 0.00zM1485.0 109.0m0.00 -7.73l6.50 11.60l-13.00 0.00zM1485.9 107.4m0.00 -7.73l6.50 11.60l-13.00 0.00zM1486.8 105.9m0.00 -7.73l6.50 11.60l-13.00 0.00zM1487.6 104.3m0.00 -7.73l6.50 11.60l-13.00 0.00zM1488.5 102.9m0.00 -7.73l6.50 11.60l-13.00 0.00zM1489.3 101.4m0.00 -7.73l6.50 11.60l-13.00 0.00zM1490.2 100.1m0.00 -7.73l6.50 11.60l-13.00 0.00zM1491.0 98.8m0.00 -7.73l6.50 11.60l-13.00 0.00zM1491.8 97.5m0.00 -7.73l6.50 11.60l-13.00 0.00zM1492.7 96.4m0.00 -7.73l6.50 11.60l-13.00 0.00zM1493.5 95.2m0.00 -7.73l6.50 11.60l-13.00 0.00zM1494.3 94.1m0.00 -7.73l6.50 11.60l-13.00 0.00zM1495.1 93.0m0.00 -7.73l6.50 11.60l-13.00 0.00zM1496.0 92.0m0.00 -7.73l6.50 11.60l-13.00 0.00zM1496.8 90.9m0.00 -7.73l6.50 11.60l-13.00 0.00zM1497.6 90.0m0.00 -7.73l6.50 11.60l-13.00 0.00zM1498.4 89.1m0.00 -7.73l6.50 11.60l-13.00 0.00zM1499.2 88.2m0.00 -7.73l6.50 11.60l-13.00 0.00zM1500.0 87.5m0.00 -7.73l6.50 11.60l-13.00 0.00zM1500.7 86.9m0.00 -7.73l6.50 11.60l-13.00 0.00zM1501.5 86.4m0.00 -7.73l6.50 11.60l-13.00 0.00zM1502.3 85.9m0.00 -7.73l6.50 11.60l-13.00 0.00zM1503.1 85.5m0.00 -7.73l6.50 11.60l-13.00 0.00zM1503.9 85.1m0.00 -7.73l6.50 11.60l-13.00 0.00zM1504.6 84.7m0.00 -7.73l6.50 11.60l-13.00 0.00zM1505.4 84.4m0.00 -7.73l6.50 11.60l-13.00 0.00zM1506.1 84.2m0.00 -7.73l6.50 11.60l-13.00 0.00zM1506.9 84.1m0.00 -7.73l6.50 11.60l-13.00 0.00zM1507.7 84.1m0.00 -7.73l6.50 11.60l-13.00 0.00zM1508.4 84.2m0.00 -7.73l6.50 11.60l-13.00 0.00zM1509.1 84.3m0.00 -7.73l6.50 11.60l-13.00 0.00zM1509.9 84.5m0.00 -7.73l6.50 11.60l-13.00 0.00zM1510.6 84.8m0.00 -7.73l6.50 11.60l-13.00 0.00zM1511.4 85.2m0.00 -7.73l6.50 11.60l-13.00 0.00zM1512.1 85.6m0.00 -7.73l6.50 11.60l-13.00 0.00zM1512.8 86.0m0.00 -7.73l6.50 11.60l-13.00 0.00zM1513.5 86.5m0.00 -7.73l6.50 11.60l-13.00 0.00zM1514.3 87.0m0.00 -7.73l6.50 11.60l-13.00 0.00zM1515.0 87.5m0.00 -7.73l6.50 11.60l-13.00 0.00zM1515.7 88.1m0.00 -7.73l6.50 11.60l-13.00 0.00zM1516.4 88.7m0.00 -7.73l6.50 11.60l-13.00 0.00zM1517.1 89.3m0.00 -7.73l6.50 11.60l-13.00 0.00zM1517.8 90.0m0.00 -7.73l6.50 11.60l-13.00 0.00zM1518.5 90.9m0.00 -7.73l6.50 11.60l-13.00 0.00zM1519.2 92.0m0.00 -7.73l6.50 11.60l-13.00 0.00zM1519.9 93.4m0.00 -7.73l6.50 11.60l-13.00 0.00zM1520.6 94.9m0.00 -7.73l6.50 11.60l-13.00 0.00zM1521.3 96.5m0.00 -7.73l6.50 11.60l-13.00 0.00zM1522.0 98.2m0.00 -7.73l6.50 11.60l-13.00 0.00zM1522.7 99.9m0.00 -7.73l6.50 11.60l-13.00 0.00zM1523.3 101.7m0.00 -7.73l6.50 11.60l-13.00 0.00zM1524.0 103.4m0.00 -7.73l6.50 11.60l-13.00 0.00zM1524.7 105.2m0.00 -7.73l6.50 11.60l-13.00 0.00zM1525.3 107.3m0.00 -7.73l6.50 11.60l-13.00 0.00zM1526.0 109.4m0.00 -7.73l6.50 11.60l-13.00 0.00zM1526.7 111.7m0.00 -7.73l6.50 11.60l-13.00 0.00zM1527.3 114.0m0.00 -7.73l6.50 11.60l-13.00 0.00zM1528.0 116.3m0.00 -7.73l6.50 11.60l-13.00 0.00zM1528.6 118.4m0.00 -7.73l6.50 11.60l-13.00 0.00zM1529.3 120.2m0.00 -7.73l6.50 11.60l-13.00 0.00zM1530.0 122.0m0.00 -7.73l6.50 11.60l-13.00 0.00zM1530.6 123.7m0.00 -7.73l6.50 11.60l-13.00 0.00zM1531.2 125.3m0.00 -7.73l6.50 11.60l-13.00 0.00zM1531.9 126.9m0.00 -7.73l6.50 11.60l-13.00 0.00zM1532.5 128.5m0.00 -7.73l6.50 11.60l-13.00 0.00zM1533.2 129.9m0.00 -7.73l6.50 11.60l-13.00 0.00zM1533.8 131.2m0.00 -7.73l6.50 11.60l-13.00 0.00zM1534.4 132.4m0.00 -7.73l6.50 11.60l-13.00 0.00zM1535.0 133.5m0.00 -7.73l6.50 11.60l-13.00 0.00zM1535.7 134.4m0.00 -7.73l6.50 11.60l-13.00 0.00zM1536.3 135.4m0.00 -7.73l6.50 11.60l-13.00 0.00zM1536.9 136.3m0.00 -7.73l6.50 11.60l-13.00 0.00zM1537.5 137.2m0.00 -7.73l6.50 11.60l-13.00 0.00zM1538.1 138.1m0.00 -7.73l6.50 11.60l-13.00 0.00zM1538.8 138.8m0.00 -7.73l6.50 11.60l-13.00 0.00zM1539.4 139.5m0.00 -7.73l6.50 11.60l-13.00 0.00zM1540.0 139.9m0.00 -7.73l6.50 11.60l-13.00 0.00zM1540.6 140.2m0.00 -7.73l6.50 11.60l-13.00 0.00zM1541.2 140.3m0.00 -7.73l6.50 11.60l-13.00 0.00zM1541.8 140.3m0.00 -7.73l6.50 11.60l-13.00 0.00zM1542.4 140.2m0.00 -7.73l6.50 11.60l-13.00 0.00zM1543.0 139.9m0.00 -7.73l6.50 11.60l-13.00 0.00zM1543.6 139.6m0.00 -7.73l6.50 11.60l-13.00 0.00zM1544.2 139.3m0.00 -7.73l6.50 11.60l-13.00 0.00zM1544.7 138.8m0.00 -7.73l6.50 11.60l-13.00 0.00zM1545.3 138.4m0.00 -7.73l6.50 11.60l-13.00 0.00zM1545.9 137.9m0.00 -7.73l6.50 11.60l-13.00 0.00zM1546.5 137.3m0.00 -7.73l6.50 11.60l-13.00 0.00zM1547.1 136.7m0.00 -7.73l6.50 11.60l-13.00 0.00zM1547.7 136.1m0.00 -7.73l6.50 11.60l-13.00 0.00zM1548.2 135.5m0.00 -7.73l6.50 11.60l-13.00 0.00zM1548.8 134.9m0.00 -7.73l6.50 11.60l-13.00 0.00zM1549.4 134.2m0.00 -7.73l6.50 11.60l-13.00 0.00zM1549.9 133.6m0.00 -7.73l6.50 11.60l-13.00 0.00zM1550.5 133.0m0.00 -7.73l6.50 11.60l-13.00 0.00zM1551.1 132.2m0.00 -7.73l6.50 11.60l-13.00 0.00zM1551.6 131.4m0.00 -7.73l6.50 11.60l-13.00 0.00zM1552.2 130.4m0.00 -7.73l6.50 11.60l-13.00 0.00zM1552.8 129.4m0.00 -7.73l6.50 11.60l-13.00 0.00zM1553.3 128.3m0.00 -7.73l6.50 11.60l-13.00 0.00zM1553.9 127.3m0.00 -7.73l6.50 11.60l-13.00 0.00zM1554.4 126.2m0.00 -7.73l6.50 11.60l-13.00 0.00zM1555.0 125.1m0.00 -7.73l6.50 11.60l-13.00 0.00zM1555.5 124.1m0.00 -7.73l6.50 11.60l-13.00 0.00zM1556.1 123.2m0.00 -7.73l6.50 11.60l-13.00 0.00zM1556.6 122.3m0.00 -7.73l6.50 11.60l-13.00 0.00zM1557.1 121.6m0.00 -7.73l6.50 11.60l-13.00 0.00zM1557.7 120.9m0.00 -7.73l6.50 11.60l-13.00 0.00zM1558.2 120.2m0.00 -7.73l6.50 11.60l-13.00 0.00zM1558.8 119.5m0.00 -7.73l6.50 11.60l-13.00 0.00zM1559.3 118.9m0.00 -7.73l6.50 11.60l-13.00 0.00zM1559.8 118.2m0.00 -7.73l6.50 11.60l-13.00 0.00zM1560.4 117.6m0.00 -7.73l6.50 11.60l-13.00 0.00zM1560.9 117.0m0.00 -7.73l6.50 11.60l-13.00 0.00zM1561.4 116.5m0.00 -7.73l6.50 11.60l-13.00 0.00zM1561.9 116.0m0.00 -7.73l6.50 11.60l-13.00 0.00zM1562.5 115.5m0.00 -7.73l6.50 11.60l-13.00 0.00zM1563.0 115.1m0.00 -7.73l6.50 11.60l-13.00 0.00zM1563.5 114.8m0.00 -7.73l6.50 11.60l-13.00 0.00zM1564.0 114.5m0.00 -7.73l6.50 11.60l-13.00 0.00zM1564.5 114.3m0.00 -7.73l6.50 11.60l-13.00 0.00zM1565.0 114.2m0.00 -7.73l6.50 11.60l-13.00 0.00zM1565.6 114.0m0.00 -7.73l6.50 11.60l-13.00 0.00zM1566.1 113.9m0.00 -7.73l6.50 11.60l-13.00 0.00zM1566.6 113.8m0.00 -7.73l6.50 11.60l-13.00 0.00zM1567.1 113.7m0.00 -7.73l6.50 11.60l-13.00 0.00zM1567.6 113.6m0.00 -7.73l6.50 11.60l-13.00 0.00zM1568.1 113.6m0.00 -7.73l6.50 11.60l-13.00 0.00zM1568.6 113.5m0.00 -7.73l6.50 11.60l-13.00 0.00zM1569.1 113.4m0.00 -7.73l6.50 11.60l-13.00 0.00zM1569.6 113.3m0.00 -7.73l6.50 11.60l-13.00 0.00zM1570.1 113.3m0.00 -7.73l6.50 11.60l-13.00 0.00zM1570.6 113.2m0.00 -7.73l6.50 11.60l-13.00 0.00zM1571.1 113.1m0.00 -7.73l6.50 11.60l-13.00 0.00zM1571.6 113.0m0.00 -7.73l6.50 11.60l-13.00 0.00zM1572.1 112.9m0.00 -7.73l6.50 11.60l-13.00 0.00zM1572.6 112.8m0.00 -7.73l6.50 11.60l-13.00 0.00zM1573.0 112.6m0.00 -7.73l6.50 11.60l-13.00 0.00zM1573.5 112.5m0.00 -7.73l6.50 11.60l-13.00 0.00zM1574.0 112.3m0.00 -7.73l6.50 11.60l-13.00 0.00zM1574.5 112.1m0.00 -7.73l6.50 11.60l-13.00 0.00zM1575.0 111.8m0.00 -7.73l6.50 11.60l-13.00 0.00zM1575.5 111.4m0.00 -7.73l6.50 11.60l-13.00 0.00zM1575.9 111.0m0.00 -7.73l6.50 11.60l-13.00 0.00zM1576.4 110.6m0.00 -7.73l6.50 11.60l-13.00 0.00zM1576.9 110.2m0.00 -7.73l6.50 11.60l-13.00 0.00zM1577.4 109.7m0.00 -7.73l6.50 11.60l-13.00 0.00zM1577.8 109.3m0.00 -7.73l6.50 11.60l-13.00 0.00zM1578.3 108.8m0.00 -7.73l6.50 11.60l-13.00 0.00zM1578.8 108.3m0.00 -7.73l6.50 11.60l-13.00 0.00zM1579.2 107.8m0.00 -7.73l6.50 11.60l-13.00 0.00zM1579.7 107.4m0.00 -7.73l6.50 11.60l-13.00 0.00zM1580.2 106.9m0.00 -7.73l6.50 11.60l-13.00 0.00zM1580.6 106.5m0.00 -7.73l6.50 11.60l-13.00 0.00zM1581.1 106.0m0.00 -7.73l6.50 11.60l-13.00 0.00zM1581.6 105.5m0.00 -7.73l6.50 11.60l-13.00 0.00zM1582.0 105.0m0.00 -7.73l6.50 11.60l-13.00 0.00zM1582.5 104.4m0.00 -7.73l6.50 11.60l-13.00 0.00zM1582.9 103.8m0.00 -7.73l6.50 11.60l-13.00 0.00zM1583.4 103.2m0.00 -7.73l6.50 11.60l-13.00 0.00zM1583.8 102.6m0.00 -7.73l6.50 11.60l-13.00 0.00zM1584.3 102.0m0.00 -7.73l6.50 11.60l-13.00 0.00zM1584.7 101.5m0.00 -7.73l6.50 11.60l-13.00 0.00zM1585.2 101.0m0.00 -7.73l6.50 11.60l-13.00 0.00zM1585.6 100.5m0.00 -7.73l6.50 11.60l-13.00 0.00zM1586.1 100.2m0.00 -7.73l6.50 11.60l-13.00 0.00zM1586.5 99.9m0.00 -7.73l6.50 11.60l-13.00 0.00zM1587.0 99.6m0.00 -7.73l6.50 11.60l-13.00 0.00zM1587.4 99.5m0.00 -7.73l6.50 11.60l-13.00 0.00zM1587.9 99.5m0.00 -7.73l6.50 11.60l-13.00 0.00zM1588.3 99.5m0.00 -7.73l6.50 11.60l-13.00 0.00zM1588.7 99.5m0.00 -7.73l6.50 11.60l-13.00 0.00zM1589.2 99.6m0.00 -7.73l6.50 11.60l-13.00 0.00zM1589.6 99.6m0.00 -7.73l6.50 11.60l-13.00 0.00zM1590.1 99.7m0.00 -7.73l6.50 11.60l-13.00 0.00zM1590.5 99.7m0.00 -7.73l6.50 11.60l-13.00 0.00zM1590.9 99.8m0.00 -7.73l6.50 11.60l-13.00 0.00zM1591.4 99.9m0.00 -7.73l6.50 11.60l-13.00 0.00zM1591.8 100.0m0.00 -7.73l6.50 11.60l-13.00 0.00zM1592.2 100.0m0.00 -7.73l6.50 11.60l-13.00 0.00zM1592.6 100.1m0.00 -7.73l6.50 11.60l-13.00 0.00zM1593.1 100.2m0.00 -7.73l6.50 11.60l-13.00 0.00zM1593.5 100.3m0.00 -7.73l6.50 11.60l-13.00 0.00zM1593.9 100.4m0.00 -7.73l6.50 11.60l-13.00 0.00zM1594.3 100.4m0.00 -7.73l6.50 11.60l-13.00 0.00zM1594.8 100.5m0.00 -7.73l6.50 11.60l-13.00 0.00zM1595.2 100.6m0.00 -7.73l6.50 11.60l-13.00 0.00zM1595.6 100.7m0.00 -7.73l6.50 11.60l-13.00 0.00zM1596.0 100.7m0.00 -7.73l6.50 11.60l-13.00 0.00zM1596.4 100.8m0.00 -7.73l6.50 11.60l-13.00 0.00zM1596.9 100.9m0.00 -7.73l6.50 11.60l-13.00 0.00zM1597.3 101.0m0.00 -7.73l6.50 11.60l-13.00 0.00zM1597.7 101.1m0.00 -7.73l6.50 11.60l-13.00 0.00zM1598.1 101.2m0.00 -7.73l6.50 11.60l-13.00 0.00zM1598.5 101.3m0.00 -7.73l6.50 11.60l-13.00 0.00zM1598.9 101.4m0.00 -7.73l6.50 11.60l-13.00 0.00zM1599.3 101.5m0.00 -7.73l6.50 11.60l-13.00 0.00zM1599.7 101.6m0.00 -7.73l6.50 11.60l-13.00 0.00zM1600.2 101.6m0.00 -7.73l6.50 11.60l-13.00 0.00zM1600.6 101.7m0.00 -7.73l6.50 11.60l-13.00 0.00zM1601.0 101.7m0.00 -7.73l6.50 11.60l-13.00 0.00zM1601.4 101.7m0.00 -7.73l6.50 11.60l-13.00 0.00zM1601.8 101.8m0.00 -7.73l6.50 11.60l-13.00 0.00zM1602.2 101.7m0.00 -7.73l6.50 11.60l-13.00 0.00zM1602.6 101.7m0.00 -7.73l6.50 11.60l-13.00 0.00zM1603.0 101.5m0.00 -7.73l6.50 11.60l-13.00 0.00zM1603.4 101.4m0.00 -7.73l6.50 11.60l-13.00 0.00zM1603.8 101.2m0.00 -7.73l6.50 11.60l-13.00 0.00zM1604.2 101.0m0.00 -7.73l6.50 11.60l-13.00 0.00zM1604.6 100.7m0.00 -7.73l6.50 11.60l-13.00 0.00zM1605.0 100.4m0.00 -7.73l6.50 11.60l-13.00 0.00zM1605.3 100.1m0.00 -7.73l6.50 11.60l-13.00 0.00zM1605.7 99.8m0.00 -7.73l6.50 11.60l-13.00 0.00zM1606.1 99.5m0.00 -7.73l6.50 11.60l-13.00 0.00zM1606.5 99.2m0.00 -7.73l6.50 11.60l-13.00 0.00zM1606.9 98.8m0.00 -7.73l6.50 11.60l-13.00 0.00zM1607.3 98.4m0.00 -7.73l6.50 11.60l-13.00 0.00zM1607.7 98.1m0.00 -7.73l6.50 11.60l-13.00 0.00zM1608.1 97.7m0.00 -7.73l6.50 11.60l-13.00 0.00zM1608.5 97.4m0.00 -7.73l6.50 11.60l-13.00 0.00zM1608.8 97.0m0.00 -7.73l6.50 11.60l-13.00 0.00zM1609.2 96.6m0.00 -7.73l6.50 11.60l-13.00 0.00zM1609.6 96.2m0.00 -7.73l6.50 11.60l-13.00 0.00zM1610.0 95.7m0.00 -7.73l6.50 11.60l-13.00 0.00zM1610.4 95.2m0.00 -7.73l6.50 11.60l-13.00 0.00zM1610.8 94.6m0.00 -7.73l6.50 11.60l-13.00 0.00zM1611.1 94.1m0.00 -7.73l6.50 11.60l-13.00 0.00zM1611.5 93.5m0.00 -7.73l6.50 11.60l-13.00 0.00zM1611.9 92.9m0.00 -7.73l6.50 11.60l-13.00 0.00zM1612.3 92.3m0.00 -7.73l6.50 11.60l-13.00 0.00zM1612.6 91.8m0.00 -7.73l6.50 11.60l-13.00 0.00zM1613.0 91.2m0.00 -7.73l6.50 11.60l-13.00 0.00zM1613.4 90.7m0.00 -7.73l6.50 11.60l-13.00 0.00zM1613.8 90.3m0.00 -7.73l6.50 11.60l-13.00 0.00zM1614.1 89.9m0.00 -7.73l6.50 11.60l-13.00 0.00zM1614.5 89.5m0.00 -7.73l6.50 11.60l-13.00 0.00zM1614.9 89.2m0.00 -7.73l6.50 11.60l-13.00 0.00zM1615.2 88.9m0.00 -7.73l6.50 11.60l-13.00 0.00zM1615.6 88.6m0.00 -7.73l6.50 11.60l-13.00 0.00zM1616.0 88.3m0.00 -7.73l6.50 11.60l-13.00 0.00zM1616.3 88.0m0.00 -7.73l6.50 11.60l-13.00 0.00zM1616.7 87.8m0.00 -7.73l6.50 11.60l-13.00 0.00zM1617.1 87.5m0.00 -7.73l6.50 11.60l-13.00 0.00zM1617.4 87.4m0.00 -7.73l6.50 11.60l-13.00 0.00zM1617.8 87.2m0.00 -7.73l6.50 11.60l-13.00 0.00zM1618.2 87.2m0.00 -7.73l6.50 11.60l-13.00 0.00zM1618.5 87.2m0.00 -7.73l6.50 11.60l-13.00 0.00zM1618.9 87.2m0.00 -7.73l6.50 11.60l-13.00 0.00zM1619.2 87.3m0.00 -7.73l6.50 11.60l-13.00 0.00zM1619.6 87.4m0.00 -7.73l6.50 11.60l-13.00 0.00zM1619.9 87.6m0.00 -7.73l6.50 11.60l-13.00 0.00zM1620.3 87.8m0.00 -7.73l6.50 11.60l-13.00 0.00zM1620.7 88.1m0.00 -7.73l6.50 11.60l-13.00 0.00zM1621.0 88.4m0.00 -7.73l6.50 11.60l-13.00 0.00zM1621.4 88.7m0.00 -7.73l6.50 11.60l-13.00 0.00zM1621.7 89.0m0.00 -7.73l6.50 11.60l-13.00 0.00zM1622.1 89.4m0.00 -7.73l6.50 11.60l-13.00 0.00zM1622.4 89.8m0.00 -7.73l6.50 11.60l-13.00 0.00zM1622.8 90.2m0.00 -7.73l6.50 11.60l-13.00 0.00zM1623.1 90.6m0.00 -7.73l6.50 11.60l-13.00 0.00zM1623.5 91.1m0.00 -7.73l6.50 11.60l-13.00 0.00zM1623.8 91.5m0.00 -7.73l6.50 11.60l-13.00 0.00zM1624.2 92.0m0.00 -7.73l6.50 11.60l-13.00 0.00zM1624.5 92.5m0.00 -7.73l6.50 11.60l-13.00 0.00zM1624.9 92.9m0.00 -7.73l6.50 11.60l-13.00 0.00zM1625.2 93.5m0.00 -7.73l6.50 11.60l-13.00 0.00zM1625.5 94.2m0.00 -7.73l6.50 11.60l-13.00 0.00zM1625.9 95.1m0.00 -7.73l6.50 11.60l-13.00 0.00zM1626.2 96.0m0.00 -7.73l6.50 11.60l-13.00 0.00zM1626.6 97.0m0.00 -7.73l6.50 11.60l-13.00 0.00zM1626.9 98.1m0.00 -7.73l6.50 11.60l-13.00 0.00zM1627.3 99.2m0.00 -7.73l6.50 11.60l-13.00 0.00zM1627.6 100.3m0.00 -7.73l6.50 11.60l-13.00 0.00zM1627.9 101.5m0.00 -7.73l6.50 11.60l-13.00 0.00zM1628.3 102.7m0.00 -7.73l6.50 11.60l-13.00 0.00zM1628.6 103.8m0.00 -7.73l6.50 11.60l-13.00 0.00zM1628.9 105.0m0.00 -7.73l6.50 11.60l-13.00 0.00zM1629.3 106.1m0.00 -7.73l6.50 11.60l-13.00 0.00zM1629.6 107.1m0.00 -7.73l6.50 11.60l-13.00 0.00zM1630.0 108.1m0.00 -7.73l6.50 11.60l-13.00 0.00zM1630.3 109.2m0.00 -7.73l6.50 11.60l-13.00 0.00zM1630.6 110.2m0.00 -7.73l6.50 11.60l-13.00 0.00zM1631.0 111.2m0.00 -7.73l6.50 11.60l-13.00 0.00zM1631.3 112.3m0.00 -7.73l6.50 11.60l-13.00 0.00zM1631.6 113.4m0.00 -7.73l6.50 11.60l-13.00 0.00zM1631.9 114.4m0.00 -7.73l6.50 11.60l-13.00 0.00zM1632.3 115.5m0.00 -7.73l6.50 11.60l-13.00 0.00zM1632.6 116.5m0.00 -7.73l6.50 11.60l-13.00 0.00zM1632.9 117.6m0.00 -7.73l6.50 11.60l-13.00 0.00zM1633.3 118.6m0.00 -7.73l6.50 11.60l-13.00 0.00zM1633.6 119.6m0.00 -7.73l6.50 11.60l-13.00 0.00zM1633.9 120.6m0.00 -7.73l6.50 11.60l-13.00 0.00zM1634.2 121.6m0.00 -7.73l6.50 11.60l-13.00 0.00zM1634.6 122.5m0.00 -7.73l6.50 11.60l-13.00 0.00zM1634.9 123.5m0.00 -7.73l6.50 11.60l-13.00 0.00zM1635.2 124.4m0.00 -7.73l6.50 11.60l-13.00 0.00zM1635.5 125.2m0.00 -7.73l6.50 11.60l-13.00 0.00zM1635.8 126.0m0.00 -7.73l6.50 11.60l-13.00 0.00zM1636.2 126.8m0.00 -7.73l6.50 11.60l-13.00 0.00zM1636.5 127.6m0.00 -7.73l6.50 11.60l-13.00 0.00zM1636.8 128.4m0.00 -7.73l6.50 11.60l-13.00 0.00zM1637.1 129.1m0.00 -7.73l6.50 11.60l-13.00 0.00zM1637.4 129.9m0.00 -7.73l6.50 11.60l-13.00 0.00zM1637.8 130.7m0.00 -7.73l6.50 11.60l-13.00 0.00zM1638.1 131.4m0.00 -7.73l6.50 11.60l-13.00 0.00zM1638.4 132.1m0.00 -7.73l6.50 11.60l-13.00 0.00zM1638.7 132.8m0.00 -7.73l6.50 11.60l-13.00 0.00zM1639.0 133.5m0.00 -7.73l6.50 11.60l-13.00 0.00zM1639.3 134.1m0.00 -7.73l6.50 11.60l-13.00 0.00zM1639.7 134.6m0.00 -7.73l6.50 11.60l-13.00 0.00zM1640.0 135.1m0.00 -7.73l6.50 11.60l-13.00 0.00zM1640.3 135.6m0.00 -7.73l6.50 11.60l-13.00 0.00zM1640.6 136.0m0.00 -7.73l6.50 11.60l-13.00 0.00zM1640.9 136.3m0.00 -7.73l6.50 11.60l-13.00 0.00zM1641.2 136.6m0.00 -7.73l6.50 11.60l-13.00 0.00zM1641.5 136.8m0.00 -7.73l6.50 11.60l-13.00 0.00zM1641.8 137.1m0.00 -7.73l6.50 11.60l-13.00 0.00zM1642.1 137.4m0.00 -7.73l6.50 11.60l-13.00 0.00zM1642.4 137.6m0.00 -7.73l6.50 11.60l-13.00 0.00zM1642.8 137.8m0.00 -7.73l6.50 11.60l-13.00 0.00zM1643.1 138.1m0.00 -7.73l6.50 11.60l-13.00 0.00zM1643.4 138.3m0.00 -7.73l6.50 11.60l-13.00 0.00zM1643.7 138.5m0.00 -7.73l6.50 11.60l-13.00 0.00zM1644.0 138.7m0.00 -7.73l6.50 11.60l-13.00 0.00zM1644.3 138.9m0.00 -7.73l6.50 11.60l-13.00 0.00zM1644.6 139.0m0.00 -7.73l6.50 11.60l-13.00 0.00zM1644.9 139.2m0.00 -7.73l6.50 11.60l-13.00 0.00zM1645.2 139.3m0.00 -7.73l6.50 11.60l-13.00 0.00zM1645.5 139.5m0.00 -7.73l6.50 11.60l-13.00 0.00zM1645.8 139.6m0.00 -7.73l6.50 11.60l-13.00 0.00zM1646.1 139.7m0.00 -7.73l6.50 11.60l-13.00 0.00zM1646.4 139.7m0.00 -7.73l6.50 11.60l-13.00 0.00zM1646.7 139.8m0.00 -7.73l6.50 11.60l-13.00 0.00zM1647.0 139.8m0.00 -7.73l6.50 11.60l-13.00 0.00zM1647.3 139.8m0.00 -7.73l6.50 11.60l-13.00 0.00zM1647.6 139.8m0.00 -7.73l6.50 11.60l-13.00 0.00zM1647.9 139.8m0.00 -7.73l6.50 11.60l-13.00 0.00zM1648.2 139.8m0.00 -7.73l6.50 11.60l-13.00 0.00zM1648.5 139.8m0.00 -7.73l6.50 11.60l-13.00 0.00zM1648.8 139.8m0.00 -7.73l6.50 11.60l-13.00 0.00zM1649.1 139.7m0.00 -7.73l6.50 11.60l-13.00 0.00zM1649.4 139.7m0.00 -7.73l6.50 11.60l-13.00 0.00zM1649.6 139.6m0.00 -7.73l6.50 11.60l-13.00 0.00zM1649.9 139.5m0.00 -7.73l6.50 11.60l-13.00 0.00zM1650.2 139.5m0.00 -7.73l6.50 11.60l-13.00 0.00zM1650.5 139.4m0.00 -7.73l6.50 11.60l-13.00 0.00zM1650.8 139.3m0.00 -7.73l6.50 11.60l-13.00 0.00zM1651.1 139.2m0.00 -7.73l6.50 11.60l-13.00 0.00zM1651.4 139.1m0.00 -7.73l6.50 11.60l-13.00 0.00zM1651.7 139.0m0.00 -7.73l6.50 11.60l-13.00 0.00zM1652.0 138.9m0.00 -7.73l6.50 11.60l-13.00 0.00zM1652.3 138.8m0.00 -7.73l6.50 11.60l-13.00 0.00zM1652.5 138.6m0.00 -7.73l6.50 11.60l-13.00 0.00zM1652.8 138.5m0.00 -7.73l6.50 11.60l-13.00 0.00zM1653.1 138.4m0.00 -7.73l6.50 11.60l-13.00 0.00zM1653.4 138.2m0.00 -7.73l6.50 11.60l-13.00 0.00zM1653.7 138.1m0.00 -7.73l6.50 11.60l-13.00 0.00zM1654.0 137.9m0.00 -7.73l6.50 11.60l-13.00 0.00zM1654.3 137.7m0.00 -7.73l6.50 11.60l-13.00 0.00zM1654.5 137.5m0.00 -7.73l6.50 11.60l-13.00 0.00zM1654.8 137.2m0.00 -7.73l6.50 11.60l-13.00 0.00zM1655.1 136.8m0.00 -7.73l6.50 11.60l-13.00 0.00zM1655.4 136.4m0.00 -7.73l6.50 11.60l-13.00 0.00zM1655.7 136.0m0.00 -7.73l6.50 11.60l-13.00 0.00zM1656.0 135.5m0.00 -7.73l6.50 11.60l-13.00 0.00zM1656.2 135.0m0.00 -7.73l6.50 11.60l-13.00 0.00zM1656.5 134.4m0.00 -7.73l6.50 11.60l-13.00 0.00zM1656.8 133.8m0.00 -7.73l6.50 11.60l-13.00 0.00zM1657.1 133.2m0.00 -7.73l6.50 11.60l-13.00 0.00zM1657.4 132.6m0.00 -7.73l6.50 11.60l-13.00 0.00zM1657.6 131.8m0.00 -7.73l6.50 11.60l-13.00 0.00zM1657.9 130.9m0.00 -7.73l6.50 11.60l-13.00 0.00zM1658.2 129.9m0.00 -7.73l6.50 11.60l-13.00 0.00zM1658.5 128.8m0.00 -7.73l6.50 11.60l-13.00 0.00zM1658.7 127.6m0.00 -7.73l6.50 11.60l-13.00 0.00zM1659.0 126.4m0.00 -7.73l6.50 11.60l-13.00 0.00zM1659.3 125.1m0.00 -7.73l6.50 11.60l-13.00 0.00zM1659.6 123.7m0.00 -7.73l6.50 11.60l-13.00 0.00zM1659.8 122.4m0.00 -7.73l6.50 11.60l-13.00 0.00zM1660.1 121.0m0.00 -7.73l6.50 11.60l-13.00 0.00zM1660.4 119.6m0.00 -7.73l6.50 11.60l-13.00 0.00zM1660.7 118.2m0.00 -7.73l6.50 11.60l-13.00 0.00zM1660.9 116.9m0.00 -7.73l6.50 11.60l-13.00 0.00zM1661.2 115.6m0.00 -7.73l6.50 11.60l-13.00 0.00zM1661.5 114.3m0.00 -7.73l6.50 11.60l-13.00 0.00zM1661.7 113.1m0.00 -7.73l6.50 11.60l-13.00 0.00zM1662.0 111.9m0.00 -7.73l6.50 11.60l-13.00 0.00zM1662.3 110.8m0.00 -7.73l6.50 11.60l-13.00 0.00zM1662.6 109.7m0.00 -7.73l6.50 11.60l-13.00 0.00zM1662.8 108.6m0.00 -7.73l6.50 11.60l-13.00 0.00zM1663.1 107.4m0.00 -7.73l6.50 11.60l-13.00 0.00zM1663.4 106.3m0.00 -7.73l6.50 11.60l-13.00 0.00zM1663.6 105.2m0.00 -7.73l6.50 11.60l-13.00 0.00zM1663.9 104.1m0.00 -7.73l6.50 11.60l-13.00 0.00zM1664.2 103.0m0.00 -7.73l6.50 11.60l-13.00 0.00zM1664.4 101.9m0.00 -7.73l6.50 11.60l-13.00 0.00zM1664.7 100.8m0.00 -7.73l6.50 11.60l-13.00 0.00zM1665.0 99.7m0.00 -7.73l6.50 11.60l-13.00 0.00zM1665.2 98.7m0.00 -7.73l6.50 11.60l-13.00 0.00zM1665.5 97.7m0.00 -7.73l6.50 11.60l-13.00 0.00zM1665.8 96.7m0.00 -7.73l6.50 11.60l-13.00 0.00zM1666.0 95.7m0.00 -7.73l6.50 11.60l-13.00 0.00zM1666.3 94.8m0.00 -7.73l6.50 11.60l-13.00 0.00zM1666.5 93.9m0.00 -7.73l6.50 11.60l-13.00 0.00zM1666.8 93.0m0.00 -7.73l6.50 11.60l-13.00 0.00zM1667.1 92.2m0.00 -7.73l6.50 11.60l-13.00 0.00zM1667.3 91.3m0.00 -7.73l6.50 11.60l-13.00 0.00zM1667.6 90.5m0.00 -7.73l6.50 11.60l-13.00 0.00zM1667.8 89.6m0.00 -7.73l6.50 11.60l-13.00 0.00zM1668.1 88.8m0.00 -7.73l6.50 11.60l-13.00 0.00zM1668.4 88.0m0.00 -7.73l6.50 11.60l-13.00 0.00zM1668.6 87.2m0.00 -7.73l6.50 11.60l-13.00 0.00zM1668.9 86.4m0.00 -7.73l6.50 11.60l-13.00 0.00zM1669.1 85.7m0.00 -7.73l6.50 11.60l-13.00 0.00zM1669.4 85.0m0.00 -7.73l6.50 11.60l-13.00 0.00zM1669.7 84.3m0.00 -7.73l6.50 11.60l-13.00 0.00zM1669.9 83.6m0.00 -7.73l6.50 11.60l-13.00 0.00zM1670.2 83.0m0.00 -7.73l6.50 11.60l-13.00 0.00zM1670.4 82.5m0.00 -7.73l6.50 11.60l-13.00 0.00zM1670.7 82.0m0.00 -7.73l6.50 11.60l-13.00 0.00zM1670.9 81.5m0.00 -7.73l6.50 11.60l-13.00 0.00zM1671.2 81.1m0.00 -7.73l6.50 11.60l-13.00 0.00zM1671.4 80.7m0.00 -7.73l6.50 11.60l-13.00 0.00zM1671.7 80.3m0.00 -7.73l6.50 11.60l-13.00 0.00zM1671.9 79.9m0.00 -7.73l6.50 11.60l-13.00 0.00zM1672.2 79.6m0.00 -7.73l6.50 11.60l-13.00 0.00zM1672.4 79.3m0.00 -7.73l6.50 11.60l-13.00 0.00zM1672.7 79.1m0.00 -7.73l6.50 11.60l-13.00 0.00z" fill="#37ad6b"/>
</g>
</g>
<path d="M1053.2 175.1H1672.7" stroke="#111" stroke-width="2.2" stroke-dasharray="14.4 7.95" fill="none"/>
<path d="M1053.2 323.7H1672.7" stroke="#111" stroke-width="2.2" stroke-dasharray="14.4 7.95" fill="none"/>
<rect x="1054.80" y="76.25" width="617.90" height="498.05" fill="none" stroke="#1a1a1a" stroke-width="2.1"/>
<path d="M1054.80 549.40h5.0M1054.80 524.50h11.3M1672.70 524.50h-11.3M1054.80 499.59h5.0M1054.80 474.69h11.3M1672.70 474.69h-11.3M1054.80 449.79h5.0M1054.80 424.88h11.3M1672.70 424.88h-11.3M1054.80 399.98h5.0M1054.80 375.08h11.3M1672.70 375.08h-11.3M1054.80 350.18h5.0M1054.80 325.27h11.3M1672.70 325.27h-11.3M1054.80 300.37h5.0M1054.80 275.47h11.3M1672.70 275.47h-11.3M1054.80 250.57h5.0M1054.80 225.67h11.3M1672.70 225.67h-11.3M1054.80 200.76h5.0M1054.80 175.86h11.3M1672.70 175.86h-11.3M1054.80 150.96h5.0M1054.80 126.06h11.3M1672.70 126.06h-11.3M1054.80 101.15h5.0M1159.41 574.30v-10.3M1159.41 76.25v9.6M1264.01 574.30v-10.3M1264.01 76.25v9.6M1368.62 574.30v-10.3M1368.62 76.25v9.6M1429.81 574.30v-10.3M1429.81 76.25v9.6M1491.00 574.30v-10.3M1491.00 76.25v9.6M1568.09 574.30v-10.3M1568.09 76.25v9.6" stroke="#1a1a1a" stroke-width="2.1" fill="none"/>
<g font-size="36.3" font-weight="bold" fill="#000">
<g text-anchor="end">
<text x="1045" y="584.5">0.0</text>
<text x="1045" y="534.7">0.1</text>
<text x="1045" y="484.9">0.2</text>
<text x="1045" y="435.1">0.3</text>
<text x="1045" y="385.3">0.4</text>
<text x="1045" y="335.5">0.5</text>
<text x="1045" y="285.7">0.6</text>
<text x="1045" y="235.9">0.7</text>
<text x="1045" y="186.1">0.8</text>
<text x="1045" y="136.3">0.9</text>
<text x="1045" y="86.5">1.0</text>
</g><g text-anchor="middle">
<text x="1054.8" y="613.3">50</text>
<text x="1159.4" y="613.3">100</text>
<text x="1264.0" y="613.3">200</text>
<text x="1368.6" y="613.3">400</text>
<text x="1429.8" y="613.3">600</text>
<text x="1491.0" y="613.3">900</text>
<text x="1568.1" y="613.3">1500</text>
<text x="1671.7" y="613.3">3000</text>
</g></g>
<text x="1363.5" y="669.3" font-size="35.5" text-anchor="middle" fill="#111">Frequency(Hz)</text>
<text transform="translate(985.3 325.4) rotate(-90)" font-size="42.8" text-anchor="middle" fill="#111">Sound Absorption Coefficient</text>
<g font-size="37.2">
<text x="1095.0" y="124.5" fill="#37ad6b">113 Hz</text>
<text x="1058.0" y="160" fill="#1a6fdf">113 Hz</text>
<text x="1205.3" y="118" fill="#f81a1a">153 Hz</text>
<text x="1333.2" y="123.9" fill="#f81a1a">493 Hz</text>
<text x="1511.8" y="233.1" fill="#1a6fdf">673 Hz</text>
<text x="1430.2" y="273.3" fill="#37ad6b">626 Hz</text>
</g>
<path d="M1127.0 162.5L1166.6 202.1" stroke="#1a6fdf" stroke-width="1.6" fill="none"/>
<path d="M1174.0 209.5L1162.8 204.5L1169.0 198.3z" fill="#1a6fdf"/>
<path d="M1169.9 133.9L1173.7 198.0" stroke="#37ad6b" stroke-width="1.6" fill="none"/>
<path d="M1174.3 208.5L1169.2 197.3L1178.0 196.8z" fill="#37ad6b"/>
<path d="M1232.6 120.7L1232.3 177.3" stroke="#f81a1a" stroke-width="1.6" fill="none"/>
<path d="M1232.2 187.8L1227.9 176.3L1236.7 176.3z" fill="#f81a1a"/>
<path d="M1387.0 126.2L1401.1 164.1" stroke="#f81a1a" stroke-width="1.6" fill="none"/>
<path d="M1404.8 173.9L1396.7 164.7L1404.9 161.6z" fill="#f81a1a"/>
<path d="M1514.8 215.5L1462.1 182.6" stroke="#1a6fdf" stroke-width="1.6" fill="none"/>
<path d="M1453.2 177.0L1465.3 179.4L1460.6 186.8z" fill="#1a6fdf"/>
<path d="M1467.0 240.1L1450.1 185.5" stroke="#37ad6b" stroke-width="1.6" fill="none"/>
<path d="M1447.0 175.5L1454.6 185.2L1446.2 187.8z" fill="#37ad6b"/>
<path d="M1534.7 448.7H1611.8" stroke="#f14040" stroke-width="5" stroke-linecap="round" fill="none"/>
<path d="M1572.6 448.7m0.00 -12.20l10.57 6.10l0.00 12.20l-10.57 6.10l-10.57 -6.10l-0.00 -12.20z" fill="#f14040"/>
<text x="1620.5" y="461.3" font-size="36" fill="#111">1</text>
<path d="M1534.7 491.9H1611.8" stroke="#1a6fdf" stroke-width="5" stroke-linecap="round" fill="none"/>
<path d="M1572.6 491.9m0.00 -11.60l2.70 7.88l8.33 0.14l-6.66 5.01l2.44 7.96l-6.82 -4.78l-6.82 4.78l2.44 -7.96l-6.66 -5.01l8.33 -0.14z" fill="#1a6fdf"/>
<text x="1620.5" y="504.5" font-size="36" fill="#111">2</text>
<path d="M1534.7 535.6H1611.8" stroke="#37ad6b" stroke-width="5" stroke-linecap="round" fill="none"/>
<path d="M1572.6 535.6m0.00 -14.40l12.50 21.60l-25.00 0.00z" fill="#37ad6b"/>
<text x="1620.5" y="548.2" font-size="36" fill="#111">3</text>
</g>
</svg>
</body></html>
